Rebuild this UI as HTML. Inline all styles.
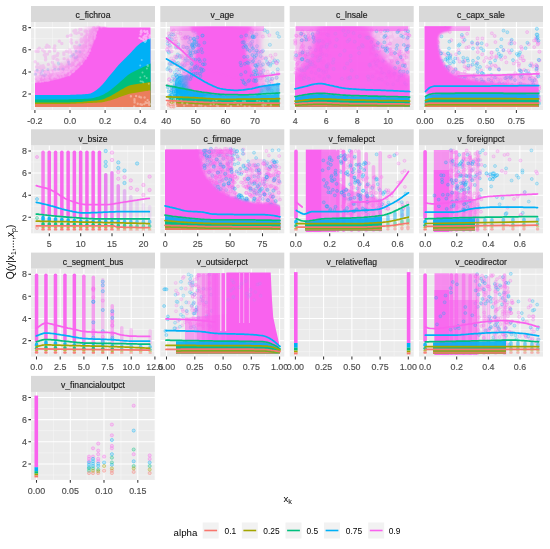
<!DOCTYPE html><html><head><meta charset="utf-8"><style>html,body{margin:0;padding:0;background:#fff;overflow:hidden}svg{display:block}</style></head><body><svg width="550" height="549" viewBox="0 0 550 549">
<style>text{font-family:"Liberation Sans",Arial,sans-serif}.st{font-size:8.6px;fill:#1A1A1A;stroke:#1A1A1A;stroke-width:0.15px;text-anchor:middle}.tx{font-size:8.9px;fill:#4D4D4D;stroke:#4D4D4D;stroke-width:0.15px;text-anchor:middle}.ty{font-size:8.9px;fill:#4D4D4D;stroke:#4D4D4D;stroke-width:0.15px;text-anchor:end}.tt{font-size:9.7px;fill:#000}.lg{font-size:8.4px;fill:#000}</style>
<defs><filter id="f0" x="-5%" y="-5%" width="110%" height="110%"><feGaussianBlur stdDeviation="0.6"/></filter><filter id="f1" x="-20%" y="-20%" width="140%" height="140%"><feGaussianBlur stdDeviation="1"/></filter><filter id="f2" x="-30%" y="-30%" width="160%" height="160%"><feGaussianBlur stdDeviation="2.5"/></filter><filter id="f3" x="-40%" y="-40%" width="180%" height="180%"><feGaussianBlur stdDeviation="4"/></filter></defs>
<rect width="550" height="549" fill="#fff"/>
<clipPath id="c0"><rect x="31" y="22" width="124" height="88"/></clipPath>
<clipPath id="c1"><rect x="160.3" y="22" width="124" height="88"/></clipPath>
<clipPath id="c2"><rect x="289.7" y="22" width="124" height="88"/></clipPath>
<clipPath id="c3"><rect x="419" y="22" width="124" height="88"/></clipPath>
<clipPath id="c4"><rect x="31" y="145.3" width="124" height="88"/></clipPath>
<clipPath id="c5"><rect x="160.3" y="145.3" width="124" height="88"/></clipPath>
<clipPath id="c6"><rect x="289.7" y="145.3" width="124" height="88"/></clipPath>
<clipPath id="c7"><rect x="419" y="145.3" width="124" height="88"/></clipPath>
<clipPath id="c8"><rect x="31" y="268.6" width="124" height="88"/></clipPath>
<clipPath id="c9"><rect x="160.3" y="268.6" width="124" height="88"/></clipPath>
<clipPath id="c10"><rect x="289.7" y="268.6" width="124" height="88"/></clipPath>
<clipPath id="c11"><rect x="419" y="268.6" width="124" height="88"/></clipPath>
<clipPath id="c12"><rect x="31" y="391.9" width="124" height="88"/></clipPath>
<rect x="31" y="22" width="124" height="88" fill="#EBEBEB"/>
<path d="M52.4 22V110M87.5 22V110M122.6 22V110M31 105.1H155M31 82.9H155M31 60.8H155M31 38.7H155" stroke="#F7F7F7" stroke-width="0.55" fill="none"/>
<path d="M34.9 22V110M70 22V110M105.1 22V110M140.2 22V110M31 94H155M31 71.9H155M31 49.7H155M31 27.6H155" stroke="#FFFFFF" stroke-width="1.05" fill="none"/>
<g clip-path="url(#c0)">
<path d="M44.5 71.7h0M85.1 31h0M82.6 46.2h0M87 34.5h0M40.2 72.3h0M38.1 49.4h0M55.1 56.2h0M48.3 76.5h0M47.3 74.1h0M75.7 30.2h0M48.7 46.4h0M71.1 39.7h0M88.2 40h0M77.2 59.4h0M35.4 74.5h0M85.3 36.7h0M47.5 54.1h0M64.1 58.6h0M93.7 27.7h0M71 35.2h0M74.6 46.4h0M85.4 38.6h0M53.8 65h0M69.3 65.1h0M90.5 31h0M66.4 51.3h0M77.3 57.8h0M81.5 34.3h0M68.4 61.7h0M72.9 64.2h0M78.9 32.6h0M45.7 59.3h0M80.9 53.8h0M38.3 67.7h0M49.2 74.5h0M75.4 48.6h0M83.7 39.9h0M56.7 74.7h0M42.4 77.1h0M69.1 52h0M48.6 72.9h0M81.4 41.6h0M77.9 52h0M70.4 52h0M45.5 56.9h0M91.7 31.6h0M47.9 75.7h0M41.1 77.7h0M76.7 60h0M39.3 48.3h0M61.1 64.1h0M65.8 67.1h0M64.5 70.1h0M72.7 63.3h0M44.4 76.7h0M61.8 43.5h0M73.9 31h0M61.1 71.2h0M81.2 52.8h0M52.6 74.1h0M54.8 45.9h0M50.1 77h0M40.2 75.9h0M76.8 48.1h0M57.9 60h0M63.9 54.4h0M47 45.1h0M36.5 67h0M57.9 53.4h0M44.3 51.4h0M35.2 61.7h0M80.7 46.8h0M46.3 73.4h0M64 70.2h0M45.5 54.3h0M70.7 65.3h0M75.7 49.1h0M43.8 67.4h0M73 64.3h0M54.6 50.8h0M72.6 63.7h0M60.6 67.1h0M81 29.5h0M40.7 78.2h0M63.7 71.5h0M45 77.4h0M40.8 66.1h0M41.2 68.4h0M97.8 27h0M84.3 37.9h0M46.1 47.2h0M82.9 47.1h0M92.7 29.5h0M42.5 50h0M53.3 58.4h0M85.7 42.3h0M37.3 78.7h0M67.9 60.1h0M43.1 65.6h0M38.4 71.8h0M68.2 68h0M38.1 51.4h0M36.9 70.5h0M79.8 55.8h0M72.6 63.7h0M99.1 27.5h0M49.5 51.4h0M42.8 75.6h0M54.9 49.5h0M47.5 77.2h0M57.3 55.5h0M75.2 32.7h0M81.3 53.4h0M55.5 74.1h0M52.4 62.2h0M63.8 53h0M36 51.3h0M45.5 59.9h0M89.9 36.3h0M70.3 35.5h0M35.5 71.6h0M62.6 68h0M47.6 76.5h0M52.3 75h0M54.1 48.5h0M36.8 76.9h0M90.7 33.6h0M78 58.3h0M57.9 73.5h0M75.1 58.4h0M85.3 38.4h0M61.2 72.8h0M89.5 37.2h0M67.4 36.3h0M86.4 40.7h0M72.8 54.7h0M81.9 50.5h0M60.8 70.2h0M57.1 55.2h0M75.2 60.5h0M67.4 69.2h0M48.7 77h0M40.2 66.6h0M49.2 46.9h0M56.8 59.5h0M73.7 57.1h0M79.8 29.4h0M80.2 47.4h0M59.3 41.3h0M61.2 72.8h0M69.8 50h0M80.2 54.9h0M86.7 31.3h0M53.1 56.8h0M70.9 41.7h0M37.8 63.9h0M40.9 71.1h0M77.5 46.9h0M69.4 65.2h0M67.9 64.7h0M71.6 43.1h0M79.3 50.7h0M97.8 27.5h0M62.5 66.2h0M81.7 50.8h0M47.9 71.5h0M76.3 52.4h0M48.3 64.4h0M60.3 73.3h0M61.1 72.6h0M76.6 33.3h0M44.3 54.9h0M84.6 46.3h0M65.8 69.6h0M55.1 67h0M60.3 69.1h0M81.2 39.2h0M42.5 68.1h0M85.5 45.9h0M83.6 49.9h0M62.8 67.8h0M36.3 78.7h0M78.6 55.8h0M68.7 68.1h0M75 32.9h0M83.9 45.4h0M53.1 70.8h0M53.9 66.8h0M76.4 42.2h0M81.1 39.6h0M61.8 67h0" stroke="#F962EE" stroke-opacity="0.25" stroke-width="3.4" stroke-linecap="round" fill="none"/><path d="M69.2 64.1h0M35.5 74.2h0M58.5 69.2h0M44.4 75.8h0M37.2 70.2h0M58.7 64.1h0M73.9 54.6h0M70.7 56.3h0M76.1 51.2h0M75.3 57.7h0M79.8 45h0M71.6 56h0M68.6 61.9h0M58.3 62.9h0M47.9 69.5h0M77 56.8h0M42.1 74.3h0M54.9 69.2h0M45.5 74.7h0M41.6 72.5h0M41.4 73.9h0M42.8 70.4h0M62.9 69.1h0M80 52.1h0M75.8 57.8h0" stroke="#00B0F6" stroke-opacity="0.18" stroke-width="3" stroke-linecap="round" fill="none"/><clipPath id="k1"><rect x="35" y="26.5" width="115.5" height="80.5"/></clipPath><g clip-path="url(#k1)"><path d="M38.2 73.1L39.8 72.9L41.2 72.6L42.7 72.3L44.1 72L45.4 71.7L46.8 71.4L48.1 71L49.4 70.7L50.6 70.3L51.9 69.9L53.1 69.5L54.4 69L55.6 68.5L56.9 68L58.1 67.4L59.4 66.8L60.6 66.2L61.8 65.5L63 64.8L64.1 64.1L65.2 63.4L66.2 62.6L67.1 61.8L68.1 60.9L68.9 60.1L69.8 59.2L70.6 58.3L71.5 57.3L72.3 56.4L73.1 55.5L73.9 54.5L74.6 53.5L75.4 52.5L76.1 51.5L76.8 50.5L77.5 49.4L78.2 48.3L78.9 47.3L79.5 46.2L80.2 45.1L80.8 43.9L81.4 42.8L82 41.7L82.6 40.6L83.2 39.4L83.7 38.3L84.2 37.2L84.8 36.1L85.2 34.9L85.7 33.8L86.2 32.8L86.6 31.8L86.9 30.8L87.3 29.8L87.6 28.8L87.9 27.9L88.1 27.1L88.6 26.3L89.2 25.6L90.1 25.1L91.2 24.7L92.4 24.3L93.9 24.1L95.6 24L97.4 24L99.1 25.2L100.5 27.6L101.7 31.1L102.6 35.9L103.3 41.8L103.8 48.9L104 57.2L104 66.8L102.9 75.1L100.7 82.2L97.3 88.1L92.9 92.9L87.4 96.4L80.7 98.8L72.9 100L64.1 100L56.3 99.6L49.6 98.8L44.1 97.6L39.7 95.9L36.3 93.9L34.1 91.5L33 88.6L33 85.4L33.2 82.5L33.6 80L34.1 77.9L34.9 76.1L35.8 74.8L36.9 73.8Z" fill="#F962EE" fill-opacity="0.5" filter="url(#f3)"/></g><clipPath id="k2"><rect x="35" y="26.5" width="115.5" height="80.5"/></clipPath><g clip-path="url(#k2)"><path d="M41 79.1L43 78.9L44.9 78.6L46.8 78.3L48.6 78L50.4 77.7L52.1 77.4L53.7 77L55.2 76.7L56.8 76.3L58.2 75.9L59.6 75.5L61 75L62.3 74.5L63.5 74L64.8 73.4L65.9 72.8L67.1 72.2L68.2 71.5L69.2 70.8L70.2 70.1L71.2 69.4L72.2 68.6L73.2 67.8L74.1 66.9L74.9 66.1L75.8 65.2L76.6 64.3L77.5 63.3L78.3 62.4L79.1 61.5L79.9 60.5L80.6 59.5L81.4 58.5L82.1 57.5L82.8 56.5L83.5 55.4L84.2 54.3L84.9 53.3L85.5 52.2L86.2 51.1L86.8 49.9L87.4 48.8L88 47.6L88.6 46.5L89.2 45.3L89.7 44.1L90.2 42.9L90.8 41.6L91.2 40.4L91.7 39.1L92.2 37.8L92.6 36.4L92.9 35.1L93.3 33.7L93.6 32.2L93.9 30.8L94.1 29.2L94.6 27.9L95.2 26.8L96.1 25.9L97.2 25.1L98.4 24.6L99.9 24.2L101.6 24L103.4 24L105.1 25.2L106.5 27.6L107.7 31.1L108.6 35.9L109.3 41.8L109.8 48.9L110 57.2L110 66.8L108.8 75.1L106.4 82.2L102.9 88.1L98.1 92.9L92.2 96.4L85.1 98.8L76.8 100L67.2 100L58.9 99.7L51.8 99.1L45.9 98.1L41.1 96.9L37.6 95.3L35.2 93.4L34 91.2L34 88.8L34.2 86.5L34.8 84.6L35.5 82.9L36.5 81.6L37.8 80.5L39.2 79.7Z" fill="#F962EE" fill-opacity="0.5" filter="url(#f1)"/></g><path d="M35 83L36.5 82.8L38 82.6L39.5 82.4L41 82.2L42.5 82L44 81.8L45.5 81.6L47 81.4L48.5 81.2L50 81L51.5 80.7L53 80.4L54.5 80.1L56 79.8L57.5 79.5L59 79.2L60.5 78.8L62 78.3L63.5 77.8L65 77.2L66.5 76.7L68 76.2L69.5 75.7L71 74.7L72.5 73.5L74 72.2L75.5 71L77 69.8L78.5 68.4L80 66.7L81.5 64.9L83 63.2L84.5 61.2L86 58.8L87.5 56.4L89 54L90.5 50.6L92 47.2L93.5 43.5L95 39L96.5 34.3L98 29.2L99.5 27.5L101 27.5L102.5 27.5L104 27.5L105.5 27.5L107 27.5L108.5 27.5L110 27.5L111.5 27.5L113 27.5L114.5 27.5L116 27.5L117.5 27.5L119 27.5L120.5 27.5L122 27.5L123.5 27.5L125 27.5L126.5 27.5L128 27.5L129.5 27.5L131 27.5L132.5 27.5L134 27.5L135.5 27.5L137 27.5L138.5 27.5L140 27.5L141.5 27.5L143 27.5L144.5 27.5L146 27.5L147.5 27.5L149 27.5L150.5 27.5L150.5 107L149 107L147.5 107L146 107L144.5 107L143 107L141.5 107L140 107L138.5 107L137 107L135.5 107L134 107L132.5 107L131 107L129.5 107L128 107L126.5 107L125 107L123.5 107L122 107L120.5 107L119 107L117.5 107L116 107L114.5 107L113 107L111.5 107L110 107L108.5 107L107 107L105.5 107L104 107L102.5 107L101 107L99.5 107L98 107L96.5 107L95 107L93.5 107L92 107L90.5 107L89 107L87.5 107L86 107L84.5 107L83 107L81.5 107L80 107L78.5 107L77 107L75.5 107L74 107L72.5 107L71 107L69.5 107L68 107L66.5 107L65 107L63.5 107L62 107L60.5 107L59 107L57.5 107L56 107L54.5 107L53 107L51.5 107L50 107L48.5 107L47 107L45.5 107L44 107L42.5 107L41 107L39.5 107L38 107L36.5 107L35 107Z" fill="#F962EE"/><path d="M73.7 67.2h0M74.9 68.5h0M89.6 47.1h0M73.7 68.2h0M54.5 76.4h0M85.7 52.9h0M103.7 20.9h0M103.4 24.5h0M54.1 71.2h0M64.4 72.2h0M94.9 38h0M43.2 77.7h0M48.8 80.6h0M84.1 56.8h0M66.4 71h0M56.1 76.2h0M58.1 73.6h0M66.6 71.5h0M72.9 68h0M38.1 75.6h0M97.7 29.6h0M86.2 53.3h0M86.1 58.5h0M37.4 77.8h0M73.2 71.9h0M88.6 53.8h0M96.6 26.9h0M84.9 52.8h0M55.1 74.5h0M36.5 76h0M47.5 80.9h0M87.5 55.9h0M79.4 58.7h0M72.3 68.7h0M87.5 49.8h0M69.5 75.2h0M102.9 20.9h0M68 70.2h0M52.3 78.4h0M37.7 79.1h0M74 71.3h0M47.8 77.8h0M35 75.7h0M46.1 73.4h0M74.3 69.2h0M39.9 76.7h0M39.1 79.5h0M103.9 20h0M84 56.8h0M77.7 62.5h0M95.5 36.7h0M96.8 24.5h0M75.2 68.3h0M38.6 79.4h0M37.5 76.6h0M76 64h0M95 36.2h0M86.7 51h0M73.5 72.1h0M94.7 35h0M67.1 68.8h0M43 81.6h0M80.9 59.2h0M71.5 69.2h0M88.3 47.8h0M79.7 60.4h0M70.1 73.9h0M90.2 50.9h0M46.6 76.3h0M60.4 70.9h0M55.7 75.4h0M48 73.7h0M59.9 72.6h0M85.8 55.1h0M42.9 73.3h0M37.5 75.2h0M45.9 77.7h0M65.6 73.2h0M75.6 64.8h0M81.8 64h0M60.6 77.1h0M101.8 22.6h0M103.3 25.6h0M82.3 59.3h0M57.8 77.7h0M76.7 62h0M69.1 71.2h0M100.2 25.2h0M59.3 71.2h0M40.5 81.9h0M80.8 61.4h0M97.6 25.6h0M54.2 74.2h0M65.7 71.4h0M48.6 80.6h0M97.8 22.4h0M45.4 80.7h0M92.1 40.6h0M66 69.3h0M91.4 41.2h0M98.1 21.7h0M35.1 77.2h0M41.5 74.1h0M91.8 42.2h0M65.2 71h0M55.5 73.7h0M101.4 27.2h0M61.9 71.1h0M47.4 78.2h0M91.4 43.5h0M53.1 76.8h0M60.2 74.4h0M103.5 25.3h0M57.3 71.5h0M68.6 70.2h0M94.9 38.5h0M47.2 80.1h0M47.2 80.8h0M51.3 72.5h0M97.1 26.2h0M70.6 68.3h0M101 25h0M85.4 58.6h0M61.3 73.8h0M78.3 66.8h0M63.4 76.3h0M60 71.8h0M51.6 77.7h0M76.5 68.5h0M95.8 33.5h0M55.8 77h0M66.3 72.7h0M62.9 74.2h0M48.4 80.6h0M94.7 32.4h0M86.3 53.9h0M101.5 26.3h0M38.5 74.2h0M72.5 68.6h0M70.6 68.5h0" stroke="#ffffff" stroke-opacity="0.18" stroke-width="2.4" stroke-linecap="round" fill="none"/><path d="M35 95L36.5 95L38 95L39.5 95L41 95L42.5 95L44 95L45.5 95L47 95L48.5 95L50 95L51.5 95L53 95L54.5 95L56 95L57.5 95L59 95L60.5 95L62 95L63.5 95L65 95L66.5 94.9L68 94.9L69.5 94.9L71 94.8L72.5 94.8L74 94.7L75.5 94.7L77 94.6L78.5 94.6L80 94.5L81.5 94.4L83 94.3L84.5 94.2L86 94.1L87.5 93.9L89 93.7L90.5 93.4L92 92.8L93.5 92.1L95 91.1L96.5 89.9L98 88.7L99.5 87.4L101 86.1L102.5 84.5L104 82.8L105.5 80.9L107 79L108.5 77.1L110 75.3L111.5 73.5L113 71.7L114.5 69.9L116 68.1L117.5 66.3L119 64.6L120.5 63L122 61.4L123.5 59.9L125 58.4L126.5 56.9L128 55.5L129.5 54L131 52.5L132.5 50.8L134 49.2L135.5 47.6L137 46.1L138.5 44.7L140 43.5L141.5 42.5L143 41.7L144.5 40.9L146 40.2L147.5 39.5L149 38.8L150.5 38L150.5 107L149 107L147.5 107L146 107L144.5 107L143 107L141.5 107L140 107L138.5 107L137 107L135.5 107L134 107L132.5 107L131 107L129.5 107L128 107L126.5 107L125 107L123.5 107L122 107L120.5 107L119 107L117.5 107L116 107L114.5 107L113 107L111.5 107L110 107L108.5 107L107 107L105.5 107L104 107L102.5 107L101 107L99.5 107L98 107L96.5 107L95 107L93.5 107L92 107L90.5 107L89 107L87.5 107L86 107L84.5 107L83 107L81.5 107L80 107L78.5 107L77 107L75.5 107L74 107L72.5 107L71 107L69.5 107L68 107L66.5 107L65 107L63.5 107L62 107L60.5 107L59 107L57.5 107L56 107L54.5 107L53 107L51.5 107L50 107L48.5 107L47 107L45.5 107L44 107L42.5 107L41 107L39.5 107L38 107L36.5 107L35 107Z" fill="#00B0F6"/><path d="M35 99.6L36.5 99.6L38 99.6L39.5 99.6L41 99.6L42.5 99.6L44 99.6L45.5 99.6L47 99.6L48.5 99.6L50 99.6L51.5 99.5L53 99.5L54.5 99.5L56 99.5L57.5 99.5L59 99.5L60.5 99.5L62 99.5L63.5 99.5L65 99.4L66.5 99.4L68 99.4L69.5 99.3L71 99.3L72.5 99.2L74 99.2L75.5 99.2L77 99.1L78.5 99.1L80 99L81.5 98.9L83 98.9L84.5 98.8L86 98.8L87.5 98.7L89 98.6L90.5 98.4L92 98.2L93.5 97.9L95 97.6L96.5 97.1L98 96.7L99.5 96.2L101 95.6L102.5 94.9L104 94.2L105.5 93.3L107 92.4L108.5 91.4L110 90.4L111.5 89.3L113 88.1L114.5 86.8L116 85.5L117.5 84.2L119 82.9L120.5 81.6L122 80.2L123.5 78.9L125 77.5L126.5 76.2L128 75L129.5 73.9L131 73L132.5 72.2L134 71.4L135.5 70.7L137 70L138.5 69.3L140 68.6L141.5 67.9L143 67.1L144.5 66.4L146 65.7L147.5 65L149 64.2L150.5 63.5L150.5 107L149 107L147.5 107L146 107L144.5 107L143 107L141.5 107L140 107L138.5 107L137 107L135.5 107L134 107L132.5 107L131 107L129.5 107L128 107L126.5 107L125 107L123.5 107L122 107L120.5 107L119 107L117.5 107L116 107L114.5 107L113 107L111.5 107L110 107L108.5 107L107 107L105.5 107L104 107L102.5 107L101 107L99.5 107L98 107L96.5 107L95 107L93.5 107L92 107L90.5 107L89 107L87.5 107L86 107L84.5 107L83 107L81.5 107L80 107L78.5 107L77 107L75.5 107L74 107L72.5 107L71 107L69.5 107L68 107L66.5 107L65 107L63.5 107L62 107L60.5 107L59 107L57.5 107L56 107L54.5 107L53 107L51.5 107L50 107L48.5 107L47 107L45.5 107L44 107L42.5 107L41 107L39.5 107L38 107L36.5 107L35 107Z" fill="#00BF7D"/><path d="M35 102.5L36.5 102.5L38 102.5L39.5 102.5L41 102.5L42.5 102.5L44 102.5L45.5 102.5L47 102.5L48.5 102.5L50 102.5L51.5 102.5L53 102.5L54.5 102.5L56 102.5L57.5 102.5L59 102.5L60.5 102.5L62 102.5L63.5 102.5L65 102.5L66.5 102.4L68 102.4L69.5 102.4L71 102.3L72.5 102.3L74 102.2L75.5 102.2L77 102.1L78.5 102.1L80 102L81.5 101.9L83 101.8L84.5 101.6L86 101.5L87.5 101.3L89 101.1L90.5 101L92 100.8L93.5 100.7L95 100.6L96.5 100.4L98 100.3L99.5 100.1L101 99.8L102.5 99.4L104 98.9L105.5 98.3L107 97.6L108.5 96.9L110 96.2L111.5 95.4L113 94.6L114.5 93.7L116 92.8L117.5 91.9L119 91L120.5 90.1L122 89.3L123.5 88.4L125 87.5L126.5 86.7L128 86L129.5 85.5L131 85.1L132.5 84.8L134 84.5L135.5 84.3L137 84L138.5 83.8L140 83.6L141.5 83.4L143 83.1L144.5 82.9L146 82.7L147.5 82.5L149 82.2L150.5 82L150.5 107L149 107L147.5 107L146 107L144.5 107L143 107L141.5 107L140 107L138.5 107L137 107L135.5 107L134 107L132.5 107L131 107L129.5 107L128 107L126.5 107L125 107L123.5 107L122 107L120.5 107L119 107L117.5 107L116 107L114.5 107L113 107L111.5 107L110 107L108.5 107L107 107L105.5 107L104 107L102.5 107L101 107L99.5 107L98 107L96.5 107L95 107L93.5 107L92 107L90.5 107L89 107L87.5 107L86 107L84.5 107L83 107L81.5 107L80 107L78.5 107L77 107L75.5 107L74 107L72.5 107L71 107L69.5 107L68 107L66.5 107L65 107L63.5 107L62 107L60.5 107L59 107L57.5 107L56 107L54.5 107L53 107L51.5 107L50 107L48.5 107L47 107L45.5 107L44 107L42.5 107L41 107L39.5 107L38 107L36.5 107L35 107Z" fill="#A3A500"/><path d="M35 104L36.5 104L38 104L39.5 104L41 104L42.5 104L44 104L45.5 104L47 104L48.5 104L50 104L51.5 104L53 104L54.5 104L56 104L57.5 104L59 104L60.5 104L62 104L63.5 104L65 104L66.5 103.9L68 103.9L69.5 103.9L71 103.8L72.5 103.8L74 103.7L75.5 103.7L77 103.6L78.5 103.6L80 103.5L81.5 103.4L83 103.4L84.5 103.3L86 103.2L87.5 103.1L89 103.1L90.5 103L92 102.9L93.5 102.8L95 102.8L96.5 102.7L98 102.6L99.5 102.5L101 102.4L102.5 102.2L104 101.9L105.5 101.6L107 101.2L108.5 100.8L110 100.4L111.5 100L113 99.5L114.5 99L116 98.4L117.5 97.9L119 97.3L120.5 96.8L122 96.3L123.5 95.8L125 95.2L126.5 94.7L128 94.2L129.5 93.8L131 93.5L132.5 93.2L134 92.9L135.5 92.7L137 92.5L138.5 92.2L140 92L141.5 91.8L143 91.5L144.5 91.3L146 91.1L147.5 90.9L149 90.6L150.5 90.4L150.5 107L149 107L147.5 107L146 107L144.5 107L143 107L141.5 107L140 107L138.5 107L137 107L135.5 107L134 107L132.5 107L131 107L129.5 107L128 107L126.5 107L125 107L123.5 107L122 107L120.5 107L119 107L117.5 107L116 107L114.5 107L113 107L111.5 107L110 107L108.5 107L107 107L105.5 107L104 107L102.5 107L101 107L99.5 107L98 107L96.5 107L95 107L93.5 107L92 107L90.5 107L89 107L87.5 107L86 107L84.5 107L83 107L81.5 107L80 107L78.5 107L77 107L75.5 107L74 107L72.5 107L71 107L69.5 107L68 107L66.5 107L65 107L63.5 107L62 107L60.5 107L59 107L57.5 107L56 107L54.5 107L53 107L51.5 107L50 107L48.5 107L47 107L45.5 107L44 107L42.5 107L41 107L39.5 107L38 107L36.5 107L35 107Z" fill="#F8766D" fill-opacity="0.85"/><path d="M146 39.4h0M144.2 40.9h0M146 40.6h0M147.3 31.5h0M143.3 39.7h0M146.6 35.5h0M145.1 41.7h0M140.6 34.4h0M141.6 32.3h0M145.2 37.7h0M149.8 35.4h0M140.8 31.7h0M145.2 31.9h0M139.6 37.9h0M147.7 33.4h0M141.3 30.8h0M149.6 38.2h0M144.3 31h0M149.4 36.3h0M146.5 38.2h0M144.7 35.6h0M147.2 31.1h0M141.3 38.9h0M143.5 37.2h0M144.8 31.5h0" stroke="#ffffff" stroke-opacity="0.45" stroke-width="2.4" stroke-linecap="round" fill="none"/><path d="M141.7 60.1h0M146.7 78h0M140.2 65.4h0M143.3 82.2h0M147.4 65.2h0M144.6 76.3h0M147.9 65.2h0M142.1 81.5h0M146.9 68.5h0M142.5 72.5h0M140.3 77.5h0M147.9 66h0M148.8 83.7h0M140.5 81.2h0" stroke="#ffffff" stroke-opacity="0.35" stroke-width="2" stroke-linecap="round" fill="none"/><path d="M145.6 102.1h0M134.5 100.8h0M149 102.3h0M149.2 104.8h0M142 104.8h0M139.4 96.7h0M141 97.4h0M136.1 96h0M140.5 104.3h0M150 104.1h0M144.3 104.1h0M134.6 102.4h0M148.2 102.9h0M137.7 103.8h0M147.6 100.1h0M134.5 99.2h0M144.6 97.5h0M134.2 106.5h0M130.9 96.2h0M146.1 102.9h0" stroke="#ffffff" stroke-opacity="0.35" stroke-width="2.4" stroke-linecap="round" fill="none"/>
</g>
<rect x="31" y="6" width="124" height="16" fill="#D9D9D9"/>
<text x="93" y="18.3" class="st">c_fichroa</text>
<text x="34.9" y="123.6" class="tx">-0.2</text>
<text x="70" y="123.6" class="tx">0.0</text>
<text x="105.1" y="123.6" class="tx">0.2</text>
<text x="140.2" y="123.6" class="tx">0.4</text>
<text x="27" y="97.2" class="ty">2</text>
<text x="27" y="75.1" class="ty">4</text>
<text x="27" y="52.9" class="ty">6</text>
<text x="27" y="30.8" class="ty">8</text>
<path d="M34.9 110v2.9M70 110v2.9M105.1 110v2.9M140.2 110v2.9M28.4 94h2.6M28.4 71.9h2.6M28.4 49.7h2.6M28.4 27.6h2.6" stroke="#333333" stroke-width="1.05" fill="none"/>
<rect x="160.3" y="22" width="124" height="88" fill="#EBEBEB"/>
<path d="M181 22V110M210.6 22V110M240.2 22V110M269.8 22V110M160.3 105.1H284.3M160.3 82.9H284.3M160.3 60.8H284.3M160.3 38.7H284.3" stroke="#F7F7F7" stroke-width="0.55" fill="none"/>
<path d="M166.2 22V110M195.8 22V110M225.4 22V110M255 22V110M160.3 94H284.3M160.3 71.9H284.3M160.3 49.7H284.3M160.3 27.6H284.3" stroke="#FFFFFF" stroke-width="1.05" fill="none"/>
<g clip-path="url(#c1)">
<path d="M187.5 42.1a1.6 1.6 0 1 0 3.2 0a1.6 1.6 0 1 0 -3.2 0M200.5 59a1.6 1.6 0 1 0 3.2 0a1.6 1.6 0 1 0 -3.2 0M191.7 43.2a1.6 1.6 0 1 0 3.2 0a1.6 1.6 0 1 0 -3.2 0M169.6 81.1a1.6 1.6 0 1 0 3.2 0a1.6 1.6 0 1 0 -3.2 0M192.2 30.6a1.6 1.6 0 1 0 3.2 0a1.6 1.6 0 1 0 -3.2 0M167.9 39.3a1.6 1.6 0 1 0 3.2 0a1.6 1.6 0 1 0 -3.2 0M193.1 52.5a1.6 1.6 0 1 0 3.2 0a1.6 1.6 0 1 0 -3.2 0M183.5 60.9a1.6 1.6 0 1 0 3.2 0a1.6 1.6 0 1 0 -3.2 0M177.2 83.9a1.6 1.6 0 1 0 3.2 0a1.6 1.6 0 1 0 -3.2 0M166.6 51.4a1.6 1.6 0 1 0 3.2 0a1.6 1.6 0 1 0 -3.2 0M192.2 78a1.6 1.6 0 1 0 3.2 0a1.6 1.6 0 1 0 -3.2 0M195.5 75.8a1.6 1.6 0 1 0 3.2 0a1.6 1.6 0 1 0 -3.2 0M168 64a1.6 1.6 0 1 0 3.2 0a1.6 1.6 0 1 0 -3.2 0M196.7 35.6a1.6 1.6 0 1 0 3.2 0a1.6 1.6 0 1 0 -3.2 0M169 70.5a1.6 1.6 0 1 0 3.2 0a1.6 1.6 0 1 0 -3.2 0M165.9 69.2a1.6 1.6 0 1 0 3.2 0a1.6 1.6 0 1 0 -3.2 0M182.8 65.3a1.6 1.6 0 1 0 3.2 0a1.6 1.6 0 1 0 -3.2 0M174.5 46.9a1.6 1.6 0 1 0 3.2 0a1.6 1.6 0 1 0 -3.2 0M201 47.9a1.6 1.6 0 1 0 3.2 0a1.6 1.6 0 1 0 -3.2 0M182.4 71.2a1.6 1.6 0 1 0 3.2 0a1.6 1.6 0 1 0 -3.2 0M191.5 52.6a1.6 1.6 0 1 0 3.2 0a1.6 1.6 0 1 0 -3.2 0M177.5 71.9a1.6 1.6 0 1 0 3.2 0a1.6 1.6 0 1 0 -3.2 0M190.7 46.7a1.6 1.6 0 1 0 3.2 0a1.6 1.6 0 1 0 -3.2 0M188.8 38.9a1.6 1.6 0 1 0 3.2 0a1.6 1.6 0 1 0 -3.2 0M198 33.8a1.6 1.6 0 1 0 3.2 0a1.6 1.6 0 1 0 -3.2 0M175.5 69.6a1.6 1.6 0 1 0 3.2 0a1.6 1.6 0 1 0 -3.2 0M193.1 39.1a1.6 1.6 0 1 0 3.2 0a1.6 1.6 0 1 0 -3.2 0M193.1 66.4a1.6 1.6 0 1 0 3.2 0a1.6 1.6 0 1 0 -3.2 0M172.6 62a1.6 1.6 0 1 0 3.2 0a1.6 1.6 0 1 0 -3.2 0M200.8 86a1.6 1.6 0 1 0 3.2 0a1.6 1.6 0 1 0 -3.2 0M167 67.9a1.6 1.6 0 1 0 3.2 0a1.6 1.6 0 1 0 -3.2 0M203.1 67.4a1.6 1.6 0 1 0 3.2 0a1.6 1.6 0 1 0 -3.2 0M176.4 62.9a1.6 1.6 0 1 0 3.2 0a1.6 1.6 0 1 0 -3.2 0M176.7 44.6a1.6 1.6 0 1 0 3.2 0a1.6 1.6 0 1 0 -3.2 0M197.8 87a1.6 1.6 0 1 0 3.2 0a1.6 1.6 0 1 0 -3.2 0M182.1 87.4a1.6 1.6 0 1 0 3.2 0a1.6 1.6 0 1 0 -3.2 0M187.9 71.1a1.6 1.6 0 1 0 3.2 0a1.6 1.6 0 1 0 -3.2 0M191.3 52.9a1.6 1.6 0 1 0 3.2 0a1.6 1.6 0 1 0 -3.2 0M201.1 68.3a1.6 1.6 0 1 0 3.2 0a1.6 1.6 0 1 0 -3.2 0M197.7 33.4a1.6 1.6 0 1 0 3.2 0a1.6 1.6 0 1 0 -3.2 0M197.9 32.8a1.6 1.6 0 1 0 3.2 0a1.6 1.6 0 1 0 -3.2 0M170.2 91.1a1.6 1.6 0 1 0 3.2 0a1.6 1.6 0 1 0 -3.2 0M200.2 41.6a1.6 1.6 0 1 0 3.2 0a1.6 1.6 0 1 0 -3.2 0M202.3 75.2a1.6 1.6 0 1 0 3.2 0a1.6 1.6 0 1 0 -3.2 0M176.2 54.6a1.6 1.6 0 1 0 3.2 0a1.6 1.6 0 1 0 -3.2 0M185 60.3a1.6 1.6 0 1 0 3.2 0a1.6 1.6 0 1 0 -3.2 0M191.9 47.7a1.6 1.6 0 1 0 3.2 0a1.6 1.6 0 1 0 -3.2 0M189.1 38.5a1.6 1.6 0 1 0 3.2 0a1.6 1.6 0 1 0 -3.2 0M167.8 36.3a1.6 1.6 0 1 0 3.2 0a1.6 1.6 0 1 0 -3.2 0M169.1 63.6a1.6 1.6 0 1 0 3.2 0a1.6 1.6 0 1 0 -3.2 0M182.6 80.5a1.6 1.6 0 1 0 3.2 0a1.6 1.6 0 1 0 -3.2 0M171.7 34.7a1.6 1.6 0 1 0 3.2 0a1.6 1.6 0 1 0 -3.2 0M198.3 82.9a1.6 1.6 0 1 0 3.2 0a1.6 1.6 0 1 0 -3.2 0M184.8 89.4a1.6 1.6 0 1 0 3.2 0a1.6 1.6 0 1 0 -3.2 0M186.8 47.8a1.6 1.6 0 1 0 3.2 0a1.6 1.6 0 1 0 -3.2 0M198.8 90.8a1.6 1.6 0 1 0 3.2 0a1.6 1.6 0 1 0 -3.2 0M195.5 40.6a1.6 1.6 0 1 0 3.2 0a1.6 1.6 0 1 0 -3.2 0M168.2 45.6a1.6 1.6 0 1 0 3.2 0a1.6 1.6 0 1 0 -3.2 0M198.2 49.9a1.6 1.6 0 1 0 3.2 0a1.6 1.6 0 1 0 -3.2 0M187.5 51.7a1.6 1.6 0 1 0 3.2 0a1.6 1.6 0 1 0 -3.2 0M191.8 49.8a1.6 1.6 0 1 0 3.2 0a1.6 1.6 0 1 0 -3.2 0M176.6 47.7a1.6 1.6 0 1 0 3.2 0a1.6 1.6 0 1 0 -3.2 0M202.5 39.8a1.6 1.6 0 1 0 3.2 0a1.6 1.6 0 1 0 -3.2 0M182 85a1.6 1.6 0 1 0 3.2 0a1.6 1.6 0 1 0 -3.2 0M174.9 57.6a1.6 1.6 0 1 0 3.2 0a1.6 1.6 0 1 0 -3.2 0M191.3 84.1a1.6 1.6 0 1 0 3.2 0a1.6 1.6 0 1 0 -3.2 0M188 55.2a1.6 1.6 0 1 0 3.2 0a1.6 1.6 0 1 0 -3.2 0M188.8 68.1a1.6 1.6 0 1 0 3.2 0a1.6 1.6 0 1 0 -3.2 0M173.2 85.5a1.6 1.6 0 1 0 3.2 0a1.6 1.6 0 1 0 -3.2 0M167.4 52.6a1.6 1.6 0 1 0 3.2 0a1.6 1.6 0 1 0 -3.2 0M173 83.9a1.6 1.6 0 1 0 3.2 0a1.6 1.6 0 1 0 -3.2 0M189.7 60.2a1.6 1.6 0 1 0 3.2 0a1.6 1.6 0 1 0 -3.2 0M179.3 65.4a1.6 1.6 0 1 0 3.2 0a1.6 1.6 0 1 0 -3.2 0M197.4 42.6a1.6 1.6 0 1 0 3.2 0a1.6 1.6 0 1 0 -3.2 0M185 47.7a1.6 1.6 0 1 0 3.2 0a1.6 1.6 0 1 0 -3.2 0M171.9 90.4a1.6 1.6 0 1 0 3.2 0a1.6 1.6 0 1 0 -3.2 0M166.1 43.7a1.6 1.6 0 1 0 3.2 0a1.6 1.6 0 1 0 -3.2 0M185.5 47.8a1.6 1.6 0 1 0 3.2 0a1.6 1.6 0 1 0 -3.2 0M196.7 53.7a1.6 1.6 0 1 0 3.2 0a1.6 1.6 0 1 0 -3.2 0M178.2 55.8a1.6 1.6 0 1 0 3.2 0a1.6 1.6 0 1 0 -3.2 0M175.2 63.9a1.6 1.6 0 1 0 3.2 0a1.6 1.6 0 1 0 -3.2 0M193.9 80.6a1.6 1.6 0 1 0 3.2 0a1.6 1.6 0 1 0 -3.2 0M183 85.1a1.6 1.6 0 1 0 3.2 0a1.6 1.6 0 1 0 -3.2 0M178.2 90.8a1.6 1.6 0 1 0 3.2 0a1.6 1.6 0 1 0 -3.2 0M171.4 76.6a1.6 1.6 0 1 0 3.2 0a1.6 1.6 0 1 0 -3.2 0M166.6 40.5a1.6 1.6 0 1 0 3.2 0a1.6 1.6 0 1 0 -3.2 0M192.9 87.7a1.6 1.6 0 1 0 3.2 0a1.6 1.6 0 1 0 -3.2 0M196.6 68a1.6 1.6 0 1 0 3.2 0a1.6 1.6 0 1 0 -3.2 0M190.8 82.8a1.6 1.6 0 1 0 3.2 0a1.6 1.6 0 1 0 -3.2 0M200.2 74.9a1.6 1.6 0 1 0 3.2 0a1.6 1.6 0 1 0 -3.2 0M183.7 37.6a1.6 1.6 0 1 0 3.2 0a1.6 1.6 0 1 0 -3.2 0M186.6 37a1.6 1.6 0 1 0 3.2 0a1.6 1.6 0 1 0 -3.2 0M198.4 82.8a1.6 1.6 0 1 0 3.2 0a1.6 1.6 0 1 0 -3.2 0M195.2 83.3a1.6 1.6 0 1 0 3.2 0a1.6 1.6 0 1 0 -3.2 0M188.2 79.5a1.6 1.6 0 1 0 3.2 0a1.6 1.6 0 1 0 -3.2 0M170 34.2a1.6 1.6 0 1 0 3.2 0a1.6 1.6 0 1 0 -3.2 0M202.3 74.4a1.6 1.6 0 1 0 3.2 0a1.6 1.6 0 1 0 -3.2 0M182 46.9a1.6 1.6 0 1 0 3.2 0a1.6 1.6 0 1 0 -3.2 0M178.4 57.3a1.6 1.6 0 1 0 3.2 0a1.6 1.6 0 1 0 -3.2 0M189.2 56.4a1.6 1.6 0 1 0 3.2 0a1.6 1.6 0 1 0 -3.2 0M190.6 63.9a1.6 1.6 0 1 0 3.2 0a1.6 1.6 0 1 0 -3.2 0M173.2 72.5a1.6 1.6 0 1 0 3.2 0a1.6 1.6 0 1 0 -3.2 0M180.9 66.9a1.6 1.6 0 1 0 3.2 0a1.6 1.6 0 1 0 -3.2 0M187.8 60.6a1.6 1.6 0 1 0 3.2 0a1.6 1.6 0 1 0 -3.2 0M194.6 32.2a1.6 1.6 0 1 0 3.2 0a1.6 1.6 0 1 0 -3.2 0M192.4 45.5a1.6 1.6 0 1 0 3.2 0a1.6 1.6 0 1 0 -3.2 0M190.7 63.3a1.6 1.6 0 1 0 3.2 0a1.6 1.6 0 1 0 -3.2 0M191.4 78.4a1.6 1.6 0 1 0 3.2 0a1.6 1.6 0 1 0 -3.2 0M170.5 64.2a1.6 1.6 0 1 0 3.2 0a1.6 1.6 0 1 0 -3.2 0M184 58.8a1.6 1.6 0 1 0 3.2 0a1.6 1.6 0 1 0 -3.2 0M187.4 55.3a1.6 1.6 0 1 0 3.2 0a1.6 1.6 0 1 0 -3.2 0M201.6 40.9a1.6 1.6 0 1 0 3.2 0a1.6 1.6 0 1 0 -3.2 0M191 45.2a1.6 1.6 0 1 0 3.2 0a1.6 1.6 0 1 0 -3.2 0M198.3 61.5a1.6 1.6 0 1 0 3.2 0a1.6 1.6 0 1 0 -3.2 0M201.3 52.9a1.6 1.6 0 1 0 3.2 0a1.6 1.6 0 1 0 -3.2 0M187.4 74.5a1.6 1.6 0 1 0 3.2 0a1.6 1.6 0 1 0 -3.2 0M170.4 87a1.6 1.6 0 1 0 3.2 0a1.6 1.6 0 1 0 -3.2 0M170 39.4a1.6 1.6 0 1 0 3.2 0a1.6 1.6 0 1 0 -3.2 0M186.7 87.5a1.6 1.6 0 1 0 3.2 0a1.6 1.6 0 1 0 -3.2 0M186.3 56a1.6 1.6 0 1 0 3.2 0a1.6 1.6 0 1 0 -3.2 0M179.6 68.3a1.6 1.6 0 1 0 3.2 0a1.6 1.6 0 1 0 -3.2 0M236.9 52.7a1.6 1.6 0 1 0 3.2 0a1.6 1.6 0 1 0 -3.2 0M248.1 61.5a1.6 1.6 0 1 0 3.2 0a1.6 1.6 0 1 0 -3.2 0M242.9 30.5a1.6 1.6 0 1 0 3.2 0a1.6 1.6 0 1 0 -3.2 0M236.9 69.1a1.6 1.6 0 1 0 3.2 0a1.6 1.6 0 1 0 -3.2 0M245.2 66.5a1.6 1.6 0 1 0 3.2 0a1.6 1.6 0 1 0 -3.2 0M270.1 90.8a1.6 1.6 0 1 0 3.2 0a1.6 1.6 0 1 0 -3.2 0M255 72.9a1.6 1.6 0 1 0 3.2 0a1.6 1.6 0 1 0 -3.2 0M276.2 61.1a1.6 1.6 0 1 0 3.2 0a1.6 1.6 0 1 0 -3.2 0M254 52.8a1.6 1.6 0 1 0 3.2 0a1.6 1.6 0 1 0 -3.2 0M247.2 81.9a1.6 1.6 0 1 0 3.2 0a1.6 1.6 0 1 0 -3.2 0M255.3 46.2a1.6 1.6 0 1 0 3.2 0a1.6 1.6 0 1 0 -3.2 0M234.8 52.8a1.6 1.6 0 1 0 3.2 0a1.6 1.6 0 1 0 -3.2 0M261.3 50.8a1.6 1.6 0 1 0 3.2 0a1.6 1.6 0 1 0 -3.2 0M235.6 44.1a1.6 1.6 0 1 0 3.2 0a1.6 1.6 0 1 0 -3.2 0M249 43.2a1.6 1.6 0 1 0 3.2 0a1.6 1.6 0 1 0 -3.2 0M273.2 60.5a1.6 1.6 0 1 0 3.2 0a1.6 1.6 0 1 0 -3.2 0M254.9 79.2a1.6 1.6 0 1 0 3.2 0a1.6 1.6 0 1 0 -3.2 0M250.7 62.3a1.6 1.6 0 1 0 3.2 0a1.6 1.6 0 1 0 -3.2 0M241.8 73.3a1.6 1.6 0 1 0 3.2 0a1.6 1.6 0 1 0 -3.2 0M249.9 32.6a1.6 1.6 0 1 0 3.2 0a1.6 1.6 0 1 0 -3.2 0M238.9 54a1.6 1.6 0 1 0 3.2 0a1.6 1.6 0 1 0 -3.2 0M265.9 31.9a1.6 1.6 0 1 0 3.2 0a1.6 1.6 0 1 0 -3.2 0M267.6 83.2a1.6 1.6 0 1 0 3.2 0a1.6 1.6 0 1 0 -3.2 0M258.1 74.5a1.6 1.6 0 1 0 3.2 0a1.6 1.6 0 1 0 -3.2 0M242.2 44.9a1.6 1.6 0 1 0 3.2 0a1.6 1.6 0 1 0 -3.2 0M265.3 76.8a1.6 1.6 0 1 0 3.2 0a1.6 1.6 0 1 0 -3.2 0M276.2 69.3a1.6 1.6 0 1 0 3.2 0a1.6 1.6 0 1 0 -3.2 0M245 47.9a1.6 1.6 0 1 0 3.2 0a1.6 1.6 0 1 0 -3.2 0M277.4 36.7a1.6 1.6 0 1 0 3.2 0a1.6 1.6 0 1 0 -3.2 0M261.8 70.7a1.6 1.6 0 1 0 3.2 0a1.6 1.6 0 1 0 -3.2 0M259.7 51.8a1.6 1.6 0 1 0 3.2 0a1.6 1.6 0 1 0 -3.2 0M261.3 64.4a1.6 1.6 0 1 0 3.2 0a1.6 1.6 0 1 0 -3.2 0M244.2 49.9a1.6 1.6 0 1 0 3.2 0a1.6 1.6 0 1 0 -3.2 0M264.2 58.8a1.6 1.6 0 1 0 3.2 0a1.6 1.6 0 1 0 -3.2 0M250 45.4a1.6 1.6 0 1 0 3.2 0a1.6 1.6 0 1 0 -3.2 0M242.3 62.5a1.6 1.6 0 1 0 3.2 0a1.6 1.6 0 1 0 -3.2 0M275.1 77.6a1.6 1.6 0 1 0 3.2 0a1.6 1.6 0 1 0 -3.2 0M245.4 44.9a1.6 1.6 0 1 0 3.2 0a1.6 1.6 0 1 0 -3.2 0M265.2 80.5a1.6 1.6 0 1 0 3.2 0a1.6 1.6 0 1 0 -3.2 0M257.7 61.8a1.6 1.6 0 1 0 3.2 0a1.6 1.6 0 1 0 -3.2 0M238.4 57.3a1.6 1.6 0 1 0 3.2 0a1.6 1.6 0 1 0 -3.2 0M265.5 62.2a1.6 1.6 0 1 0 3.2 0a1.6 1.6 0 1 0 -3.2 0M249.7 46.7a1.6 1.6 0 1 0 3.2 0a1.6 1.6 0 1 0 -3.2 0M268.2 79.1a1.6 1.6 0 1 0 3.2 0a1.6 1.6 0 1 0 -3.2 0M268.5 65.6a1.6 1.6 0 1 0 3.2 0a1.6 1.6 0 1 0 -3.2 0M253 36.9a1.6 1.6 0 1 0 3.2 0a1.6 1.6 0 1 0 -3.2 0M271.4 73.2a1.6 1.6 0 1 0 3.2 0a1.6 1.6 0 1 0 -3.2 0M259.2 72.6a1.6 1.6 0 1 0 3.2 0a1.6 1.6 0 1 0 -3.2 0M254.7 34.5a1.6 1.6 0 1 0 3.2 0a1.6 1.6 0 1 0 -3.2 0M260.5 74.6a1.6 1.6 0 1 0 3.2 0a1.6 1.6 0 1 0 -3.2 0M263.5 86.5a1.6 1.6 0 1 0 3.2 0a1.6 1.6 0 1 0 -3.2 0M235.4 67.2a1.6 1.6 0 1 0 3.2 0a1.6 1.6 0 1 0 -3.2 0M259.8 90.8a1.6 1.6 0 1 0 3.2 0a1.6 1.6 0 1 0 -3.2 0M251.9 49.9a1.6 1.6 0 1 0 3.2 0a1.6 1.6 0 1 0 -3.2 0M268.8 64a1.6 1.6 0 1 0 3.2 0a1.6 1.6 0 1 0 -3.2 0M234.5 74.9a1.6 1.6 0 1 0 3.2 0a1.6 1.6 0 1 0 -3.2 0M275.8 33.2a1.6 1.6 0 1 0 3.2 0a1.6 1.6 0 1 0 -3.2 0M236 90a1.6 1.6 0 1 0 3.2 0a1.6 1.6 0 1 0 -3.2 0M267 63.9a1.6 1.6 0 1 0 3.2 0a1.6 1.6 0 1 0 -3.2 0M259 56a1.6 1.6 0 1 0 3.2 0a1.6 1.6 0 1 0 -3.2 0M246.9 61.1a1.6 1.6 0 1 0 3.2 0a1.6 1.6 0 1 0 -3.2 0M250.6 41.7a1.6 1.6 0 1 0 3.2 0a1.6 1.6 0 1 0 -3.2 0M268.3 44.8a1.6 1.6 0 1 0 3.2 0a1.6 1.6 0 1 0 -3.2 0M242.2 84.6a1.6 1.6 0 1 0 3.2 0a1.6 1.6 0 1 0 -3.2 0M251.8 84.7a1.6 1.6 0 1 0 3.2 0a1.6 1.6 0 1 0 -3.2 0M248 37.2a1.6 1.6 0 1 0 3.2 0a1.6 1.6 0 1 0 -3.2 0M251.9 91a1.6 1.6 0 1 0 3.2 0a1.6 1.6 0 1 0 -3.2 0M244.9 72.7a1.6 1.6 0 1 0 3.2 0a1.6 1.6 0 1 0 -3.2 0M256.7 52.5a1.6 1.6 0 1 0 3.2 0a1.6 1.6 0 1 0 -3.2 0M259.4 65.5a1.6 1.6 0 1 0 3.2 0a1.6 1.6 0 1 0 -3.2 0M262.9 30.3a1.6 1.6 0 1 0 3.2 0a1.6 1.6 0 1 0 -3.2 0M242.3 68.7a1.6 1.6 0 1 0 3.2 0a1.6 1.6 0 1 0 -3.2 0M271.6 62.4a1.6 1.6 0 1 0 3.2 0a1.6 1.6 0 1 0 -3.2 0M266.2 88.5a1.6 1.6 0 1 0 3.2 0a1.6 1.6 0 1 0 -3.2 0M236.4 77a1.6 1.6 0 1 0 3.2 0a1.6 1.6 0 1 0 -3.2 0M270.7 78.9a1.6 1.6 0 1 0 3.2 0a1.6 1.6 0 1 0 -3.2 0M251.8 78.6a1.6 1.6 0 1 0 3.2 0a1.6 1.6 0 1 0 -3.2 0M253.3 58.3a1.6 1.6 0 1 0 3.2 0a1.6 1.6 0 1 0 -3.2 0M276.1 84.3a1.6 1.6 0 1 0 3.2 0a1.6 1.6 0 1 0 -3.2 0M240.1 53.1a1.6 1.6 0 1 0 3.2 0a1.6 1.6 0 1 0 -3.2 0" fill="#00B0F6" fill-opacity="0.15" stroke="#00B0F6" stroke-opacity="0.29" stroke-width="0.8" filter="url(#f0)"/><path d="M173.6 43.7a1.6 1.6 0 1 0 3.2 0a1.6 1.6 0 1 0 -3.2 0M168.1 42a1.6 1.6 0 1 0 3.2 0a1.6 1.6 0 1 0 -3.2 0M194.7 52.7a1.6 1.6 0 1 0 3.2 0a1.6 1.6 0 1 0 -3.2 0M177.8 69.5a1.6 1.6 0 1 0 3.2 0a1.6 1.6 0 1 0 -3.2 0M173.3 56.7a1.6 1.6 0 1 0 3.2 0a1.6 1.6 0 1 0 -3.2 0M190.7 84.7a1.6 1.6 0 1 0 3.2 0a1.6 1.6 0 1 0 -3.2 0M179.8 56.2a1.6 1.6 0 1 0 3.2 0a1.6 1.6 0 1 0 -3.2 0M190.8 30.4a1.6 1.6 0 1 0 3.2 0a1.6 1.6 0 1 0 -3.2 0M185.7 51.4a1.6 1.6 0 1 0 3.2 0a1.6 1.6 0 1 0 -3.2 0M171.2 32.1a1.6 1.6 0 1 0 3.2 0a1.6 1.6 0 1 0 -3.2 0M191.4 30.4a1.6 1.6 0 1 0 3.2 0a1.6 1.6 0 1 0 -3.2 0M198.7 82a1.6 1.6 0 1 0 3.2 0a1.6 1.6 0 1 0 -3.2 0M195.5 38.7a1.6 1.6 0 1 0 3.2 0a1.6 1.6 0 1 0 -3.2 0M182.4 85.2a1.6 1.6 0 1 0 3.2 0a1.6 1.6 0 1 0 -3.2 0M201.8 84.8a1.6 1.6 0 1 0 3.2 0a1.6 1.6 0 1 0 -3.2 0M178.7 33.6a1.6 1.6 0 1 0 3.2 0a1.6 1.6 0 1 0 -3.2 0M174.9 42.7a1.6 1.6 0 1 0 3.2 0a1.6 1.6 0 1 0 -3.2 0M202.7 85.9a1.6 1.6 0 1 0 3.2 0a1.6 1.6 0 1 0 -3.2 0M186.4 63.2a1.6 1.6 0 1 0 3.2 0a1.6 1.6 0 1 0 -3.2 0M199.4 54.8a1.6 1.6 0 1 0 3.2 0a1.6 1.6 0 1 0 -3.2 0M173.8 34.1a1.6 1.6 0 1 0 3.2 0a1.6 1.6 0 1 0 -3.2 0M170 51.2a1.6 1.6 0 1 0 3.2 0a1.6 1.6 0 1 0 -3.2 0M186.3 37.9a1.6 1.6 0 1 0 3.2 0a1.6 1.6 0 1 0 -3.2 0M174.5 57a1.6 1.6 0 1 0 3.2 0a1.6 1.6 0 1 0 -3.2 0M176.7 32.5a1.6 1.6 0 1 0 3.2 0a1.6 1.6 0 1 0 -3.2 0M203.1 75.9a1.6 1.6 0 1 0 3.2 0a1.6 1.6 0 1 0 -3.2 0M201.5 77.9a1.6 1.6 0 1 0 3.2 0a1.6 1.6 0 1 0 -3.2 0M202.8 87.2a1.6 1.6 0 1 0 3.2 0a1.6 1.6 0 1 0 -3.2 0M181 58a1.6 1.6 0 1 0 3.2 0a1.6 1.6 0 1 0 -3.2 0M202.5 79.5a1.6 1.6 0 1 0 3.2 0a1.6 1.6 0 1 0 -3.2 0M181.3 46.4a1.6 1.6 0 1 0 3.2 0a1.6 1.6 0 1 0 -3.2 0M173.6 79.4a1.6 1.6 0 1 0 3.2 0a1.6 1.6 0 1 0 -3.2 0M174.2 41.9a1.6 1.6 0 1 0 3.2 0a1.6 1.6 0 1 0 -3.2 0M199.6 57.8a1.6 1.6 0 1 0 3.2 0a1.6 1.6 0 1 0 -3.2 0M200.3 61.7a1.6 1.6 0 1 0 3.2 0a1.6 1.6 0 1 0 -3.2 0M187.9 88a1.6 1.6 0 1 0 3.2 0a1.6 1.6 0 1 0 -3.2 0M183.7 38a1.6 1.6 0 1 0 3.2 0a1.6 1.6 0 1 0 -3.2 0M180.7 38.3a1.6 1.6 0 1 0 3.2 0a1.6 1.6 0 1 0 -3.2 0M180.2 64.6a1.6 1.6 0 1 0 3.2 0a1.6 1.6 0 1 0 -3.2 0M201 50.6a1.6 1.6 0 1 0 3.2 0a1.6 1.6 0 1 0 -3.2 0M177 85.7a1.6 1.6 0 1 0 3.2 0a1.6 1.6 0 1 0 -3.2 0M173 39.4a1.6 1.6 0 1 0 3.2 0a1.6 1.6 0 1 0 -3.2 0M194.2 76.9a1.6 1.6 0 1 0 3.2 0a1.6 1.6 0 1 0 -3.2 0M194.9 43.9a1.6 1.6 0 1 0 3.2 0a1.6 1.6 0 1 0 -3.2 0M166.7 85.3a1.6 1.6 0 1 0 3.2 0a1.6 1.6 0 1 0 -3.2 0M168.9 71a1.6 1.6 0 1 0 3.2 0a1.6 1.6 0 1 0 -3.2 0M167.1 33.5a1.6 1.6 0 1 0 3.2 0a1.6 1.6 0 1 0 -3.2 0M195.6 75.1a1.6 1.6 0 1 0 3.2 0a1.6 1.6 0 1 0 -3.2 0M181.4 83.3a1.6 1.6 0 1 0 3.2 0a1.6 1.6 0 1 0 -3.2 0M185.6 74.2a1.6 1.6 0 1 0 3.2 0a1.6 1.6 0 1 0 -3.2 0M174.6 38.5a1.6 1.6 0 1 0 3.2 0a1.6 1.6 0 1 0 -3.2 0M194.4 86.5a1.6 1.6 0 1 0 3.2 0a1.6 1.6 0 1 0 -3.2 0M193.6 66.2a1.6 1.6 0 1 0 3.2 0a1.6 1.6 0 1 0 -3.2 0M175.1 74.4a1.6 1.6 0 1 0 3.2 0a1.6 1.6 0 1 0 -3.2 0M193.2 35.4a1.6 1.6 0 1 0 3.2 0a1.6 1.6 0 1 0 -3.2 0M186.7 81.2a1.6 1.6 0 1 0 3.2 0a1.6 1.6 0 1 0 -3.2 0M171 61a1.6 1.6 0 1 0 3.2 0a1.6 1.6 0 1 0 -3.2 0M170.7 39.8a1.6 1.6 0 1 0 3.2 0a1.6 1.6 0 1 0 -3.2 0M165.7 50a1.6 1.6 0 1 0 3.2 0a1.6 1.6 0 1 0 -3.2 0M174.2 85a1.6 1.6 0 1 0 3.2 0a1.6 1.6 0 1 0 -3.2 0M192.8 86.4a1.6 1.6 0 1 0 3.2 0a1.6 1.6 0 1 0 -3.2 0M192.5 30.7a1.6 1.6 0 1 0 3.2 0a1.6 1.6 0 1 0 -3.2 0M173.4 36.5a1.6 1.6 0 1 0 3.2 0a1.6 1.6 0 1 0 -3.2 0M165.8 40.9a1.6 1.6 0 1 0 3.2 0a1.6 1.6 0 1 0 -3.2 0M196.7 78.5a1.6 1.6 0 1 0 3.2 0a1.6 1.6 0 1 0 -3.2 0M191.9 60a1.6 1.6 0 1 0 3.2 0a1.6 1.6 0 1 0 -3.2 0M196.2 40.7a1.6 1.6 0 1 0 3.2 0a1.6 1.6 0 1 0 -3.2 0M194.2 69.4a1.6 1.6 0 1 0 3.2 0a1.6 1.6 0 1 0 -3.2 0M198.8 49.9a1.6 1.6 0 1 0 3.2 0a1.6 1.6 0 1 0 -3.2 0M182.1 73.5a1.6 1.6 0 1 0 3.2 0a1.6 1.6 0 1 0 -3.2 0M167.6 79.1a1.6 1.6 0 1 0 3.2 0a1.6 1.6 0 1 0 -3.2 0M176.8 47a1.6 1.6 0 1 0 3.2 0a1.6 1.6 0 1 0 -3.2 0M187.5 84.8a1.6 1.6 0 1 0 3.2 0a1.6 1.6 0 1 0 -3.2 0M191.7 31.7a1.6 1.6 0 1 0 3.2 0a1.6 1.6 0 1 0 -3.2 0M181.2 49.4a1.6 1.6 0 1 0 3.2 0a1.6 1.6 0 1 0 -3.2 0M187 76.3a1.6 1.6 0 1 0 3.2 0a1.6 1.6 0 1 0 -3.2 0M184.7 78.5a1.6 1.6 0 1 0 3.2 0a1.6 1.6 0 1 0 -3.2 0M203.3 31.5a1.6 1.6 0 1 0 3.2 0a1.6 1.6 0 1 0 -3.2 0M196.8 44.6a1.6 1.6 0 1 0 3.2 0a1.6 1.6 0 1 0 -3.2 0M168.5 63.4a1.6 1.6 0 1 0 3.2 0a1.6 1.6 0 1 0 -3.2 0M168.5 51.2a1.6 1.6 0 1 0 3.2 0a1.6 1.6 0 1 0 -3.2 0M168.2 42.3a1.6 1.6 0 1 0 3.2 0a1.6 1.6 0 1 0 -3.2 0M184 36.8a1.6 1.6 0 1 0 3.2 0a1.6 1.6 0 1 0 -3.2 0M171.5 62.6a1.6 1.6 0 1 0 3.2 0a1.6 1.6 0 1 0 -3.2 0M188.8 74.1a1.6 1.6 0 1 0 3.2 0a1.6 1.6 0 1 0 -3.2 0M197.1 74.8a1.6 1.6 0 1 0 3.2 0a1.6 1.6 0 1 0 -3.2 0M202.1 75.5a1.6 1.6 0 1 0 3.2 0a1.6 1.6 0 1 0 -3.2 0M173.2 42a1.6 1.6 0 1 0 3.2 0a1.6 1.6 0 1 0 -3.2 0M180.2 56.3a1.6 1.6 0 1 0 3.2 0a1.6 1.6 0 1 0 -3.2 0M198.2 77.4a1.6 1.6 0 1 0 3.2 0a1.6 1.6 0 1 0 -3.2 0M180.9 63.2a1.6 1.6 0 1 0 3.2 0a1.6 1.6 0 1 0 -3.2 0M175.1 65a1.6 1.6 0 1 0 3.2 0a1.6 1.6 0 1 0 -3.2 0M170.1 36.5a1.6 1.6 0 1 0 3.2 0a1.6 1.6 0 1 0 -3.2 0M201.2 73.6a1.6 1.6 0 1 0 3.2 0a1.6 1.6 0 1 0 -3.2 0M165.6 49.2a1.6 1.6 0 1 0 3.2 0a1.6 1.6 0 1 0 -3.2 0M188.6 69.7a1.6 1.6 0 1 0 3.2 0a1.6 1.6 0 1 0 -3.2 0M174.6 48.2a1.6 1.6 0 1 0 3.2 0a1.6 1.6 0 1 0 -3.2 0M180.4 83.2a1.6 1.6 0 1 0 3.2 0a1.6 1.6 0 1 0 -3.2 0M167.5 79.8a1.6 1.6 0 1 0 3.2 0a1.6 1.6 0 1 0 -3.2 0M192.6 70.3a1.6 1.6 0 1 0 3.2 0a1.6 1.6 0 1 0 -3.2 0M194.9 50.4a1.6 1.6 0 1 0 3.2 0a1.6 1.6 0 1 0 -3.2 0M201.4 49.9a1.6 1.6 0 1 0 3.2 0a1.6 1.6 0 1 0 -3.2 0M172.8 78.5a1.6 1.6 0 1 0 3.2 0a1.6 1.6 0 1 0 -3.2 0M183.6 64.5a1.6 1.6 0 1 0 3.2 0a1.6 1.6 0 1 0 -3.2 0M169.7 58.5a1.6 1.6 0 1 0 3.2 0a1.6 1.6 0 1 0 -3.2 0M175.9 56.1a1.6 1.6 0 1 0 3.2 0a1.6 1.6 0 1 0 -3.2 0M201.4 41.2a1.6 1.6 0 1 0 3.2 0a1.6 1.6 0 1 0 -3.2 0M201.9 79.8a1.6 1.6 0 1 0 3.2 0a1.6 1.6 0 1 0 -3.2 0M192 87.4a1.6 1.6 0 1 0 3.2 0a1.6 1.6 0 1 0 -3.2 0M172.2 30.6a1.6 1.6 0 1 0 3.2 0a1.6 1.6 0 1 0 -3.2 0M167.9 36.6a1.6 1.6 0 1 0 3.2 0a1.6 1.6 0 1 0 -3.2 0M172.3 60.8a1.6 1.6 0 1 0 3.2 0a1.6 1.6 0 1 0 -3.2 0M166 46.4a1.6 1.6 0 1 0 3.2 0a1.6 1.6 0 1 0 -3.2 0M191.5 90.1a1.6 1.6 0 1 0 3.2 0a1.6 1.6 0 1 0 -3.2 0M171 89.3a1.6 1.6 0 1 0 3.2 0a1.6 1.6 0 1 0 -3.2 0M198.9 68.3a1.6 1.6 0 1 0 3.2 0a1.6 1.6 0 1 0 -3.2 0M169 47.1a1.6 1.6 0 1 0 3.2 0a1.6 1.6 0 1 0 -3.2 0M202.6 49a1.6 1.6 0 1 0 3.2 0a1.6 1.6 0 1 0 -3.2 0M169.9 32.7a1.6 1.6 0 1 0 3.2 0a1.6 1.6 0 1 0 -3.2 0M266.7 89.8a1.6 1.6 0 1 0 3.2 0a1.6 1.6 0 1 0 -3.2 0M257.8 91.8a1.6 1.6 0 1 0 3.2 0a1.6 1.6 0 1 0 -3.2 0M241.6 61.8a1.6 1.6 0 1 0 3.2 0a1.6 1.6 0 1 0 -3.2 0M260.9 75.5a1.6 1.6 0 1 0 3.2 0a1.6 1.6 0 1 0 -3.2 0M238.6 59.8a1.6 1.6 0 1 0 3.2 0a1.6 1.6 0 1 0 -3.2 0M253.2 87a1.6 1.6 0 1 0 3.2 0a1.6 1.6 0 1 0 -3.2 0M259 78.2a1.6 1.6 0 1 0 3.2 0a1.6 1.6 0 1 0 -3.2 0M270.4 78.5a1.6 1.6 0 1 0 3.2 0a1.6 1.6 0 1 0 -3.2 0M244.5 34.1a1.6 1.6 0 1 0 3.2 0a1.6 1.6 0 1 0 -3.2 0M255.8 67.7a1.6 1.6 0 1 0 3.2 0a1.6 1.6 0 1 0 -3.2 0M275.4 63a1.6 1.6 0 1 0 3.2 0a1.6 1.6 0 1 0 -3.2 0M236.7 69a1.6 1.6 0 1 0 3.2 0a1.6 1.6 0 1 0 -3.2 0M259.2 69a1.6 1.6 0 1 0 3.2 0a1.6 1.6 0 1 0 -3.2 0M268.6 85.9a1.6 1.6 0 1 0 3.2 0a1.6 1.6 0 1 0 -3.2 0M250.1 32.8a1.6 1.6 0 1 0 3.2 0a1.6 1.6 0 1 0 -3.2 0M250 37.7a1.6 1.6 0 1 0 3.2 0a1.6 1.6 0 1 0 -3.2 0M261.8 85.2a1.6 1.6 0 1 0 3.2 0a1.6 1.6 0 1 0 -3.2 0M235.1 47.6a1.6 1.6 0 1 0 3.2 0a1.6 1.6 0 1 0 -3.2 0M260.8 57.9a1.6 1.6 0 1 0 3.2 0a1.6 1.6 0 1 0 -3.2 0M264.5 57.7a1.6 1.6 0 1 0 3.2 0a1.6 1.6 0 1 0 -3.2 0M268.8 81a1.6 1.6 0 1 0 3.2 0a1.6 1.6 0 1 0 -3.2 0M267.1 87.7a1.6 1.6 0 1 0 3.2 0a1.6 1.6 0 1 0 -3.2 0M237.8 73.7a1.6 1.6 0 1 0 3.2 0a1.6 1.6 0 1 0 -3.2 0M268.9 55.7a1.6 1.6 0 1 0 3.2 0a1.6 1.6 0 1 0 -3.2 0M268.3 61.6a1.6 1.6 0 1 0 3.2 0a1.6 1.6 0 1 0 -3.2 0M258.5 72.1a1.6 1.6 0 1 0 3.2 0a1.6 1.6 0 1 0 -3.2 0M254.7 87.8a1.6 1.6 0 1 0 3.2 0a1.6 1.6 0 1 0 -3.2 0M273.8 54.6a1.6 1.6 0 1 0 3.2 0a1.6 1.6 0 1 0 -3.2 0M261.4 76.5a1.6 1.6 0 1 0 3.2 0a1.6 1.6 0 1 0 -3.2 0M267.7 35.2a1.6 1.6 0 1 0 3.2 0a1.6 1.6 0 1 0 -3.2 0M244.7 49.5a1.6 1.6 0 1 0 3.2 0a1.6 1.6 0 1 0 -3.2 0M260.5 51.6a1.6 1.6 0 1 0 3.2 0a1.6 1.6 0 1 0 -3.2 0M251.3 64.7a1.6 1.6 0 1 0 3.2 0a1.6 1.6 0 1 0 -3.2 0M254.4 84.9a1.6 1.6 0 1 0 3.2 0a1.6 1.6 0 1 0 -3.2 0M238.2 62.9a1.6 1.6 0 1 0 3.2 0a1.6 1.6 0 1 0 -3.2 0M270.1 81.6a1.6 1.6 0 1 0 3.2 0a1.6 1.6 0 1 0 -3.2 0M246.5 79.5a1.6 1.6 0 1 0 3.2 0a1.6 1.6 0 1 0 -3.2 0M236.5 59a1.6 1.6 0 1 0 3.2 0a1.6 1.6 0 1 0 -3.2 0M252.2 73.8a1.6 1.6 0 1 0 3.2 0a1.6 1.6 0 1 0 -3.2 0M274.3 61.7a1.6 1.6 0 1 0 3.2 0a1.6 1.6 0 1 0 -3.2 0M255.8 78.4a1.6 1.6 0 1 0 3.2 0a1.6 1.6 0 1 0 -3.2 0M271.7 84.8a1.6 1.6 0 1 0 3.2 0a1.6 1.6 0 1 0 -3.2 0M237.7 56.8a1.6 1.6 0 1 0 3.2 0a1.6 1.6 0 1 0 -3.2 0M238.2 46.7a1.6 1.6 0 1 0 3.2 0a1.6 1.6 0 1 0 -3.2 0M237.2 32.4a1.6 1.6 0 1 0 3.2 0a1.6 1.6 0 1 0 -3.2 0M256.8 74.1a1.6 1.6 0 1 0 3.2 0a1.6 1.6 0 1 0 -3.2 0M274.7 63.1a1.6 1.6 0 1 0 3.2 0a1.6 1.6 0 1 0 -3.2 0M242.8 67.4a1.6 1.6 0 1 0 3.2 0a1.6 1.6 0 1 0 -3.2 0M246.3 33.8a1.6 1.6 0 1 0 3.2 0a1.6 1.6 0 1 0 -3.2 0M257.4 51.1a1.6 1.6 0 1 0 3.2 0a1.6 1.6 0 1 0 -3.2 0M256.6 86.5a1.6 1.6 0 1 0 3.2 0a1.6 1.6 0 1 0 -3.2 0M241.2 62a1.6 1.6 0 1 0 3.2 0a1.6 1.6 0 1 0 -3.2 0M248.9 59.5a1.6 1.6 0 1 0 3.2 0a1.6 1.6 0 1 0 -3.2 0M266 71.9a1.6 1.6 0 1 0 3.2 0a1.6 1.6 0 1 0 -3.2 0M250.6 59.1a1.6 1.6 0 1 0 3.2 0a1.6 1.6 0 1 0 -3.2 0M246.8 89.6a1.6 1.6 0 1 0 3.2 0a1.6 1.6 0 1 0 -3.2 0M274.7 78.1a1.6 1.6 0 1 0 3.2 0a1.6 1.6 0 1 0 -3.2 0M246.4 38.1a1.6 1.6 0 1 0 3.2 0a1.6 1.6 0 1 0 -3.2 0M236 90.8a1.6 1.6 0 1 0 3.2 0a1.6 1.6 0 1 0 -3.2 0M242.5 74.2a1.6 1.6 0 1 0 3.2 0a1.6 1.6 0 1 0 -3.2 0M269 74.6a1.6 1.6 0 1 0 3.2 0a1.6 1.6 0 1 0 -3.2 0M266.7 87.7a1.6 1.6 0 1 0 3.2 0a1.6 1.6 0 1 0 -3.2 0M276.2 72.1a1.6 1.6 0 1 0 3.2 0a1.6 1.6 0 1 0 -3.2 0M254.5 83.8a1.6 1.6 0 1 0 3.2 0a1.6 1.6 0 1 0 -3.2 0M247.5 50.5a1.6 1.6 0 1 0 3.2 0a1.6 1.6 0 1 0 -3.2 0M271 58a1.6 1.6 0 1 0 3.2 0a1.6 1.6 0 1 0 -3.2 0M266.6 89.2a1.6 1.6 0 1 0 3.2 0a1.6 1.6 0 1 0 -3.2 0M276 85.2a1.6 1.6 0 1 0 3.2 0a1.6 1.6 0 1 0 -3.2 0M248.4 44.5a1.6 1.6 0 1 0 3.2 0a1.6 1.6 0 1 0 -3.2 0M246.2 40a1.6 1.6 0 1 0 3.2 0a1.6 1.6 0 1 0 -3.2 0M276.2 74.1a1.6 1.6 0 1 0 3.2 0a1.6 1.6 0 1 0 -3.2 0M242 56.1a1.6 1.6 0 1 0 3.2 0a1.6 1.6 0 1 0 -3.2 0M244.2 79.2a1.6 1.6 0 1 0 3.2 0a1.6 1.6 0 1 0 -3.2 0M242 52.4a1.6 1.6 0 1 0 3.2 0a1.6 1.6 0 1 0 -3.2 0M247.1 35.9a1.6 1.6 0 1 0 3.2 0a1.6 1.6 0 1 0 -3.2 0M242.2 72.5a1.6 1.6 0 1 0 3.2 0a1.6 1.6 0 1 0 -3.2 0M250.8 30.8a1.6 1.6 0 1 0 3.2 0a1.6 1.6 0 1 0 -3.2 0M243.7 59.1a1.6 1.6 0 1 0 3.2 0a1.6 1.6 0 1 0 -3.2 0M242 60.2a1.6 1.6 0 1 0 3.2 0a1.6 1.6 0 1 0 -3.2 0M245.7 66.6a1.6 1.6 0 1 0 3.2 0a1.6 1.6 0 1 0 -3.2 0M276.4 90a1.6 1.6 0 1 0 3.2 0a1.6 1.6 0 1 0 -3.2 0M268 87.9a1.6 1.6 0 1 0 3.2 0a1.6 1.6 0 1 0 -3.2 0M247.5 68.9a1.6 1.6 0 1 0 3.2 0a1.6 1.6 0 1 0 -3.2 0M243.3 60.5a1.6 1.6 0 1 0 3.2 0a1.6 1.6 0 1 0 -3.2 0M246.1 60.5a1.6 1.6 0 1 0 3.2 0a1.6 1.6 0 1 0 -3.2 0M252.9 62.2a1.6 1.6 0 1 0 3.2 0a1.6 1.6 0 1 0 -3.2 0M261.3 36.6a1.6 1.6 0 1 0 3.2 0a1.6 1.6 0 1 0 -3.2 0M266.2 64a1.6 1.6 0 1 0 3.2 0a1.6 1.6 0 1 0 -3.2 0M256.6 71.3a1.6 1.6 0 1 0 3.2 0a1.6 1.6 0 1 0 -3.2 0" fill="#F962EE" fill-opacity="0.15" stroke="#F962EE" stroke-opacity="0.29" stroke-width="0.8" filter="url(#f0)"/><path d="M183.8 83.9a1.6 1.6 0 1 0 3.2 0a1.6 1.6 0 1 0 -3.2 0M192.4 80.3a1.6 1.6 0 1 0 3.2 0a1.6 1.6 0 1 0 -3.2 0M180.2 85.3a1.6 1.6 0 1 0 3.2 0a1.6 1.6 0 1 0 -3.2 0M201.2 83.9a1.6 1.6 0 1 0 3.2 0a1.6 1.6 0 1 0 -3.2 0M172.8 80.1a1.6 1.6 0 1 0 3.2 0a1.6 1.6 0 1 0 -3.2 0M187.6 96.5a1.6 1.6 0 1 0 3.2 0a1.6 1.6 0 1 0 -3.2 0M191.7 86.7a1.6 1.6 0 1 0 3.2 0a1.6 1.6 0 1 0 -3.2 0M178.2 82.4a1.6 1.6 0 1 0 3.2 0a1.6 1.6 0 1 0 -3.2 0M199.3 96.6a1.6 1.6 0 1 0 3.2 0a1.6 1.6 0 1 0 -3.2 0M182.6 89.2a1.6 1.6 0 1 0 3.2 0a1.6 1.6 0 1 0 -3.2 0M193.4 91a1.6 1.6 0 1 0 3.2 0a1.6 1.6 0 1 0 -3.2 0M179.8 80.2a1.6 1.6 0 1 0 3.2 0a1.6 1.6 0 1 0 -3.2 0M182.6 85.6a1.6 1.6 0 1 0 3.2 0a1.6 1.6 0 1 0 -3.2 0M177.8 75.8a1.6 1.6 0 1 0 3.2 0a1.6 1.6 0 1 0 -3.2 0M200.7 82.8a1.6 1.6 0 1 0 3.2 0a1.6 1.6 0 1 0 -3.2 0M186.6 81.4a1.6 1.6 0 1 0 3.2 0a1.6 1.6 0 1 0 -3.2 0M201.6 89.4a1.6 1.6 0 1 0 3.2 0a1.6 1.6 0 1 0 -3.2 0M198.8 80.1a1.6 1.6 0 1 0 3.2 0a1.6 1.6 0 1 0 -3.2 0M195.6 84.6a1.6 1.6 0 1 0 3.2 0a1.6 1.6 0 1 0 -3.2 0M178.6 89.2a1.6 1.6 0 1 0 3.2 0a1.6 1.6 0 1 0 -3.2 0M173.8 96a1.6 1.6 0 1 0 3.2 0a1.6 1.6 0 1 0 -3.2 0M175.1 92.7a1.6 1.6 0 1 0 3.2 0a1.6 1.6 0 1 0 -3.2 0M184.9 78.1a1.6 1.6 0 1 0 3.2 0a1.6 1.6 0 1 0 -3.2 0M195.9 76.8a1.6 1.6 0 1 0 3.2 0a1.6 1.6 0 1 0 -3.2 0M197.5 79.9a1.6 1.6 0 1 0 3.2 0a1.6 1.6 0 1 0 -3.2 0M179.4 75.7a1.6 1.6 0 1 0 3.2 0a1.6 1.6 0 1 0 -3.2 0M173 94a1.6 1.6 0 1 0 3.2 0a1.6 1.6 0 1 0 -3.2 0M196.6 84.8a1.6 1.6 0 1 0 3.2 0a1.6 1.6 0 1 0 -3.2 0M197.7 81.2a1.6 1.6 0 1 0 3.2 0a1.6 1.6 0 1 0 -3.2 0M184.5 83.8a1.6 1.6 0 1 0 3.2 0a1.6 1.6 0 1 0 -3.2 0M182.2 86.4a1.6 1.6 0 1 0 3.2 0a1.6 1.6 0 1 0 -3.2 0M186.3 90.8a1.6 1.6 0 1 0 3.2 0a1.6 1.6 0 1 0 -3.2 0M195.6 83.3a1.6 1.6 0 1 0 3.2 0a1.6 1.6 0 1 0 -3.2 0M184.6 87.3a1.6 1.6 0 1 0 3.2 0a1.6 1.6 0 1 0 -3.2 0M175.5 76.5a1.6 1.6 0 1 0 3.2 0a1.6 1.6 0 1 0 -3.2 0M171.8 91.8a1.6 1.6 0 1 0 3.2 0a1.6 1.6 0 1 0 -3.2 0M175.6 77.4a1.6 1.6 0 1 0 3.2 0a1.6 1.6 0 1 0 -3.2 0M195.2 89.8a1.6 1.6 0 1 0 3.2 0a1.6 1.6 0 1 0 -3.2 0M185 78a1.6 1.6 0 1 0 3.2 0a1.6 1.6 0 1 0 -3.2 0M200.2 80.2a1.6 1.6 0 1 0 3.2 0a1.6 1.6 0 1 0 -3.2 0M174.5 91.2a1.6 1.6 0 1 0 3.2 0a1.6 1.6 0 1 0 -3.2 0M178 96.4a1.6 1.6 0 1 0 3.2 0a1.6 1.6 0 1 0 -3.2 0M199.9 84.7a1.6 1.6 0 1 0 3.2 0a1.6 1.6 0 1 0 -3.2 0M195.7 78.4a1.6 1.6 0 1 0 3.2 0a1.6 1.6 0 1 0 -3.2 0M192.7 82.1a1.6 1.6 0 1 0 3.2 0a1.6 1.6 0 1 0 -3.2 0M176.6 90.8a1.6 1.6 0 1 0 3.2 0a1.6 1.6 0 1 0 -3.2 0M201.3 87a1.6 1.6 0 1 0 3.2 0a1.6 1.6 0 1 0 -3.2 0M196.3 83.4a1.6 1.6 0 1 0 3.2 0a1.6 1.6 0 1 0 -3.2 0M182.2 90.6a1.6 1.6 0 1 0 3.2 0a1.6 1.6 0 1 0 -3.2 0M192.5 75.2a1.6 1.6 0 1 0 3.2 0a1.6 1.6 0 1 0 -3.2 0M177.4 89.9a1.6 1.6 0 1 0 3.2 0a1.6 1.6 0 1 0 -3.2 0M187 78.2a1.6 1.6 0 1 0 3.2 0a1.6 1.6 0 1 0 -3.2 0M182.2 95.4a1.6 1.6 0 1 0 3.2 0a1.6 1.6 0 1 0 -3.2 0M174.5 75.1a1.6 1.6 0 1 0 3.2 0a1.6 1.6 0 1 0 -3.2 0M172.4 87.2a1.6 1.6 0 1 0 3.2 0a1.6 1.6 0 1 0 -3.2 0M202 96.2a1.6 1.6 0 1 0 3.2 0a1.6 1.6 0 1 0 -3.2 0M189 78.3a1.6 1.6 0 1 0 3.2 0a1.6 1.6 0 1 0 -3.2 0M174.2 94.3a1.6 1.6 0 1 0 3.2 0a1.6 1.6 0 1 0 -3.2 0M196 88.8a1.6 1.6 0 1 0 3.2 0a1.6 1.6 0 1 0 -3.2 0M201.8 87a1.6 1.6 0 1 0 3.2 0a1.6 1.6 0 1 0 -3.2 0M194.6 83.8a1.6 1.6 0 1 0 3.2 0a1.6 1.6 0 1 0 -3.2 0M170.4 94.9a1.6 1.6 0 1 0 3.2 0a1.6 1.6 0 1 0 -3.2 0M185.6 76.2a1.6 1.6 0 1 0 3.2 0a1.6 1.6 0 1 0 -3.2 0M197 77.8a1.6 1.6 0 1 0 3.2 0a1.6 1.6 0 1 0 -3.2 0M179.2 93.1a1.6 1.6 0 1 0 3.2 0a1.6 1.6 0 1 0 -3.2 0M193 95.6a1.6 1.6 0 1 0 3.2 0a1.6 1.6 0 1 0 -3.2 0M199 82.6a1.6 1.6 0 1 0 3.2 0a1.6 1.6 0 1 0 -3.2 0M182.8 78.5a1.6 1.6 0 1 0 3.2 0a1.6 1.6 0 1 0 -3.2 0M196.8 93.8a1.6 1.6 0 1 0 3.2 0a1.6 1.6 0 1 0 -3.2 0M184.6 92.7a1.6 1.6 0 1 0 3.2 0a1.6 1.6 0 1 0 -3.2 0" fill="#00B0F6" fill-opacity="0.24" stroke="#00B0F6" stroke-opacity="0.45" stroke-width="0.8" filter="url(#f0)"/><path d="M170 26.3L264 26.3L264 31L170 31Z" fill="#F962EE" fill-opacity="0.45"/><path d="M196 76.6L197.5 77.5L199 78.4L200.5 79.3L202 80.2L203.5 81L205 81.9L206.5 82.7L208 83.5L209.5 84.3L211 85L212.5 85.7L214 86.4L215.5 87.1L217 87.6L218.5 88.1L220 88.5L221.5 88.8L223 89L224.5 89.3L226 89.5L227.5 89.7L229 89.9L230.5 90L232 90.2L233.5 90.2L235 90.3L236.5 90.3L238 90.3L239.5 90.2L241 90.1L242.5 89.9L244 89.8L245.5 89.6L247 89.4L248.5 89.2L250 89L251.5 88.8L253 88.4L254.5 88.1L256 87.7L257.5 87.3L259 86.9L260.5 86.6L262 86.3L263.5 86.1L265 85.8L266.5 85.6L268 85.4L269.5 85.2L271 85L272.5 84.9L274 84.7L275.5 84.5L277 84.3L278.5 84.1L279.5 84L279.5 93L278.5 93.1L277 93.1L275.5 93.2L274 93.3L272.5 93.4L271 93.5L269.5 93.6L268 93.7L266.5 93.8L265 93.8L263.5 93.9L262 94L260.5 94.1L259 94.2L257.5 94.3L256 94.4L254.5 94.5L253 94.5L251.5 94.6L250 94.7L248.5 94.7L247 94.8L245.5 94.8L244 94.8L242.5 94.8L241 94.8L239.5 94.8L238 94.8L236.5 94.7L235 94.7L233.5 94.7L232 94.7L230.5 94.6L229 94.6L227.5 94.6L226 94.5L224.5 94.5L223 94.4L221.5 94.3L220 94.2L218.5 94.1L217 94L215.5 93.8L214 93.6L212.5 93.5L211 93.3L209.5 93.1L208 92.9L206.5 92.7L205 92.5L203.5 92.3L202 92.1L200.5 91.8L199 91.6L197.5 91.3L196 91.1Z" fill="#00B0F6" fill-opacity="0.6"/><path d="M179.2 76.2L180.8 75.8L182.2 75.4L183.8 75.2L185.2 75.2L186.8 75.3L188.2 75.6L189.8 76L191.2 76.6L192.8 77.4L194.2 78.2L195.6 79L196.9 79.8L198.1 80.7L199.3 81.6L200.4 82.5L201.5 83.5L202.5 84.5L203.4 85.5L204.3 86.5L205.1 87.6L205.9 88.7L206.6 89.7L207.2 90.8L207.8 91.9L208.2 93.1L208.2 94.1L207.5 94.9L206.2 95.7L204.3 96.3L201.8 96.8L198.8 97.2L195.1 97.4L190.9 97.6L187.1 97.4L183.9 96.8L181.1 96L178.9 94.8L177.1 93.3L175.9 91.4L175.1 89.2L174.9 86.8L174.8 84.5L175 82.5L175.4 80.8L176.1 79.2L176.9 78L178 77Z" fill="#00B0F6" fill-opacity="0.75"/><clipPath id="k3"><rect x="166.5" y="26.3" width="113" height="80.7"/></clipPath><g clip-path="url(#k3)"><path d="M215.6 26L226.4 26L235.7 26.2L243.7 26.7L250.2 27.3L255.3 28.2L259 29.3L261.3 30.6L262.2 32.1L261.8 33.9L261.3 35.7L261 37.7L260.8 39.7L260.7 41.8L260.7 44L260.7 46.3L260.9 48.8L261.1 51.2L261.4 53.8L261.7 56.2L262.1 58.8L262.4 61.2L262.8 63.8L263.3 66.2L263.8 68.8L264.2 71.2L264.7 73.6L265.2 75.9L265.6 78L265.9 80L266.3 81.9L266.6 83.6L266.9 85.2L267.1 86.8L266.1 88.1L263.8 89.4L260.2 90.5L255.3 91.5L249.2 92.4L241.7 93.1L233 93.8L223 94.2L214.1 94.4L206.4 94.3L199.8 93.9L194.4 93.1L190.1 92.1L187 90.7L184.9 89L184.1 87L183.3 84.9L182.7 82.6L182.3 80.2L182 77.6L181.8 74.9L181.8 72L181.9 69.1L182.1 65.9L182.3 62.9L182.3 59.9L182.3 57L182.2 54.2L182 51.5L181.7 48.8L181.2 46.2L180.8 43.8L180.3 41.4L179.9 39.3L179.5 37.3L179.2 35.5L179 33.8L178.7 32.4L178.6 31.1L178.4 29.9L179.7 29L182.3 28.1L186.2 27.4L191.5 26.8L198.2 26.4L206.2 26.1Z" fill="#F962EE" fill-opacity="0.5" filter="url(#f2)"/></g><clipPath id="k4"><rect x="166.5" y="26.3" width="113" height="80.7"/></clipPath><g clip-path="url(#k4)"><path d="M215.8 26L224.2 26L231.6 26.1L237.9 26.2L243 26.4L247 26.6L249.9 26.9L251.6 27.3L252.2 27.8L251.8 28.2L251.2 28.8L250.8 29.4L250.2 30.1L249.8 30.9L249.2 31.7L248.8 32.6L248.2 33.5L247.8 34.5L247.3 35.6L246.9 36.7L246.5 37.9L246.2 39.1L246 40.4L245.7 41.8L245.6 43.2L245.4 44.8L245.4 46.3L245.4 47.8L245.5 49.3L245.7 50.9L246 52.5L246.3 54.1L246.8 55.7L247.2 57.3L247.8 58.9L248.3 60.5L248.8 62.1L249.4 63.7L250 65.2L250.6 66.7L251.2 68.2L251.8 69.8L252.4 71.2L253.1 72.7L253.7 74.1L254.3 75.4L254.9 76.8L255.6 78.1L256.2 79.4L256.8 80.6L257.4 81.9L257.9 83.2L258.4 84.5L258.8 85.8L259.2 87.1L259.6 88.5L259.9 89.8L260.1 91.2L259.4 92.4L257.7 93.4L255 94.3L251.3 95L246.6 95.5L241 95.8L234.3 96L226.7 96L219.8 95.9L213.7 95.6L208.4 95.2L203.8 94.8L200 94.1L197 93.4L194.8 92.5L193.2 91.5L192 90.4L190.9 89.3L190 88.1L189.3 86.9L188.8 85.6L188.5 84.2L188.4 82.8L188.6 81.2L188.8 79.7L189 78.2L189.3 76.6L189.7 74.9L190.1 73.3L190.6 71.6L191.2 69.9L191.8 68.1L192.4 66.4L193 64.6L193.5 62.9L194 61.1L194.5 59.4L194.9 57.6L195.3 55.9L195.7 54.1L196 52.4L196.3 50.7L196.6 49.1L196.9 47.4L197.1 45.8L197.3 44.3L197.4 42.8L197.6 41.2L197.6 39.8L197.6 38.5L197.5 37.3L197.3 36.2L197 35.2L196.7 34.2L196.2 33.4L195.8 32.6L195.2 31.9L194.6 31.2L193.9 30.6L193.1 29.9L192.3 29.3L191.4 28.8L190.5 28.2L189.5 27.8L189.7 27.3L191.1 26.9L193.6 26.6L197.4 26.4L202.3 26.2L208.4 26.1Z" fill="#F962EE" filter="url(#f1)"/></g><path d="M203.4 64.1a1.5 1.5 0 1 0 3 0a1.5 1.5 0 1 0 -3 0M195.9 65.4a1.5 1.5 0 1 0 3 0a1.5 1.5 0 1 0 -3 0M196.7 51.3a1.5 1.5 0 1 0 3 0a1.5 1.5 0 1 0 -3 0M196 73.3a1.5 1.5 0 1 0 3 0a1.5 1.5 0 1 0 -3 0M192.6 39a1.5 1.5 0 1 0 3 0a1.5 1.5 0 1 0 -3 0M202.9 42.7a1.5 1.5 0 1 0 3 0a1.5 1.5 0 1 0 -3 0M191.4 48.1a1.5 1.5 0 1 0 3 0a1.5 1.5 0 1 0 -3 0M203 59.9a1.5 1.5 0 1 0 3 0a1.5 1.5 0 1 0 -3 0M200.9 67.3a1.5 1.5 0 1 0 3 0a1.5 1.5 0 1 0 -3 0M200.7 35.7a1.5 1.5 0 1 0 3 0a1.5 1.5 0 1 0 -3 0M190 64a1.5 1.5 0 1 0 3 0a1.5 1.5 0 1 0 -3 0M200 70.1a1.5 1.5 0 1 0 3 0a1.5 1.5 0 1 0 -3 0M194.2 51.9a1.5 1.5 0 1 0 3 0a1.5 1.5 0 1 0 -3 0M202.1 70.2a1.5 1.5 0 1 0 3 0a1.5 1.5 0 1 0 -3 0M193.6 67.1a1.5 1.5 0 1 0 3 0a1.5 1.5 0 1 0 -3 0M189.7 69.8a1.5 1.5 0 1 0 3 0a1.5 1.5 0 1 0 -3 0M192.8 41.4a1.5 1.5 0 1 0 3 0a1.5 1.5 0 1 0 -3 0M197.5 59.3a1.5 1.5 0 1 0 3 0a1.5 1.5 0 1 0 -3 0M197.3 45.2a1.5 1.5 0 1 0 3 0a1.5 1.5 0 1 0 -3 0M201.2 64.4a1.5 1.5 0 1 0 3 0a1.5 1.5 0 1 0 -3 0M188.9 79a1.5 1.5 0 1 0 3 0a1.5 1.5 0 1 0 -3 0M192.2 38.8a1.5 1.5 0 1 0 3 0a1.5 1.5 0 1 0 -3 0M198.5 61.2a1.5 1.5 0 1 0 3 0a1.5 1.5 0 1 0 -3 0M190.3 44.6a1.5 1.5 0 1 0 3 0a1.5 1.5 0 1 0 -3 0M194.2 73.6a1.5 1.5 0 1 0 3 0a1.5 1.5 0 1 0 -3 0M191.1 44.4a1.5 1.5 0 1 0 3 0a1.5 1.5 0 1 0 -3 0M188.8 50.8a1.5 1.5 0 1 0 3 0a1.5 1.5 0 1 0 -3 0M189.7 55.6a1.5 1.5 0 1 0 3 0a1.5 1.5 0 1 0 -3 0M195.3 44.8a1.5 1.5 0 1 0 3 0a1.5 1.5 0 1 0 -3 0M194 59.8a1.5 1.5 0 1 0 3 0a1.5 1.5 0 1 0 -3 0M199 76.1a1.5 1.5 0 1 0 3 0a1.5 1.5 0 1 0 -3 0M190.4 75.2a1.5 1.5 0 1 0 3 0a1.5 1.5 0 1 0 -3 0M194.9 41.9a1.5 1.5 0 1 0 3 0a1.5 1.5 0 1 0 -3 0M193.4 46.1a1.5 1.5 0 1 0 3 0a1.5 1.5 0 1 0 -3 0M201.3 35.5a1.5 1.5 0 1 0 3 0a1.5 1.5 0 1 0 -3 0M191.7 59.3a1.5 1.5 0 1 0 3 0a1.5 1.5 0 1 0 -3 0M191.8 73.8a1.5 1.5 0 1 0 3 0a1.5 1.5 0 1 0 -3 0M189.9 76.5a1.5 1.5 0 1 0 3 0a1.5 1.5 0 1 0 -3 0M198.5 73.7a1.5 1.5 0 1 0 3 0a1.5 1.5 0 1 0 -3 0M195.9 37.4a1.5 1.5 0 1 0 3 0a1.5 1.5 0 1 0 -3 0M200.7 52.3a1.5 1.5 0 1 0 3 0a1.5 1.5 0 1 0 -3 0M197 68.7a1.5 1.5 0 1 0 3 0a1.5 1.5 0 1 0 -3 0M190.5 45.7a1.5 1.5 0 1 0 3 0a1.5 1.5 0 1 0 -3 0M193.3 42.4a1.5 1.5 0 1 0 3 0a1.5 1.5 0 1 0 -3 0M201.5 64.3a1.5 1.5 0 1 0 3 0a1.5 1.5 0 1 0 -3 0M193.4 68.5a1.5 1.5 0 1 0 3 0a1.5 1.5 0 1 0 -3 0M199.9 49.1a1.5 1.5 0 1 0 3 0a1.5 1.5 0 1 0 -3 0M199.9 68.5a1.5 1.5 0 1 0 3 0a1.5 1.5 0 1 0 -3 0M200.3 71.6a1.5 1.5 0 1 0 3 0a1.5 1.5 0 1 0 -3 0M188.9 53.2a1.5 1.5 0 1 0 3 0a1.5 1.5 0 1 0 -3 0M246.1 56.8a1.5 1.5 0 1 0 3 0a1.5 1.5 0 1 0 -3 0M256.1 64.7a1.5 1.5 0 1 0 3 0a1.5 1.5 0 1 0 -3 0M254.7 55.2a1.5 1.5 0 1 0 3 0a1.5 1.5 0 1 0 -3 0M246 49.2a1.5 1.5 0 1 0 3 0a1.5 1.5 0 1 0 -3 0M250.1 75.9a1.5 1.5 0 1 0 3 0a1.5 1.5 0 1 0 -3 0M251.4 36a1.5 1.5 0 1 0 3 0a1.5 1.5 0 1 0 -3 0M244.6 35.3a1.5 1.5 0 1 0 3 0a1.5 1.5 0 1 0 -3 0M243.6 45.4a1.5 1.5 0 1 0 3 0a1.5 1.5 0 1 0 -3 0M242.4 42.1a1.5 1.5 0 1 0 3 0a1.5 1.5 0 1 0 -3 0M242 82.1a1.5 1.5 0 1 0 3 0a1.5 1.5 0 1 0 -3 0M239.5 74.6a1.5 1.5 0 1 0 3 0a1.5 1.5 0 1 0 -3 0M253.6 74.8a1.5 1.5 0 1 0 3 0a1.5 1.5 0 1 0 -3 0M241 79.3a1.5 1.5 0 1 0 3 0a1.5 1.5 0 1 0 -3 0M256.1 75.2a1.5 1.5 0 1 0 3 0a1.5 1.5 0 1 0 -3 0M255.2 50.6a1.5 1.5 0 1 0 3 0a1.5 1.5 0 1 0 -3 0M252.8 57a1.5 1.5 0 1 0 3 0a1.5 1.5 0 1 0 -3 0M238.9 62.8a1.5 1.5 0 1 0 3 0a1.5 1.5 0 1 0 -3 0M240.6 79a1.5 1.5 0 1 0 3 0a1.5 1.5 0 1 0 -3 0M251.6 61.1a1.5 1.5 0 1 0 3 0a1.5 1.5 0 1 0 -3 0M254 81.2a1.5 1.5 0 1 0 3 0a1.5 1.5 0 1 0 -3 0M243.4 63.8a1.5 1.5 0 1 0 3 0a1.5 1.5 0 1 0 -3 0M252.4 37.3a1.5 1.5 0 1 0 3 0a1.5 1.5 0 1 0 -3 0M242.5 83a1.5 1.5 0 1 0 3 0a1.5 1.5 0 1 0 -3 0M246.7 81.3a1.5 1.5 0 1 0 3 0a1.5 1.5 0 1 0 -3 0M247.8 80.2a1.5 1.5 0 1 0 3 0a1.5 1.5 0 1 0 -3 0M254.9 71a1.5 1.5 0 1 0 3 0a1.5 1.5 0 1 0 -3 0M253.6 78.3a1.5 1.5 0 1 0 3 0a1.5 1.5 0 1 0 -3 0M248.4 50.9a1.5 1.5 0 1 0 3 0a1.5 1.5 0 1 0 -3 0M252.3 80.7a1.5 1.5 0 1 0 3 0a1.5 1.5 0 1 0 -3 0M253.6 65.2a1.5 1.5 0 1 0 3 0a1.5 1.5 0 1 0 -3 0M244 72a1.5 1.5 0 1 0 3 0a1.5 1.5 0 1 0 -3 0M240.9 42.3a1.5 1.5 0 1 0 3 0a1.5 1.5 0 1 0 -3 0M251.4 48.3a1.5 1.5 0 1 0 3 0a1.5 1.5 0 1 0 -3 0M252.4 71.7a1.5 1.5 0 1 0 3 0a1.5 1.5 0 1 0 -3 0M244 84.2a1.5 1.5 0 1 0 3 0a1.5 1.5 0 1 0 -3 0M242.6 56.9a1.5 1.5 0 1 0 3 0a1.5 1.5 0 1 0 -3 0M251.1 37.1a1.5 1.5 0 1 0 3 0a1.5 1.5 0 1 0 -3 0M246.9 63.1a1.5 1.5 0 1 0 3 0a1.5 1.5 0 1 0 -3 0M254.9 80.7a1.5 1.5 0 1 0 3 0a1.5 1.5 0 1 0 -3 0M241.9 47.2a1.5 1.5 0 1 0 3 0a1.5 1.5 0 1 0 -3 0M244.5 46.7a1.5 1.5 0 1 0 3 0a1.5 1.5 0 1 0 -3 0M239.6 65.4a1.5 1.5 0 1 0 3 0a1.5 1.5 0 1 0 -3 0M251.2 37a1.5 1.5 0 1 0 3 0a1.5 1.5 0 1 0 -3 0M255 66.8a1.5 1.5 0 1 0 3 0a1.5 1.5 0 1 0 -3 0M250.9 55a1.5 1.5 0 1 0 3 0a1.5 1.5 0 1 0 -3 0M254 74.8a1.5 1.5 0 1 0 3 0a1.5 1.5 0 1 0 -3 0M245.7 62.5a1.5 1.5 0 1 0 3 0a1.5 1.5 0 1 0 -3 0M254.5 65.5a1.5 1.5 0 1 0 3 0a1.5 1.5 0 1 0 -3 0M239.7 36.5a1.5 1.5 0 1 0 3 0a1.5 1.5 0 1 0 -3 0M253.8 70.3a1.5 1.5 0 1 0 3 0a1.5 1.5 0 1 0 -3 0" fill="#00B0F6" fill-opacity="0.17" stroke="#00B0F6" stroke-opacity="0.33" stroke-width="0.8" filter="url(#f0)"/><path d="M176 88.1L177.5 88.4L179 88.7L180.5 89L182 89.2L183.5 89.5L185 89.8L186.5 90.1L188 90.4L189.5 90.7L191 90.9L192.5 91.2L194 91.5L195.5 91.8L197 92.1L198.5 92.3L200 92.6L201.5 92.8L203 93L204.5 93.2L206 93.4L207.5 93.6L209 93.8L210.5 94L212 94.2L213.5 94.4L215 94.6L216.5 94.7L218 94.9L219.5 95L221 95.1L222.5 95.2L224 95.3L225.5 95.3L227 95.4L228.5 95.4L230 95.4L231.5 95.5L233 95.5L234.5 95.5L236 95.5L237.5 95.6L239 95.6L240.5 95.6L242 95.6L243.5 95.6L245 95.6L246.5 95.6L248 95.6L249.5 95.5L251 95.4L252.5 95.4L254 95.3L255.5 95.2L257 95.1L258.5 95L260 94.9L261.5 94.8L263 94.7L264.5 94.7L266 94.6L267.5 94.5L269 94.4L270.5 94.3L272 94.2L273.5 94.2L275 94.1L276.5 94L278 93.9L279.5 93.8L279.5 107L278 107L276.5 107L275 107L273.5 107L272 107L270.5 107L269 107L267.5 107L266 107L264.5 107L263 107L261.5 107L260 107L258.5 107L257 107L255.5 107L254 107L252.5 107L251 107L249.5 107L248 107L246.5 107L245 107L243.5 107L242 107L240.5 107L239 107L237.5 107L236 107L234.5 107L233 107L231.5 107L230 107L228.5 107L227 107L225.5 107L224 107L222.5 107L221 107L219.5 107L218 107L216.5 107L215 107L213.5 107L212 107L210.5 107L209 107L207.5 107L206 107L204.5 107L203 107L201.5 107L200 107L198.5 107L197 107L195.5 107L194 107L192.5 107L191 107L189.5 107L188 107L186.5 107L185 107L183.5 107L182 107L180.5 107L179 107L177.5 107L176 107Z" fill="#00B0F6" fill-opacity="0.85"/><path d="M176 97.7L177.5 97.7L179 97.7L180.5 97.8L182 97.8L183.5 97.9L185 97.9L186.5 98L188 98L189.5 98.1L191 98.1L192.5 98.2L194 98.3L195.5 98.4L197 98.5L198.5 98.5L200 98.6L201.5 98.7L203 98.9L204.5 99L206 99.1L207.5 99.2L209 99.3L210.5 99.4L212 99.5L213.5 99.5L215 99.6L216.5 99.7L218 99.8L219.5 99.8L221 99.8L222.5 99.9L224 99.9L225.5 99.9L227 99.9L228.5 99.9L230 99.9L231.5 99.9L233 99.9L234.5 99.9L236 99.9L237.5 99.8L239 99.8L240.5 99.8L242 99.8L243.5 99.8L245 99.8L246.5 99.8L248 99.7L249.5 99.7L251 99.7L252.5 99.7L254 99.7L255.5 99.6L257 99.6L258.5 99.6L260 99.6L261.5 99.5L263 99.5L264.5 99.5L266 99.5L267.5 99.5L269 99.4L270.5 99.4L272 99.4L273.5 99.4L275 99.4L276.5 99.3L278 99.3L279.5 99.3L279.5 107L278 107L276.5 107L275 107L273.5 107L272 107L270.5 107L269 107L267.5 107L266 107L264.5 107L263 107L261.5 107L260 107L258.5 107L257 107L255.5 107L254 107L252.5 107L251 107L249.5 107L248 107L246.5 107L245 107L243.5 107L242 107L240.5 107L239 107L237.5 107L236 107L234.5 107L233 107L231.5 107L230 107L228.5 107L227 107L225.5 107L224 107L222.5 107L221 107L219.5 107L218 107L216.5 107L215 107L213.5 107L212 107L210.5 107L209 107L207.5 107L206 107L204.5 107L203 107L201.5 107L200 107L198.5 107L197 107L195.5 107L194 107L192.5 107L191 107L189.5 107L188 107L186.5 107L185 107L183.5 107L182 107L180.5 107L179 107L177.5 107L176 107Z" fill="#00BF7D" fill-opacity="0.85"/><path d="M176 101.5L177.5 101.6L179 101.7L180.5 101.7L182 101.8L183.5 101.9L185 102L186.5 102L188 102.1L189.5 102.2L191 102.3L192.5 102.3L194 102.4L195.5 102.5L197 102.5L198.5 102.6L200 102.7L201.5 102.8L203 102.8L204.5 102.9L206 102.9L207.5 103L209 103L210.5 103.1L212 103.1L213.5 103.2L215 103.2L216.5 103.3L218 103.3L219.5 103.3L221 103.4L222.5 103.4L224 103.4L225.5 103.4L227 103.4L228.5 103.4L230 103.4L231.5 103.4L233 103.4L234.5 103.5L236 103.5L237.5 103.5L239 103.5L240.5 103.5L242 103.5L243.5 103.5L245 103.5L246.5 103.5L248 103.5L249.5 103.5L251 103.5L252.5 103.5L254 103.5L255.5 103.5L257 103.5L258.5 103.5L260 103.5L261.5 103.5L263 103.5L264.5 103.6L266 103.6L267.5 103.6L269 103.6L270.5 103.6L272 103.6L273.5 103.6L275 103.6L276.5 103.6L278 103.6L279.5 103.6L279.5 107L278 107L276.5 107L275 107L273.5 107L272 107L270.5 107L269 107L267.5 107L266 107L264.5 107L263 107L261.5 107L260 107L258.5 107L257 107L255.5 107L254 107L252.5 107L251 107L249.5 107L248 107L246.5 107L245 107L243.5 107L242 107L240.5 107L239 107L237.5 107L236 107L234.5 107L233 107L231.5 107L230 107L228.5 107L227 107L225.5 107L224 107L222.5 107L221 107L219.5 107L218 107L216.5 107L215 107L213.5 107L212 107L210.5 107L209 107L207.5 107L206 107L204.5 107L203 107L201.5 107L200 107L198.5 107L197 107L195.5 107L194 107L192.5 107L191 107L189.5 107L188 107L186.5 107L185 107L183.5 107L182 107L180.5 107L179 107L177.5 107L176 107Z" fill="#A3A500" fill-opacity="0.85"/><path d="M176 103.3L177.5 103.4L179 103.5L180.5 103.5L182 103.6L183.5 103.7L185 103.8L186.5 103.8L188 103.9L189.5 104L191 104.1L192.5 104.1L194 104.2L195.5 104.3L197 104.3L198.5 104.4L200 104.5L201.5 104.6L203 104.6L204.5 104.7L206 104.7L207.5 104.8L209 104.8L210.5 104.9L212 104.9L213.5 105L215 105L216.5 105.1L218 105.1L219.5 105.1L221 105.2L222.5 105.2L224 105.2L225.5 105.2L227 105.2L228.5 105.2L230 105.2L231.5 105.2L233 105.2L234.5 105.3L236 105.3L237.5 105.3L239 105.3L240.5 105.3L242 105.3L243.5 105.3L245 105.3L246.5 105.3L248 105.3L249.5 105.3L251 105.3L252.5 105.3L254 105.3L255.5 105.3L257 105.3L258.5 105.3L260 105.3L261.5 105.3L263 105.3L264.5 105.4L266 105.4L267.5 105.4L269 105.4L270.5 105.4L272 105.4L273.5 105.4L275 105.4L276.5 105.4L278 105.4L279.5 105.4L279.5 107L278 107L276.5 107L275 107L273.5 107L272 107L270.5 107L269 107L267.5 107L266 107L264.5 107L263 107L261.5 107L260 107L258.5 107L257 107L255.5 107L254 107L252.5 107L251 107L249.5 107L248 107L246.5 107L245 107L243.5 107L242 107L240.5 107L239 107L237.5 107L236 107L234.5 107L233 107L231.5 107L230 107L228.5 107L227 107L225.5 107L224 107L222.5 107L221 107L219.5 107L218 107L216.5 107L215 107L213.5 107L212 107L210.5 107L209 107L207.5 107L206 107L204.5 107L203 107L201.5 107L200 107L198.5 107L197 107L195.5 107L194 107L192.5 107L191 107L189.5 107L188 107L186.5 107L185 107L183.5 107L182 107L180.5 107L179 107L177.5 107L176 107Z" fill="#F8766D" fill-opacity="0.8"/><path d="M170.2 98.2a1.5 1.5 0 1 0 3 0a1.5 1.5 0 1 0 -3 0M169.6 99.4a1.5 1.5 0 1 0 3 0a1.5 1.5 0 1 0 -3 0M170.7 98.3a1.5 1.5 0 1 0 3 0a1.5 1.5 0 1 0 -3 0M169.1 97.3a1.5 1.5 0 1 0 3 0a1.5 1.5 0 1 0 -3 0M174.1 98.6a1.5 1.5 0 1 0 3 0a1.5 1.5 0 1 0 -3 0M169.9 98.6a1.5 1.5 0 1 0 3 0a1.5 1.5 0 1 0 -3 0M168.2 97.2a1.5 1.5 0 1 0 3 0a1.5 1.5 0 1 0 -3 0M171.9 99.6a1.5 1.5 0 1 0 3 0a1.5 1.5 0 1 0 -3 0M169.9 99.5a1.5 1.5 0 1 0 3 0a1.5 1.5 0 1 0 -3 0" fill="#00BF7D" fill-opacity="0.21" stroke="#00BF7D" stroke-opacity="0.39" stroke-width="0.8" filter="url(#f0)"/><path d="M170.1 87.7a1.5 1.5 0 1 0 3 0a1.5 1.5 0 1 0 -3 0M172.3 88a1.5 1.5 0 1 0 3 0a1.5 1.5 0 1 0 -3 0M167.8 95.9a1.5 1.5 0 1 0 3 0a1.5 1.5 0 1 0 -3 0M173.6 96a1.5 1.5 0 1 0 3 0a1.5 1.5 0 1 0 -3 0M172.4 91.4a1.5 1.5 0 1 0 3 0a1.5 1.5 0 1 0 -3 0M174.6 96.7a1.5 1.5 0 1 0 3 0a1.5 1.5 0 1 0 -3 0M168.6 96.3a1.5 1.5 0 1 0 3 0a1.5 1.5 0 1 0 -3 0M169.8 92.9a1.5 1.5 0 1 0 3 0a1.5 1.5 0 1 0 -3 0M166.3 87.3a1.5 1.5 0 1 0 3 0a1.5 1.5 0 1 0 -3 0M173.7 96.6a1.5 1.5 0 1 0 3 0a1.5 1.5 0 1 0 -3 0M170 90.6a1.5 1.5 0 1 0 3 0a1.5 1.5 0 1 0 -3 0M173 95.3a1.5 1.5 0 1 0 3 0a1.5 1.5 0 1 0 -3 0M174.6 91.8a1.5 1.5 0 1 0 3 0a1.5 1.5 0 1 0 -3 0M169.4 94.9a1.5 1.5 0 1 0 3 0a1.5 1.5 0 1 0 -3 0M174.5 88.3a1.5 1.5 0 1 0 3 0a1.5 1.5 0 1 0 -3 0M175.1 95.4a1.5 1.5 0 1 0 3 0a1.5 1.5 0 1 0 -3 0M167.1 91.3a1.5 1.5 0 1 0 3 0a1.5 1.5 0 1 0 -3 0M174.9 90.3a1.5 1.5 0 1 0 3 0a1.5 1.5 0 1 0 -3 0" fill="#00B0F6" fill-opacity="0.21" stroke="#00B0F6" stroke-opacity="0.39" stroke-width="0.8" filter="url(#f0)"/><path d="M168.9 103.9a1.5 1.5 0 1 0 3 0a1.5 1.5 0 1 0 -3 0M174.7 104a1.5 1.5 0 1 0 3 0a1.5 1.5 0 1 0 -3 0M172.3 106.7a1.5 1.5 0 1 0 3 0a1.5 1.5 0 1 0 -3 0M171.2 104.1a1.5 1.5 0 1 0 3 0a1.5 1.5 0 1 0 -3 0M167.1 103.5a1.5 1.5 0 1 0 3 0a1.5 1.5 0 1 0 -3 0M167.7 103.1a1.5 1.5 0 1 0 3 0a1.5 1.5 0 1 0 -3 0M170.2 106.4a1.5 1.5 0 1 0 3 0a1.5 1.5 0 1 0 -3 0M166.6 104.9a1.5 1.5 0 1 0 3 0a1.5 1.5 0 1 0 -3 0M171.5 105.9a1.5 1.5 0 1 0 3 0a1.5 1.5 0 1 0 -3 0M169.4 106.4a1.5 1.5 0 1 0 3 0a1.5 1.5 0 1 0 -3 0" fill="#F8766D" fill-opacity="0.21" stroke="#F8766D" stroke-opacity="0.39" stroke-width="0.8" filter="url(#f0)"/><path d="M172.5 101.4a1.5 1.5 0 1 0 3 0a1.5 1.5 0 1 0 -3 0M169.7 102.1a1.5 1.5 0 1 0 3 0a1.5 1.5 0 1 0 -3 0M170.5 102.2a1.5 1.5 0 1 0 3 0a1.5 1.5 0 1 0 -3 0" fill="#A3A500" fill-opacity="0.21" stroke="#A3A500" stroke-opacity="0.39" stroke-width="0.8" filter="url(#f0)"/><path d="M184.1 105.6h0M262.5 104.9h0M195.4 101.7h0M244.7 106.4h0M182.3 103h0M171.8 106.8h0M176.2 105.9h0M243 101.4h0M216.8 105.5h0M216.4 100.2h0M256.4 102.6h0M177.5 100.1h0M227.8 104.3h0M201.4 105.6h0M241.1 104.3h0M205.4 106.6h0M264.2 103.5h0M199.3 105.4h0M244.9 101.2h0M257.3 100.6h0M234 102.8h0M265.6 104.8h0M263.2 105.6h0M213.7 104.1h0M187.2 103.7h0M193.5 105.1h0M181.2 100.6h0M262.9 102h0M177.5 100.5h0M249.5 106.6h0M210.7 104.8h0M268.4 100.8h0M231 106.2h0M259.7 101.7h0M213.3 101.8h0M235.3 102.1h0M270.9 105.2h0M170.9 104.1h0M237.8 104.9h0M217.9 106.1h0" stroke="#ffffff" stroke-opacity="0.3" stroke-width="2.4" stroke-linecap="round" fill="none"/><path d="M166.5 38L168 39.2L169.5 40.4L171 41.6L172.5 42.9L174 44.1L175.5 45.3L177 46.5L178.5 47.8L180 49L181.6 50.4L183.2 51.8L184.8 53.3L186.4 54.8L188 56.3L189.6 57.7L191.2 59.1L192.8 60.4L194.4 61.6L196 62.7L197.6 63.7L199.2 64.6L200.8 65.5L202.3 66.4L203.9 67.3L205.5 68.1L207.1 68.8L208.7 69.6L210.2 70.2L211.8 70.9L213.4 71.5L215 72L216.6 72.5L218.1 73L219.7 73.6L221.2 74.1L222.8 74.6L224.4 75.1L225.9 75.6L227.5 76L229.1 76.4L230.6 76.8L232.2 77.2L233.8 77.4L235.3 77.7L236.9 77.9L238.4 78L240 78L241.6 78L243.2 77.9L244.8 77.9L246.3 77.8L247.9 77.7L249.5 77.5L251.1 77.4L252.7 77.2L254.2 77.1L255.8 76.9L257.4 76.8L259 76.6L260.6 76.4L262.2 76.3L263.7 76.1L265.3 75.9L266.9 75.7L268.5 75.5L270 75.3L271.6 75.1L273.2 74.8L274.8 74.6L276.3 74.4L277.9 74.2L279.5 74" stroke="#F962EE" stroke-width="1.75" fill="none" stroke-linejoin="round" stroke-linecap="round"/><path d="M166.5 58.9L168 59.8L169.5 60.7L171 61.6L172.5 62.5L174 63.4L175.5 64.3L177 65.2L178.5 66.1L180 67L181.7 68L183.3 69L185 70L186.7 71L188.3 72L190 73L191.7 74L193.3 75L195 76L196.7 77L198.3 78L200 79L201.7 80L203.3 80.9L205 81.9L206.7 82.8L208.3 83.7L210 84.5L211.7 85.3L213.3 86.1L215 86.8L216.7 87.5L218.3 88.1L220 88.5L221.6 88.8L223.2 89.1L224.8 89.3L226.4 89.6L228 89.8L229.6 89.9L231.2 90.1L232.8 90.2L234.4 90.3L236 90.3L237.6 90.3L239.1 90.2L240.7 90.1L242.2 90L243.8 89.8L245.3 89.6L246.9 89.4L248.4 89.2L250 89L251.5 88.8L253 88.4L254.5 88.1L256 87.7L257.5 87.3L259 86.9L260.5 86.6L262 86.3L263.6 86L265.2 85.8L266.8 85.6L268.4 85.4L270 85.2L271.5 85L273.1 84.8L274.7 84.6L276.3 84.4L277.9 84.2L279.5 84" stroke="#00B0F6" stroke-width="1.75" fill="none" stroke-linejoin="round" stroke-linecap="round"/><path d="M166.5 85.4L168 85.7L169.6 86L171.1 86.3L172.7 86.6L174.2 86.9L175.8 87.2L177.3 87.5L178.8 87.8L180.4 88.1L181.9 88.4L183.5 88.7L185 89L186.5 89.3L188.1 89.6L189.6 89.9L191.2 90.2L192.7 90.5L194.2 90.8L195.8 91L197.3 91.3L198.8 91.6L200.4 91.8L201.9 92.1L203.5 92.3L205 92.5L206.5 92.7L208.1 92.9L209.6 93.1L211.2 93.3L212.7 93.5L214.2 93.7L215.8 93.8L217.3 94L218.8 94.1L220.4 94.3L221.9 94.4L223.5 94.4L225 94.5L226.5 94.5L228.1 94.6L229.6 94.6L231.2 94.6L232.7 94.7L234.2 94.7L235.8 94.7L237.3 94.7L238.8 94.8L240.4 94.8L241.9 94.8L243.5 94.8L245 94.8L246.5 94.8L248.1 94.8L249.6 94.7L251.2 94.6L252.7 94.6L254.3 94.5L255.8 94.4L257.4 94.3L258.9 94.2L260.5 94.1L262 94L263.6 93.9L265.2 93.8L266.8 93.7L268.4 93.7L270 93.6L271.5 93.5L273.1 93.4L274.7 93.3L276.3 93.2L277.9 93.1L279.5 93" stroke="#00BF7D" stroke-width="1.75" fill="none" stroke-linejoin="round" stroke-linecap="round"/><path d="M166.5 96.8L168.1 96.8L169.6 96.9L171.2 96.9L172.8 97L174.3 97L175.9 97.1L177.5 97.1L179 97.2L180.6 97.2L182.2 97.2L183.7 97.3L185.3 97.3L186.9 97.4L188.4 97.4L190 97.5L191.5 97.6L193 97.6L194.6 97.7L196.1 97.8L197.6 97.9L199.1 98L200.7 98.1L202.2 98.2L203.7 98.3L205.2 98.4L206.7 98.5L208.3 98.6L209.8 98.7L211.3 98.8L212.8 98.9L214.3 99L215.9 99.1L217.4 99.1L218.9 99.2L220.4 99.2L222 99.3L223.5 99.3L225 99.3L226.5 99.3L228 99.3L229.5 99.3L231.1 99.3L232.6 99.3L234.1 99.3L235.6 99.3L237.1 99.2L238.6 99.2L240.1 99.2L241.7 99.2L243.2 99.2L244.7 99.2L246.2 99.2L247.7 99.1L249.2 99.1L250.7 99.1L252.2 99.1L253.8 99.1L255.3 99L256.8 99L258.3 99L259.8 99L261.3 98.9L262.8 98.9L264.4 98.9L265.9 98.9L267.4 98.9L268.9 98.8L270.4 98.8L271.9 98.8L273.4 98.8L275 98.8L276.5 98.7L278 98.7L279.5 98.7" stroke="#A3A500" stroke-width="1.75" fill="none" stroke-linejoin="round" stroke-linecap="round"/><path d="M166.5 100.5L168 100.6L169.5 100.6L171 100.7L172.5 100.8L174 100.8L175.5 100.9L177 101L178.5 101L180 101.1L181.5 101.2L183 101.3L184.5 101.3L186 101.4L187.5 101.5L189 101.6L190.5 101.6L192 101.7L193.5 101.8L195 101.9L196.5 101.9L198 102L199.5 102.1L201 102.1L202.5 102.2L204 102.3L205.5 102.3L207 102.4L208.5 102.4L210 102.5L211.5 102.5L213 102.6L214.5 102.6L216 102.7L217.5 102.7L219 102.7L220.5 102.7L222 102.8L223.5 102.8L225 102.8L226.5 102.8L228 102.8L229.5 102.8L231.1 102.8L232.6 102.8L234.1 102.9L235.6 102.9L237.1 102.9L238.6 102.9L240.1 102.9L241.7 102.9L243.2 102.9L244.7 102.9L246.2 102.9L247.7 102.9L249.2 102.9L250.7 102.9L252.2 102.9L253.8 102.9L255.3 102.9L256.8 102.9L258.3 102.9L259.8 102.9L261.3 102.9L262.8 102.9L264.4 103L265.9 103L267.4 103L268.9 103L270.4 103L271.9 103L273.4 103L275 103L276.5 103L278 103L279.5 103" stroke="#F8766D" stroke-width="1.75" fill="none" stroke-linejoin="round" stroke-linecap="round"/>
</g>
<rect x="160.3" y="6" width="124" height="16" fill="#D9D9D9"/>
<text x="222.3" y="18.3" class="st">v_age</text>
<text x="166.2" y="123.6" class="tx">40</text>
<text x="195.8" y="123.6" class="tx">50</text>
<text x="225.4" y="123.6" class="tx">60</text>
<text x="255" y="123.6" class="tx">70</text>
<path d="M166.2 110v2.9M195.8 110v2.9M225.4 110v2.9M255 110v2.9" stroke="#333333" stroke-width="1.05" fill="none"/>
<rect x="289.7" y="22" width="124" height="88" fill="#EBEBEB"/>
<path d="M310.8 22V110M341.7 22V110M372.6 22V110M403.6 22V110M289.7 105.1H413.7M289.7 82.9H413.7M289.7 60.8H413.7M289.7 38.7H413.7" stroke="#F7F7F7" stroke-width="0.55" fill="none"/>
<path d="M295.3 22V110M326.2 22V110M357.2 22V110M388.1 22V110M289.7 94H413.7M289.7 71.9H413.7M289.7 49.7H413.7M289.7 27.6H413.7" stroke="#FFFFFF" stroke-width="1.05" fill="none"/>
<g clip-path="url(#c2)">
<path d="M295 26.3L409.7 26.3L409.7 100L295 100Z" fill="#F962EE" fill-opacity="0.3"/><clipPath id="k5"><rect x="295" y="26.3" width="114.7" height="80.5"/></clipPath><g clip-path="url(#k5)"><path d="M310.9 35.6L315.1 34.4L319.3 33.3L323.4 32.3L327.5 31.6L331.5 30.9L335.4 30.5L339.3 30.2L343.1 30L346.9 30L350.5 30.2L354.1 30.7L357.7 31.4L361.1 32.3L364.5 33.5L367.7 34.9L370.9 36.6L374.1 38.4L377.2 40.3L380.3 42.2L383.3 44.1L386.4 45.9L389.5 47.8L392.5 49.7L395.5 51.6L398.5 53.4L401.1 55.7L403.4 58.4L405.2 61.4L406.8 64.8L407.9 68.7L408.6 72.9L409 77.5L409 82.5L407.2 86.9L403.7 90.6L398.4 93.8L391.3 96.2L382.5 98.1L371.9 99.4L359.6 100L345.4 100L333.1 99.1L322.5 97.2L313.7 94.4L306.6 90.6L301.3 85.9L297.8 80.3L296 73.8L296 66.2L296.5 59.5L297.6 53.6L299.2 48.4L301.3 44.1L304 40.5L307.2 37.7Z" fill="#F962EE" fill-opacity="0.3"/></g><path d="M298.7 60.8a1.5 1.5 0 1 0 3 0a1.5 1.5 0 1 0 -3 0M312.9 63a1.5 1.5 0 1 0 3 0a1.5 1.5 0 1 0 -3 0M315.2 56a1.5 1.5 0 1 0 3 0a1.5 1.5 0 1 0 -3 0M319.2 48.9a1.5 1.5 0 1 0 3 0a1.5 1.5 0 1 0 -3 0M311.4 34.2a1.5 1.5 0 1 0 3 0a1.5 1.5 0 1 0 -3 0M317.6 60.5a1.5 1.5 0 1 0 3 0a1.5 1.5 0 1 0 -3 0M307.9 53.9a1.5 1.5 0 1 0 3 0a1.5 1.5 0 1 0 -3 0M302.1 34.6a1.5 1.5 0 1 0 3 0a1.5 1.5 0 1 0 -3 0M306.7 39.7a1.5 1.5 0 1 0 3 0a1.5 1.5 0 1 0 -3 0M319.7 51.6a1.5 1.5 0 1 0 3 0a1.5 1.5 0 1 0 -3 0M298.2 70.2a1.5 1.5 0 1 0 3 0a1.5 1.5 0 1 0 -3 0M308.9 63.4a1.5 1.5 0 1 0 3 0a1.5 1.5 0 1 0 -3 0M322.4 62a1.5 1.5 0 1 0 3 0a1.5 1.5 0 1 0 -3 0M328.2 55.6a1.5 1.5 0 1 0 3 0a1.5 1.5 0 1 0 -3 0M314 57.1a1.5 1.5 0 1 0 3 0a1.5 1.5 0 1 0 -3 0M295.2 36a1.5 1.5 0 1 0 3 0a1.5 1.5 0 1 0 -3 0M326.5 38.6a1.5 1.5 0 1 0 3 0a1.5 1.5 0 1 0 -3 0M320.8 56.2a1.5 1.5 0 1 0 3 0a1.5 1.5 0 1 0 -3 0M318.9 50.8a1.5 1.5 0 1 0 3 0a1.5 1.5 0 1 0 -3 0M299 55.8a1.5 1.5 0 1 0 3 0a1.5 1.5 0 1 0 -3 0M298.5 54a1.5 1.5 0 1 0 3 0a1.5 1.5 0 1 0 -3 0M293.9 42.1a1.5 1.5 0 1 0 3 0a1.5 1.5 0 1 0 -3 0M298.8 35.9a1.5 1.5 0 1 0 3 0a1.5 1.5 0 1 0 -3 0M293.7 43.7a1.5 1.5 0 1 0 3 0a1.5 1.5 0 1 0 -3 0M319 50.7a1.5 1.5 0 1 0 3 0a1.5 1.5 0 1 0 -3 0M317.3 31.1a1.5 1.5 0 1 0 3 0a1.5 1.5 0 1 0 -3 0M321.7 71.5a1.5 1.5 0 1 0 3 0a1.5 1.5 0 1 0 -3 0M301.4 34.6a1.5 1.5 0 1 0 3 0a1.5 1.5 0 1 0 -3 0M309.9 30.4a1.5 1.5 0 1 0 3 0a1.5 1.5 0 1 0 -3 0M307.7 39.2a1.5 1.5 0 1 0 3 0a1.5 1.5 0 1 0 -3 0M299.1 33.7a1.5 1.5 0 1 0 3 0a1.5 1.5 0 1 0 -3 0M310.1 71.8a1.5 1.5 0 1 0 3 0a1.5 1.5 0 1 0 -3 0M317.6 38.2a1.5 1.5 0 1 0 3 0a1.5 1.5 0 1 0 -3 0M323.8 33a1.5 1.5 0 1 0 3 0a1.5 1.5 0 1 0 -3 0M316.9 76a1.5 1.5 0 1 0 3 0a1.5 1.5 0 1 0 -3 0M309.3 60.1a1.5 1.5 0 1 0 3 0a1.5 1.5 0 1 0 -3 0M319.4 33.7a1.5 1.5 0 1 0 3 0a1.5 1.5 0 1 0 -3 0M312.5 53.4a1.5 1.5 0 1 0 3 0a1.5 1.5 0 1 0 -3 0M293.8 59.1a1.5 1.5 0 1 0 3 0a1.5 1.5 0 1 0 -3 0M325 37.5a1.5 1.5 0 1 0 3 0a1.5 1.5 0 1 0 -3 0M328 39.8a1.5 1.5 0 1 0 3 0a1.5 1.5 0 1 0 -3 0M320 67.7a1.5 1.5 0 1 0 3 0a1.5 1.5 0 1 0 -3 0M313.8 38.1a1.5 1.5 0 1 0 3 0a1.5 1.5 0 1 0 -3 0M299.9 43a1.5 1.5 0 1 0 3 0a1.5 1.5 0 1 0 -3 0M321.2 64.8a1.5 1.5 0 1 0 3 0a1.5 1.5 0 1 0 -3 0M319.8 62.4a1.5 1.5 0 1 0 3 0a1.5 1.5 0 1 0 -3 0M299.7 78.9a1.5 1.5 0 1 0 3 0a1.5 1.5 0 1 0 -3 0M315.8 51.1a1.5 1.5 0 1 0 3 0a1.5 1.5 0 1 0 -3 0M319.8 43.7a1.5 1.5 0 1 0 3 0a1.5 1.5 0 1 0 -3 0M327.3 42a1.5 1.5 0 1 0 3 0a1.5 1.5 0 1 0 -3 0M317 49.7a1.5 1.5 0 1 0 3 0a1.5 1.5 0 1 0 -3 0M317.7 47a1.5 1.5 0 1 0 3 0a1.5 1.5 0 1 0 -3 0M295.4 64.4a1.5 1.5 0 1 0 3 0a1.5 1.5 0 1 0 -3 0M294.1 52.6a1.5 1.5 0 1 0 3 0a1.5 1.5 0 1 0 -3 0M318.9 31.1a1.5 1.5 0 1 0 3 0a1.5 1.5 0 1 0 -3 0M327.3 65.4a1.5 1.5 0 1 0 3 0a1.5 1.5 0 1 0 -3 0M308.9 52.5a1.5 1.5 0 1 0 3 0a1.5 1.5 0 1 0 -3 0M301.6 46.1a1.5 1.5 0 1 0 3 0a1.5 1.5 0 1 0 -3 0M325.6 39.9a1.5 1.5 0 1 0 3 0a1.5 1.5 0 1 0 -3 0M315.7 44.2a1.5 1.5 0 1 0 3 0a1.5 1.5 0 1 0 -3 0M297.5 57.6a1.5 1.5 0 1 0 3 0a1.5 1.5 0 1 0 -3 0M303.6 55.7a1.5 1.5 0 1 0 3 0a1.5 1.5 0 1 0 -3 0M300.7 31.2a1.5 1.5 0 1 0 3 0a1.5 1.5 0 1 0 -3 0M293.6 40.3a1.5 1.5 0 1 0 3 0a1.5 1.5 0 1 0 -3 0M302.1 59.3a1.5 1.5 0 1 0 3 0a1.5 1.5 0 1 0 -3 0M293.8 56.8a1.5 1.5 0 1 0 3 0a1.5 1.5 0 1 0 -3 0M301.8 51a1.5 1.5 0 1 0 3 0a1.5 1.5 0 1 0 -3 0M325.7 78a1.5 1.5 0 1 0 3 0a1.5 1.5 0 1 0 -3 0M321 34.2a1.5 1.5 0 1 0 3 0a1.5 1.5 0 1 0 -3 0M301.7 77.8a1.5 1.5 0 1 0 3 0a1.5 1.5 0 1 0 -3 0M324.8 66.9a1.5 1.5 0 1 0 3 0a1.5 1.5 0 1 0 -3 0M293.9 72.8a1.5 1.5 0 1 0 3 0a1.5 1.5 0 1 0 -3 0M299.9 40.3a1.5 1.5 0 1 0 3 0a1.5 1.5 0 1 0 -3 0M326.9 46.6a1.5 1.5 0 1 0 3 0a1.5 1.5 0 1 0 -3 0M303.4 59.8a1.5 1.5 0 1 0 3 0a1.5 1.5 0 1 0 -3 0M326.1 49.1a1.5 1.5 0 1 0 3 0a1.5 1.5 0 1 0 -3 0M325.2 72.2a1.5 1.5 0 1 0 3 0a1.5 1.5 0 1 0 -3 0M328 76.3a1.5 1.5 0 1 0 3 0a1.5 1.5 0 1 0 -3 0M303.6 62.4a1.5 1.5 0 1 0 3 0a1.5 1.5 0 1 0 -3 0M302.9 39.4a1.5 1.5 0 1 0 3 0a1.5 1.5 0 1 0 -3 0M298.4 76.9a1.5 1.5 0 1 0 3 0a1.5 1.5 0 1 0 -3 0M316.1 47.2a1.5 1.5 0 1 0 3 0a1.5 1.5 0 1 0 -3 0M308.2 48.1a1.5 1.5 0 1 0 3 0a1.5 1.5 0 1 0 -3 0M303.6 56.7a1.5 1.5 0 1 0 3 0a1.5 1.5 0 1 0 -3 0M306.6 31.8a1.5 1.5 0 1 0 3 0a1.5 1.5 0 1 0 -3 0M323.8 69.2a1.5 1.5 0 1 0 3 0a1.5 1.5 0 1 0 -3 0M321.7 76.1a1.5 1.5 0 1 0 3 0a1.5 1.5 0 1 0 -3 0M308.1 79.3a1.5 1.5 0 1 0 3 0a1.5 1.5 0 1 0 -3 0M312.6 37.3a1.5 1.5 0 1 0 3 0a1.5 1.5 0 1 0 -3 0M299.9 46.9a1.5 1.5 0 1 0 3 0a1.5 1.5 0 1 0 -3 0M319.8 46.8a1.5 1.5 0 1 0 3 0a1.5 1.5 0 1 0 -3 0M307.2 35.1a1.5 1.5 0 1 0 3 0a1.5 1.5 0 1 0 -3 0M322.4 60.7a1.5 1.5 0 1 0 3 0a1.5 1.5 0 1 0 -3 0M304 53.4a1.5 1.5 0 1 0 3 0a1.5 1.5 0 1 0 -3 0M316.6 40.3a1.5 1.5 0 1 0 3 0a1.5 1.5 0 1 0 -3 0M315.1 34.6a1.5 1.5 0 1 0 3 0a1.5 1.5 0 1 0 -3 0M303.6 72.8a1.5 1.5 0 1 0 3 0a1.5 1.5 0 1 0 -3 0M323.4 74.6a1.5 1.5 0 1 0 3 0a1.5 1.5 0 1 0 -3 0M294.6 68.4a1.5 1.5 0 1 0 3 0a1.5 1.5 0 1 0 -3 0M325.8 50.7a1.5 1.5 0 1 0 3 0a1.5 1.5 0 1 0 -3 0M310.6 71.6a1.5 1.5 0 1 0 3 0a1.5 1.5 0 1 0 -3 0M297.5 69.2a1.5 1.5 0 1 0 3 0a1.5 1.5 0 1 0 -3 0M326.5 58.6a1.5 1.5 0 1 0 3 0a1.5 1.5 0 1 0 -3 0M314.2 72.4a1.5 1.5 0 1 0 3 0a1.5 1.5 0 1 0 -3 0M306.6 36.2a1.5 1.5 0 1 0 3 0a1.5 1.5 0 1 0 -3 0M326.3 75.2a1.5 1.5 0 1 0 3 0a1.5 1.5 0 1 0 -3 0M321.3 69a1.5 1.5 0 1 0 3 0a1.5 1.5 0 1 0 -3 0M323.3 43.6a1.5 1.5 0 1 0 3 0a1.5 1.5 0 1 0 -3 0M300.8 52.7a1.5 1.5 0 1 0 3 0a1.5 1.5 0 1 0 -3 0M309.3 49.2a1.5 1.5 0 1 0 3 0a1.5 1.5 0 1 0 -3 0M310.3 67.3a1.5 1.5 0 1 0 3 0a1.5 1.5 0 1 0 -3 0M300.2 54a1.5 1.5 0 1 0 3 0a1.5 1.5 0 1 0 -3 0M323.1 54.1a1.5 1.5 0 1 0 3 0a1.5 1.5 0 1 0 -3 0M303.9 54.6a1.5 1.5 0 1 0 3 0a1.5 1.5 0 1 0 -3 0M318.2 55.1a1.5 1.5 0 1 0 3 0a1.5 1.5 0 1 0 -3 0M299.8 77.1a1.5 1.5 0 1 0 3 0a1.5 1.5 0 1 0 -3 0M303.2 67.9a1.5 1.5 0 1 0 3 0a1.5 1.5 0 1 0 -3 0M296.3 62.9a1.5 1.5 0 1 0 3 0a1.5 1.5 0 1 0 -3 0M305 56.3a1.5 1.5 0 1 0 3 0a1.5 1.5 0 1 0 -3 0M328 66.2a1.5 1.5 0 1 0 3 0a1.5 1.5 0 1 0 -3 0M323.1 42.5a1.5 1.5 0 1 0 3 0a1.5 1.5 0 1 0 -3 0M301.6 55.2a1.5 1.5 0 1 0 3 0a1.5 1.5 0 1 0 -3 0M294.5 35.5a1.5 1.5 0 1 0 3 0a1.5 1.5 0 1 0 -3 0M316.5 38.6a1.5 1.5 0 1 0 3 0a1.5 1.5 0 1 0 -3 0M327.9 41.6a1.5 1.5 0 1 0 3 0a1.5 1.5 0 1 0 -3 0M304.5 37.6a1.5 1.5 0 1 0 3 0a1.5 1.5 0 1 0 -3 0M307.5 63.7a1.5 1.5 0 1 0 3 0a1.5 1.5 0 1 0 -3 0M327.4 32.1a1.5 1.5 0 1 0 3 0a1.5 1.5 0 1 0 -3 0M315.7 66.7a1.5 1.5 0 1 0 3 0a1.5 1.5 0 1 0 -3 0M327 69.1a1.5 1.5 0 1 0 3 0a1.5 1.5 0 1 0 -3 0M306.2 68.7a1.5 1.5 0 1 0 3 0a1.5 1.5 0 1 0 -3 0M318 69a1.5 1.5 0 1 0 3 0a1.5 1.5 0 1 0 -3 0M311.8 52.6a1.5 1.5 0 1 0 3 0a1.5 1.5 0 1 0 -3 0M323.3 40.1a1.5 1.5 0 1 0 3 0a1.5 1.5 0 1 0 -3 0M302 49.9a1.5 1.5 0 1 0 3 0a1.5 1.5 0 1 0 -3 0M301.3 65.1a1.5 1.5 0 1 0 3 0a1.5 1.5 0 1 0 -3 0M319.6 52.1a1.5 1.5 0 1 0 3 0a1.5 1.5 0 1 0 -3 0M301 40.7a1.5 1.5 0 1 0 3 0a1.5 1.5 0 1 0 -3 0M301.2 71.1a1.5 1.5 0 1 0 3 0a1.5 1.5 0 1 0 -3 0M305.4 57.1a1.5 1.5 0 1 0 3 0a1.5 1.5 0 1 0 -3 0M317.1 30.8a1.5 1.5 0 1 0 3 0a1.5 1.5 0 1 0 -3 0M299.2 79.6a1.5 1.5 0 1 0 3 0a1.5 1.5 0 1 0 -3 0M319.9 78.7a1.5 1.5 0 1 0 3 0a1.5 1.5 0 1 0 -3 0M407.2 45.8a1.5 1.5 0 1 0 3 0a1.5 1.5 0 1 0 -3 0M370.1 30.4a1.5 1.5 0 1 0 3 0a1.5 1.5 0 1 0 -3 0M404.7 46.3a1.5 1.5 0 1 0 3 0a1.5 1.5 0 1 0 -3 0M405.2 51a1.5 1.5 0 1 0 3 0a1.5 1.5 0 1 0 -3 0M376.1 57a1.5 1.5 0 1 0 3 0a1.5 1.5 0 1 0 -3 0M402 74.7a1.5 1.5 0 1 0 3 0a1.5 1.5 0 1 0 -3 0M392.9 74.2a1.5 1.5 0 1 0 3 0a1.5 1.5 0 1 0 -3 0M370.4 49a1.5 1.5 0 1 0 3 0a1.5 1.5 0 1 0 -3 0M368.9 50.6a1.5 1.5 0 1 0 3 0a1.5 1.5 0 1 0 -3 0M377.5 60.4a1.5 1.5 0 1 0 3 0a1.5 1.5 0 1 0 -3 0M386.2 45.4a1.5 1.5 0 1 0 3 0a1.5 1.5 0 1 0 -3 0M391.6 76.9a1.5 1.5 0 1 0 3 0a1.5 1.5 0 1 0 -3 0M369.1 63.2a1.5 1.5 0 1 0 3 0a1.5 1.5 0 1 0 -3 0M400.9 57.5a1.5 1.5 0 1 0 3 0a1.5 1.5 0 1 0 -3 0M395.4 61.1a1.5 1.5 0 1 0 3 0a1.5 1.5 0 1 0 -3 0M382.7 61.9a1.5 1.5 0 1 0 3 0a1.5 1.5 0 1 0 -3 0M375.6 70.9a1.5 1.5 0 1 0 3 0a1.5 1.5 0 1 0 -3 0M405.4 38.6a1.5 1.5 0 1 0 3 0a1.5 1.5 0 1 0 -3 0M374.1 45a1.5 1.5 0 1 0 3 0a1.5 1.5 0 1 0 -3 0M377.4 50.8a1.5 1.5 0 1 0 3 0a1.5 1.5 0 1 0 -3 0M370.1 54.5a1.5 1.5 0 1 0 3 0a1.5 1.5 0 1 0 -3 0M397.9 66.9a1.5 1.5 0 1 0 3 0a1.5 1.5 0 1 0 -3 0M397.7 54.3a1.5 1.5 0 1 0 3 0a1.5 1.5 0 1 0 -3 0M385.7 37.6a1.5 1.5 0 1 0 3 0a1.5 1.5 0 1 0 -3 0M403.8 33.5a1.5 1.5 0 1 0 3 0a1.5 1.5 0 1 0 -3 0M373.8 59.7a1.5 1.5 0 1 0 3 0a1.5 1.5 0 1 0 -3 0M370.9 39.5a1.5 1.5 0 1 0 3 0a1.5 1.5 0 1 0 -3 0M379.3 72.6a1.5 1.5 0 1 0 3 0a1.5 1.5 0 1 0 -3 0M405.7 34.2a1.5 1.5 0 1 0 3 0a1.5 1.5 0 1 0 -3 0M378.3 67.2a1.5 1.5 0 1 0 3 0a1.5 1.5 0 1 0 -3 0M390.4 61a1.5 1.5 0 1 0 3 0a1.5 1.5 0 1 0 -3 0M387.7 75.5a1.5 1.5 0 1 0 3 0a1.5 1.5 0 1 0 -3 0M369.3 47.1a1.5 1.5 0 1 0 3 0a1.5 1.5 0 1 0 -3 0M398 30.3a1.5 1.5 0 1 0 3 0a1.5 1.5 0 1 0 -3 0M397.9 68.9a1.5 1.5 0 1 0 3 0a1.5 1.5 0 1 0 -3 0M388 74.8a1.5 1.5 0 1 0 3 0a1.5 1.5 0 1 0 -3 0M368.9 54a1.5 1.5 0 1 0 3 0a1.5 1.5 0 1 0 -3 0M369.7 41.9a1.5 1.5 0 1 0 3 0a1.5 1.5 0 1 0 -3 0M375.8 62.2a1.5 1.5 0 1 0 3 0a1.5 1.5 0 1 0 -3 0M399.5 51.4a1.5 1.5 0 1 0 3 0a1.5 1.5 0 1 0 -3 0M383.5 82.3a1.5 1.5 0 1 0 3 0a1.5 1.5 0 1 0 -3 0M388.5 77a1.5 1.5 0 1 0 3 0a1.5 1.5 0 1 0 -3 0M403.7 65.2a1.5 1.5 0 1 0 3 0a1.5 1.5 0 1 0 -3 0M397.2 78.6a1.5 1.5 0 1 0 3 0a1.5 1.5 0 1 0 -3 0M397 77a1.5 1.5 0 1 0 3 0a1.5 1.5 0 1 0 -3 0M401.9 84.3a1.5 1.5 0 1 0 3 0a1.5 1.5 0 1 0 -3 0M379.3 31.1a1.5 1.5 0 1 0 3 0a1.5 1.5 0 1 0 -3 0M398.9 83.6a1.5 1.5 0 1 0 3 0a1.5 1.5 0 1 0 -3 0M375.2 45a1.5 1.5 0 1 0 3 0a1.5 1.5 0 1 0 -3 0M386.1 75a1.5 1.5 0 1 0 3 0a1.5 1.5 0 1 0 -3 0M400.7 59.3a1.5 1.5 0 1 0 3 0a1.5 1.5 0 1 0 -3 0M392.6 74.2a1.5 1.5 0 1 0 3 0a1.5 1.5 0 1 0 -3 0M391.5 77.9a1.5 1.5 0 1 0 3 0a1.5 1.5 0 1 0 -3 0M368.8 68.9a1.5 1.5 0 1 0 3 0a1.5 1.5 0 1 0 -3 0M388.5 43.7a1.5 1.5 0 1 0 3 0a1.5 1.5 0 1 0 -3 0M402.8 55.2a1.5 1.5 0 1 0 3 0a1.5 1.5 0 1 0 -3 0M408 35.5a1.5 1.5 0 1 0 3 0a1.5 1.5 0 1 0 -3 0M371.8 68a1.5 1.5 0 1 0 3 0a1.5 1.5 0 1 0 -3 0M376.3 44.6a1.5 1.5 0 1 0 3 0a1.5 1.5 0 1 0 -3 0M379.6 59a1.5 1.5 0 1 0 3 0a1.5 1.5 0 1 0 -3 0M394.4 71.2a1.5 1.5 0 1 0 3 0a1.5 1.5 0 1 0 -3 0M407.4 35.1a1.5 1.5 0 1 0 3 0a1.5 1.5 0 1 0 -3 0M378.7 73.6a1.5 1.5 0 1 0 3 0a1.5 1.5 0 1 0 -3 0M375.1 72.5a1.5 1.5 0 1 0 3 0a1.5 1.5 0 1 0 -3 0M389.1 73.1a1.5 1.5 0 1 0 3 0a1.5 1.5 0 1 0 -3 0M404.8 57.5a1.5 1.5 0 1 0 3 0a1.5 1.5 0 1 0 -3 0M398.8 55.1a1.5 1.5 0 1 0 3 0a1.5 1.5 0 1 0 -3 0M401.4 76.5a1.5 1.5 0 1 0 3 0a1.5 1.5 0 1 0 -3 0M395.1 54.9a1.5 1.5 0 1 0 3 0a1.5 1.5 0 1 0 -3 0M388.5 48.8a1.5 1.5 0 1 0 3 0a1.5 1.5 0 1 0 -3 0M397.7 51a1.5 1.5 0 1 0 3 0a1.5 1.5 0 1 0 -3 0M371.6 60.9a1.5 1.5 0 1 0 3 0a1.5 1.5 0 1 0 -3 0M371 83.5a1.5 1.5 0 1 0 3 0a1.5 1.5 0 1 0 -3 0M387 73.2a1.5 1.5 0 1 0 3 0a1.5 1.5 0 1 0 -3 0M389.8 53.6a1.5 1.5 0 1 0 3 0a1.5 1.5 0 1 0 -3 0M406.3 52.1a1.5 1.5 0 1 0 3 0a1.5 1.5 0 1 0 -3 0M402.9 62.4a1.5 1.5 0 1 0 3 0a1.5 1.5 0 1 0 -3 0" fill="#F962EE" fill-opacity="0.17" stroke="#F962EE" stroke-opacity="0.33" stroke-width="0.8" filter="url(#f0)"/><path d="M307 60.9a1.5 1.5 0 1 0 3 0a1.5 1.5 0 1 0 -3 0M313.8 66.2a1.5 1.5 0 1 0 3 0a1.5 1.5 0 1 0 -3 0M324.9 71.9a1.5 1.5 0 1 0 3 0a1.5 1.5 0 1 0 -3 0M312.1 37.3a1.5 1.5 0 1 0 3 0a1.5 1.5 0 1 0 -3 0M300.8 59.4a1.5 1.5 0 1 0 3 0a1.5 1.5 0 1 0 -3 0M303.8 36.4a1.5 1.5 0 1 0 3 0a1.5 1.5 0 1 0 -3 0M315.9 56.8a1.5 1.5 0 1 0 3 0a1.5 1.5 0 1 0 -3 0M307.2 67.2a1.5 1.5 0 1 0 3 0a1.5 1.5 0 1 0 -3 0M312.2 78.7a1.5 1.5 0 1 0 3 0a1.5 1.5 0 1 0 -3 0M301 52.4a1.5 1.5 0 1 0 3 0a1.5 1.5 0 1 0 -3 0M308.6 64.3a1.5 1.5 0 1 0 3 0a1.5 1.5 0 1 0 -3 0M313.5 40.4a1.5 1.5 0 1 0 3 0a1.5 1.5 0 1 0 -3 0M324.8 65.7a1.5 1.5 0 1 0 3 0a1.5 1.5 0 1 0 -3 0M322.8 78.4a1.5 1.5 0 1 0 3 0a1.5 1.5 0 1 0 -3 0M318.1 76.1a1.5 1.5 0 1 0 3 0a1.5 1.5 0 1 0 -3 0M317.4 69.7a1.5 1.5 0 1 0 3 0a1.5 1.5 0 1 0 -3 0M294.6 55.3a1.5 1.5 0 1 0 3 0a1.5 1.5 0 1 0 -3 0M303.1 75.1a1.5 1.5 0 1 0 3 0a1.5 1.5 0 1 0 -3 0M325.7 68.8a1.5 1.5 0 1 0 3 0a1.5 1.5 0 1 0 -3 0M312.3 66.1a1.5 1.5 0 1 0 3 0a1.5 1.5 0 1 0 -3 0M322.7 79.5a1.5 1.5 0 1 0 3 0a1.5 1.5 0 1 0 -3 0M327.9 77.5a1.5 1.5 0 1 0 3 0a1.5 1.5 0 1 0 -3 0M319.5 70.7a1.5 1.5 0 1 0 3 0a1.5 1.5 0 1 0 -3 0M312.5 41.9a1.5 1.5 0 1 0 3 0a1.5 1.5 0 1 0 -3 0M322.2 70.9a1.5 1.5 0 1 0 3 0a1.5 1.5 0 1 0 -3 0M314.4 50.1a1.5 1.5 0 1 0 3 0a1.5 1.5 0 1 0 -3 0M318.9 54.5a1.5 1.5 0 1 0 3 0a1.5 1.5 0 1 0 -3 0M324.9 55.2a1.5 1.5 0 1 0 3 0a1.5 1.5 0 1 0 -3 0M311.3 61.8a1.5 1.5 0 1 0 3 0a1.5 1.5 0 1 0 -3 0M311.1 34.1a1.5 1.5 0 1 0 3 0a1.5 1.5 0 1 0 -3 0M319.5 47.3a1.5 1.5 0 1 0 3 0a1.5 1.5 0 1 0 -3 0M309.7 72.3a1.5 1.5 0 1 0 3 0a1.5 1.5 0 1 0 -3 0M322.5 46.3a1.5 1.5 0 1 0 3 0a1.5 1.5 0 1 0 -3 0M325 67.4a1.5 1.5 0 1 0 3 0a1.5 1.5 0 1 0 -3 0M311.8 38a1.5 1.5 0 1 0 3 0a1.5 1.5 0 1 0 -3 0M320.8 53.9a1.5 1.5 0 1 0 3 0a1.5 1.5 0 1 0 -3 0M319.9 40.4a1.5 1.5 0 1 0 3 0a1.5 1.5 0 1 0 -3 0M299.4 75.3a1.5 1.5 0 1 0 3 0a1.5 1.5 0 1 0 -3 0M300.3 40.1a1.5 1.5 0 1 0 3 0a1.5 1.5 0 1 0 -3 0M299.7 33.7a1.5 1.5 0 1 0 3 0a1.5 1.5 0 1 0 -3 0M327.1 35.3a1.5 1.5 0 1 0 3 0a1.5 1.5 0 1 0 -3 0M326.9 64a1.5 1.5 0 1 0 3 0a1.5 1.5 0 1 0 -3 0M320.4 46.5a1.5 1.5 0 1 0 3 0a1.5 1.5 0 1 0 -3 0M305.7 60.9a1.5 1.5 0 1 0 3 0a1.5 1.5 0 1 0 -3 0M325.7 64.7a1.5 1.5 0 1 0 3 0a1.5 1.5 0 1 0 -3 0M325.5 34.7a1.5 1.5 0 1 0 3 0a1.5 1.5 0 1 0 -3 0M321.6 41.6a1.5 1.5 0 1 0 3 0a1.5 1.5 0 1 0 -3 0M300.2 59.2a1.5 1.5 0 1 0 3 0a1.5 1.5 0 1 0 -3 0M314.2 73.3a1.5 1.5 0 1 0 3 0a1.5 1.5 0 1 0 -3 0M300.9 58.9a1.5 1.5 0 1 0 3 0a1.5 1.5 0 1 0 -3 0M317 42.1a1.5 1.5 0 1 0 3 0a1.5 1.5 0 1 0 -3 0M328.4 42.6a1.5 1.5 0 1 0 3 0a1.5 1.5 0 1 0 -3 0M322 72.8a1.5 1.5 0 1 0 3 0a1.5 1.5 0 1 0 -3 0M304.8 77a1.5 1.5 0 1 0 3 0a1.5 1.5 0 1 0 -3 0M304.7 39.7a1.5 1.5 0 1 0 3 0a1.5 1.5 0 1 0 -3 0M319.2 50a1.5 1.5 0 1 0 3 0a1.5 1.5 0 1 0 -3 0M319 60.1a1.5 1.5 0 1 0 3 0a1.5 1.5 0 1 0 -3 0M404.7 49.7a1.5 1.5 0 1 0 3 0a1.5 1.5 0 1 0 -3 0M377.4 78.9a1.5 1.5 0 1 0 3 0a1.5 1.5 0 1 0 -3 0M384 48.5a1.5 1.5 0 1 0 3 0a1.5 1.5 0 1 0 -3 0M405.7 48.8a1.5 1.5 0 1 0 3 0a1.5 1.5 0 1 0 -3 0M382.6 37a1.5 1.5 0 1 0 3 0a1.5 1.5 0 1 0 -3 0M406.2 37.7a1.5 1.5 0 1 0 3 0a1.5 1.5 0 1 0 -3 0M369 64.1a1.5 1.5 0 1 0 3 0a1.5 1.5 0 1 0 -3 0M371.9 49.1a1.5 1.5 0 1 0 3 0a1.5 1.5 0 1 0 -3 0M397.8 76.8a1.5 1.5 0 1 0 3 0a1.5 1.5 0 1 0 -3 0M386.2 30.5a1.5 1.5 0 1 0 3 0a1.5 1.5 0 1 0 -3 0M374.8 55.2a1.5 1.5 0 1 0 3 0a1.5 1.5 0 1 0 -3 0M404.6 84.4a1.5 1.5 0 1 0 3 0a1.5 1.5 0 1 0 -3 0M402 71.7a1.5 1.5 0 1 0 3 0a1.5 1.5 0 1 0 -3 0M406.3 46.3a1.5 1.5 0 1 0 3 0a1.5 1.5 0 1 0 -3 0M398.1 72a1.5 1.5 0 1 0 3 0a1.5 1.5 0 1 0 -3 0M384.1 50.3a1.5 1.5 0 1 0 3 0a1.5 1.5 0 1 0 -3 0M385.8 48.3a1.5 1.5 0 1 0 3 0a1.5 1.5 0 1 0 -3 0M403.5 66.1a1.5 1.5 0 1 0 3 0a1.5 1.5 0 1 0 -3 0M392.7 73.5a1.5 1.5 0 1 0 3 0a1.5 1.5 0 1 0 -3 0M381.2 46.8a1.5 1.5 0 1 0 3 0a1.5 1.5 0 1 0 -3 0M396.2 80.3a1.5 1.5 0 1 0 3 0a1.5 1.5 0 1 0 -3 0M393.5 53.1a1.5 1.5 0 1 0 3 0a1.5 1.5 0 1 0 -3 0M372.6 61.9a1.5 1.5 0 1 0 3 0a1.5 1.5 0 1 0 -3 0M406 72.1a1.5 1.5 0 1 0 3 0a1.5 1.5 0 1 0 -3 0M399.5 35.7a1.5 1.5 0 1 0 3 0a1.5 1.5 0 1 0 -3 0M374.6 63.6a1.5 1.5 0 1 0 3 0a1.5 1.5 0 1 0 -3 0M401.8 36.9a1.5 1.5 0 1 0 3 0a1.5 1.5 0 1 0 -3 0M380.4 72.2a1.5 1.5 0 1 0 3 0a1.5 1.5 0 1 0 -3 0M369.9 42.1a1.5 1.5 0 1 0 3 0a1.5 1.5 0 1 0 -3 0M396.2 62.7a1.5 1.5 0 1 0 3 0a1.5 1.5 0 1 0 -3 0M383.3 30.9a1.5 1.5 0 1 0 3 0a1.5 1.5 0 1 0 -3 0M399.4 57.1a1.5 1.5 0 1 0 3 0a1.5 1.5 0 1 0 -3 0M379.4 68.8a1.5 1.5 0 1 0 3 0a1.5 1.5 0 1 0 -3 0M402.4 45a1.5 1.5 0 1 0 3 0a1.5 1.5 0 1 0 -3 0M372 46.3a1.5 1.5 0 1 0 3 0a1.5 1.5 0 1 0 -3 0M406.5 31.2a1.5 1.5 0 1 0 3 0a1.5 1.5 0 1 0 -3 0M395.9 32.1a1.5 1.5 0 1 0 3 0a1.5 1.5 0 1 0 -3 0M375 31.1a1.5 1.5 0 1 0 3 0a1.5 1.5 0 1 0 -3 0M369.1 66.9a1.5 1.5 0 1 0 3 0a1.5 1.5 0 1 0 -3 0M375.7 48.4a1.5 1.5 0 1 0 3 0a1.5 1.5 0 1 0 -3 0M376.4 43a1.5 1.5 0 1 0 3 0a1.5 1.5 0 1 0 -3 0M393.5 68a1.5 1.5 0 1 0 3 0a1.5 1.5 0 1 0 -3 0M391.7 84.2a1.5 1.5 0 1 0 3 0a1.5 1.5 0 1 0 -3 0M394.9 48.8a1.5 1.5 0 1 0 3 0a1.5 1.5 0 1 0 -3 0M385.7 51.8a1.5 1.5 0 1 0 3 0a1.5 1.5 0 1 0 -3 0M395.6 45.3a1.5 1.5 0 1 0 3 0a1.5 1.5 0 1 0 -3 0M382.8 73.8a1.5 1.5 0 1 0 3 0a1.5 1.5 0 1 0 -3 0M381.2 61a1.5 1.5 0 1 0 3 0a1.5 1.5 0 1 0 -3 0M386.2 84a1.5 1.5 0 1 0 3 0a1.5 1.5 0 1 0 -3 0M401.3 65.5a1.5 1.5 0 1 0 3 0a1.5 1.5 0 1 0 -3 0M400 75.2a1.5 1.5 0 1 0 3 0a1.5 1.5 0 1 0 -3 0M398.8 71.2a1.5 1.5 0 1 0 3 0a1.5 1.5 0 1 0 -3 0M396.8 30.8a1.5 1.5 0 1 0 3 0a1.5 1.5 0 1 0 -3 0M374.7 65.9a1.5 1.5 0 1 0 3 0a1.5 1.5 0 1 0 -3 0M382.8 42.3a1.5 1.5 0 1 0 3 0a1.5 1.5 0 1 0 -3 0M387.4 71.9a1.5 1.5 0 1 0 3 0a1.5 1.5 0 1 0 -3 0M380.5 79.7a1.5 1.5 0 1 0 3 0a1.5 1.5 0 1 0 -3 0M403.3 82.9a1.5 1.5 0 1 0 3 0a1.5 1.5 0 1 0 -3 0M376.4 60.9a1.5 1.5 0 1 0 3 0a1.5 1.5 0 1 0 -3 0M403.8 30.6a1.5 1.5 0 1 0 3 0a1.5 1.5 0 1 0 -3 0M371.1 76.4a1.5 1.5 0 1 0 3 0a1.5 1.5 0 1 0 -3 0M384.6 77.8a1.5 1.5 0 1 0 3 0a1.5 1.5 0 1 0 -3 0M383.9 35.8a1.5 1.5 0 1 0 3 0a1.5 1.5 0 1 0 -3 0" fill="#00B0F6" fill-opacity="0.17" stroke="#00B0F6" stroke-opacity="0.33" stroke-width="0.8" filter="url(#f0)"/><path d="M388.2 61.5h0M392.7 78.2h0M390.2 57.5h0M399.1 35.3h0M385 78.9h0M384.4 75.1h0M406.6 77.4h0M381.5 36.3h0M377.4 75.6h0M383.7 32.6h0M371.1 57.1h0M392.2 79.3h0M371.5 55.8h0M372.4 50.8h0M404.2 32.2h0M371.1 34.6h0M406.9 82h0M401.4 83.2h0M381.3 60.1h0M371.6 84.2h0M370.9 57.6h0M402.7 50.7h0M405.1 61.6h0M402.9 47.3h0M383.5 45.4h0M407.2 59.9h0M391.8 58h0M389.3 46.5h0M377 68.9h0M380.4 58.4h0M401.1 71.8h0M395.4 36.4h0M377.3 56.8h0M405.3 36.3h0M376.6 48.7h0M394.4 34.1h0M403.3 57.4h0M396.6 77.9h0M370.9 71.1h0M372.8 63.4h0M406.9 66.1h0M391.3 40.1h0M396.7 35.2h0M390.4 33.7h0M380.8 65.8h0M385.3 63.4h0M396.6 55.4h0M370.4 68.5h0M373.3 35.7h0M374.7 67.3h0M374.1 71.5h0M377.2 62.7h0M374.3 34.1h0M379.3 70h0M378.6 49.3h0M375.1 48.3h0M387.2 53h0M386.7 59.2h0M394 32.5h0M409.4 74.4h0" stroke="#ffffff" stroke-opacity="0.25" stroke-width="3.2" stroke-linecap="round" fill="none"/><path d="M296 26.3L408 26.3L408 31L296 31Z" fill="#F962EE" fill-opacity="0.6"/><clipPath id="k6"><rect x="295" y="26.3" width="114.7" height="80.5"/></clipPath><g clip-path="url(#k6)"><path d="M339.6 24L346.4 24L352.3 24.2L357.5 24.8L361.9 25.5L365.6 26.5L368.4 27.8L370.5 29.2L371.8 31L372.2 33L372.8 35L373.3 37L373.9 38.9L374.6 40.8L375.2 42.8L375.9 44.7L376.6 46.6L377.4 48.4L378.2 50.2L379.2 52L380.2 53.6L381.3 55.2L382.5 56.6L383.8 58L385.2 59.4L386.8 60.6L388.2 61.8L389.6 63L390.9 64.1L392.1 65.2L393.3 66.2L394.4 67.1L395.5 68.1L396.5 68.9L397.6 69.8L398.8 70.5L400.1 71.3L401.4 72L402.9 72.6L404.5 73.2L406.1 73.8L407.9 74.2L409.4 75.3L410.7 76.9L411.8 79L412.7 81.7L413.3 85L413.8 88.7L414 93.1L414 97.9L412.1 102.2L408.2 105.9L402.4 108.9L394.6 111.3L384.9 113.2L373.3 114.4L359.8 115L344.2 115L330.7 114.4L319.1 113.2L309.4 111.3L301.6 108.9L295.8 105.9L291.9 102.2L290 97.9L290 93.1L290.1 88.7L290.3 85L290.7 81.7L291.1 79L291.6 76.9L292.3 75.3L293.1 74.2L293.9 73.8L294.8 73.2L295.7 72.5L296.6 71.8L297.4 71L298.3 70.1L299.2 69.1L300.1 68.1L300.9 66.9L301.8 65.8L302.7 64.7L303.6 63.7L304.4 62.6L305.3 61.5L306.2 60.5L307.1 59.5L307.9 58.5L308.8 57.4L309.5 56.2L310.2 54.8L310.8 53.4L311.4 51.9L311.9 50.2L312.3 48.4L312.7 46.6L313 44.7L313.4 42.8L313.7 40.8L314 38.9L314.3 37L314.6 35L314.9 33L315.1 31L316.2 29.2L318.1 27.8L320.8 26.5L324.2 25.5L328.6 24.8L333.7 24.2Z" fill="#F962EE" fill-opacity="0.9" filter="url(#f2)"/></g><path d="M343 68.1a1.6 1.6 0 1 0 3.2 0a1.6 1.6 0 1 0 -3.2 0M338.5 55a1.6 1.6 0 1 0 3.2 0a1.6 1.6 0 1 0 -3.2 0M358.2 36.2a1.6 1.6 0 1 0 3.2 0a1.6 1.6 0 1 0 -3.2 0M341.8 30.5a1.6 1.6 0 1 0 3.2 0a1.6 1.6 0 1 0 -3.2 0M307.3 78.9a1.6 1.6 0 1 0 3.2 0a1.6 1.6 0 1 0 -3.2 0M300 70.4a1.6 1.6 0 1 0 3.2 0a1.6 1.6 0 1 0 -3.2 0M368 64.9a1.6 1.6 0 1 0 3.2 0a1.6 1.6 0 1 0 -3.2 0M366.8 37.6a1.6 1.6 0 1 0 3.2 0a1.6 1.6 0 1 0 -3.2 0M348.8 60.7a1.6 1.6 0 1 0 3.2 0a1.6 1.6 0 1 0 -3.2 0M333.8 33.8a1.6 1.6 0 1 0 3.2 0a1.6 1.6 0 1 0 -3.2 0M302.9 70.2a1.6 1.6 0 1 0 3.2 0a1.6 1.6 0 1 0 -3.2 0M310.4 64.3a1.6 1.6 0 1 0 3.2 0a1.6 1.6 0 1 0 -3.2 0M308.5 62.2a1.6 1.6 0 1 0 3.2 0a1.6 1.6 0 1 0 -3.2 0M302.3 78.5a1.6 1.6 0 1 0 3.2 0a1.6 1.6 0 1 0 -3.2 0M346.2 41.3a1.6 1.6 0 1 0 3.2 0a1.6 1.6 0 1 0 -3.2 0M366.3 38a1.6 1.6 0 1 0 3.2 0a1.6 1.6 0 1 0 -3.2 0M331.9 59.4a1.6 1.6 0 1 0 3.2 0a1.6 1.6 0 1 0 -3.2 0M308.6 64.5a1.6 1.6 0 1 0 3.2 0a1.6 1.6 0 1 0 -3.2 0M317 70.1a1.6 1.6 0 1 0 3.2 0a1.6 1.6 0 1 0 -3.2 0M366.4 76.5a1.6 1.6 0 1 0 3.2 0a1.6 1.6 0 1 0 -3.2 0M306.2 54.3a1.6 1.6 0 1 0 3.2 0a1.6 1.6 0 1 0 -3.2 0M346.7 31.8a1.6 1.6 0 1 0 3.2 0a1.6 1.6 0 1 0 -3.2 0M299.7 68.8a1.6 1.6 0 1 0 3.2 0a1.6 1.6 0 1 0 -3.2 0M347.6 39.7a1.6 1.6 0 1 0 3.2 0a1.6 1.6 0 1 0 -3.2 0M350.1 70.4a1.6 1.6 0 1 0 3.2 0a1.6 1.6 0 1 0 -3.2 0M318.5 57.7a1.6 1.6 0 1 0 3.2 0a1.6 1.6 0 1 0 -3.2 0M352 33a1.6 1.6 0 1 0 3.2 0a1.6 1.6 0 1 0 -3.2 0M348.5 78.2a1.6 1.6 0 1 0 3.2 0a1.6 1.6 0 1 0 -3.2 0M367.2 79.6a1.6 1.6 0 1 0 3.2 0a1.6 1.6 0 1 0 -3.2 0M355.2 76.9a1.6 1.6 0 1 0 3.2 0a1.6 1.6 0 1 0 -3.2 0M325.4 44.7a1.6 1.6 0 1 0 3.2 0a1.6 1.6 0 1 0 -3.2 0M353.1 41.7a1.6 1.6 0 1 0 3.2 0a1.6 1.6 0 1 0 -3.2 0M316.5 60.6a1.6 1.6 0 1 0 3.2 0a1.6 1.6 0 1 0 -3.2 0M326.5 76.4a1.6 1.6 0 1 0 3.2 0a1.6 1.6 0 1 0 -3.2 0M308.2 47.5a1.6 1.6 0 1 0 3.2 0a1.6 1.6 0 1 0 -3.2 0M360.4 45.1a1.6 1.6 0 1 0 3.2 0a1.6 1.6 0 1 0 -3.2 0M349 55.9a1.6 1.6 0 1 0 3.2 0a1.6 1.6 0 1 0 -3.2 0M364.7 37.4a1.6 1.6 0 1 0 3.2 0a1.6 1.6 0 1 0 -3.2 0M334 46.1a1.6 1.6 0 1 0 3.2 0a1.6 1.6 0 1 0 -3.2 0M348.3 77.2a1.6 1.6 0 1 0 3.2 0a1.6 1.6 0 1 0 -3.2 0M346.5 78.3a1.6 1.6 0 1 0 3.2 0a1.6 1.6 0 1 0 -3.2 0M357.5 53.1a1.6 1.6 0 1 0 3.2 0a1.6 1.6 0 1 0 -3.2 0M316.2 32.6a1.6 1.6 0 1 0 3.2 0a1.6 1.6 0 1 0 -3.2 0M324.8 46.9a1.6 1.6 0 1 0 3.2 0a1.6 1.6 0 1 0 -3.2 0M340.4 78.7a1.6 1.6 0 1 0 3.2 0a1.6 1.6 0 1 0 -3.2 0M335.1 39.8a1.6 1.6 0 1 0 3.2 0a1.6 1.6 0 1 0 -3.2 0M357.1 48.1a1.6 1.6 0 1 0 3.2 0a1.6 1.6 0 1 0 -3.2 0M345.5 63.5a1.6 1.6 0 1 0 3.2 0a1.6 1.6 0 1 0 -3.2 0M343.6 34.9a1.6 1.6 0 1 0 3.2 0a1.6 1.6 0 1 0 -3.2 0M305.4 66.8a1.6 1.6 0 1 0 3.2 0a1.6 1.6 0 1 0 -3.2 0M331.3 62.6a1.6 1.6 0 1 0 3.2 0a1.6 1.6 0 1 0 -3.2 0M361.3 46.4a1.6 1.6 0 1 0 3.2 0a1.6 1.6 0 1 0 -3.2 0M325.2 66.4a1.6 1.6 0 1 0 3.2 0a1.6 1.6 0 1 0 -3.2 0M311 55.7a1.6 1.6 0 1 0 3.2 0a1.6 1.6 0 1 0 -3.2 0M304.6 67.9a1.6 1.6 0 1 0 3.2 0a1.6 1.6 0 1 0 -3.2 0M317.5 40.8a1.6 1.6 0 1 0 3.2 0a1.6 1.6 0 1 0 -3.2 0M332 68.9a1.6 1.6 0 1 0 3.2 0a1.6 1.6 0 1 0 -3.2 0M342.9 50.6a1.6 1.6 0 1 0 3.2 0a1.6 1.6 0 1 0 -3.2 0M305.8 51.7a1.6 1.6 0 1 0 3.2 0a1.6 1.6 0 1 0 -3.2 0M299 53.7a1.6 1.6 0 1 0 3.2 0a1.6 1.6 0 1 0 -3.2 0" fill="#C080F0" fill-opacity="0.17" stroke="#C080F0" stroke-opacity="0.33" stroke-width="0.8" filter="url(#f0)"/><path d="M295 97.3L296.5 97.1L298 96.8L299.5 96.6L301 96.3L302.5 96L304 95.7L305.5 95.5L307 95.2L308.5 95L310 94.8L311.5 94.6L313 94.5L314.5 94.3L316 94.2L317.5 94.2L319 94.1L320.5 94.1L322 94.1L323.5 94.2L325 94.3L326.5 94.4L328 94.5L329.5 94.6L331 94.8L332.5 94.9L334 95.1L335.5 95.2L337 95.4L338.5 95.5L340 95.7L341.5 95.8L343 95.9L344.5 96L346 96L347.5 96.1L349 96.2L350.5 96.2L352 96.3L353.5 96.3L355 96.4L356.5 96.4L358 96.5L359.5 96.5L361 96.6L362.5 96.6L364 96.7L365.5 96.7L367 96.8L368.5 96.8L370 96.8L371.5 96.9L373 96.9L374.5 97L376 97L377.5 97L379 97.1L380.5 97.1L382 97.2L383.5 97.2L385 97.2L386.5 97.3L388 97.3L389.5 97.3L391 97.4L392.5 97.4L394 97.4L395.5 97.5L397 97.5L398.5 97.5L400 97.6L401.5 97.6L403 97.6L404.5 97.7L406 97.7L407.5 97.7L409 97.8L409.7 97.8L409.7 106.8L409 106.8L407.5 106.8L406 106.8L404.5 106.8L403 106.8L401.5 106.8L400 106.8L398.5 106.8L397 106.8L395.5 106.8L394 106.8L392.5 106.8L391 106.8L389.5 106.8L388 106.8L386.5 106.8L385 106.8L383.5 106.8L382 106.8L380.5 106.8L379 106.8L377.5 106.8L376 106.8L374.5 106.8L373 106.8L371.5 106.8L370 106.8L368.5 106.8L367 106.8L365.5 106.8L364 106.8L362.5 106.8L361 106.8L359.5 106.8L358 106.8L356.5 106.8L355 106.8L353.5 106.8L352 106.8L350.5 106.8L349 106.8L347.5 106.8L346 106.8L344.5 106.8L343 106.8L341.5 106.8L340 106.8L338.5 106.8L337 106.8L335.5 106.8L334 106.8L332.5 106.8L331 106.8L329.5 106.8L328 106.8L326.5 106.8L325 106.8L323.5 106.8L322 106.8L320.5 106.8L319 106.8L317.5 106.8L316 106.8L314.5 106.8L313 106.8L311.5 106.8L310 106.8L308.5 106.8L307 106.8L305.5 106.8L304 106.8L302.5 106.8L301 106.8L299.5 106.8L298 106.8L296.5 106.8L295 106.8Z" fill="#00B0F6" fill-opacity="0.9"/><path d="M295 101.8L296.5 101.7L298 101.5L299.5 101.3L301 101.1L302.5 101L304 100.8L305.5 100.6L307 100.4L308.5 100.3L310 100.1L311.5 99.9L313 99.8L314.5 99.7L316 99.6L317.5 99.5L319 99.5L320.5 99.5L322 99.5L323.5 99.5L325 99.6L326.5 99.6L328 99.7L329.5 99.7L331 99.8L332.5 99.9L334 99.9L335.5 100L337 100.1L338.5 100.2L340 100.2L341.5 100.3L343 100.3L344.5 100.4L346 100.4L347.5 100.5L349 100.5L350.5 100.5L352 100.6L353.5 100.6L355 100.6L356.5 100.7L358 100.7L359.5 100.7L361 100.8L362.5 100.8L364 100.8L365.5 100.8L367 100.9L368.5 100.9L370 100.9L371.5 101L373 101L374.5 101L376 101L377.5 101.1L379 101.1L380.5 101.1L382 101.1L383.5 101.2L385 101.2L386.5 101.2L388 101.2L389.5 101.3L391 101.3L392.5 101.3L394 101.3L395.5 101.4L397 101.4L398.5 101.4L400 101.4L401.5 101.5L403 101.5L404.5 101.5L406 101.5L407.5 101.6L409 101.6L409.7 101.6L409.7 106.8L409 106.8L407.5 106.8L406 106.8L404.5 106.8L403 106.8L401.5 106.8L400 106.8L398.5 106.8L397 106.8L395.5 106.8L394 106.8L392.5 106.8L391 106.8L389.5 106.8L388 106.8L386.5 106.8L385 106.8L383.5 106.8L382 106.8L380.5 106.8L379 106.8L377.5 106.8L376 106.8L374.5 106.8L373 106.8L371.5 106.8L370 106.8L368.5 106.8L367 106.8L365.5 106.8L364 106.8L362.5 106.8L361 106.8L359.5 106.8L358 106.8L356.5 106.8L355 106.8L353.5 106.8L352 106.8L350.5 106.8L349 106.8L347.5 106.8L346 106.8L344.5 106.8L343 106.8L341.5 106.8L340 106.8L338.5 106.8L337 106.8L335.5 106.8L334 106.8L332.5 106.8L331 106.8L329.5 106.8L328 106.8L326.5 106.8L325 106.8L323.5 106.8L322 106.8L320.5 106.8L319 106.8L317.5 106.8L316 106.8L314.5 106.8L313 106.8L311.5 106.8L310 106.8L308.5 106.8L307 106.8L305.5 106.8L304 106.8L302.5 106.8L301 106.8L299.5 106.8L298 106.8L296.5 106.8L295 106.8Z" fill="#00BF7D" fill-opacity="0.9"/><path d="M295 104.2L296.5 104.1L298 104.1L299.5 104L301 103.9L302.5 103.8L304 103.8L305.5 103.7L307 103.6L308.5 103.5L310 103.5L311.5 103.4L313 103.3L314.5 103.3L316 103.2L317.5 103.2L319 103.2L320.5 103.2L322 103.2L323.5 103.2L325 103.3L326.5 103.3L328 103.4L329.5 103.4L331 103.5L332.5 103.6L334 103.6L335.5 103.7L337 103.7L338.5 103.8L340 103.9L341.5 103.9L343 104L344.5 104L346 104L347.5 104L349 104.1L350.5 104.1L352 104.1L353.5 104.1L355 104.1L356.5 104.2L358 104.2L359.5 104.2L361 104.2L362.5 104.2L364 104.2L365.5 104.3L367 104.3L368.5 104.3L370 104.3L371.5 104.3L373 104.3L374.5 104.3L376 104.3L377.5 104.4L379 104.4L380.5 104.4L382 104.4L383.5 104.4L385 104.4L386.5 104.4L388 104.4L389.5 104.4L391 104.5L392.5 104.5L394 104.5L395.5 104.5L397 104.5L398.5 104.5L400 104.5L401.5 104.5L403 104.5L404.5 104.6L406 104.6L407.5 104.6L409 104.6L409.7 104.6L409.7 106.8L409 106.8L407.5 106.8L406 106.8L404.5 106.8L403 106.8L401.5 106.8L400 106.8L398.5 106.8L397 106.8L395.5 106.8L394 106.8L392.5 106.8L391 106.8L389.5 106.8L388 106.8L386.5 106.8L385 106.8L383.5 106.8L382 106.8L380.5 106.8L379 106.8L377.5 106.8L376 106.8L374.5 106.8L373 106.8L371.5 106.8L370 106.8L368.5 106.8L367 106.8L365.5 106.8L364 106.8L362.5 106.8L361 106.8L359.5 106.8L358 106.8L356.5 106.8L355 106.8L353.5 106.8L352 106.8L350.5 106.8L349 106.8L347.5 106.8L346 106.8L344.5 106.8L343 106.8L341.5 106.8L340 106.8L338.5 106.8L337 106.8L335.5 106.8L334 106.8L332.5 106.8L331 106.8L329.5 106.8L328 106.8L326.5 106.8L325 106.8L323.5 106.8L322 106.8L320.5 106.8L319 106.8L317.5 106.8L316 106.8L314.5 106.8L313 106.8L311.5 106.8L310 106.8L308.5 106.8L307 106.8L305.5 106.8L304 106.8L302.5 106.8L301 106.8L299.5 106.8L298 106.8L296.5 106.8L295 106.8Z" fill="#A3A500" fill-opacity="0.75"/><path d="M295 106L296.5 105.9L298 105.9L299.5 105.8L301 105.7L302.5 105.6L304 105.6L305.5 105.5L307 105.4L308.5 105.3L310 105.3L311.5 105.2L313 105.1L314.5 105.1L316 105L317.5 105L319 105L320.5 105L322 105L323.5 105L325 105.1L326.5 105.1L328 105.2L329.5 105.2L331 105.3L332.5 105.4L334 105.4L335.5 105.5L337 105.5L338.5 105.6L340 105.7L341.5 105.7L343 105.8L344.5 105.8L346 105.8L347.5 105.8L349 105.9L350.5 105.9L352 105.9L353.5 105.9L355 105.9L356.5 106L358 106L359.5 106L361 106L362.5 106L364 106L365.5 106.1L367 106.1L368.5 106.1L370 106.1L371.5 106.1L373 106.1L374.5 106.1L376 106.1L377.5 106.2L379 106.2L380.5 106.2L382 106.2L383.5 106.2L385 106.2L386.5 106.2L388 106.2L389.5 106.2L391 106.3L392.5 106.3L394 106.3L395.5 106.3L397 106.3L398.5 106.3L400 106.3L401.5 106.3L403 106.3L404.5 106.4L406 106.4L407.5 106.4L409 106.4L409.7 106.4L409.7 106.8L409 106.8L407.5 106.8L406 106.8L404.5 106.8L403 106.8L401.5 106.8L400 106.8L398.5 106.8L397 106.8L395.5 106.8L394 106.8L392.5 106.8L391 106.8L389.5 106.8L388 106.8L386.5 106.8L385 106.8L383.5 106.8L382 106.8L380.5 106.8L379 106.8L377.5 106.8L376 106.8L374.5 106.8L373 106.8L371.5 106.8L370 106.8L368.5 106.8L367 106.8L365.5 106.8L364 106.8L362.5 106.8L361 106.8L359.5 106.8L358 106.8L356.5 106.8L355 106.8L353.5 106.8L352 106.8L350.5 106.8L349 106.8L347.5 106.8L346 106.8L344.5 106.8L343 106.8L341.5 106.8L340 106.8L338.5 106.8L337 106.8L335.5 106.8L334 106.8L332.5 106.8L331 106.8L329.5 106.8L328 106.8L326.5 106.8L325 106.8L323.5 106.8L322 106.8L320.5 106.8L319 106.8L317.5 106.8L316 106.8L314.5 106.8L313 106.8L311.5 106.8L310 106.8L308.5 106.8L307 106.8L305.5 106.8L304 106.8L302.5 106.8L301 106.8L299.5 106.8L298 106.8L296.5 106.8L295 106.8Z" fill="#F8766D" fill-opacity="0.85"/><path d="M295 88.9L296.7 88.5L298.3 88.1L300 87.7L301.7 87.3L303.3 86.9L305 86.5L306.7 86.1L308.3 85.6L310 85.1L311.7 84.7L313.3 84.3L315 84L316.7 83.8L318.3 83.6L320 83.5L321.7 83.6L323.3 83.8L325 84.2L326.7 84.6L328.3 84.9L330 85.3L331.5 85.6L333 85.9L334.5 86.3L336 86.6L337.5 86.9L339 87.3L340.5 87.6L342 87.9L343.5 88.1L345 88.3L346.5 88.5L348 88.6L349.5 88.8L351 88.9L352.5 89L354 89.1L355.5 89.2L357 89.3L358.5 89.4L360 89.5L361.5 89.6L363.1 89.6L364.6 89.7L366.2 89.8L367.7 89.8L369.2 89.9L370.8 89.9L372.3 89.9L373.8 90L375.4 90L376.9 90.1L378.5 90.1L380 90.2L381.6 90.3L383.1 90.3L384.7 90.4L386.3 90.5L387.8 90.5L389.4 90.6L390.9 90.7L392.5 90.7L394.1 90.8L395.6 90.9L397.2 90.9L398.8 91L400.3 91.1L401.9 91.2L403.4 91.2L405 91.3L406.6 91.4L408.1 91.4L409.7 91.5" stroke="#00B0F6" stroke-width="1.75" fill="none" stroke-linejoin="round" stroke-linecap="round"/><path d="M295 96.5L296.5 96.3L298.1 96L299.6 95.7L301.2 95.5L302.7 95.2L304.2 94.9L305.8 94.6L307.3 94.4L308.8 94.1L310.4 93.9L311.9 93.8L313.5 93.6L315 93.5L316.7 93.4L318.3 93.3L320 93.3L321.6 93.3L323.1 93.4L324.7 93.4L326.2 93.5L327.8 93.7L329.4 93.8L330.9 94L332.5 94.1L334.1 94.3L335.6 94.4L337.2 94.6L338.8 94.7L340.3 94.9L341.9 95L343.4 95.1L345 95.2L346.5 95.3L348 95.3L349.6 95.4L351.1 95.5L352.6 95.5L354.1 95.6L355.7 95.6L357.2 95.7L358.7 95.7L360.2 95.8L361.7 95.8L363.3 95.9L364.8 95.9L366.3 95.9L367.8 96L369.3 96L370.9 96.1L372.4 96.1L373.9 96.1L375.4 96.2L377 96.2L378.5 96.3L380 96.3L381.6 96.3L383.1 96.4L384.7 96.4L386.3 96.5L387.8 96.5L389.4 96.5L390.9 96.6L392.5 96.6L394.1 96.6L395.6 96.7L397.2 96.7L398.8 96.8L400.3 96.8L401.9 96.8L403.4 96.9L405 96.9L406.6 96.9L408.1 97L409.7 97" stroke="#00BF7D" stroke-width="1.75" fill="none" stroke-linejoin="round" stroke-linecap="round"/><path d="M295 101.2L296.6 101L298.1 100.9L299.7 100.7L301.2 100.5L302.8 100.3L304.4 100.1L305.9 99.9L307.5 99.8L309.1 99.6L310.6 99.4L312.2 99.3L313.8 99.2L315.3 99L316.9 99L318.4 98.9L320 98.9L321.6 98.9L323.1 98.9L324.7 99L326.2 99L327.8 99.1L329.4 99.1L330.9 99.2L332.5 99.3L334.1 99.3L335.6 99.4L337.2 99.5L338.8 99.6L340.3 99.6L341.9 99.7L343.4 99.8L345 99.8L346.5 99.8L348 99.9L349.5 99.9L351 99.9L352.5 100L354 100L355.5 100L357 100.1L358.5 100.1L360 100.1L361.6 100.2L363.1 100.2L364.6 100.2L366.1 100.3L367.6 100.3L369.1 100.3L370.6 100.3L372.1 100.4L373.6 100.4L375.1 100.4L376.6 100.4L378.1 100.5L379.6 100.5L381.1 100.5L382.6 100.5L384.1 100.6L385.6 100.6L387.1 100.6L388.6 100.6L390.1 100.7L391.6 100.7L393.1 100.7L394.7 100.7L396.2 100.8L397.7 100.8L399.2 100.8L400.7 100.8L402.2 100.9L403.7 100.9L405.2 100.9L406.7 100.9L408.2 101L409.7 101" stroke="#A3A500" stroke-width="1.75" fill="none" stroke-linejoin="round" stroke-linecap="round"/><path d="M295 103.6L296.6 103.5L298.1 103.5L299.7 103.4L301.2 103.3L302.8 103.2L304.4 103.1L305.9 103.1L307.5 103L309.1 102.9L310.6 102.8L312.2 102.8L313.8 102.7L315.3 102.7L316.9 102.6L318.4 102.6L320 102.6L321.6 102.6L323.1 102.6L324.7 102.7L326.2 102.7L327.8 102.8L329.4 102.8L330.9 102.9L332.5 103L334.1 103L335.6 103.1L337.2 103.2L338.8 103.2L340.3 103.3L341.9 103.3L343.4 103.4L345 103.4L346.5 103.4L348 103.4L349.5 103.5L351 103.5L352.5 103.5L354 103.5L355.5 103.5L357 103.6L358.5 103.6L360 103.6L361.6 103.6L363.1 103.6L364.6 103.6L366.1 103.7L367.6 103.7L369.1 103.7L370.6 103.7L372.1 103.7L373.6 103.7L375.1 103.7L376.6 103.7L378.1 103.8L379.6 103.8L381.1 103.8L382.6 103.8L384.1 103.8L385.6 103.8L387.1 103.8L388.6 103.8L390.1 103.8L391.6 103.9L393.1 103.9L394.7 103.9L396.2 103.9L397.7 103.9L399.2 103.9L400.7 103.9L402.2 103.9L403.7 103.9L405.2 104L406.7 104L408.2 104L409.7 104" stroke="#F8766D" stroke-width="1.75" fill="none" stroke-linejoin="round" stroke-linecap="round"/>
</g>
<rect x="289.7" y="6" width="124" height="16" fill="#D9D9D9"/>
<text x="351.7" y="18.3" class="st">c_lnsale</text>
<text x="295.3" y="123.6" class="tx">4</text>
<text x="326.2" y="123.6" class="tx">6</text>
<text x="357.2" y="123.6" class="tx">8</text>
<text x="388.1" y="123.6" class="tx">10</text>
<path d="M295.3 110v2.9M326.2 110v2.9M357.2 110v2.9M388.1 110v2.9" stroke="#333333" stroke-width="1.05" fill="none"/>
<rect x="419" y="22" width="124" height="88" fill="#EBEBEB"/>
<path d="M440.1 22V110M470.6 22V110M501.1 22V110M531.7 22V110M419 105.1H543M419 82.9H543M419 60.8H543M419 38.7H543" stroke="#F7F7F7" stroke-width="0.55" fill="none"/>
<path d="M424.8 22V110M455.3 22V110M485.9 22V110M516.4 22V110M419 94H543M419 71.9H543M419 49.7H543M419 27.6H543" stroke="#FFFFFF" stroke-width="1.05" fill="none"/>
<g clip-path="url(#c3)">
<path d="M509.7 40.9a1.5 1.5 0 1 0 3 0a1.5 1.5 0 1 0 -3 0M503.7 57.3a1.5 1.5 0 1 0 3 0a1.5 1.5 0 1 0 -3 0M466.4 68.1a1.5 1.5 0 1 0 3 0a1.5 1.5 0 1 0 -3 0M436.5 42.4a1.5 1.5 0 1 0 3 0a1.5 1.5 0 1 0 -3 0M489.7 86.8a1.5 1.5 0 1 0 3 0a1.5 1.5 0 1 0 -3 0M469.1 65.9a1.5 1.5 0 1 0 3 0a1.5 1.5 0 1 0 -3 0M490.1 52.9a1.5 1.5 0 1 0 3 0a1.5 1.5 0 1 0 -3 0M512.2 63.5a1.5 1.5 0 1 0 3 0a1.5 1.5 0 1 0 -3 0M507 50.6a1.5 1.5 0 1 0 3 0a1.5 1.5 0 1 0 -3 0M490.3 64.9a1.5 1.5 0 1 0 3 0a1.5 1.5 0 1 0 -3 0M511.4 76.3a1.5 1.5 0 1 0 3 0a1.5 1.5 0 1 0 -3 0M464.9 67.8a1.5 1.5 0 1 0 3 0a1.5 1.5 0 1 0 -3 0M436.2 65a1.5 1.5 0 1 0 3 0a1.5 1.5 0 1 0 -3 0M490.4 33.3a1.5 1.5 0 1 0 3 0a1.5 1.5 0 1 0 -3 0M505.8 79.5a1.5 1.5 0 1 0 3 0a1.5 1.5 0 1 0 -3 0M463.3 71.7a1.5 1.5 0 1 0 3 0a1.5 1.5 0 1 0 -3 0M453.9 82.7a1.5 1.5 0 1 0 3 0a1.5 1.5 0 1 0 -3 0M444.8 73a1.5 1.5 0 1 0 3 0a1.5 1.5 0 1 0 -3 0M459.1 81.5a1.5 1.5 0 1 0 3 0a1.5 1.5 0 1 0 -3 0M504.3 85.5a1.5 1.5 0 1 0 3 0a1.5 1.5 0 1 0 -3 0M438.4 70.1a1.5 1.5 0 1 0 3 0a1.5 1.5 0 1 0 -3 0M442.1 63.9a1.5 1.5 0 1 0 3 0a1.5 1.5 0 1 0 -3 0M521.1 84.4a1.5 1.5 0 1 0 3 0a1.5 1.5 0 1 0 -3 0M504.6 77.9a1.5 1.5 0 1 0 3 0a1.5 1.5 0 1 0 -3 0M441.3 53.4a1.5 1.5 0 1 0 3 0a1.5 1.5 0 1 0 -3 0M467.4 46.9a1.5 1.5 0 1 0 3 0a1.5 1.5 0 1 0 -3 0M489.5 80.9a1.5 1.5 0 1 0 3 0a1.5 1.5 0 1 0 -3 0M445.3 78.4a1.5 1.5 0 1 0 3 0a1.5 1.5 0 1 0 -3 0M462 37.6a1.5 1.5 0 1 0 3 0a1.5 1.5 0 1 0 -3 0M502.1 50a1.5 1.5 0 1 0 3 0a1.5 1.5 0 1 0 -3 0M469.9 86.5a1.5 1.5 0 1 0 3 0a1.5 1.5 0 1 0 -3 0M480.9 38.4a1.5 1.5 0 1 0 3 0a1.5 1.5 0 1 0 -3 0M467.2 68.9a1.5 1.5 0 1 0 3 0a1.5 1.5 0 1 0 -3 0M506.1 83a1.5 1.5 0 1 0 3 0a1.5 1.5 0 1 0 -3 0M522.9 87a1.5 1.5 0 1 0 3 0a1.5 1.5 0 1 0 -3 0M435.7 41.2a1.5 1.5 0 1 0 3 0a1.5 1.5 0 1 0 -3 0M490.4 57a1.5 1.5 0 1 0 3 0a1.5 1.5 0 1 0 -3 0M448.8 82.5a1.5 1.5 0 1 0 3 0a1.5 1.5 0 1 0 -3 0M504.9 62.3a1.5 1.5 0 1 0 3 0a1.5 1.5 0 1 0 -3 0M439.2 86.1a1.5 1.5 0 1 0 3 0a1.5 1.5 0 1 0 -3 0M472 78.6a1.5 1.5 0 1 0 3 0a1.5 1.5 0 1 0 -3 0M461.7 41.7a1.5 1.5 0 1 0 3 0a1.5 1.5 0 1 0 -3 0M517.2 65.7a1.5 1.5 0 1 0 3 0a1.5 1.5 0 1 0 -3 0M437.3 87.7a1.5 1.5 0 1 0 3 0a1.5 1.5 0 1 0 -3 0M535.9 68.1a1.5 1.5 0 1 0 3 0a1.5 1.5 0 1 0 -3 0M522.9 69.9a1.5 1.5 0 1 0 3 0a1.5 1.5 0 1 0 -3 0M485.2 44.9a1.5 1.5 0 1 0 3 0a1.5 1.5 0 1 0 -3 0M494.3 77.2a1.5 1.5 0 1 0 3 0a1.5 1.5 0 1 0 -3 0M463 66.4a1.5 1.5 0 1 0 3 0a1.5 1.5 0 1 0 -3 0M473.8 79.4a1.5 1.5 0 1 0 3 0a1.5 1.5 0 1 0 -3 0M486.6 84.1a1.5 1.5 0 1 0 3 0a1.5 1.5 0 1 0 -3 0M446.7 75.1a1.5 1.5 0 1 0 3 0a1.5 1.5 0 1 0 -3 0M499.2 79.9a1.5 1.5 0 1 0 3 0a1.5 1.5 0 1 0 -3 0M476.2 48a1.5 1.5 0 1 0 3 0a1.5 1.5 0 1 0 -3 0M440.3 72.1a1.5 1.5 0 1 0 3 0a1.5 1.5 0 1 0 -3 0M437.8 83.4a1.5 1.5 0 1 0 3 0a1.5 1.5 0 1 0 -3 0M496.3 79.6a1.5 1.5 0 1 0 3 0a1.5 1.5 0 1 0 -3 0M470.6 43.6a1.5 1.5 0 1 0 3 0a1.5 1.5 0 1 0 -3 0M457.1 50.2a1.5 1.5 0 1 0 3 0a1.5 1.5 0 1 0 -3 0M475.1 62.5a1.5 1.5 0 1 0 3 0a1.5 1.5 0 1 0 -3 0M449.2 75.9a1.5 1.5 0 1 0 3 0a1.5 1.5 0 1 0 -3 0M443.4 67.2a1.5 1.5 0 1 0 3 0a1.5 1.5 0 1 0 -3 0M436.8 83.4a1.5 1.5 0 1 0 3 0a1.5 1.5 0 1 0 -3 0M518.8 58.3a1.5 1.5 0 1 0 3 0a1.5 1.5 0 1 0 -3 0M498.2 84a1.5 1.5 0 1 0 3 0a1.5 1.5 0 1 0 -3 0M444.7 54.9a1.5 1.5 0 1 0 3 0a1.5 1.5 0 1 0 -3 0M493.9 42.1a1.5 1.5 0 1 0 3 0a1.5 1.5 0 1 0 -3 0M534.5 77.5a1.5 1.5 0 1 0 3 0a1.5 1.5 0 1 0 -3 0M448.4 31.9a1.5 1.5 0 1 0 3 0a1.5 1.5 0 1 0 -3 0M440.9 30a1.5 1.5 0 1 0 3 0a1.5 1.5 0 1 0 -3 0M493.5 65.5a1.5 1.5 0 1 0 3 0a1.5 1.5 0 1 0 -3 0M490.1 52.4a1.5 1.5 0 1 0 3 0a1.5 1.5 0 1 0 -3 0M520.8 56.5a1.5 1.5 0 1 0 3 0a1.5 1.5 0 1 0 -3 0M455.9 58.7a1.5 1.5 0 1 0 3 0a1.5 1.5 0 1 0 -3 0M529.9 63.5a1.5 1.5 0 1 0 3 0a1.5 1.5 0 1 0 -3 0M531.1 84.9a1.5 1.5 0 1 0 3 0a1.5 1.5 0 1 0 -3 0M500.1 84.7a1.5 1.5 0 1 0 3 0a1.5 1.5 0 1 0 -3 0M461.7 83.2a1.5 1.5 0 1 0 3 0a1.5 1.5 0 1 0 -3 0M460.3 83.1a1.5 1.5 0 1 0 3 0a1.5 1.5 0 1 0 -3 0M459.9 82a1.5 1.5 0 1 0 3 0a1.5 1.5 0 1 0 -3 0M485.5 66.7a1.5 1.5 0 1 0 3 0a1.5 1.5 0 1 0 -3 0M513.1 43.1a1.5 1.5 0 1 0 3 0a1.5 1.5 0 1 0 -3 0M438.3 50.9a1.5 1.5 0 1 0 3 0a1.5 1.5 0 1 0 -3 0M445.5 74.1a1.5 1.5 0 1 0 3 0a1.5 1.5 0 1 0 -3 0M462.3 62.2a1.5 1.5 0 1 0 3 0a1.5 1.5 0 1 0 -3 0M488.4 58.5a1.5 1.5 0 1 0 3 0a1.5 1.5 0 1 0 -3 0M460.3 36.9a1.5 1.5 0 1 0 3 0a1.5 1.5 0 1 0 -3 0M449.8 40.1a1.5 1.5 0 1 0 3 0a1.5 1.5 0 1 0 -3 0M482.7 61.1a1.5 1.5 0 1 0 3 0a1.5 1.5 0 1 0 -3 0M467.3 78a1.5 1.5 0 1 0 3 0a1.5 1.5 0 1 0 -3 0M476.2 43a1.5 1.5 0 1 0 3 0a1.5 1.5 0 1 0 -3 0M497.1 68.5a1.5 1.5 0 1 0 3 0a1.5 1.5 0 1 0 -3 0M456.5 72.9a1.5 1.5 0 1 0 3 0a1.5 1.5 0 1 0 -3 0M521.5 60.4a1.5 1.5 0 1 0 3 0a1.5 1.5 0 1 0 -3 0M515.3 61.3a1.5 1.5 0 1 0 3 0a1.5 1.5 0 1 0 -3 0M509.3 76.9a1.5 1.5 0 1 0 3 0a1.5 1.5 0 1 0 -3 0M530.8 82a1.5 1.5 0 1 0 3 0a1.5 1.5 0 1 0 -3 0M522.5 60.3a1.5 1.5 0 1 0 3 0a1.5 1.5 0 1 0 -3 0M528.8 76.2a1.5 1.5 0 1 0 3 0a1.5 1.5 0 1 0 -3 0M494.4 66.3a1.5 1.5 0 1 0 3 0a1.5 1.5 0 1 0 -3 0M494.7 57.6a1.5 1.5 0 1 0 3 0a1.5 1.5 0 1 0 -3 0M532.5 40.5a1.5 1.5 0 1 0 3 0a1.5 1.5 0 1 0 -3 0M479.8 70.4a1.5 1.5 0 1 0 3 0a1.5 1.5 0 1 0 -3 0M532.7 47.1a1.5 1.5 0 1 0 3 0a1.5 1.5 0 1 0 -3 0M513.7 73a1.5 1.5 0 1 0 3 0a1.5 1.5 0 1 0 -3 0M531.3 66.5a1.5 1.5 0 1 0 3 0a1.5 1.5 0 1 0 -3 0M522.1 78.6a1.5 1.5 0 1 0 3 0a1.5 1.5 0 1 0 -3 0M474.8 82.5a1.5 1.5 0 1 0 3 0a1.5 1.5 0 1 0 -3 0M519.6 46.9a1.5 1.5 0 1 0 3 0a1.5 1.5 0 1 0 -3 0M533.5 87.4a1.5 1.5 0 1 0 3 0a1.5 1.5 0 1 0 -3 0M508 43.6a1.5 1.5 0 1 0 3 0a1.5 1.5 0 1 0 -3 0M441.2 74.8a1.5 1.5 0 1 0 3 0a1.5 1.5 0 1 0 -3 0M483.5 81.8a1.5 1.5 0 1 0 3 0a1.5 1.5 0 1 0 -3 0M466.9 86.8a1.5 1.5 0 1 0 3 0a1.5 1.5 0 1 0 -3 0M453.9 68.8a1.5 1.5 0 1 0 3 0a1.5 1.5 0 1 0 -3 0M493.1 86.4a1.5 1.5 0 1 0 3 0a1.5 1.5 0 1 0 -3 0M517.3 83.7a1.5 1.5 0 1 0 3 0a1.5 1.5 0 1 0 -3 0M476.2 72.7a1.5 1.5 0 1 0 3 0a1.5 1.5 0 1 0 -3 0M435.6 59.2a1.5 1.5 0 1 0 3 0a1.5 1.5 0 1 0 -3 0M476.3 52a1.5 1.5 0 1 0 3 0a1.5 1.5 0 1 0 -3 0M454.4 72.9a1.5 1.5 0 1 0 3 0a1.5 1.5 0 1 0 -3 0M489.8 86.6a1.5 1.5 0 1 0 3 0a1.5 1.5 0 1 0 -3 0M460.8 87.4a1.5 1.5 0 1 0 3 0a1.5 1.5 0 1 0 -3 0M525.8 73.8a1.5 1.5 0 1 0 3 0a1.5 1.5 0 1 0 -3 0M484.6 57.7a1.5 1.5 0 1 0 3 0a1.5 1.5 0 1 0 -3 0M458.2 61.6a1.5 1.5 0 1 0 3 0a1.5 1.5 0 1 0 -3 0M449.1 54.9a1.5 1.5 0 1 0 3 0a1.5 1.5 0 1 0 -3 0M503.9 84.8a1.5 1.5 0 1 0 3 0a1.5 1.5 0 1 0 -3 0M534.5 37.9a1.5 1.5 0 1 0 3 0a1.5 1.5 0 1 0 -3 0M454.9 76.2a1.5 1.5 0 1 0 3 0a1.5 1.5 0 1 0 -3 0M520 70.9a1.5 1.5 0 1 0 3 0a1.5 1.5 0 1 0 -3 0M469.7 76.3a1.5 1.5 0 1 0 3 0a1.5 1.5 0 1 0 -3 0M436.1 77.8a1.5 1.5 0 1 0 3 0a1.5 1.5 0 1 0 -3 0M517.6 63.8a1.5 1.5 0 1 0 3 0a1.5 1.5 0 1 0 -3 0M454.6 54.2a1.5 1.5 0 1 0 3 0a1.5 1.5 0 1 0 -3 0M533.9 85.5a1.5 1.5 0 1 0 3 0a1.5 1.5 0 1 0 -3 0M447.5 68.5a1.5 1.5 0 1 0 3 0a1.5 1.5 0 1 0 -3 0M503.1 83.3a1.5 1.5 0 1 0 3 0a1.5 1.5 0 1 0 -3 0M454 82.7a1.5 1.5 0 1 0 3 0a1.5 1.5 0 1 0 -3 0M473 86.5a1.5 1.5 0 1 0 3 0a1.5 1.5 0 1 0 -3 0M439.7 61.6a1.5 1.5 0 1 0 3 0a1.5 1.5 0 1 0 -3 0M508.5 87.9a1.5 1.5 0 1 0 3 0a1.5 1.5 0 1 0 -3 0M527.3 44.1a1.5 1.5 0 1 0 3 0a1.5 1.5 0 1 0 -3 0M526.7 70.9a1.5 1.5 0 1 0 3 0a1.5 1.5 0 1 0 -3 0M472.9 74.7a1.5 1.5 0 1 0 3 0a1.5 1.5 0 1 0 -3 0M480.7 54.3a1.5 1.5 0 1 0 3 0a1.5 1.5 0 1 0 -3 0M441 71.5a1.5 1.5 0 1 0 3 0a1.5 1.5 0 1 0 -3 0M436.4 55a1.5 1.5 0 1 0 3 0a1.5 1.5 0 1 0 -3 0M490.1 78.6a1.5 1.5 0 1 0 3 0a1.5 1.5 0 1 0 -3 0M465.4 77.2a1.5 1.5 0 1 0 3 0a1.5 1.5 0 1 0 -3 0M520.4 48.9a1.5 1.5 0 1 0 3 0a1.5 1.5 0 1 0 -3 0M523.1 84.7a1.5 1.5 0 1 0 3 0a1.5 1.5 0 1 0 -3 0M463.2 60.9a1.5 1.5 0 1 0 3 0a1.5 1.5 0 1 0 -3 0M476 43.4a1.5 1.5 0 1 0 3 0a1.5 1.5 0 1 0 -3 0M508.4 52.8a1.5 1.5 0 1 0 3 0a1.5 1.5 0 1 0 -3 0M476 38.4a1.5 1.5 0 1 0 3 0a1.5 1.5 0 1 0 -3 0M436.4 61a1.5 1.5 0 1 0 3 0a1.5 1.5 0 1 0 -3 0M466.7 86.1a1.5 1.5 0 1 0 3 0a1.5 1.5 0 1 0 -3 0M465.6 33.8a1.5 1.5 0 1 0 3 0a1.5 1.5 0 1 0 -3 0M525.6 32.1a1.5 1.5 0 1 0 3 0a1.5 1.5 0 1 0 -3 0M448.7 80.6a1.5 1.5 0 1 0 3 0a1.5 1.5 0 1 0 -3 0M514.6 87.1a1.5 1.5 0 1 0 3 0a1.5 1.5 0 1 0 -3 0M530.4 65.1a1.5 1.5 0 1 0 3 0a1.5 1.5 0 1 0 -3 0M464.6 76.4a1.5 1.5 0 1 0 3 0a1.5 1.5 0 1 0 -3 0M493.2 36a1.5 1.5 0 1 0 3 0a1.5 1.5 0 1 0 -3 0M499.9 59.3a1.5 1.5 0 1 0 3 0a1.5 1.5 0 1 0 -3 0M518.3 69.7a1.5 1.5 0 1 0 3 0a1.5 1.5 0 1 0 -3 0M435.7 53.8a1.5 1.5 0 1 0 3 0a1.5 1.5 0 1 0 -3 0M494.7 56.2a1.5 1.5 0 1 0 3 0a1.5 1.5 0 1 0 -3 0M497.6 69.7a1.5 1.5 0 1 0 3 0a1.5 1.5 0 1 0 -3 0M491.7 81.1a1.5 1.5 0 1 0 3 0a1.5 1.5 0 1 0 -3 0M488.6 67.7a1.5 1.5 0 1 0 3 0a1.5 1.5 0 1 0 -3 0M450.6 82.9a1.5 1.5 0 1 0 3 0a1.5 1.5 0 1 0 -3 0M464.9 47.6a1.5 1.5 0 1 0 3 0a1.5 1.5 0 1 0 -3 0" fill="#F962EE" fill-opacity="0.18" stroke="#F962EE" stroke-opacity="0.34" stroke-width="0.8" filter="url(#f0)"/><path d="M439.9 85.7a1.5 1.5 0 1 0 3 0a1.5 1.5 0 1 0 -3 0M493.3 77.6a1.5 1.5 0 1 0 3 0a1.5 1.5 0 1 0 -3 0M516.6 55.6a1.5 1.5 0 1 0 3 0a1.5 1.5 0 1 0 -3 0M439.7 78a1.5 1.5 0 1 0 3 0a1.5 1.5 0 1 0 -3 0M480.4 73a1.5 1.5 0 1 0 3 0a1.5 1.5 0 1 0 -3 0M475.9 63.6a1.5 1.5 0 1 0 3 0a1.5 1.5 0 1 0 -3 0M461.1 87.2a1.5 1.5 0 1 0 3 0a1.5 1.5 0 1 0 -3 0M497.4 69.4a1.5 1.5 0 1 0 3 0a1.5 1.5 0 1 0 -3 0M482 73.9a1.5 1.5 0 1 0 3 0a1.5 1.5 0 1 0 -3 0M446.4 67a1.5 1.5 0 1 0 3 0a1.5 1.5 0 1 0 -3 0M519 83.5a1.5 1.5 0 1 0 3 0a1.5 1.5 0 1 0 -3 0M524.4 70.9a1.5 1.5 0 1 0 3 0a1.5 1.5 0 1 0 -3 0M451.4 72a1.5 1.5 0 1 0 3 0a1.5 1.5 0 1 0 -3 0M477.1 86.5a1.5 1.5 0 1 0 3 0a1.5 1.5 0 1 0 -3 0M502 30.6a1.5 1.5 0 1 0 3 0a1.5 1.5 0 1 0 -3 0M457.1 45.6a1.5 1.5 0 1 0 3 0a1.5 1.5 0 1 0 -3 0M479.5 48.3a1.5 1.5 0 1 0 3 0a1.5 1.5 0 1 0 -3 0M437.7 60.1a1.5 1.5 0 1 0 3 0a1.5 1.5 0 1 0 -3 0M453.5 87.3a1.5 1.5 0 1 0 3 0a1.5 1.5 0 1 0 -3 0M446 70.4a1.5 1.5 0 1 0 3 0a1.5 1.5 0 1 0 -3 0M448.2 57.3a1.5 1.5 0 1 0 3 0a1.5 1.5 0 1 0 -3 0M437.3 75.6a1.5 1.5 0 1 0 3 0a1.5 1.5 0 1 0 -3 0M465.7 58.4a1.5 1.5 0 1 0 3 0a1.5 1.5 0 1 0 -3 0M462.5 78.9a1.5 1.5 0 1 0 3 0a1.5 1.5 0 1 0 -3 0M509.4 78.6a1.5 1.5 0 1 0 3 0a1.5 1.5 0 1 0 -3 0M519.4 71.2a1.5 1.5 0 1 0 3 0a1.5 1.5 0 1 0 -3 0M461.4 86.2a1.5 1.5 0 1 0 3 0a1.5 1.5 0 1 0 -3 0M479.7 79.3a1.5 1.5 0 1 0 3 0a1.5 1.5 0 1 0 -3 0M446.2 60.9a1.5 1.5 0 1 0 3 0a1.5 1.5 0 1 0 -3 0M527 85.7a1.5 1.5 0 1 0 3 0a1.5 1.5 0 1 0 -3 0M488.7 62.6a1.5 1.5 0 1 0 3 0a1.5 1.5 0 1 0 -3 0M525.9 42.8a1.5 1.5 0 1 0 3 0a1.5 1.5 0 1 0 -3 0M439.9 36.4a1.5 1.5 0 1 0 3 0a1.5 1.5 0 1 0 -3 0M475.9 43.9a1.5 1.5 0 1 0 3 0a1.5 1.5 0 1 0 -3 0M524.4 87.4a1.5 1.5 0 1 0 3 0a1.5 1.5 0 1 0 -3 0M443.8 28.1a1.5 1.5 0 1 0 3 0a1.5 1.5 0 1 0 -3 0M476.6 58a1.5 1.5 0 1 0 3 0a1.5 1.5 0 1 0 -3 0M528.3 78.8a1.5 1.5 0 1 0 3 0a1.5 1.5 0 1 0 -3 0M490 82.6a1.5 1.5 0 1 0 3 0a1.5 1.5 0 1 0 -3 0M518.6 74.9a1.5 1.5 0 1 0 3 0a1.5 1.5 0 1 0 -3 0M444.1 66.6a1.5 1.5 0 1 0 3 0a1.5 1.5 0 1 0 -3 0M446 59.2a1.5 1.5 0 1 0 3 0a1.5 1.5 0 1 0 -3 0M440.6 61a1.5 1.5 0 1 0 3 0a1.5 1.5 0 1 0 -3 0M449.1 86.1a1.5 1.5 0 1 0 3 0a1.5 1.5 0 1 0 -3 0M446.4 53.2a1.5 1.5 0 1 0 3 0a1.5 1.5 0 1 0 -3 0M480.5 82.1a1.5 1.5 0 1 0 3 0a1.5 1.5 0 1 0 -3 0M466.5 60.6a1.5 1.5 0 1 0 3 0a1.5 1.5 0 1 0 -3 0M470.5 42.3a1.5 1.5 0 1 0 3 0a1.5 1.5 0 1 0 -3 0M481.9 50.3a1.5 1.5 0 1 0 3 0a1.5 1.5 0 1 0 -3 0M453.7 58.4a1.5 1.5 0 1 0 3 0a1.5 1.5 0 1 0 -3 0M501.4 84.1a1.5 1.5 0 1 0 3 0a1.5 1.5 0 1 0 -3 0M439.4 53.4a1.5 1.5 0 1 0 3 0a1.5 1.5 0 1 0 -3 0M461.5 61.5a1.5 1.5 0 1 0 3 0a1.5 1.5 0 1 0 -3 0M445.9 57.8a1.5 1.5 0 1 0 3 0a1.5 1.5 0 1 0 -3 0M451.6 61.4a1.5 1.5 0 1 0 3 0a1.5 1.5 0 1 0 -3 0M474.7 65.1a1.5 1.5 0 1 0 3 0a1.5 1.5 0 1 0 -3 0M511.5 60.1a1.5 1.5 0 1 0 3 0a1.5 1.5 0 1 0 -3 0M447.9 41.6a1.5 1.5 0 1 0 3 0a1.5 1.5 0 1 0 -3 0M469.3 84.6a1.5 1.5 0 1 0 3 0a1.5 1.5 0 1 0 -3 0M497.7 83.2a1.5 1.5 0 1 0 3 0a1.5 1.5 0 1 0 -3 0M518.2 70.4a1.5 1.5 0 1 0 3 0a1.5 1.5 0 1 0 -3 0M446.4 77.6a1.5 1.5 0 1 0 3 0a1.5 1.5 0 1 0 -3 0M493.6 60.4a1.5 1.5 0 1 0 3 0a1.5 1.5 0 1 0 -3 0M449.8 85a1.5 1.5 0 1 0 3 0a1.5 1.5 0 1 0 -3 0M499.7 55.6a1.5 1.5 0 1 0 3 0a1.5 1.5 0 1 0 -3 0M472.3 76.3a1.5 1.5 0 1 0 3 0a1.5 1.5 0 1 0 -3 0M515.3 53.9a1.5 1.5 0 1 0 3 0a1.5 1.5 0 1 0 -3 0M436.8 50.4a1.5 1.5 0 1 0 3 0a1.5 1.5 0 1 0 -3 0M463.6 76.7a1.5 1.5 0 1 0 3 0a1.5 1.5 0 1 0 -3 0M475.7 68.6a1.5 1.5 0 1 0 3 0a1.5 1.5 0 1 0 -3 0M501.8 50.2a1.5 1.5 0 1 0 3 0a1.5 1.5 0 1 0 -3 0M482.9 83a1.5 1.5 0 1 0 3 0a1.5 1.5 0 1 0 -3 0M449 76.6a1.5 1.5 0 1 0 3 0a1.5 1.5 0 1 0 -3 0M500.1 87a1.5 1.5 0 1 0 3 0a1.5 1.5 0 1 0 -3 0M460.3 83.6a1.5 1.5 0 1 0 3 0a1.5 1.5 0 1 0 -3 0M463.1 39.9a1.5 1.5 0 1 0 3 0a1.5 1.5 0 1 0 -3 0M457.1 87.7a1.5 1.5 0 1 0 3 0a1.5 1.5 0 1 0 -3 0M480.2 43.2a1.5 1.5 0 1 0 3 0a1.5 1.5 0 1 0 -3 0M442.6 86.1a1.5 1.5 0 1 0 3 0a1.5 1.5 0 1 0 -3 0M439.4 53.3a1.5 1.5 0 1 0 3 0a1.5 1.5 0 1 0 -3 0M448.7 55.8a1.5 1.5 0 1 0 3 0a1.5 1.5 0 1 0 -3 0M530.9 80.5a1.5 1.5 0 1 0 3 0a1.5 1.5 0 1 0 -3 0M476.4 71.9a1.5 1.5 0 1 0 3 0a1.5 1.5 0 1 0 -3 0M524.1 48.2a1.5 1.5 0 1 0 3 0a1.5 1.5 0 1 0 -3 0M439.9 86.3a1.5 1.5 0 1 0 3 0a1.5 1.5 0 1 0 -3 0M439.7 76.1a1.5 1.5 0 1 0 3 0a1.5 1.5 0 1 0 -3 0M444 59.3a1.5 1.5 0 1 0 3 0a1.5 1.5 0 1 0 -3 0M457.4 83.7a1.5 1.5 0 1 0 3 0a1.5 1.5 0 1 0 -3 0M444.1 67.5a1.5 1.5 0 1 0 3 0a1.5 1.5 0 1 0 -3 0M458.3 79.8a1.5 1.5 0 1 0 3 0a1.5 1.5 0 1 0 -3 0M478.5 66.9a1.5 1.5 0 1 0 3 0a1.5 1.5 0 1 0 -3 0M489.9 74.9a1.5 1.5 0 1 0 3 0a1.5 1.5 0 1 0 -3 0M497.3 53.8a1.5 1.5 0 1 0 3 0a1.5 1.5 0 1 0 -3 0M527.4 73.3a1.5 1.5 0 1 0 3 0a1.5 1.5 0 1 0 -3 0M458.2 44.4a1.5 1.5 0 1 0 3 0a1.5 1.5 0 1 0 -3 0M448.5 63.5a1.5 1.5 0 1 0 3 0a1.5 1.5 0 1 0 -3 0M471 64.6a1.5 1.5 0 1 0 3 0a1.5 1.5 0 1 0 -3 0M461.2 76.9a1.5 1.5 0 1 0 3 0a1.5 1.5 0 1 0 -3 0M466.9 65.6a1.5 1.5 0 1 0 3 0a1.5 1.5 0 1 0 -3 0M454.3 77.7a1.5 1.5 0 1 0 3 0a1.5 1.5 0 1 0 -3 0M505.4 77.3a1.5 1.5 0 1 0 3 0a1.5 1.5 0 1 0 -3 0M503.7 78.2a1.5 1.5 0 1 0 3 0a1.5 1.5 0 1 0 -3 0M457.6 52.9a1.5 1.5 0 1 0 3 0a1.5 1.5 0 1 0 -3 0M446.2 70.8a1.5 1.5 0 1 0 3 0a1.5 1.5 0 1 0 -3 0M513.5 80.1a1.5 1.5 0 1 0 3 0a1.5 1.5 0 1 0 -3 0M531.8 84.1a1.5 1.5 0 1 0 3 0a1.5 1.5 0 1 0 -3 0M460.4 34.9a1.5 1.5 0 1 0 3 0a1.5 1.5 0 1 0 -3 0M447.4 79.7a1.5 1.5 0 1 0 3 0a1.5 1.5 0 1 0 -3 0M535.3 66.3a1.5 1.5 0 1 0 3 0a1.5 1.5 0 1 0 -3 0M444.3 82.1a1.5 1.5 0 1 0 3 0a1.5 1.5 0 1 0 -3 0M488.4 69a1.5 1.5 0 1 0 3 0a1.5 1.5 0 1 0 -3 0M452.4 62.3a1.5 1.5 0 1 0 3 0a1.5 1.5 0 1 0 -3 0M445.8 80.2a1.5 1.5 0 1 0 3 0a1.5 1.5 0 1 0 -3 0M461.1 81.6a1.5 1.5 0 1 0 3 0a1.5 1.5 0 1 0 -3 0M439 30.4a1.5 1.5 0 1 0 3 0a1.5 1.5 0 1 0 -3 0M533.1 80.2a1.5 1.5 0 1 0 3 0a1.5 1.5 0 1 0 -3 0M448.8 58.6a1.5 1.5 0 1 0 3 0a1.5 1.5 0 1 0 -3 0M495.7 49.8a1.5 1.5 0 1 0 3 0a1.5 1.5 0 1 0 -3 0M435.7 46.4a1.5 1.5 0 1 0 3 0a1.5 1.5 0 1 0 -3 0M457.9 84.4a1.5 1.5 0 1 0 3 0a1.5 1.5 0 1 0 -3 0M481.9 81.8a1.5 1.5 0 1 0 3 0a1.5 1.5 0 1 0 -3 0M508.5 77.1a1.5 1.5 0 1 0 3 0a1.5 1.5 0 1 0 -3 0M498.6 56.8a1.5 1.5 0 1 0 3 0a1.5 1.5 0 1 0 -3 0M499.6 46.6a1.5 1.5 0 1 0 3 0a1.5 1.5 0 1 0 -3 0M465.4 83.9a1.5 1.5 0 1 0 3 0a1.5 1.5 0 1 0 -3 0M457 80.7a1.5 1.5 0 1 0 3 0a1.5 1.5 0 1 0 -3 0M487.1 79.6a1.5 1.5 0 1 0 3 0a1.5 1.5 0 1 0 -3 0M518.5 52.5a1.5 1.5 0 1 0 3 0a1.5 1.5 0 1 0 -3 0M535.5 38.5a1.5 1.5 0 1 0 3 0a1.5 1.5 0 1 0 -3 0M521 74.3a1.5 1.5 0 1 0 3 0a1.5 1.5 0 1 0 -3 0M446.3 81.1a1.5 1.5 0 1 0 3 0a1.5 1.5 0 1 0 -3 0M459.3 84a1.5 1.5 0 1 0 3 0a1.5 1.5 0 1 0 -3 0M480.7 73.4a1.5 1.5 0 1 0 3 0a1.5 1.5 0 1 0 -3 0M519.6 76.9a1.5 1.5 0 1 0 3 0a1.5 1.5 0 1 0 -3 0M446.7 83.6a1.5 1.5 0 1 0 3 0a1.5 1.5 0 1 0 -3 0M509.5 76.6a1.5 1.5 0 1 0 3 0a1.5 1.5 0 1 0 -3 0M455 86.8a1.5 1.5 0 1 0 3 0a1.5 1.5 0 1 0 -3 0M454.1 69.5a1.5 1.5 0 1 0 3 0a1.5 1.5 0 1 0 -3 0M454.4 81.6a1.5 1.5 0 1 0 3 0a1.5 1.5 0 1 0 -3 0M513.7 87.2a1.5 1.5 0 1 0 3 0a1.5 1.5 0 1 0 -3 0M510.5 85.1a1.5 1.5 0 1 0 3 0a1.5 1.5 0 1 0 -3 0M486.7 85.8a1.5 1.5 0 1 0 3 0a1.5 1.5 0 1 0 -3 0M461.8 57.7a1.5 1.5 0 1 0 3 0a1.5 1.5 0 1 0 -3 0M446.8 53.8a1.5 1.5 0 1 0 3 0a1.5 1.5 0 1 0 -3 0M441.4 84.1a1.5 1.5 0 1 0 3 0a1.5 1.5 0 1 0 -3 0M447.5 48.5a1.5 1.5 0 1 0 3 0a1.5 1.5 0 1 0 -3 0M480.8 81.5a1.5 1.5 0 1 0 3 0a1.5 1.5 0 1 0 -3 0M471.5 60.8a1.5 1.5 0 1 0 3 0a1.5 1.5 0 1 0 -3 0M464.2 82.1a1.5 1.5 0 1 0 3 0a1.5 1.5 0 1 0 -3 0M505.8 32.2a1.5 1.5 0 1 0 3 0a1.5 1.5 0 1 0 -3 0M509.7 43.6a1.5 1.5 0 1 0 3 0a1.5 1.5 0 1 0 -3 0M528.7 65.4a1.5 1.5 0 1 0 3 0a1.5 1.5 0 1 0 -3 0M510.3 50.2a1.5 1.5 0 1 0 3 0a1.5 1.5 0 1 0 -3 0M517.7 54.5a1.5 1.5 0 1 0 3 0a1.5 1.5 0 1 0 -3 0M475.3 79.8a1.5 1.5 0 1 0 3 0a1.5 1.5 0 1 0 -3 0M471.5 48.5a1.5 1.5 0 1 0 3 0a1.5 1.5 0 1 0 -3 0M499.9 39.2a1.5 1.5 0 1 0 3 0a1.5 1.5 0 1 0 -3 0M478.7 83.8a1.5 1.5 0 1 0 3 0a1.5 1.5 0 1 0 -3 0M458.2 76.5a1.5 1.5 0 1 0 3 0a1.5 1.5 0 1 0 -3 0M510.2 39.8a1.5 1.5 0 1 0 3 0a1.5 1.5 0 1 0 -3 0" fill="#00B0F6" fill-opacity="0.18" stroke="#00B0F6" stroke-opacity="0.34" stroke-width="0.8" filter="url(#f0)"/><path d="M535.4 66.1a1.6 1.6 0 1 0 3.2 0a1.6 1.6 0 1 0 -3.2 0M536.8 43a1.6 1.6 0 1 0 3.2 0a1.6 1.6 0 1 0 -3.2 0M534.5 65a1.6 1.6 0 1 0 3.2 0a1.6 1.6 0 1 0 -3.2 0M536.2 75.1a1.6 1.6 0 1 0 3.2 0a1.6 1.6 0 1 0 -3.2 0M534.9 70.7a1.6 1.6 0 1 0 3.2 0a1.6 1.6 0 1 0 -3.2 0M534.6 40a1.6 1.6 0 1 0 3.2 0a1.6 1.6 0 1 0 -3.2 0M536.1 99.1a1.6 1.6 0 1 0 3.2 0a1.6 1.6 0 1 0 -3.2 0M536.2 44.4a1.6 1.6 0 1 0 3.2 0a1.6 1.6 0 1 0 -3.2 0M535.9 41.6a1.6 1.6 0 1 0 3.2 0a1.6 1.6 0 1 0 -3.2 0M537.7 100.4a1.6 1.6 0 1 0 3.2 0a1.6 1.6 0 1 0 -3.2 0M537.3 97.6a1.6 1.6 0 1 0 3.2 0a1.6 1.6 0 1 0 -3.2 0M537.8 51.7a1.6 1.6 0 1 0 3.2 0a1.6 1.6 0 1 0 -3.2 0M536.4 73.2a1.6 1.6 0 1 0 3.2 0a1.6 1.6 0 1 0 -3.2 0M537.8 60.3a1.6 1.6 0 1 0 3.2 0a1.6 1.6 0 1 0 -3.2 0M536.5 96a1.6 1.6 0 1 0 3.2 0a1.6 1.6 0 1 0 -3.2 0M537.5 86.6a1.6 1.6 0 1 0 3.2 0a1.6 1.6 0 1 0 -3.2 0M537.5 88.6a1.6 1.6 0 1 0 3.2 0a1.6 1.6 0 1 0 -3.2 0" fill="#F962EE" fill-opacity="0.21" stroke="#F962EE" stroke-opacity="0.39" stroke-width="0.8" filter="url(#f0)"/><path d="M535.1 34.5a1.6 1.6 0 1 0 3.2 0a1.6 1.6 0 1 0 -3.2 0M536 37.4a1.6 1.6 0 1 0 3.2 0a1.6 1.6 0 1 0 -3.2 0M535.8 34.9a1.6 1.6 0 1 0 3.2 0a1.6 1.6 0 1 0 -3.2 0M537.4 103.4a1.6 1.6 0 1 0 3.2 0a1.6 1.6 0 1 0 -3.2 0M535.3 28.8a1.6 1.6 0 1 0 3.2 0a1.6 1.6 0 1 0 -3.2 0M536.8 40.5a1.6 1.6 0 1 0 3.2 0a1.6 1.6 0 1 0 -3.2 0M536.6 76.3a1.6 1.6 0 1 0 3.2 0a1.6 1.6 0 1 0 -3.2 0M536.9 96.1a1.6 1.6 0 1 0 3.2 0a1.6 1.6 0 1 0 -3.2 0M534.9 69a1.6 1.6 0 1 0 3.2 0a1.6 1.6 0 1 0 -3.2 0M536.7 91.7a1.6 1.6 0 1 0 3.2 0a1.6 1.6 0 1 0 -3.2 0M537.2 59.9a1.6 1.6 0 1 0 3.2 0a1.6 1.6 0 1 0 -3.2 0M535.9 101.6a1.6 1.6 0 1 0 3.2 0a1.6 1.6 0 1 0 -3.2 0M535.2 93.4a1.6 1.6 0 1 0 3.2 0a1.6 1.6 0 1 0 -3.2 0" fill="#00B0F6" fill-opacity="0.21" stroke="#00B0F6" stroke-opacity="0.39" stroke-width="0.8" filter="url(#f0)"/><path d="M425 26.3L470 26.3L470 31L425 31Z" fill="#F962EE" fill-opacity="0.55"/><clipPath id="k7"><rect x="424.5" y="26.3" width="114.2" height="80.7"/></clipPath><g clip-path="url(#k7)"><path d="M451.6 66.1L453.4 67.9L455.7 69.4L458.4 70.8L461.4 71.9L464.8 72.8L468.7 73.6L472.9 74.1L477.5 74.4L482.5 74.6L487.5 74.7L492.4 74.7L497.4 74.8L502.3 74.8L507.2 74.7L512.1 74.7L516.9 74.6L521.8 74.4L526 74.7L529.6 75.2L532.7 76.1L535.1 77.4L536.9 79L538.1 80.9L538.7 83.2L538.7 85.8L537.2 88.1L534.3 90.1L529.9 91.7L524.1 93L516.7 94L508 94.7L497.7 95L486 95L475.7 94.5L467 93.4L459.6 91.7L453.8 89.5L449.4 86.8L446.5 83.5L445 79.7L445 75.3L445.2 71.7L445.7 68.9L446.4 66.8L447.3 65.5L448.5 64.9L449.9 65.1Z" fill="#F962EE" fill-opacity="0.45"/></g><clipPath id="k8"><rect x="424.5" y="26.3" width="114.2" height="80.7"/></clipPath><g clip-path="url(#k8)"><path d="M431.2 15L435.8 15L439.9 15.2L443.3 15.8L446.2 16.5L448.5 17.5L450.3 18.8L451.4 20.2L452 22L452 24L451.8 25.8L451.4 27.3L450.9 28.7L450.1 29.8L449.2 30.7L448.1 31.4L446.8 31.9L445.2 32.1L443.9 32.5L442.7 32.9L441.7 33.3L440.8 33.9L440.1 34.5L439.5 35.3L439.1 36.1L438.9 36.9L438.7 37.9L438.6 39.1L438.5 40.3L438.5 41.7L438.6 43.2L438.7 44.8L438.9 46.6L439.1 48.4L439.4 50.2L439.7 52L440.1 53.6L440.4 55.2L440.8 56.6L441.3 58L441.8 59.4L442.2 60.6L442.8 61.9L443.4 63.1L444.1 64.4L444.9 65.6L445.7 66.9L446.6 68.1L447.5 69.4L448.5 70.6L449.7 71.8L451 72.9L452.4 73.9L454.1 74.8L455.8 75.7L457.8 76.5L459.9 77.2L462.1 77.8L464.6 78.4L467.2 79L470 79.6L473 80.2L476.2 80.7L479.6 81.2L483.1 81.8L486.9 82.2L490.9 82.7L495.2 83.1L499.8 83.5L504.7 83.8L509.8 84L515.3 84.3L521 84.4L527 84.6L532.2 85.1L536.8 85.9L540.5 87.2L543.5 88.8L545.8 90.8L547.2 93.2L548 95.9L548 99.1L545.9 101.8L541.8 104.1L535.5 106.1L527.2 107.7L516.8 108.8L504.4 109.6L489.8 110L473.2 110L458.6 108.5L446.2 105.5L435.8 101.1L427.5 95.2L421.2 87.7L417.1 78.8L415 68.4L415 56.6L415.6 46.2L416.7 37.3L418.5 29.8L420.8 23.9L423.7 19.5L427.1 16.5Z" fill="#F962EE" filter="url(#f1)"/></g><path d="M424.8 97.3L426.3 96.8L427.8 95.9L429.3 95.2L430.8 94.8L432.3 94.6L433.8 94.4L435.3 94.2L436.8 94.2L438.3 94.2L439.8 94.2L441.3 94.1L442.8 94.1L444.3 94.1L445.8 94.1L447.3 94.1L448.8 94.1L450.3 94.1L451.8 94.1L453.3 94.1L454.8 94.1L456.3 94L457.8 94L459.3 94L460.8 94L462.3 94L463.8 94L465.3 94L466.8 94L468.3 94L469.8 94L471.3 94L472.8 94L474.3 94L475.8 94L477.3 94L478.8 94L480.3 94L481.8 94L483.3 94L484.8 94L486.3 94L487.8 94L489.3 94L490.8 94L492.3 94L493.8 94L495.3 94L496.8 94L498.3 94L499.8 94L501.3 94L502.8 94L504.3 94.1L505.8 94.1L507.3 94.1L508.8 94.1L510.3 94.1L511.8 94.1L513.3 94.1L514.8 94.1L516.3 94.1L517.8 94.1L519.3 94.1L520.8 94.1L522.3 94.1L523.8 94.1L525.3 94.1L526.8 94.2L528.3 94.2L529.8 94.2L531.3 94.2L532.8 94.2L534.3 94.2L535.8 94.2L537.3 94.2L538.7 94.2L538.7 107L537.3 107L535.8 107L534.3 107L532.8 107L531.3 107L529.8 107L528.3 107L526.8 107L525.3 107L523.8 107L522.3 107L520.8 107L519.3 107L517.8 107L516.3 107L514.8 107L513.3 107L511.8 107L510.3 107L508.8 107L507.3 107L505.8 107L504.3 107L502.8 107L501.3 107L499.8 107L498.3 107L496.8 107L495.3 107L493.8 107L492.3 107L490.8 107L489.3 107L487.8 107L486.3 107L484.8 107L483.3 107L481.8 107L480.3 107L478.8 107L477.3 107L475.8 107L474.3 107L472.8 107L471.3 107L469.8 107L468.3 107L466.8 107L465.3 107L463.8 107L462.3 107L460.8 107L459.3 107L457.8 107L456.3 107L454.8 107L453.3 107L451.8 107L450.3 107L448.8 107L447.3 107L445.8 107L444.3 107L442.8 107L441.3 107L439.8 107L438.3 107L436.8 107L435.3 107L433.8 107L432.3 107L430.8 107L429.3 107L427.8 107L426.3 107L424.8 107Z" fill="#00B0F6" fill-opacity="0.85"/><path d="M424.8 101.1L426.3 100.8L427.8 100.1L429.3 99.7L430.8 99.5L432.3 99.3L433.8 99.3L435.3 99.2L436.8 99.2L438.3 99.2L439.8 99.2L441.3 99.2L442.8 99.2L444.3 99.2L445.8 99.2L447.3 99.2L448.8 99.2L450.3 99.2L451.8 99.2L453.3 99.2L454.8 99.2L456.3 99.2L457.8 99.2L459.3 99.2L460.8 99.2L462.3 99.2L463.8 99.2L465.3 99.2L466.8 99.2L468.3 99.2L469.8 99.2L471.3 99.2L472.8 99.2L474.3 99.2L475.8 99.2L477.3 99.3L478.8 99.3L480.3 99.3L481.8 99.3L483.3 99.3L484.8 99.3L486.3 99.3L487.8 99.3L489.3 99.3L490.8 99.3L492.3 99.3L493.8 99.3L495.3 99.3L496.8 99.3L498.3 99.3L499.8 99.3L501.3 99.3L502.8 99.3L504.3 99.3L505.8 99.3L507.3 99.3L508.8 99.3L510.3 99.3L511.8 99.3L513.3 99.3L514.8 99.3L516.3 99.3L517.8 99.4L519.3 99.4L520.8 99.4L522.3 99.4L523.8 99.4L525.3 99.4L526.8 99.4L528.3 99.4L529.8 99.4L531.3 99.4L532.8 99.4L534.3 99.4L535.8 99.4L537.3 99.4L538.7 99.4L538.7 107L537.3 107L535.8 107L534.3 107L532.8 107L531.3 107L529.8 107L528.3 107L526.8 107L525.3 107L523.8 107L522.3 107L520.8 107L519.3 107L517.8 107L516.3 107L514.8 107L513.3 107L511.8 107L510.3 107L508.8 107L507.3 107L505.8 107L504.3 107L502.8 107L501.3 107L499.8 107L498.3 107L496.8 107L495.3 107L493.8 107L492.3 107L490.8 107L489.3 107L487.8 107L486.3 107L484.8 107L483.3 107L481.8 107L480.3 107L478.8 107L477.3 107L475.8 107L474.3 107L472.8 107L471.3 107L469.8 107L468.3 107L466.8 107L465.3 107L463.8 107L462.3 107L460.8 107L459.3 107L457.8 107L456.3 107L454.8 107L453.3 107L451.8 107L450.3 107L448.8 107L447.3 107L445.8 107L444.3 107L442.8 107L441.3 107L439.8 107L438.3 107L436.8 107L435.3 107L433.8 107L432.3 107L430.8 107L429.3 107L427.8 107L426.3 107L424.8 107Z" fill="#00BF7D" fill-opacity="0.85"/><path d="M424.8 104.3L426.3 104.1L427.8 103.8L429.3 103.6L430.8 103.6L432.3 103.6L433.8 103.6L435.3 103.6L436.8 103.6L438.3 103.6L439.8 103.6L441.3 103.6L442.8 103.6L444.3 103.6L445.8 103.6L447.3 103.6L448.8 103.6L450.3 103.6L451.8 103.6L453.3 103.6L454.8 103.6L456.3 103.6L457.8 103.6L459.3 103.6L460.8 103.6L462.3 103.6L463.8 103.6L465.3 103.6L466.8 103.6L468.3 103.6L469.8 103.6L471.3 103.6L472.8 103.6L474.3 103.6L475.8 103.6L477.3 103.6L478.8 103.6L480.3 103.6L481.8 103.6L483.3 103.6L484.8 103.6L486.3 103.6L487.8 103.6L489.3 103.6L490.8 103.6L492.3 103.6L493.8 103.6L495.3 103.6L496.8 103.6L498.3 103.6L499.8 103.6L501.3 103.6L502.8 103.6L504.3 103.6L505.8 103.6L507.3 103.6L508.8 103.6L510.3 103.6L511.8 103.6L513.3 103.6L514.8 103.6L516.3 103.6L517.8 103.6L519.3 103.6L520.8 103.6L522.3 103.6L523.8 103.6L525.3 103.6L526.8 103.6L528.3 103.6L529.8 103.6L531.3 103.6L532.8 103.6L534.3 103.6L535.8 103.6L537.3 103.6L538.7 103.6L538.7 107L537.3 107L535.8 107L534.3 107L532.8 107L531.3 107L529.8 107L528.3 107L526.8 107L525.3 107L523.8 107L522.3 107L520.8 107L519.3 107L517.8 107L516.3 107L514.8 107L513.3 107L511.8 107L510.3 107L508.8 107L507.3 107L505.8 107L504.3 107L502.8 107L501.3 107L499.8 107L498.3 107L496.8 107L495.3 107L493.8 107L492.3 107L490.8 107L489.3 107L487.8 107L486.3 107L484.8 107L483.3 107L481.8 107L480.3 107L478.8 107L477.3 107L475.8 107L474.3 107L472.8 107L471.3 107L469.8 107L468.3 107L466.8 107L465.3 107L463.8 107L462.3 107L460.8 107L459.3 107L457.8 107L456.3 107L454.8 107L453.3 107L451.8 107L450.3 107L448.8 107L447.3 107L445.8 107L444.3 107L442.8 107L441.3 107L439.8 107L438.3 107L436.8 107L435.3 107L433.8 107L432.3 107L430.8 107L429.3 107L427.8 107L426.3 107L424.8 107Z" fill="#A3A500" fill-opacity="0.85"/><path d="M424.8 106.1L426.3 105.9L427.8 105.6L429.3 105.4L430.8 105.4L432.3 105.4L433.8 105.4L435.3 105.4L436.8 105.4L438.3 105.4L439.8 105.4L441.3 105.4L442.8 105.4L444.3 105.4L445.8 105.4L447.3 105.4L448.8 105.4L450.3 105.4L451.8 105.4L453.3 105.4L454.8 105.4L456.3 105.4L457.8 105.4L459.3 105.4L460.8 105.4L462.3 105.4L463.8 105.4L465.3 105.4L466.8 105.4L468.3 105.4L469.8 105.4L471.3 105.4L472.8 105.4L474.3 105.4L475.8 105.4L477.3 105.4L478.8 105.4L480.3 105.4L481.8 105.4L483.3 105.4L484.8 105.4L486.3 105.4L487.8 105.4L489.3 105.4L490.8 105.4L492.3 105.4L493.8 105.4L495.3 105.4L496.8 105.4L498.3 105.4L499.8 105.4L501.3 105.4L502.8 105.4L504.3 105.4L505.8 105.4L507.3 105.4L508.8 105.4L510.3 105.4L511.8 105.4L513.3 105.4L514.8 105.4L516.3 105.4L517.8 105.4L519.3 105.4L520.8 105.4L522.3 105.4L523.8 105.4L525.3 105.4L526.8 105.4L528.3 105.4L529.8 105.4L531.3 105.4L532.8 105.4L534.3 105.4L535.8 105.4L537.3 105.4L538.7 105.4L538.7 107L537.3 107L535.8 107L534.3 107L532.8 107L531.3 107L529.8 107L528.3 107L526.8 107L525.3 107L523.8 107L522.3 107L520.8 107L519.3 107L517.8 107L516.3 107L514.8 107L513.3 107L511.8 107L510.3 107L508.8 107L507.3 107L505.8 107L504.3 107L502.8 107L501.3 107L499.8 107L498.3 107L496.8 107L495.3 107L493.8 107L492.3 107L490.8 107L489.3 107L487.8 107L486.3 107L484.8 107L483.3 107L481.8 107L480.3 107L478.8 107L477.3 107L475.8 107L474.3 107L472.8 107L471.3 107L469.8 107L468.3 107L466.8 107L465.3 107L463.8 107L462.3 107L460.8 107L459.3 107L457.8 107L456.3 107L454.8 107L453.3 107L451.8 107L450.3 107L448.8 107L447.3 107L445.8 107L444.3 107L442.8 107L441.3 107L439.8 107L438.3 107L436.8 107L435.3 107L433.8 107L432.3 107L430.8 107L429.3 107L427.8 107L426.3 107L424.8 107Z" fill="#F8766D" fill-opacity="0.8"/><path d="M458 76L459.6 76L461.1 75.9L462.7 75.9L464.3 75.8L465.9 75.8L467.4 75.7L469 75.7L470.6 75.6L472.1 75.6L473.7 75.6L475.3 75.5L476.9 75.5L478.4 75.4L480 75.4L481.5 75.4L483.1 75.3L484.6 75.3L486.2 75.3L487.7 75.2L489.2 75.2L490.8 75.2L492.3 75.2L493.8 75.1L495.4 75.1L496.9 75.1L498.5 75L500 75L501.5 75L503.1 74.9L504.6 74.9L506.2 74.8L507.7 74.7L509.2 74.7L510.8 74.6L512.3 74.6L513.8 74.5L515.4 74.5L516.9 74.4L518.5 74.3L520 74.3L521.6 74.3L523.1 74.2L524.7 74.2L526.2 74.1L527.8 74.1L529.4 74L530.9 74L532.5 74L534 73.9L535.6 73.9L537.1 73.8L538.7 73.8" stroke="#F962EE" stroke-width="1.75" fill="none" stroke-linejoin="round" stroke-linecap="round"/><path d="M425.5 91.5L426.8 90.2L428 89L429.5 87.8L431 87L432.7 86.5L434.3 86.2L436 86.1L437.5 86.1L439 86.1L440.6 86.1L442.1 86.1L443.6 86.1L445.1 86.1L446.6 86.1L448.1 86.1L449.7 86L451.2 86L452.7 86L454.2 86L455.7 86L457.2 86L458.8 86L460.3 86L461.8 86L463.3 86L464.8 86L466.3 86L467.9 86L469.4 86L470.9 86L472.4 86L473.9 86L475.4 86L477 86L478.5 86L480 86L481.5 86L483 86L484.5 86L486 86L487.5 86L489 86L490.5 86L492 85.9L493.5 85.9L495.1 85.9L496.6 85.9L498.1 85.9L499.6 85.9L501.1 85.9L502.6 85.9L504.1 85.9L505.6 85.9L507.1 85.8L508.6 85.8L510.1 85.8L511.6 85.8L513.1 85.8L514.6 85.8L516.1 85.8L517.6 85.8L519.1 85.7L520.6 85.7L522.1 85.7L523.6 85.7L525.2 85.7L526.7 85.7L528.2 85.7L529.7 85.7L531.2 85.7L532.7 85.6L534.2 85.6L535.7 85.6L537.2 85.6L538.7 85.6" stroke="#00B0F6" stroke-width="1.75" fill="none" stroke-linejoin="round" stroke-linecap="round"/><path d="M425.5 96.5L427.6 95.2L429.6 94.3L431.2 94L432.8 93.7L434.4 93.5L436 93.4L437.5 93.4L439 93.4L440.6 93.4L442.1 93.3L443.6 93.3L445.1 93.3L446.6 93.3L448.1 93.3L449.7 93.3L451.2 93.3L452.7 93.3L454.2 93.3L455.7 93.2L457.2 93.2L458.8 93.2L460.3 93.2L461.8 93.2L463.3 93.2L464.8 93.2L466.3 93.2L467.9 93.2L469.4 93.2L470.9 93.2L472.4 93.2L473.9 93.2L475.4 93.2L477 93.2L478.5 93.2L480 93.2L481.5 93.2L483 93.2L484.5 93.2L486 93.2L487.5 93.2L489 93.2L490.5 93.2L492 93.2L493.5 93.2L495.1 93.2L496.6 93.2L498.1 93.2L499.6 93.2L501.1 93.2L502.6 93.2L504.1 93.3L505.6 93.3L507.1 93.3L508.6 93.3L510.1 93.3L511.6 93.3L513.1 93.3L514.6 93.3L516.1 93.3L517.6 93.3L519.1 93.3L520.6 93.3L522.1 93.3L523.6 93.3L525.2 93.3L526.7 93.4L528.2 93.4L529.7 93.4L531.2 93.4L532.7 93.4L534.2 93.4L535.7 93.4L537.2 93.4L538.7 93.4" stroke="#00BF7D" stroke-width="1.75" fill="none" stroke-linejoin="round" stroke-linecap="round"/><path d="M425.5 100.5L427.6 99.6L429.6 99L431.2 98.8L432.8 98.7L434.4 98.6L436 98.6L437.5 98.6L439 98.6L440.5 98.6L442 98.6L443.6 98.6L445.1 98.6L446.6 98.6L448.1 98.6L449.6 98.6L451.1 98.6L452.6 98.6L454.1 98.6L455.6 98.6L457.1 98.6L458.7 98.6L460.2 98.6L461.7 98.6L463.2 98.6L464.7 98.6L466.2 98.6L467.7 98.6L469.2 98.6L470.7 98.6L472.2 98.6L473.8 98.6L475.3 98.6L476.8 98.7L478.3 98.7L479.8 98.7L481.3 98.7L482.8 98.7L484.3 98.7L485.8 98.7L487.4 98.7L488.9 98.7L490.4 98.7L491.9 98.7L493.4 98.7L494.9 98.7L496.4 98.7L497.9 98.7L499.4 98.7L500.9 98.7L502.5 98.7L504 98.7L505.5 98.7L507 98.7L508.5 98.7L510 98.7L511.5 98.7L513 98.7L514.5 98.7L516 98.7L517.6 98.8L519.1 98.8L520.6 98.8L522.1 98.8L523.6 98.8L525.1 98.8L526.6 98.8L528.1 98.8L529.6 98.8L531.1 98.8L532.7 98.8L534.2 98.8L535.7 98.8L537.2 98.8L538.7 98.8" stroke="#A3A500" stroke-width="1.75" fill="none" stroke-linejoin="round" stroke-linecap="round"/><path d="M425.5 103.7L427.6 103.3L429.6 103L431.1 103L432.6 103L434.1 103L435.7 103L437.2 103L438.7 103L440.2 103L441.7 103L443.2 103L444.8 103L446.3 103L447.8 103L449.3 103L450.8 103L452.3 103L453.8 103L455.4 103L456.9 103L458.4 103L459.9 103L461.4 103L462.9 103L464.5 103L466 103L467.5 103L469 103L470.5 103L472 103L473.5 103L475.1 103L476.6 103L478.1 103L479.6 103L481.1 103L482.6 103L484.2 103L485.7 103L487.2 103L488.7 103L490.2 103L491.7 103L493.2 103L494.8 103L496.3 103L497.8 103L499.3 103L500.8 103L502.3 103L503.8 103L505.4 103L506.9 103L508.4 103L509.9 103L511.4 103L512.9 103L514.5 103L516 103L517.5 103L519 103L520.5 103L522 103L523.5 103L525.1 103L526.6 103L528.1 103L529.6 103L531.1 103L532.6 103L534.2 103L535.7 103L537.2 103L538.7 103" stroke="#F8766D" stroke-width="1.75" fill="none" stroke-linejoin="round" stroke-linecap="round"/>
</g>
<rect x="419" y="6" width="124" height="16" fill="#D9D9D9"/>
<text x="481" y="18.3" class="st">c_capx_sale</text>
<text x="424.8" y="123.6" class="tx">0.00</text>
<text x="455.3" y="123.6" class="tx">0.25</text>
<text x="485.9" y="123.6" class="tx">0.50</text>
<text x="516.4" y="123.6" class="tx">0.75</text>
<path d="M424.8 110v2.9M455.3 110v2.9M485.9 110v2.9M516.4 110v2.9" stroke="#333333" stroke-width="1.05" fill="none"/>
<rect x="31" y="145.3" width="124" height="88" fill="#EBEBEB"/>
<path d="M33.6 145.3V233.3M65 145.3V233.3M96.3 145.3V233.3M127.7 145.3V233.3M31 228.4H155M31 206.2H155M31 184.1H155M31 162H155" stroke="#F7F7F7" stroke-width="0.55" fill="none"/>
<path d="M49.3 145.3V233.3M80.7 145.3V233.3M112 145.3V233.3M143.4 145.3V233.3M31 217.3H155M31 195.2H155M31 173H155M31 150.9H155" stroke="#FFFFFF" stroke-width="1.05" fill="none"/>
<g clip-path="url(#c4)">
<rect x="41.3" y="150.5" width="3.5" height="65.1" rx="1.8" fill="#F962EE" fill-opacity="0.8"/><rect x="41.3" y="215.6" width="3.5" height="6.3" rx="1.8" fill="#00B0F6" fill-opacity="0.9"/><rect x="41.3" y="221.9" width="3.5" height="4.6" rx="1.8" fill="#00BF7D" fill-opacity="0.9"/><rect x="41.3" y="226.5" width="3.5" height="1.6" rx="0.8" fill="#A3A500" fill-opacity="0.7200000000000001"/><rect x="41.3" y="228.1" width="3.5" height="2.5" rx="1.2" fill="#F8766D" fill-opacity="0.9"/><rect x="47.5" y="150.5" width="3.5" height="65.7" rx="1.8" fill="#F962EE" fill-opacity="0.95"/><rect x="47.5" y="216.2" width="3.5" height="5.8" rx="1.8" fill="#00B0F6" fill-opacity="0.9"/><rect x="47.5" y="222" width="3.5" height="4.5" rx="1.8" fill="#00BF7D" fill-opacity="0.9"/><rect x="47.5" y="226.5" width="3.5" height="1.6" rx="0.8" fill="#A3A500" fill-opacity="0.7200000000000001"/><rect x="47.5" y="228.1" width="3.5" height="2.5" rx="1.2" fill="#F8766D" fill-opacity="0.9"/><rect x="53.8" y="150.5" width="3.5" height="66.4" rx="1.8" fill="#F962EE" fill-opacity="0.95"/><rect x="53.8" y="216.9" width="3.5" height="5.3" rx="1.8" fill="#00B0F6" fill-opacity="0.9"/><rect x="53.8" y="222.1" width="3.5" height="4.4" rx="1.8" fill="#00BF7D" fill-opacity="0.9"/><rect x="53.8" y="226.5" width="3.5" height="1.6" rx="0.8" fill="#A3A500" fill-opacity="0.7200000000000001"/><rect x="53.8" y="228.1" width="3.5" height="2.5" rx="1.2" fill="#F8766D" fill-opacity="0.9"/><rect x="60.1" y="150.5" width="3.5" height="67" rx="1.8" fill="#F962EE" fill-opacity="0.95"/><rect x="60.1" y="217.5" width="3.5" height="4.8" rx="1.8" fill="#00B0F6" fill-opacity="0.9"/><rect x="60.1" y="222.3" width="3.5" height="4.3" rx="1.8" fill="#00BF7D" fill-opacity="0.9"/><rect x="60.1" y="226.5" width="3.5" height="1.6" rx="0.8" fill="#A3A500" fill-opacity="0.7200000000000001"/><rect x="60.1" y="228.1" width="3.5" height="2.5" rx="1.2" fill="#F8766D" fill-opacity="0.9"/><rect x="66.4" y="150.5" width="3.5" height="67.5" rx="1.8" fill="#F962EE" fill-opacity="0.95"/><rect x="66.4" y="218" width="3.5" height="4.4" rx="1.8" fill="#00B0F6" fill-opacity="0.9"/><rect x="66.4" y="222.4" width="3.5" height="4.1" rx="1.8" fill="#00BF7D" fill-opacity="0.9"/><rect x="66.4" y="226.5" width="3.5" height="1.6" rx="0.8" fill="#A3A500" fill-opacity="0.7200000000000001"/><rect x="66.4" y="228.1" width="3.5" height="2.5" rx="1.2" fill="#F8766D" fill-opacity="0.9"/><rect x="72.6" y="150.5" width="3.5" height="67.9" rx="1.8" fill="#F962EE" fill-opacity="0.95"/><rect x="72.6" y="218.4" width="3.5" height="4.1" rx="1.8" fill="#00B0F6" fill-opacity="0.9"/><rect x="72.6" y="222.5" width="3.5" height="4" rx="1.8" fill="#00BF7D" fill-opacity="0.9"/><rect x="72.6" y="226.5" width="3.5" height="1.6" rx="0.8" fill="#A3A500" fill-opacity="0.7200000000000001"/><rect x="72.6" y="228.1" width="3.5" height="2.5" rx="1.2" fill="#F8766D" fill-opacity="0.9"/><rect x="78.9" y="150.5" width="3.5" height="68.4" rx="1.8" fill="#F962EE" fill-opacity="0.95"/><rect x="78.9" y="218.9" width="3.5" height="3.7" rx="1.8" fill="#00B0F6" fill-opacity="0.9"/><rect x="78.9" y="222.6" width="3.5" height="3.9" rx="1.8" fill="#00BF7D" fill-opacity="0.9"/><rect x="78.9" y="226.5" width="3.5" height="1.6" rx="0.8" fill="#A3A500" fill-opacity="0.7200000000000001"/><rect x="78.9" y="228.1" width="3.5" height="2.5" rx="1.2" fill="#F8766D" fill-opacity="0.9"/><rect x="85.2" y="150.5" width="3.5" height="68.8" rx="1.8" fill="#F962EE" fill-opacity="0.95"/><rect x="85.2" y="219.3" width="3.5" height="3.5" rx="1.7" fill="#00B0F6" fill-opacity="0.9"/><rect x="85.2" y="222.7" width="3.5" height="3.8" rx="1.8" fill="#00BF7D" fill-opacity="0.9"/><rect x="85.2" y="226.5" width="3.5" height="1.6" rx="0.8" fill="#A3A500" fill-opacity="0.7200000000000001"/><rect x="85.2" y="228.1" width="3.5" height="2.5" rx="1.2" fill="#F8766D" fill-opacity="0.9"/><rect x="91.4" y="150.5" width="3.5" height="69" rx="1.8" fill="#F962EE" fill-opacity="0.95"/><rect x="91.4" y="219.5" width="3.5" height="3.3" rx="1.7" fill="#00B0F6" fill-opacity="0.9"/><rect x="91.4" y="222.8" width="3.5" height="3.7" rx="1.8" fill="#00BF7D" fill-opacity="0.9"/><rect x="91.4" y="226.5" width="3.5" height="1.6" rx="0.8" fill="#A3A500" fill-opacity="0.7200000000000001"/><rect x="91.4" y="228.1" width="3.5" height="2.5" rx="1.2" fill="#F8766D" fill-opacity="0.9"/><rect x="97.7" y="150.5" width="3.5" height="69.1" rx="1.8" fill="#F962EE" fill-opacity="0.95"/><rect x="97.7" y="219.6" width="3.5" height="3.4" rx="1.7" fill="#00B0F6" fill-opacity="0.9"/><rect x="97.7" y="223" width="3.5" height="3.5" rx="1.8" fill="#00BF7D" fill-opacity="0.9"/><rect x="97.7" y="226.5" width="3.5" height="1.6" rx="0.8" fill="#A3A500" fill-opacity="0.7200000000000001"/><rect x="97.7" y="228.1" width="3.5" height="2.5" rx="1.2" fill="#F8766D" fill-opacity="0.9"/><rect x="104" y="173" width="3.5" height="46.8" rx="1.75" fill="#E878F0" fill-opacity="0.90"/><rect x="104" y="219.6" width="3.5" height="3.5" rx="1.7" fill="#00B0F6" fill-opacity="0.9"/><rect x="104" y="223.1" width="3.5" height="3.4" rx="1.7" fill="#00BF7D" fill-opacity="0.9"/><rect x="104" y="226.5" width="3.5" height="1.6" rx="0.8" fill="#A3A500" fill-opacity="0.7200000000000001"/><rect x="104" y="228.1" width="3.5" height="2.5" rx="1.2" fill="#F8766D" fill-opacity="0.9"/><rect x="110.2" y="171" width="3.5" height="48.8" rx="1.75" fill="#E878F0" fill-opacity="0.85"/><rect x="110.2" y="219.6" width="3.5" height="3.6" rx="1.8" fill="#00B0F6" fill-opacity="0.875"/><rect x="110.2" y="223.3" width="3.5" height="3.3" rx="1.6" fill="#00BF7D" fill-opacity="0.875"/><rect x="110.2" y="226.5" width="3.5" height="1.6" rx="0.8" fill="#A3A500" fill-opacity="0.7000000000000001"/><rect x="110.2" y="228.1" width="3.5" height="2.5" rx="1.2" fill="#F8766D" fill-opacity="0.875"/><rect x="116.5" y="184" width="3.5" height="35.8" rx="1.75" fill="#E878F0" fill-opacity="0.70"/><rect x="116.5" y="219.6" width="3.5" height="3.8" rx="1.8" fill="#00B0F6" fill-opacity="0.8"/><rect x="116.5" y="223.4" width="3.5" height="4.3" rx="1.8" fill="#00BF7D" fill-opacity="0.8"/><rect x="116.5" y="227.7" width="3.5" height="1.6" rx="0.8" fill="#A3A500" fill-opacity="0.6400000000000001"/><rect x="116.5" y="229.3" width="3.5" height="1.3" rx="0.6" fill="#F8766D" fill-opacity="0.8"/><rect x="122.8" y="189" width="3.5" height="30.8" rx="1.75" fill="#D88AF0" fill-opacity="0.55"/><rect x="122.8" y="219.6" width="3.5" height="3.9" rx="1.8" fill="#00B0F6" fill-opacity="0.7250000000000001"/><rect x="122.8" y="223.6" width="3.5" height="4.3" rx="1.8" fill="#00BF7D" fill-opacity="0.7250000000000001"/><rect x="122.8" y="227.9" width="3.5" height="1.6" rx="0.8" fill="#A3A500" fill-opacity="0.5800000000000001"/><rect x="122.8" y="229.5" width="3.5" height="1.1" rx="0.6" fill="#F8766D" fill-opacity="0.7250000000000001"/><rect x="129.1" y="195" width="3.5" height="24.8" rx="1.75" fill="#D88AF0" fill-opacity="0.40"/><rect x="129.1" y="219.6" width="3.5" height="4.1" rx="1.8" fill="#00B0F6" fill-opacity="0.65"/><rect x="129.1" y="223.7" width="3.5" height="4.3" rx="1.8" fill="#00BF7D" fill-opacity="0.65"/><rect x="129.1" y="228" width="3.5" height="1.6" rx="0.8" fill="#A3A500" fill-opacity="0.52"/><rect x="129.1" y="229.6" width="3.5" height="1" rx="0.5" fill="#F8766D" fill-opacity="0.65"/><rect x="135.3" y="200" width="3.5" height="19.8" rx="1.75" fill="#D88AF0" fill-opacity="0.25"/><rect x="135.3" y="219.6" width="3.5" height="4.2" rx="1.8" fill="#00B0F6" fill-opacity="0.575"/><rect x="135.3" y="223.9" width="3.5" height="4.2" rx="1.8" fill="#00BF7D" fill-opacity="0.575"/><rect x="135.3" y="228" width="3.5" height="1.6" rx="0.8" fill="#A3A500" fill-opacity="0.45999999999999996"/><rect x="135.3" y="229.6" width="3.5" height="1" rx="0.5" fill="#F8766D" fill-opacity="0.575"/><rect x="141.6" y="203" width="3.5" height="16.8" rx="1.75" fill="#D88AF0" fill-opacity="0.20"/><rect x="141.6" y="219.6" width="3.5" height="4.4" rx="1.8" fill="#00B0F6" fill-opacity="0.55"/><rect x="141.6" y="224" width="3.5" height="4.1" rx="1.8" fill="#00BF7D" fill-opacity="0.55"/><rect x="141.6" y="228.1" width="3.5" height="1.6" rx="0.8" fill="#A3A500" fill-opacity="0.44000000000000006"/><rect x="141.6" y="229.7" width="3.5" height="0.9" rx="0.5" fill="#F8766D" fill-opacity="0.55"/><rect x="147.9" y="205" width="3.5" height="14.8" rx="1.75" fill="#D88AF0" fill-opacity="0.20"/><rect x="147.9" y="219.6" width="3.5" height="4.5" rx="1.8" fill="#00B0F6" fill-opacity="0.55"/><rect x="147.9" y="224.1" width="3.5" height="4" rx="1.8" fill="#00BF7D" fill-opacity="0.55"/><rect x="147.9" y="228.2" width="3.5" height="1.6" rx="0.8" fill="#A3A500" fill-opacity="0.44000000000000006"/><rect x="147.9" y="229.8" width="3.5" height="0.8" rx="0.4" fill="#F8766D" fill-opacity="0.55"/><path d="M104 151a1.7 1.7 0 1 0 3.4 0a1.7 1.7 0 1 0 -3.4 0M104 162a1.7 1.7 0 1 0 3.4 0a1.7 1.7 0 1 0 -3.4 0M104 166a1.7 1.7 0 1 0 3.4 0a1.7 1.7 0 1 0 -3.4 0M116.6 162.4a1.7 1.7 0 1 0 3.4 0a1.7 1.7 0 1 0 -3.4 0M116.6 168a1.7 1.7 0 1 0 3.4 0a1.7 1.7 0 1 0 -3.4 0M122.8 170.6a1.7 1.7 0 1 0 3.4 0a1.7 1.7 0 1 0 -3.4 0M122.8 183a1.7 1.7 0 1 0 3.4 0a1.7 1.7 0 1 0 -3.4 0M135.4 163.5a1.7 1.7 0 1 0 3.4 0a1.7 1.7 0 1 0 -3.4 0" fill="#00B0F6" fill-opacity="0.22" stroke="#00B0F6" stroke-opacity="0.42" stroke-width="0.8" filter="url(#f0)"/><path d="M110.3 152.6a1.7 1.7 0 1 0 3.4 0a1.7 1.7 0 1 0 -3.4 0M110.3 160a1.7 1.7 0 1 0 3.4 0a1.7 1.7 0 1 0 -3.4 0M116.6 172a1.7 1.7 0 1 0 3.4 0a1.7 1.7 0 1 0 -3.4 0M116.6 178.8a1.7 1.7 0 1 0 3.4 0a1.7 1.7 0 1 0 -3.4 0M122.8 177.2a1.7 1.7 0 1 0 3.4 0a1.7 1.7 0 1 0 -3.4 0M129.1 180.4a1.7 1.7 0 1 0 3.4 0a1.7 1.7 0 1 0 -3.4 0M129.1 188a1.7 1.7 0 1 0 3.4 0a1.7 1.7 0 1 0 -3.4 0M135.4 189.7a1.7 1.7 0 1 0 3.4 0a1.7 1.7 0 1 0 -3.4 0M141.7 185a1.7 1.7 0 1 0 3.4 0a1.7 1.7 0 1 0 -3.4 0M141.7 195a1.7 1.7 0 1 0 3.4 0a1.7 1.7 0 1 0 -3.4 0M147.9 176.6a1.7 1.7 0 1 0 3.4 0a1.7 1.7 0 1 0 -3.4 0M147.9 190a1.7 1.7 0 1 0 3.4 0a1.7 1.7 0 1 0 -3.4 0" fill="#F962EE" fill-opacity="0.22" stroke="#F962EE" stroke-opacity="0.42" stroke-width="0.8" filter="url(#f0)"/><path d="M35.5 157a1.5 1.5 0 1 0 3 0a1.5 1.5 0 1 0 -3 0" fill="#F962EE" fill-opacity="0.24" stroke="#F962EE" stroke-opacity="0.45" stroke-width="0.8" filter="url(#f0)"/><path d="M35.5 199a1.5 1.5 0 1 0 3 0a1.5 1.5 0 1 0 -3 0" fill="#00B0F6" fill-opacity="0.24" stroke="#00B0F6" stroke-opacity="0.45" stroke-width="0.8" filter="url(#f0)"/><path d="M35.5 218a1.5 1.5 0 1 0 3 0a1.5 1.5 0 1 0 -3 0" fill="#00BF7D" fill-opacity="0.24" stroke="#00BF7D" stroke-opacity="0.45" stroke-width="0.8" filter="url(#f0)"/><path d="M35.5 228a1.5 1.5 0 1 0 3 0a1.5 1.5 0 1 0 -3 0" fill="#F8766D" fill-opacity="0.24" stroke="#F8766D" stroke-opacity="0.45" stroke-width="0.8" filter="url(#f0)"/><path d="M36.3 185.7L37.9 186.2L39.5 186.6L41.1 187L42.8 187.4L44.4 187.8L46 188.2L47.6 188.7L49.3 189.3L50.8 189.9L52.4 190.7L54 191.6L55.6 192.6L57.2 193.6L58.7 194.6L60.3 195.7L61.9 196.7L63.5 197.6L65 198.5L66.6 199.3L68.2 199.9L69.8 200.5L71.3 201L72.9 201.6L74.5 202.1L76.1 202.6L77.6 203.1L79.2 203.5L80.8 203.9L82.4 204.2L83.9 204.4L85.5 204.6L87.1 204.6L88.7 204.6L90.2 204.6L91.8 204.6L93.4 204.6L95 204.6L96.5 204.6L98.1 204.6L99.7 204.6L101.3 204.6L102.8 204.6L104.4 204.6L106 204.6L107.5 204.6L109 204.5L110.5 204.3L112 204.1L113.5 203.9L115 203.6L116.5 203.3L118 203.1L119.5 202.8L121 202.5L122.5 202.3L124.1 202L125.7 201.8L127.3 201.6L128.8 201.3L130.4 201.1L132 200.9L133.5 200.6L135.1 200.4L136.7 200.2L138.3 199.9L139.8 199.7L141.4 199.4L143 199.2L144.5 199L146.1 198.7L147.7 198.5L149.3 198.3" stroke="#F962EE" stroke-width="1.75" fill="none" stroke-linejoin="round" stroke-linecap="round"/><path d="M36.3 202.3L37.9 202.7L39.5 203L41.1 203.4L42.8 203.8L44.4 204.2L46 204.5L47.6 204.9L49.3 205.3L50.8 205.8L52.4 206.2L54 206.6L55.6 207.1L57.2 207.6L58.7 208.1L60.3 208.5L61.9 209L63.5 209.4L65 209.8L66.6 210.2L68.2 210.5L69.8 210.9L71.3 211.2L72.9 211.6L74.5 211.9L76.1 212.2L77.6 212.5L79.2 212.7L80.8 212.9L82.4 212.9L83.9 212.9L85.4 212.9L86.9 212.9L88.4 212.8L89.9 212.8L91.4 212.7L92.9 212.7L94.4 212.6L95.9 212.5L97.4 212.5L98.9 212.4L100.5 212.4L102.1 212.3L103.6 212.2L105.2 212.2L106.8 212.1L108.4 212L109.9 211.9L111.5 211.9L113.1 211.8L114.7 211.8L116.2 211.7L117.8 211.7L119.4 211.7L121 211.7L122.5 211.7L124.1 211.7L125.7 211.7L127.2 211.7L128.8 211.7L130.4 211.7L132 211.7L133.5 211.7L135.1 211.7L136.7 211.7L138.3 211.7L139.8 211.7L141.4 211.7L143 211.7L144.5 211.7L146.1 211.7L147.7 211.7L149.3 211.7" stroke="#00B0F6" stroke-width="1.75" fill="none" stroke-linejoin="round" stroke-linecap="round"/><path d="M36.3 214.1L37.8 214.2L39.3 214.4L40.8 214.5L42.4 214.7L43.9 214.9L45.4 215L46.9 215.2L48.4 215.3L49.9 215.5L51.5 215.7L53 215.8L54.5 216L56 216.1L57.5 216.3L59.1 216.4L60.6 216.6L62.1 216.7L63.6 216.8L65.1 216.9L66.7 217.1L68.2 217.2L69.7 217.3L71.3 217.4L72.8 217.5L74.3 217.6L75.9 217.7L77.4 217.8L78.9 217.9L80.5 218.1L82 218.2L83.5 218.3L85.1 218.4L86.6 218.4L88.2 218.5L89.7 218.6L91.2 218.7L92.8 218.7L94.3 218.8L95.8 218.8L97.4 218.8L98.9 218.8L100.4 218.8L102 218.8L103.5 218.8L105 218.8L106.5 218.8L108.1 218.8L109.6 218.8L111.1 218.8L112.6 218.8L114.2 218.8L115.7 218.8L117.2 218.8L118.7 218.8L120.3 218.8L121.8 218.8L123.3 218.8L124.8 218.8L126.4 218.8L127.9 218.8L129.4 218.8L130.9 218.8L132.5 218.8L134 218.8L135.5 218.8L137 218.8L138.6 218.8L140.1 218.8L141.6 218.8L143.2 218.8L144.7 218.8L146.2 218.8L147.7 218.8L149.3 218.8" stroke="#00BF7D" stroke-width="1.75" fill="none" stroke-linejoin="round" stroke-linecap="round"/><path d="M36.3 221.2L37.8 221.2L39.3 221.2L40.9 221.3L42.4 221.3L43.9 221.3L45.4 221.4L47 221.4L48.5 221.4L50 221.4L51.5 221.5L53.1 221.5L54.6 221.5L56.1 221.5L57.7 221.6L59.2 221.6L60.7 221.6L62.2 221.7L63.8 221.7L65.3 221.7L66.8 221.7L68.4 221.8L69.9 221.8L71.4 221.8L72.9 221.9L74.5 221.9L76 221.9L77.5 221.9L79 222L80.6 222L82.1 222L83.6 222.1L85.2 222.1L86.7 222.1L88.2 222.1L89.7 222.2L91.3 222.2L92.8 222.2L94.3 222.3L95.9 222.3L97.4 222.3L98.9 222.4L100.4 222.4L102 222.4L103.5 222.5L105 222.5L106.5 222.5L108.1 222.6L109.6 222.6L111.1 222.6L112.6 222.7L114.2 222.7L115.7 222.7L117.2 222.8L118.7 222.8L120.3 222.8L121.8 222.9L123.3 222.9L124.8 223L126.4 223L127.9 223L129.4 223.1L130.9 223.1L132.5 223.1L134 223.2L135.5 223.2L137 223.3L138.6 223.3L140.1 223.3L141.6 223.4L143.2 223.4L144.7 223.4L146.2 223.5L147.7 223.5L149.3 223.5" stroke="#A3A500" stroke-width="1.75" fill="none" stroke-linejoin="round" stroke-linecap="round"/><path d="M36.3 225.9L37.8 225.9L39.3 225.9L40.8 225.9L42.3 225.9L43.8 225.9L45.3 225.9L46.8 225.9L48.3 225.9L49.8 225.9L51.3 225.9L52.8 225.9L54.3 225.9L55.9 225.9L57.4 225.9L58.9 225.9L60.4 225.9L61.9 225.9L63.4 225.9L64.9 225.9L66.4 225.9L67.9 225.9L69.4 225.9L70.9 225.9L72.4 225.9L73.9 225.9L75.4 225.9L76.9 225.9L78.4 225.9L80 225.9L81.5 225.9L83 225.9L84.5 225.9L86 225.9L87.5 225.9L89 225.9L90.5 225.9L92 225.9L93.5 225.9L95 225.9L96.5 225.9L98 225.9L99.5 225.9L101 225.9L102.5 225.9L104.1 225.9L105.6 225.9L107.1 225.9L108.6 225.9L110.1 225.9L111.6 225.9L113.1 225.9L114.7 226.2L116.2 226.8L117.8 227.1L119.4 227.1L121 227.2L122.5 227.2L124.1 227.3L125.7 227.3L127.2 227.3L128.8 227.4L130.4 227.4L132 227.4L133.5 227.4L135.1 227.4L136.7 227.4L138.3 227.5L139.8 227.5L141.4 227.5L143 227.5L144.5 227.5L146.1 227.5L147.7 227.5L149.3 227.6" stroke="#F8766D" stroke-width="1.75" fill="none" stroke-linejoin="round" stroke-linecap="round"/>
</g>
<rect x="31" y="129.3" width="124" height="16" fill="#D9D9D9"/>
<text x="93" y="141.6" class="st">v_bsize</text>
<text x="49.3" y="246.9" class="tx">5</text>
<text x="80.7" y="246.9" class="tx">10</text>
<text x="112" y="246.9" class="tx">15</text>
<text x="143.4" y="246.9" class="tx">20</text>
<text x="27" y="220.5" class="ty">2</text>
<text x="27" y="198.4" class="ty">4</text>
<text x="27" y="176.2" class="ty">6</text>
<text x="27" y="154.1" class="ty">8</text>
<path d="M49.3 233.3v2.9M80.7 233.3v2.9M112 233.3v2.9M143.4 233.3v2.9M28.4 217.3h2.6M28.4 195.2h2.6M28.4 173h2.6M28.4 150.9h2.6" stroke="#333333" stroke-width="1.05" fill="none"/>
<rect x="160.3" y="145.3" width="124" height="88" fill="#EBEBEB"/>
<path d="M181.5 145.3V233.3M213.9 145.3V233.3M246.3 145.3V233.3M278.7 145.3V233.3M160.3 228.4H284.3M160.3 206.2H284.3M160.3 184.1H284.3M160.3 162H284.3" stroke="#F7F7F7" stroke-width="0.55" fill="none"/>
<path d="M165.3 145.3V233.3M197.7 145.3V233.3M230.1 145.3V233.3M262.5 145.3V233.3M160.3 217.3H284.3M160.3 195.2H284.3M160.3 173H284.3M160.3 150.9H284.3" stroke="#FFFFFF" stroke-width="1.05" fill="none"/>
<g clip-path="url(#c5)">
<path d="M268.1 168.9a1.5 1.5 0 1 0 3 0a1.5 1.5 0 1 0 -3 0M221.9 157.8a1.5 1.5 0 1 0 3 0a1.5 1.5 0 1 0 -3 0M207.6 201.4a1.5 1.5 0 1 0 3 0a1.5 1.5 0 1 0 -3 0M249.5 169.1a1.5 1.5 0 1 0 3 0a1.5 1.5 0 1 0 -3 0M265.5 184.9a1.5 1.5 0 1 0 3 0a1.5 1.5 0 1 0 -3 0M263.6 204.5a1.5 1.5 0 1 0 3 0a1.5 1.5 0 1 0 -3 0M263.5 193.9a1.5 1.5 0 1 0 3 0a1.5 1.5 0 1 0 -3 0M241.8 185.8a1.5 1.5 0 1 0 3 0a1.5 1.5 0 1 0 -3 0M218.2 163.8a1.5 1.5 0 1 0 3 0a1.5 1.5 0 1 0 -3 0M271.8 181.1a1.5 1.5 0 1 0 3 0a1.5 1.5 0 1 0 -3 0M258.7 180.9a1.5 1.5 0 1 0 3 0a1.5 1.5 0 1 0 -3 0M198.4 200.1a1.5 1.5 0 1 0 3 0a1.5 1.5 0 1 0 -3 0M236.4 158a1.5 1.5 0 1 0 3 0a1.5 1.5 0 1 0 -3 0M199.9 186.1a1.5 1.5 0 1 0 3 0a1.5 1.5 0 1 0 -3 0M214.1 203.3a1.5 1.5 0 1 0 3 0a1.5 1.5 0 1 0 -3 0M219.2 199.8a1.5 1.5 0 1 0 3 0a1.5 1.5 0 1 0 -3 0M271.6 177.5a1.5 1.5 0 1 0 3 0a1.5 1.5 0 1 0 -3 0M230.6 185.4a1.5 1.5 0 1 0 3 0a1.5 1.5 0 1 0 -3 0M214.4 150.6a1.5 1.5 0 1 0 3 0a1.5 1.5 0 1 0 -3 0M213.5 155.2a1.5 1.5 0 1 0 3 0a1.5 1.5 0 1 0 -3 0M211.4 185.1a1.5 1.5 0 1 0 3 0a1.5 1.5 0 1 0 -3 0M273.5 179.7a1.5 1.5 0 1 0 3 0a1.5 1.5 0 1 0 -3 0M197.7 192.8a1.5 1.5 0 1 0 3 0a1.5 1.5 0 1 0 -3 0M257.3 187.8a1.5 1.5 0 1 0 3 0a1.5 1.5 0 1 0 -3 0M223.1 148.9a1.5 1.5 0 1 0 3 0a1.5 1.5 0 1 0 -3 0M248.2 168.3a1.5 1.5 0 1 0 3 0a1.5 1.5 0 1 0 -3 0M213.2 163.8a1.5 1.5 0 1 0 3 0a1.5 1.5 0 1 0 -3 0M273.4 188.9a1.5 1.5 0 1 0 3 0a1.5 1.5 0 1 0 -3 0M258.2 188.6a1.5 1.5 0 1 0 3 0a1.5 1.5 0 1 0 -3 0M233.5 176.6a1.5 1.5 0 1 0 3 0a1.5 1.5 0 1 0 -3 0M193.7 185.8a1.5 1.5 0 1 0 3 0a1.5 1.5 0 1 0 -3 0M219.2 175a1.5 1.5 0 1 0 3 0a1.5 1.5 0 1 0 -3 0M251.5 191.3a1.5 1.5 0 1 0 3 0a1.5 1.5 0 1 0 -3 0M264.7 178.5a1.5 1.5 0 1 0 3 0a1.5 1.5 0 1 0 -3 0M239.6 182.3a1.5 1.5 0 1 0 3 0a1.5 1.5 0 1 0 -3 0M250.8 176.7a1.5 1.5 0 1 0 3 0a1.5 1.5 0 1 0 -3 0M215.8 160.5a1.5 1.5 0 1 0 3 0a1.5 1.5 0 1 0 -3 0M218.5 149.5a1.5 1.5 0 1 0 3 0a1.5 1.5 0 1 0 -3 0M228.2 175.5a1.5 1.5 0 1 0 3 0a1.5 1.5 0 1 0 -3 0M238.1 200.3a1.5 1.5 0 1 0 3 0a1.5 1.5 0 1 0 -3 0M262.1 191.4a1.5 1.5 0 1 0 3 0a1.5 1.5 0 1 0 -3 0M225.8 200.4a1.5 1.5 0 1 0 3 0a1.5 1.5 0 1 0 -3 0M258.7 203.8a1.5 1.5 0 1 0 3 0a1.5 1.5 0 1 0 -3 0M204.5 206.4a1.5 1.5 0 1 0 3 0a1.5 1.5 0 1 0 -3 0M272.2 164.5a1.5 1.5 0 1 0 3 0a1.5 1.5 0 1 0 -3 0M209.6 180.7a1.5 1.5 0 1 0 3 0a1.5 1.5 0 1 0 -3 0M237.8 172.2a1.5 1.5 0 1 0 3 0a1.5 1.5 0 1 0 -3 0M232.8 151.6a1.5 1.5 0 1 0 3 0a1.5 1.5 0 1 0 -3 0M258.3 198.6a1.5 1.5 0 1 0 3 0a1.5 1.5 0 1 0 -3 0M268.8 175.5a1.5 1.5 0 1 0 3 0a1.5 1.5 0 1 0 -3 0M230.5 168.8a1.5 1.5 0 1 0 3 0a1.5 1.5 0 1 0 -3 0M244.9 192.6a1.5 1.5 0 1 0 3 0a1.5 1.5 0 1 0 -3 0M218.4 189.1a1.5 1.5 0 1 0 3 0a1.5 1.5 0 1 0 -3 0M207.6 196.1a1.5 1.5 0 1 0 3 0a1.5 1.5 0 1 0 -3 0M204.5 166.8a1.5 1.5 0 1 0 3 0a1.5 1.5 0 1 0 -3 0M267.1 200a1.5 1.5 0 1 0 3 0a1.5 1.5 0 1 0 -3 0M240.3 172.3a1.5 1.5 0 1 0 3 0a1.5 1.5 0 1 0 -3 0M198.4 187a1.5 1.5 0 1 0 3 0a1.5 1.5 0 1 0 -3 0M221.8 194.9a1.5 1.5 0 1 0 3 0a1.5 1.5 0 1 0 -3 0M257.5 190.5a1.5 1.5 0 1 0 3 0a1.5 1.5 0 1 0 -3 0M251.1 170.3a1.5 1.5 0 1 0 3 0a1.5 1.5 0 1 0 -3 0M276.4 183.2a1.5 1.5 0 1 0 3 0a1.5 1.5 0 1 0 -3 0M234.8 154.2a1.5 1.5 0 1 0 3 0a1.5 1.5 0 1 0 -3 0M236.5 186.3a1.5 1.5 0 1 0 3 0a1.5 1.5 0 1 0 -3 0M226.4 205.4a1.5 1.5 0 1 0 3 0a1.5 1.5 0 1 0 -3 0M207.5 180.4a1.5 1.5 0 1 0 3 0a1.5 1.5 0 1 0 -3 0M209.8 159.9a1.5 1.5 0 1 0 3 0a1.5 1.5 0 1 0 -3 0M273.9 174.5a1.5 1.5 0 1 0 3 0a1.5 1.5 0 1 0 -3 0M272 174a1.5 1.5 0 1 0 3 0a1.5 1.5 0 1 0 -3 0M227.2 185.7a1.5 1.5 0 1 0 3 0a1.5 1.5 0 1 0 -3 0M253.3 194.6a1.5 1.5 0 1 0 3 0a1.5 1.5 0 1 0 -3 0M265.5 179.8a1.5 1.5 0 1 0 3 0a1.5 1.5 0 1 0 -3 0M203.4 188.5a1.5 1.5 0 1 0 3 0a1.5 1.5 0 1 0 -3 0M235.4 194.1a1.5 1.5 0 1 0 3 0a1.5 1.5 0 1 0 -3 0M219.5 192.4a1.5 1.5 0 1 0 3 0a1.5 1.5 0 1 0 -3 0M256.8 206.7a1.5 1.5 0 1 0 3 0a1.5 1.5 0 1 0 -3 0M249.3 178.2a1.5 1.5 0 1 0 3 0a1.5 1.5 0 1 0 -3 0M211 171.6a1.5 1.5 0 1 0 3 0a1.5 1.5 0 1 0 -3 0M265.5 172.9a1.5 1.5 0 1 0 3 0a1.5 1.5 0 1 0 -3 0M213.7 182.2a1.5 1.5 0 1 0 3 0a1.5 1.5 0 1 0 -3 0M224.8 148.8a1.5 1.5 0 1 0 3 0a1.5 1.5 0 1 0 -3 0M258.9 185a1.5 1.5 0 1 0 3 0a1.5 1.5 0 1 0 -3 0M195.5 197.8a1.5 1.5 0 1 0 3 0a1.5 1.5 0 1 0 -3 0M201.3 180.3a1.5 1.5 0 1 0 3 0a1.5 1.5 0 1 0 -3 0M253.5 182a1.5 1.5 0 1 0 3 0a1.5 1.5 0 1 0 -3 0M231.2 180.1a1.5 1.5 0 1 0 3 0a1.5 1.5 0 1 0 -3 0M227.4 183.9a1.5 1.5 0 1 0 3 0a1.5 1.5 0 1 0 -3 0M230.4 187a1.5 1.5 0 1 0 3 0a1.5 1.5 0 1 0 -3 0M251.1 165.4a1.5 1.5 0 1 0 3 0a1.5 1.5 0 1 0 -3 0M239.4 168.6a1.5 1.5 0 1 0 3 0a1.5 1.5 0 1 0 -3 0M221.3 159.3a1.5 1.5 0 1 0 3 0a1.5 1.5 0 1 0 -3 0M240.5 207.5a1.5 1.5 0 1 0 3 0a1.5 1.5 0 1 0 -3 0M233.4 182.7a1.5 1.5 0 1 0 3 0a1.5 1.5 0 1 0 -3 0M201.2 163.9a1.5 1.5 0 1 0 3 0a1.5 1.5 0 1 0 -3 0M217.4 171.2a1.5 1.5 0 1 0 3 0a1.5 1.5 0 1 0 -3 0M207.3 178.8a1.5 1.5 0 1 0 3 0a1.5 1.5 0 1 0 -3 0M218.6 151.4a1.5 1.5 0 1 0 3 0a1.5 1.5 0 1 0 -3 0M278.5 199.6a1.5 1.5 0 1 0 3 0a1.5 1.5 0 1 0 -3 0M245.7 183.5a1.5 1.5 0 1 0 3 0a1.5 1.5 0 1 0 -3 0M206.1 189.7a1.5 1.5 0 1 0 3 0a1.5 1.5 0 1 0 -3 0M213.1 197a1.5 1.5 0 1 0 3 0a1.5 1.5 0 1 0 -3 0M221.1 166.5a1.5 1.5 0 1 0 3 0a1.5 1.5 0 1 0 -3 0M218.4 199.7a1.5 1.5 0 1 0 3 0a1.5 1.5 0 1 0 -3 0M220.8 169.6a1.5 1.5 0 1 0 3 0a1.5 1.5 0 1 0 -3 0M206.2 158.6a1.5 1.5 0 1 0 3 0a1.5 1.5 0 1 0 -3 0M220.7 165a1.5 1.5 0 1 0 3 0a1.5 1.5 0 1 0 -3 0M276.8 175.9a1.5 1.5 0 1 0 3 0a1.5 1.5 0 1 0 -3 0M273.7 207.6a1.5 1.5 0 1 0 3 0a1.5 1.5 0 1 0 -3 0M209.8 149.1a1.5 1.5 0 1 0 3 0a1.5 1.5 0 1 0 -3 0M202.7 197.6a1.5 1.5 0 1 0 3 0a1.5 1.5 0 1 0 -3 0M238.1 159.4a1.5 1.5 0 1 0 3 0a1.5 1.5 0 1 0 -3 0M258.9 206a1.5 1.5 0 1 0 3 0a1.5 1.5 0 1 0 -3 0M201.1 192.2a1.5 1.5 0 1 0 3 0a1.5 1.5 0 1 0 -3 0M277.3 180.7a1.5 1.5 0 1 0 3 0a1.5 1.5 0 1 0 -3 0M275.6 165.3a1.5 1.5 0 1 0 3 0a1.5 1.5 0 1 0 -3 0M236 177.5a1.5 1.5 0 1 0 3 0a1.5 1.5 0 1 0 -3 0M196.4 160.1a1.5 1.5 0 1 0 3 0a1.5 1.5 0 1 0 -3 0M252.9 164.6a1.5 1.5 0 1 0 3 0a1.5 1.5 0 1 0 -3 0M233.9 177.2a1.5 1.5 0 1 0 3 0a1.5 1.5 0 1 0 -3 0M225.1 159.7a1.5 1.5 0 1 0 3 0a1.5 1.5 0 1 0 -3 0M199.5 157.7a1.5 1.5 0 1 0 3 0a1.5 1.5 0 1 0 -3 0M195.6 153.5a1.5 1.5 0 1 0 3 0a1.5 1.5 0 1 0 -3 0M247 186a1.5 1.5 0 1 0 3 0a1.5 1.5 0 1 0 -3 0M245.4 207.9a1.5 1.5 0 1 0 3 0a1.5 1.5 0 1 0 -3 0M224.1 156.5a1.5 1.5 0 1 0 3 0a1.5 1.5 0 1 0 -3 0M226.4 165.6a1.5 1.5 0 1 0 3 0a1.5 1.5 0 1 0 -3 0M220.5 180.6a1.5 1.5 0 1 0 3 0a1.5 1.5 0 1 0 -3 0M247.8 168a1.5 1.5 0 1 0 3 0a1.5 1.5 0 1 0 -3 0M227.1 207.7a1.5 1.5 0 1 0 3 0a1.5 1.5 0 1 0 -3 0M218.2 194.3a1.5 1.5 0 1 0 3 0a1.5 1.5 0 1 0 -3 0M235.3 204.7a1.5 1.5 0 1 0 3 0a1.5 1.5 0 1 0 -3 0M230.2 158a1.5 1.5 0 1 0 3 0a1.5 1.5 0 1 0 -3 0M270.2 197.9a1.5 1.5 0 1 0 3 0a1.5 1.5 0 1 0 -3 0M238.3 195.8a1.5 1.5 0 1 0 3 0a1.5 1.5 0 1 0 -3 0M222 191.5a1.5 1.5 0 1 0 3 0a1.5 1.5 0 1 0 -3 0M198.8 161.2a1.5 1.5 0 1 0 3 0a1.5 1.5 0 1 0 -3 0M235.1 198.6a1.5 1.5 0 1 0 3 0a1.5 1.5 0 1 0 -3 0M228.9 176.2a1.5 1.5 0 1 0 3 0a1.5 1.5 0 1 0 -3 0M224.9 154.8a1.5 1.5 0 1 0 3 0a1.5 1.5 0 1 0 -3 0M228.8 148.2a1.5 1.5 0 1 0 3 0a1.5 1.5 0 1 0 -3 0M235 171.9a1.5 1.5 0 1 0 3 0a1.5 1.5 0 1 0 -3 0M255.1 170a1.5 1.5 0 1 0 3 0a1.5 1.5 0 1 0 -3 0M219.7 185.6a1.5 1.5 0 1 0 3 0a1.5 1.5 0 1 0 -3 0M233.8 176.2a1.5 1.5 0 1 0 3 0a1.5 1.5 0 1 0 -3 0M230.9 163.3a1.5 1.5 0 1 0 3 0a1.5 1.5 0 1 0 -3 0M270.4 199.7a1.5 1.5 0 1 0 3 0a1.5 1.5 0 1 0 -3 0M212.9 163.6a1.5 1.5 0 1 0 3 0a1.5 1.5 0 1 0 -3 0M272.3 175.8a1.5 1.5 0 1 0 3 0a1.5 1.5 0 1 0 -3 0M273 180.6a1.5 1.5 0 1 0 3 0a1.5 1.5 0 1 0 -3 0M234.4 151.4a1.5 1.5 0 1 0 3 0a1.5 1.5 0 1 0 -3 0M273.5 169a1.5 1.5 0 1 0 3 0a1.5 1.5 0 1 0 -3 0M245.1 199.1a1.5 1.5 0 1 0 3 0a1.5 1.5 0 1 0 -3 0M198.8 173.8a1.5 1.5 0 1 0 3 0a1.5 1.5 0 1 0 -3 0M228.5 160.8a1.5 1.5 0 1 0 3 0a1.5 1.5 0 1 0 -3 0M212.5 181.7a1.5 1.5 0 1 0 3 0a1.5 1.5 0 1 0 -3 0M207.5 168.9a1.5 1.5 0 1 0 3 0a1.5 1.5 0 1 0 -3 0M255.1 182.3a1.5 1.5 0 1 0 3 0a1.5 1.5 0 1 0 -3 0M267 174.4a1.5 1.5 0 1 0 3 0a1.5 1.5 0 1 0 -3 0M196.7 200a1.5 1.5 0 1 0 3 0a1.5 1.5 0 1 0 -3 0M213.8 186.1a1.5 1.5 0 1 0 3 0a1.5 1.5 0 1 0 -3 0M250.7 173.7a1.5 1.5 0 1 0 3 0a1.5 1.5 0 1 0 -3 0M194.5 192.9a1.5 1.5 0 1 0 3 0a1.5 1.5 0 1 0 -3 0M200.8 176.4a1.5 1.5 0 1 0 3 0a1.5 1.5 0 1 0 -3 0M214.6 148.6a1.5 1.5 0 1 0 3 0a1.5 1.5 0 1 0 -3 0M230 150.6a1.5 1.5 0 1 0 3 0a1.5 1.5 0 1 0 -3 0M214 165.3a1.5 1.5 0 1 0 3 0a1.5 1.5 0 1 0 -3 0M194.3 177a1.5 1.5 0 1 0 3 0a1.5 1.5 0 1 0 -3 0M242.2 153.7a1.5 1.5 0 1 0 3 0a1.5 1.5 0 1 0 -3 0M237.7 200a1.5 1.5 0 1 0 3 0a1.5 1.5 0 1 0 -3 0M247.3 164.1a1.5 1.5 0 1 0 3 0a1.5 1.5 0 1 0 -3 0M241.8 149.5a1.5 1.5 0 1 0 3 0a1.5 1.5 0 1 0 -3 0M267.7 207.5a1.5 1.5 0 1 0 3 0a1.5 1.5 0 1 0 -3 0M206.4 181.7a1.5 1.5 0 1 0 3 0a1.5 1.5 0 1 0 -3 0M231.6 204a1.5 1.5 0 1 0 3 0a1.5 1.5 0 1 0 -3 0M213 163.1a1.5 1.5 0 1 0 3 0a1.5 1.5 0 1 0 -3 0M246.4 199.6a1.5 1.5 0 1 0 3 0a1.5 1.5 0 1 0 -3 0M207.9 156.7a1.5 1.5 0 1 0 3 0a1.5 1.5 0 1 0 -3 0M220 164.3a1.5 1.5 0 1 0 3 0a1.5 1.5 0 1 0 -3 0M215.9 161.9a1.5 1.5 0 1 0 3 0a1.5 1.5 0 1 0 -3 0M213.6 175.4a1.5 1.5 0 1 0 3 0a1.5 1.5 0 1 0 -3 0M277.7 156a1.5 1.5 0 1 0 3 0a1.5 1.5 0 1 0 -3 0M270.5 161.4a1.5 1.5 0 1 0 3 0a1.5 1.5 0 1 0 -3 0M243.6 165.4a1.5 1.5 0 1 0 3 0a1.5 1.5 0 1 0 -3 0M225.4 163.9a1.5 1.5 0 1 0 3 0a1.5 1.5 0 1 0 -3 0M218.2 199.5a1.5 1.5 0 1 0 3 0a1.5 1.5 0 1 0 -3 0M265.1 199.3a1.5 1.5 0 1 0 3 0a1.5 1.5 0 1 0 -3 0M215.9 171.9a1.5 1.5 0 1 0 3 0a1.5 1.5 0 1 0 -3 0M254.7 192.5a1.5 1.5 0 1 0 3 0a1.5 1.5 0 1 0 -3 0M269.1 175.4a1.5 1.5 0 1 0 3 0a1.5 1.5 0 1 0 -3 0M270.5 204.8a1.5 1.5 0 1 0 3 0a1.5 1.5 0 1 0 -3 0M240.4 172.4a1.5 1.5 0 1 0 3 0a1.5 1.5 0 1 0 -3 0M246.8 186.9a1.5 1.5 0 1 0 3 0a1.5 1.5 0 1 0 -3 0M248.6 187.1a1.5 1.5 0 1 0 3 0a1.5 1.5 0 1 0 -3 0M243.2 171.6a1.5 1.5 0 1 0 3 0a1.5 1.5 0 1 0 -3 0M226 150.3a1.5 1.5 0 1 0 3 0a1.5 1.5 0 1 0 -3 0M212 168.6a1.5 1.5 0 1 0 3 0a1.5 1.5 0 1 0 -3 0M241.2 182.8a1.5 1.5 0 1 0 3 0a1.5 1.5 0 1 0 -3 0M267.4 155.5a1.5 1.5 0 1 0 3 0a1.5 1.5 0 1 0 -3 0M272.9 165.8a1.5 1.5 0 1 0 3 0a1.5 1.5 0 1 0 -3 0M195.2 200.9a1.5 1.5 0 1 0 3 0a1.5 1.5 0 1 0 -3 0M242.9 182.2a1.5 1.5 0 1 0 3 0a1.5 1.5 0 1 0 -3 0M252.3 165.7a1.5 1.5 0 1 0 3 0a1.5 1.5 0 1 0 -3 0M254 199.6a1.5 1.5 0 1 0 3 0a1.5 1.5 0 1 0 -3 0M278.4 182.7a1.5 1.5 0 1 0 3 0a1.5 1.5 0 1 0 -3 0M208.4 158.7a1.5 1.5 0 1 0 3 0a1.5 1.5 0 1 0 -3 0M198.3 151.2a1.5 1.5 0 1 0 3 0a1.5 1.5 0 1 0 -3 0M207.1 172.6a1.5 1.5 0 1 0 3 0a1.5 1.5 0 1 0 -3 0M228.9 167.9a1.5 1.5 0 1 0 3 0a1.5 1.5 0 1 0 -3 0M263.2 194.3a1.5 1.5 0 1 0 3 0a1.5 1.5 0 1 0 -3 0M226 157.4a1.5 1.5 0 1 0 3 0a1.5 1.5 0 1 0 -3 0M216.1 184.8a1.5 1.5 0 1 0 3 0a1.5 1.5 0 1 0 -3 0M242.9 178.6a1.5 1.5 0 1 0 3 0a1.5 1.5 0 1 0 -3 0M195.8 154.4a1.5 1.5 0 1 0 3 0a1.5 1.5 0 1 0 -3 0M245.3 175.8a1.5 1.5 0 1 0 3 0a1.5 1.5 0 1 0 -3 0M198.8 190.5a1.5 1.5 0 1 0 3 0a1.5 1.5 0 1 0 -3 0M195.7 159.5a1.5 1.5 0 1 0 3 0a1.5 1.5 0 1 0 -3 0M268.7 186.3a1.5 1.5 0 1 0 3 0a1.5 1.5 0 1 0 -3 0M196.3 151.4a1.5 1.5 0 1 0 3 0a1.5 1.5 0 1 0 -3 0M255 206.7a1.5 1.5 0 1 0 3 0a1.5 1.5 0 1 0 -3 0M210.5 198.9a1.5 1.5 0 1 0 3 0a1.5 1.5 0 1 0 -3 0M199.4 181.9a1.5 1.5 0 1 0 3 0a1.5 1.5 0 1 0 -3 0M249 204.5a1.5 1.5 0 1 0 3 0a1.5 1.5 0 1 0 -3 0M222.4 176.1a1.5 1.5 0 1 0 3 0a1.5 1.5 0 1 0 -3 0M213.5 195.7a1.5 1.5 0 1 0 3 0a1.5 1.5 0 1 0 -3 0M226.7 205.3a1.5 1.5 0 1 0 3 0a1.5 1.5 0 1 0 -3 0M209.5 160.3a1.5 1.5 0 1 0 3 0a1.5 1.5 0 1 0 -3 0M247.2 187.4a1.5 1.5 0 1 0 3 0a1.5 1.5 0 1 0 -3 0M249.1 170.3a1.5 1.5 0 1 0 3 0a1.5 1.5 0 1 0 -3 0M250.3 181.2a1.5 1.5 0 1 0 3 0a1.5 1.5 0 1 0 -3 0M226.2 198.5a1.5 1.5 0 1 0 3 0a1.5 1.5 0 1 0 -3 0M198.3 200.5a1.5 1.5 0 1 0 3 0a1.5 1.5 0 1 0 -3 0M210.9 207.5a1.5 1.5 0 1 0 3 0a1.5 1.5 0 1 0 -3 0M201.9 157.4a1.5 1.5 0 1 0 3 0a1.5 1.5 0 1 0 -3 0M264.9 151a1.5 1.5 0 1 0 3 0a1.5 1.5 0 1 0 -3 0M218.9 181.9a1.5 1.5 0 1 0 3 0a1.5 1.5 0 1 0 -3 0M207.9 165.6a1.5 1.5 0 1 0 3 0a1.5 1.5 0 1 0 -3 0M266 205.2a1.5 1.5 0 1 0 3 0a1.5 1.5 0 1 0 -3 0M257 201.5a1.5 1.5 0 1 0 3 0a1.5 1.5 0 1 0 -3 0M235.3 178.9a1.5 1.5 0 1 0 3 0a1.5 1.5 0 1 0 -3 0M253.5 179.9a1.5 1.5 0 1 0 3 0a1.5 1.5 0 1 0 -3 0M256.1 198.8a1.5 1.5 0 1 0 3 0a1.5 1.5 0 1 0 -3 0M264.7 168.6a1.5 1.5 0 1 0 3 0a1.5 1.5 0 1 0 -3 0M195.7 183.6a1.5 1.5 0 1 0 3 0a1.5 1.5 0 1 0 -3 0M214 204.5a1.5 1.5 0 1 0 3 0a1.5 1.5 0 1 0 -3 0M228.6 168.3a1.5 1.5 0 1 0 3 0a1.5 1.5 0 1 0 -3 0M209.3 170.7a1.5 1.5 0 1 0 3 0a1.5 1.5 0 1 0 -3 0M233 197.7a1.5 1.5 0 1 0 3 0a1.5 1.5 0 1 0 -3 0M255.4 184.7a1.5 1.5 0 1 0 3 0a1.5 1.5 0 1 0 -3 0M203.8 160.8a1.5 1.5 0 1 0 3 0a1.5 1.5 0 1 0 -3 0M255.8 166.9a1.5 1.5 0 1 0 3 0a1.5 1.5 0 1 0 -3 0M267.2 204.8a1.5 1.5 0 1 0 3 0a1.5 1.5 0 1 0 -3 0M257.6 199.7a1.5 1.5 0 1 0 3 0a1.5 1.5 0 1 0 -3 0M277.8 167.4a1.5 1.5 0 1 0 3 0a1.5 1.5 0 1 0 -3 0M234.3 199.6a1.5 1.5 0 1 0 3 0a1.5 1.5 0 1 0 -3 0M205 150.4a1.5 1.5 0 1 0 3 0a1.5 1.5 0 1 0 -3 0M273.7 162a1.5 1.5 0 1 0 3 0a1.5 1.5 0 1 0 -3 0M268 175.2a1.5 1.5 0 1 0 3 0a1.5 1.5 0 1 0 -3 0M199.2 186.9a1.5 1.5 0 1 0 3 0a1.5 1.5 0 1 0 -3 0M200.4 184.1a1.5 1.5 0 1 0 3 0a1.5 1.5 0 1 0 -3 0M248.5 176.8a1.5 1.5 0 1 0 3 0a1.5 1.5 0 1 0 -3 0M246.4 205.9a1.5 1.5 0 1 0 3 0a1.5 1.5 0 1 0 -3 0M198.8 193.6a1.5 1.5 0 1 0 3 0a1.5 1.5 0 1 0 -3 0M262.2 193.3a1.5 1.5 0 1 0 3 0a1.5 1.5 0 1 0 -3 0M211.5 164.3a1.5 1.5 0 1 0 3 0a1.5 1.5 0 1 0 -3 0M244.7 181.1a1.5 1.5 0 1 0 3 0a1.5 1.5 0 1 0 -3 0M257.7 169.5a1.5 1.5 0 1 0 3 0a1.5 1.5 0 1 0 -3 0M228.6 203.3a1.5 1.5 0 1 0 3 0a1.5 1.5 0 1 0 -3 0M270.8 194.1a1.5 1.5 0 1 0 3 0a1.5 1.5 0 1 0 -3 0M251.7 207.4a1.5 1.5 0 1 0 3 0a1.5 1.5 0 1 0 -3 0M272.5 187a1.5 1.5 0 1 0 3 0a1.5 1.5 0 1 0 -3 0M200 206.9a1.5 1.5 0 1 0 3 0a1.5 1.5 0 1 0 -3 0M227 201a1.5 1.5 0 1 0 3 0a1.5 1.5 0 1 0 -3 0M246 165.9a1.5 1.5 0 1 0 3 0a1.5 1.5 0 1 0 -3 0M267.7 197.7a1.5 1.5 0 1 0 3 0a1.5 1.5 0 1 0 -3 0" fill="#F962EE" fill-opacity="0.17" stroke="#F962EE" stroke-opacity="0.31" stroke-width="0.8" filter="url(#f0)"/><path d="M274.4 166.7a1.5 1.5 0 1 0 3 0a1.5 1.5 0 1 0 -3 0M235.7 200.3a1.5 1.5 0 1 0 3 0a1.5 1.5 0 1 0 -3 0M212.8 207.3a1.5 1.5 0 1 0 3 0a1.5 1.5 0 1 0 -3 0M219.9 202.9a1.5 1.5 0 1 0 3 0a1.5 1.5 0 1 0 -3 0M276.5 206.5a1.5 1.5 0 1 0 3 0a1.5 1.5 0 1 0 -3 0M272.8 205.4a1.5 1.5 0 1 0 3 0a1.5 1.5 0 1 0 -3 0M263.7 178.9a1.5 1.5 0 1 0 3 0a1.5 1.5 0 1 0 -3 0M218 201a1.5 1.5 0 1 0 3 0a1.5 1.5 0 1 0 -3 0M267.2 206.1a1.5 1.5 0 1 0 3 0a1.5 1.5 0 1 0 -3 0M258 173.5a1.5 1.5 0 1 0 3 0a1.5 1.5 0 1 0 -3 0M242.1 166.4a1.5 1.5 0 1 0 3 0a1.5 1.5 0 1 0 -3 0M209.3 207.7a1.5 1.5 0 1 0 3 0a1.5 1.5 0 1 0 -3 0M217.1 155.1a1.5 1.5 0 1 0 3 0a1.5 1.5 0 1 0 -3 0M258.2 184a1.5 1.5 0 1 0 3 0a1.5 1.5 0 1 0 -3 0M205.7 160.6a1.5 1.5 0 1 0 3 0a1.5 1.5 0 1 0 -3 0M211.7 205.7a1.5 1.5 0 1 0 3 0a1.5 1.5 0 1 0 -3 0M196.3 153.3a1.5 1.5 0 1 0 3 0a1.5 1.5 0 1 0 -3 0M209.3 162.9a1.5 1.5 0 1 0 3 0a1.5 1.5 0 1 0 -3 0M196 160.6a1.5 1.5 0 1 0 3 0a1.5 1.5 0 1 0 -3 0M239.9 206.3a1.5 1.5 0 1 0 3 0a1.5 1.5 0 1 0 -3 0M198.2 207.7a1.5 1.5 0 1 0 3 0a1.5 1.5 0 1 0 -3 0M245.7 169.2a1.5 1.5 0 1 0 3 0a1.5 1.5 0 1 0 -3 0M254.5 188.7a1.5 1.5 0 1 0 3 0a1.5 1.5 0 1 0 -3 0M241.4 153.8a1.5 1.5 0 1 0 3 0a1.5 1.5 0 1 0 -3 0M209.3 148.7a1.5 1.5 0 1 0 3 0a1.5 1.5 0 1 0 -3 0M236.7 163.2a1.5 1.5 0 1 0 3 0a1.5 1.5 0 1 0 -3 0M232.9 153.7a1.5 1.5 0 1 0 3 0a1.5 1.5 0 1 0 -3 0M208.5 187.9a1.5 1.5 0 1 0 3 0a1.5 1.5 0 1 0 -3 0M211.2 176.3a1.5 1.5 0 1 0 3 0a1.5 1.5 0 1 0 -3 0M252.8 192.5a1.5 1.5 0 1 0 3 0a1.5 1.5 0 1 0 -3 0M243.8 168.2a1.5 1.5 0 1 0 3 0a1.5 1.5 0 1 0 -3 0M275.4 161.8a1.5 1.5 0 1 0 3 0a1.5 1.5 0 1 0 -3 0M222 158.7a1.5 1.5 0 1 0 3 0a1.5 1.5 0 1 0 -3 0M254.1 165.4a1.5 1.5 0 1 0 3 0a1.5 1.5 0 1 0 -3 0M221.3 180a1.5 1.5 0 1 0 3 0a1.5 1.5 0 1 0 -3 0M265.6 163.2a1.5 1.5 0 1 0 3 0a1.5 1.5 0 1 0 -3 0M222.1 185.7a1.5 1.5 0 1 0 3 0a1.5 1.5 0 1 0 -3 0M209.6 197.8a1.5 1.5 0 1 0 3 0a1.5 1.5 0 1 0 -3 0M200.7 167.3a1.5 1.5 0 1 0 3 0a1.5 1.5 0 1 0 -3 0M262.6 206.5a1.5 1.5 0 1 0 3 0a1.5 1.5 0 1 0 -3 0M209.7 208a1.5 1.5 0 1 0 3 0a1.5 1.5 0 1 0 -3 0M199.5 173.6a1.5 1.5 0 1 0 3 0a1.5 1.5 0 1 0 -3 0M235.6 151a1.5 1.5 0 1 0 3 0a1.5 1.5 0 1 0 -3 0M268.7 203.3a1.5 1.5 0 1 0 3 0a1.5 1.5 0 1 0 -3 0M219 189.3a1.5 1.5 0 1 0 3 0a1.5 1.5 0 1 0 -3 0M224.7 190.1a1.5 1.5 0 1 0 3 0a1.5 1.5 0 1 0 -3 0M230.9 187.7a1.5 1.5 0 1 0 3 0a1.5 1.5 0 1 0 -3 0M205 157.7a1.5 1.5 0 1 0 3 0a1.5 1.5 0 1 0 -3 0M261.3 198.9a1.5 1.5 0 1 0 3 0a1.5 1.5 0 1 0 -3 0M239.3 195.3a1.5 1.5 0 1 0 3 0a1.5 1.5 0 1 0 -3 0M208.3 161.4a1.5 1.5 0 1 0 3 0a1.5 1.5 0 1 0 -3 0M212.4 151.1a1.5 1.5 0 1 0 3 0a1.5 1.5 0 1 0 -3 0M212.3 194a1.5 1.5 0 1 0 3 0a1.5 1.5 0 1 0 -3 0M229.1 149.2a1.5 1.5 0 1 0 3 0a1.5 1.5 0 1 0 -3 0M246.6 161.3a1.5 1.5 0 1 0 3 0a1.5 1.5 0 1 0 -3 0M257.4 172.5a1.5 1.5 0 1 0 3 0a1.5 1.5 0 1 0 -3 0M234.7 197.1a1.5 1.5 0 1 0 3 0a1.5 1.5 0 1 0 -3 0M268.8 204.8a1.5 1.5 0 1 0 3 0a1.5 1.5 0 1 0 -3 0M277.2 150.1a1.5 1.5 0 1 0 3 0a1.5 1.5 0 1 0 -3 0M207.6 172.6a1.5 1.5 0 1 0 3 0a1.5 1.5 0 1 0 -3 0M239.9 196a1.5 1.5 0 1 0 3 0a1.5 1.5 0 1 0 -3 0M231 155.3a1.5 1.5 0 1 0 3 0a1.5 1.5 0 1 0 -3 0M251.4 184.1a1.5 1.5 0 1 0 3 0a1.5 1.5 0 1 0 -3 0M206.1 202.1a1.5 1.5 0 1 0 3 0a1.5 1.5 0 1 0 -3 0M217.5 155.2a1.5 1.5 0 1 0 3 0a1.5 1.5 0 1 0 -3 0M270.9 150.3a1.5 1.5 0 1 0 3 0a1.5 1.5 0 1 0 -3 0M248.1 183.1a1.5 1.5 0 1 0 3 0a1.5 1.5 0 1 0 -3 0M241 150.2a1.5 1.5 0 1 0 3 0a1.5 1.5 0 1 0 -3 0M215 192.6a1.5 1.5 0 1 0 3 0a1.5 1.5 0 1 0 -3 0M214.9 204.1a1.5 1.5 0 1 0 3 0a1.5 1.5 0 1 0 -3 0M262.9 194.7a1.5 1.5 0 1 0 3 0a1.5 1.5 0 1 0 -3 0M238.5 168.9a1.5 1.5 0 1 0 3 0a1.5 1.5 0 1 0 -3 0M276.1 175.7a1.5 1.5 0 1 0 3 0a1.5 1.5 0 1 0 -3 0M270.5 166a1.5 1.5 0 1 0 3 0a1.5 1.5 0 1 0 -3 0M262.4 184.3a1.5 1.5 0 1 0 3 0a1.5 1.5 0 1 0 -3 0M218.5 162a1.5 1.5 0 1 0 3 0a1.5 1.5 0 1 0 -3 0M235.2 171.3a1.5 1.5 0 1 0 3 0a1.5 1.5 0 1 0 -3 0M210.8 205.4a1.5 1.5 0 1 0 3 0a1.5 1.5 0 1 0 -3 0M196.1 175.1a1.5 1.5 0 1 0 3 0a1.5 1.5 0 1 0 -3 0M227.1 196.8a1.5 1.5 0 1 0 3 0a1.5 1.5 0 1 0 -3 0M225.7 154.8a1.5 1.5 0 1 0 3 0a1.5 1.5 0 1 0 -3 0M252.5 152.7a1.5 1.5 0 1 0 3 0a1.5 1.5 0 1 0 -3 0M226.1 169.2a1.5 1.5 0 1 0 3 0a1.5 1.5 0 1 0 -3 0M256.6 164.8a1.5 1.5 0 1 0 3 0a1.5 1.5 0 1 0 -3 0M203.5 204a1.5 1.5 0 1 0 3 0a1.5 1.5 0 1 0 -3 0M228.4 161.8a1.5 1.5 0 1 0 3 0a1.5 1.5 0 1 0 -3 0M219 171.9a1.5 1.5 0 1 0 3 0a1.5 1.5 0 1 0 -3 0M237.5 173.6a1.5 1.5 0 1 0 3 0a1.5 1.5 0 1 0 -3 0M222.4 166.6a1.5 1.5 0 1 0 3 0a1.5 1.5 0 1 0 -3 0M255.1 193.9a1.5 1.5 0 1 0 3 0a1.5 1.5 0 1 0 -3 0M210.6 175.1a1.5 1.5 0 1 0 3 0a1.5 1.5 0 1 0 -3 0M201.1 189.8a1.5 1.5 0 1 0 3 0a1.5 1.5 0 1 0 -3 0M232.5 150.1a1.5 1.5 0 1 0 3 0a1.5 1.5 0 1 0 -3 0M208.3 192.1a1.5 1.5 0 1 0 3 0a1.5 1.5 0 1 0 -3 0M229.4 155.6a1.5 1.5 0 1 0 3 0a1.5 1.5 0 1 0 -3 0M212.9 185.8a1.5 1.5 0 1 0 3 0a1.5 1.5 0 1 0 -3 0M219.5 188.9a1.5 1.5 0 1 0 3 0a1.5 1.5 0 1 0 -3 0M277.8 181.4a1.5 1.5 0 1 0 3 0a1.5 1.5 0 1 0 -3 0M204.2 164.3a1.5 1.5 0 1 0 3 0a1.5 1.5 0 1 0 -3 0M209.1 206.1a1.5 1.5 0 1 0 3 0a1.5 1.5 0 1 0 -3 0M236.2 156.5a1.5 1.5 0 1 0 3 0a1.5 1.5 0 1 0 -3 0M208.4 184a1.5 1.5 0 1 0 3 0a1.5 1.5 0 1 0 -3 0M236.6 201.4a1.5 1.5 0 1 0 3 0a1.5 1.5 0 1 0 -3 0M256.6 176.8a1.5 1.5 0 1 0 3 0a1.5 1.5 0 1 0 -3 0M252.8 176.3a1.5 1.5 0 1 0 3 0a1.5 1.5 0 1 0 -3 0M241.8 165.5a1.5 1.5 0 1 0 3 0a1.5 1.5 0 1 0 -3 0M226.8 199.9a1.5 1.5 0 1 0 3 0a1.5 1.5 0 1 0 -3 0M252.2 190.1a1.5 1.5 0 1 0 3 0a1.5 1.5 0 1 0 -3 0M255.2 170.6a1.5 1.5 0 1 0 3 0a1.5 1.5 0 1 0 -3 0M206 164.8a1.5 1.5 0 1 0 3 0a1.5 1.5 0 1 0 -3 0M219.5 155.3a1.5 1.5 0 1 0 3 0a1.5 1.5 0 1 0 -3 0M273.9 205.2a1.5 1.5 0 1 0 3 0a1.5 1.5 0 1 0 -3 0M253.1 198.3a1.5 1.5 0 1 0 3 0a1.5 1.5 0 1 0 -3 0M209.8 191.4a1.5 1.5 0 1 0 3 0a1.5 1.5 0 1 0 -3 0M218 181.5a1.5 1.5 0 1 0 3 0a1.5 1.5 0 1 0 -3 0M268.2 193.8a1.5 1.5 0 1 0 3 0a1.5 1.5 0 1 0 -3 0M248.9 190.1a1.5 1.5 0 1 0 3 0a1.5 1.5 0 1 0 -3 0M236.3 205.3a1.5 1.5 0 1 0 3 0a1.5 1.5 0 1 0 -3 0M247.8 164.9a1.5 1.5 0 1 0 3 0a1.5 1.5 0 1 0 -3 0M271.8 160.5a1.5 1.5 0 1 0 3 0a1.5 1.5 0 1 0 -3 0M212.2 165.5a1.5 1.5 0 1 0 3 0a1.5 1.5 0 1 0 -3 0M224.5 203.9a1.5 1.5 0 1 0 3 0a1.5 1.5 0 1 0 -3 0M262.7 160.9a1.5 1.5 0 1 0 3 0a1.5 1.5 0 1 0 -3 0M205.2 157.2a1.5 1.5 0 1 0 3 0a1.5 1.5 0 1 0 -3 0M224 199.7a1.5 1.5 0 1 0 3 0a1.5 1.5 0 1 0 -3 0M239.8 174a1.5 1.5 0 1 0 3 0a1.5 1.5 0 1 0 -3 0M232.2 159.3a1.5 1.5 0 1 0 3 0a1.5 1.5 0 1 0 -3 0M235.5 151.5a1.5 1.5 0 1 0 3 0a1.5 1.5 0 1 0 -3 0M226.8 164.1a1.5 1.5 0 1 0 3 0a1.5 1.5 0 1 0 -3 0M254.6 158a1.5 1.5 0 1 0 3 0a1.5 1.5 0 1 0 -3 0M258.6 195.3a1.5 1.5 0 1 0 3 0a1.5 1.5 0 1 0 -3 0M264.7 174.9a1.5 1.5 0 1 0 3 0a1.5 1.5 0 1 0 -3 0M272.6 162.1a1.5 1.5 0 1 0 3 0a1.5 1.5 0 1 0 -3 0M202.7 198.5a1.5 1.5 0 1 0 3 0a1.5 1.5 0 1 0 -3 0M233.2 164.3a1.5 1.5 0 1 0 3 0a1.5 1.5 0 1 0 -3 0M272.2 207.6a1.5 1.5 0 1 0 3 0a1.5 1.5 0 1 0 -3 0M265 165.1a1.5 1.5 0 1 0 3 0a1.5 1.5 0 1 0 -3 0M262.9 181.4a1.5 1.5 0 1 0 3 0a1.5 1.5 0 1 0 -3 0M217.8 195.4a1.5 1.5 0 1 0 3 0a1.5 1.5 0 1 0 -3 0M209.8 152.9a1.5 1.5 0 1 0 3 0a1.5 1.5 0 1 0 -3 0" fill="#00B0F6" fill-opacity="0.17" stroke="#00B0F6" stroke-opacity="0.31" stroke-width="0.8" filter="url(#f0)"/><path d="M236.7 203.3a1.7 1.7 0 1 0 3.4 0a1.7 1.7 0 1 0 -3.4 0M238.5 205.2a1.7 1.7 0 1 0 3.4 0a1.7 1.7 0 1 0 -3.4 0M237 202.5a1.7 1.7 0 1 0 3.4 0a1.7 1.7 0 1 0 -3.4 0M233.9 199.5a1.7 1.7 0 1 0 3.4 0a1.7 1.7 0 1 0 -3.4 0M247.3 204.6a1.7 1.7 0 1 0 3.4 0a1.7 1.7 0 1 0 -3.4 0M242.4 200.7a1.7 1.7 0 1 0 3.4 0a1.7 1.7 0 1 0 -3.4 0M244.4 200.6a1.7 1.7 0 1 0 3.4 0a1.7 1.7 0 1 0 -3.4 0M244.8 198.8a1.7 1.7 0 1 0 3.4 0a1.7 1.7 0 1 0 -3.4 0M237.6 195.3a1.7 1.7 0 1 0 3.4 0a1.7 1.7 0 1 0 -3.4 0M233.1 199.8a1.7 1.7 0 1 0 3.4 0a1.7 1.7 0 1 0 -3.4 0M243 201.9a1.7 1.7 0 1 0 3.4 0a1.7 1.7 0 1 0 -3.4 0M240.5 197.6a1.7 1.7 0 1 0 3.4 0a1.7 1.7 0 1 0 -3.4 0M237 196.9a1.7 1.7 0 1 0 3.4 0a1.7 1.7 0 1 0 -3.4 0M238.2 199.8a1.7 1.7 0 1 0 3.4 0a1.7 1.7 0 1 0 -3.4 0" fill="#00B0F6" fill-opacity="0.28" stroke="#00B0F6" stroke-opacity="0.52" stroke-width="0.8" filter="url(#f0)"/><path d="M166 149.5L232 149.5L232 154L166 154Z" fill="#F962EE" fill-opacity="0.5"/><clipPath id="k9"><rect x="165" y="149.5" width="115.3" height="80.5"/></clipPath><g clip-path="url(#k9)"><path d="M208.4 140L213.6 140L218.2 140.5L222.2 141.4L225.5 142.8L228.2 144.7L230.3 147L231.7 149.8L232.4 153.1L232.6 156.9L232.7 160.6L232.9 164.4L233.1 168.1L233.4 171.9L233.7 175.6L234 179.4L234.3 183.1L234.7 186.9L235.2 190.2L236 193.2L236.8 195.8L237.9 198L239.1 199.8L240.5 201.2L242.1 202.2L243.9 202.8L244.5 203.5L243.9 204.3L242.2 205.2L239.3 206.1L235.3 207.1L230.1 208.2L223.8 209.4L216.2 210.6L209.7 210.5L204.1 209.1L199.4 206.4L195.6 202.3L192.8 197L190.9 190.2L190 182.2L190 172.8L190.7 164.6L192 157.6L193.9 151.7L196.6 147L199.8 143.5L203.8 141.2Z" fill="#F962EE" fill-opacity="0.45"/></g><clipPath id="k10"><rect x="165" y="149.5" width="115.3" height="80.5"/></clipPath><g clip-path="url(#k10)"><path d="M252.4 159.1L254.6 158.9L256.7 158.8L258.9 158.8L261 159L263.2 159.3L265.4 159.7L267.6 160.3L269.9 161.1L272.1 161.9L274.2 163.3L276 165.2L277.7 167.7L279.1 170.6L280.3 174L281.4 178L282.2 182.5L282.8 187.5L282.8 191.9L282.1 195.7L280.8 198.8L278.8 201.4L276.1 203.4L272.8 204.7L268.8 205.4L264.2 205.6L260.1 205L256.5 203.6L253.5 201.5L251 198.7L249 195.2L247.6 190.9L246.7 185.9L246.3 180.1L246.2 175.1L246.5 170.7L247.1 167L247.9 164L249.1 161.7L250.6 160.1Z" fill="#F962EE" fill-opacity="0.22"/></g><path d="M224 192a1.6 1.6 0 1 0 3.2 0a1.6 1.6 0 1 0 -3.2 0M203.7 191.3a1.6 1.6 0 1 0 3.2 0a1.6 1.6 0 1 0 -3.2 0M223.3 174.8a1.6 1.6 0 1 0 3.2 0a1.6 1.6 0 1 0 -3.2 0M201.1 153.2a1.6 1.6 0 1 0 3.2 0a1.6 1.6 0 1 0 -3.2 0M214.1 170.2a1.6 1.6 0 1 0 3.2 0a1.6 1.6 0 1 0 -3.2 0M203.1 195.6a1.6 1.6 0 1 0 3.2 0a1.6 1.6 0 1 0 -3.2 0M227.3 176.1a1.6 1.6 0 1 0 3.2 0a1.6 1.6 0 1 0 -3.2 0M200.8 183.8a1.6 1.6 0 1 0 3.2 0a1.6 1.6 0 1 0 -3.2 0M228.2 152.1a1.6 1.6 0 1 0 3.2 0a1.6 1.6 0 1 0 -3.2 0M224.3 177.8a1.6 1.6 0 1 0 3.2 0a1.6 1.6 0 1 0 -3.2 0M203.5 166.1a1.6 1.6 0 1 0 3.2 0a1.6 1.6 0 1 0 -3.2 0M226.6 202.8a1.6 1.6 0 1 0 3.2 0a1.6 1.6 0 1 0 -3.2 0M202.3 187.9a1.6 1.6 0 1 0 3.2 0a1.6 1.6 0 1 0 -3.2 0M216.4 153.5a1.6 1.6 0 1 0 3.2 0a1.6 1.6 0 1 0 -3.2 0M219.8 179a1.6 1.6 0 1 0 3.2 0a1.6 1.6 0 1 0 -3.2 0M214.6 159.3a1.6 1.6 0 1 0 3.2 0a1.6 1.6 0 1 0 -3.2 0M215.2 176.1a1.6 1.6 0 1 0 3.2 0a1.6 1.6 0 1 0 -3.2 0M202.2 196.9a1.6 1.6 0 1 0 3.2 0a1.6 1.6 0 1 0 -3.2 0M200.2 198.6a1.6 1.6 0 1 0 3.2 0a1.6 1.6 0 1 0 -3.2 0M216.9 151.3a1.6 1.6 0 1 0 3.2 0a1.6 1.6 0 1 0 -3.2 0M218.2 176.6a1.6 1.6 0 1 0 3.2 0a1.6 1.6 0 1 0 -3.2 0M218.2 176.4a1.6 1.6 0 1 0 3.2 0a1.6 1.6 0 1 0 -3.2 0M198.8 193.4a1.6 1.6 0 1 0 3.2 0a1.6 1.6 0 1 0 -3.2 0M226.3 171.8a1.6 1.6 0 1 0 3.2 0a1.6 1.6 0 1 0 -3.2 0M201.8 177a1.6 1.6 0 1 0 3.2 0a1.6 1.6 0 1 0 -3.2 0M207.2 171.9a1.6 1.6 0 1 0 3.2 0a1.6 1.6 0 1 0 -3.2 0M207.1 195.1a1.6 1.6 0 1 0 3.2 0a1.6 1.6 0 1 0 -3.2 0M229.9 152.4a1.6 1.6 0 1 0 3.2 0a1.6 1.6 0 1 0 -3.2 0M200.1 182.3a1.6 1.6 0 1 0 3.2 0a1.6 1.6 0 1 0 -3.2 0M204.9 204.6a1.6 1.6 0 1 0 3.2 0a1.6 1.6 0 1 0 -3.2 0M200.6 177.8a1.6 1.6 0 1 0 3.2 0a1.6 1.6 0 1 0 -3.2 0M210.6 180.4a1.6 1.6 0 1 0 3.2 0a1.6 1.6 0 1 0 -3.2 0M200.9 177.1a1.6 1.6 0 1 0 3.2 0a1.6 1.6 0 1 0 -3.2 0M208.9 178.4a1.6 1.6 0 1 0 3.2 0a1.6 1.6 0 1 0 -3.2 0M203.6 184a1.6 1.6 0 1 0 3.2 0a1.6 1.6 0 1 0 -3.2 0M222.7 155.4a1.6 1.6 0 1 0 3.2 0a1.6 1.6 0 1 0 -3.2 0M228.2 170.2a1.6 1.6 0 1 0 3.2 0a1.6 1.6 0 1 0 -3.2 0M202.9 154.8a1.6 1.6 0 1 0 3.2 0a1.6 1.6 0 1 0 -3.2 0M219.6 169.3a1.6 1.6 0 1 0 3.2 0a1.6 1.6 0 1 0 -3.2 0M226.3 157.9a1.6 1.6 0 1 0 3.2 0a1.6 1.6 0 1 0 -3.2 0M210.2 183.3a1.6 1.6 0 1 0 3.2 0a1.6 1.6 0 1 0 -3.2 0M207.2 182.3a1.6 1.6 0 1 0 3.2 0a1.6 1.6 0 1 0 -3.2 0M201.5 176.5a1.6 1.6 0 1 0 3.2 0a1.6 1.6 0 1 0 -3.2 0M200.3 153.5a1.6 1.6 0 1 0 3.2 0a1.6 1.6 0 1 0 -3.2 0M203.9 170.5a1.6 1.6 0 1 0 3.2 0a1.6 1.6 0 1 0 -3.2 0M219.6 151.6a1.6 1.6 0 1 0 3.2 0a1.6 1.6 0 1 0 -3.2 0M200.7 158.6a1.6 1.6 0 1 0 3.2 0a1.6 1.6 0 1 0 -3.2 0M230.5 153.1a1.6 1.6 0 1 0 3.2 0a1.6 1.6 0 1 0 -3.2 0M205 197.1a1.6 1.6 0 1 0 3.2 0a1.6 1.6 0 1 0 -3.2 0M226.7 167.5a1.6 1.6 0 1 0 3.2 0a1.6 1.6 0 1 0 -3.2 0M209.2 185.9a1.6 1.6 0 1 0 3.2 0a1.6 1.6 0 1 0 -3.2 0M229.8 150.1a1.6 1.6 0 1 0 3.2 0a1.6 1.6 0 1 0 -3.2 0M220.7 154.7a1.6 1.6 0 1 0 3.2 0a1.6 1.6 0 1 0 -3.2 0M201.9 155.5a1.6 1.6 0 1 0 3.2 0a1.6 1.6 0 1 0 -3.2 0M206.6 204.9a1.6 1.6 0 1 0 3.2 0a1.6 1.6 0 1 0 -3.2 0M214.9 182.4a1.6 1.6 0 1 0 3.2 0a1.6 1.6 0 1 0 -3.2 0M220.3 151.6a1.6 1.6 0 1 0 3.2 0a1.6 1.6 0 1 0 -3.2 0M210.2 192.8a1.6 1.6 0 1 0 3.2 0a1.6 1.6 0 1 0 -3.2 0M231.8 201.4a1.6 1.6 0 1 0 3.2 0a1.6 1.6 0 1 0 -3.2 0M202.2 171.9a1.6 1.6 0 1 0 3.2 0a1.6 1.6 0 1 0 -3.2 0M212.1 162.8a1.6 1.6 0 1 0 3.2 0a1.6 1.6 0 1 0 -3.2 0M213 156.4a1.6 1.6 0 1 0 3.2 0a1.6 1.6 0 1 0 -3.2 0M221 172.3a1.6 1.6 0 1 0 3.2 0a1.6 1.6 0 1 0 -3.2 0M222.4 194.3a1.6 1.6 0 1 0 3.2 0a1.6 1.6 0 1 0 -3.2 0M207.8 171.4a1.6 1.6 0 1 0 3.2 0a1.6 1.6 0 1 0 -3.2 0M211.9 160.9a1.6 1.6 0 1 0 3.2 0a1.6 1.6 0 1 0 -3.2 0M228 186.7a1.6 1.6 0 1 0 3.2 0a1.6 1.6 0 1 0 -3.2 0M206.4 157.2a1.6 1.6 0 1 0 3.2 0a1.6 1.6 0 1 0 -3.2 0M229.3 191.1a1.6 1.6 0 1 0 3.2 0a1.6 1.6 0 1 0 -3.2 0M198.9 160.5a1.6 1.6 0 1 0 3.2 0a1.6 1.6 0 1 0 -3.2 0M225.4 195.8a1.6 1.6 0 1 0 3.2 0a1.6 1.6 0 1 0 -3.2 0M214.5 188.4a1.6 1.6 0 1 0 3.2 0a1.6 1.6 0 1 0 -3.2 0M211.7 204.1a1.6 1.6 0 1 0 3.2 0a1.6 1.6 0 1 0 -3.2 0M230.7 203.3a1.6 1.6 0 1 0 3.2 0a1.6 1.6 0 1 0 -3.2 0M215.3 178.7a1.6 1.6 0 1 0 3.2 0a1.6 1.6 0 1 0 -3.2 0M230.9 198.6a1.6 1.6 0 1 0 3.2 0a1.6 1.6 0 1 0 -3.2 0M215.1 192.8a1.6 1.6 0 1 0 3.2 0a1.6 1.6 0 1 0 -3.2 0M227.4 183.8a1.6 1.6 0 1 0 3.2 0a1.6 1.6 0 1 0 -3.2 0M232.1 181.9a1.6 1.6 0 1 0 3.2 0a1.6 1.6 0 1 0 -3.2 0M198.9 194.5a1.6 1.6 0 1 0 3.2 0a1.6 1.6 0 1 0 -3.2 0M217 167.5a1.6 1.6 0 1 0 3.2 0a1.6 1.6 0 1 0 -3.2 0M221.1 190.4a1.6 1.6 0 1 0 3.2 0a1.6 1.6 0 1 0 -3.2 0M215.1 183.7a1.6 1.6 0 1 0 3.2 0a1.6 1.6 0 1 0 -3.2 0M230.5 158.4a1.6 1.6 0 1 0 3.2 0a1.6 1.6 0 1 0 -3.2 0M230.3 175.6a1.6 1.6 0 1 0 3.2 0a1.6 1.6 0 1 0 -3.2 0M202 198.6a1.6 1.6 0 1 0 3.2 0a1.6 1.6 0 1 0 -3.2 0M205.4 181.8a1.6 1.6 0 1 0 3.2 0a1.6 1.6 0 1 0 -3.2 0M216.5 172.7a1.6 1.6 0 1 0 3.2 0a1.6 1.6 0 1 0 -3.2 0M214.4 177.7a1.6 1.6 0 1 0 3.2 0a1.6 1.6 0 1 0 -3.2 0M225.7 170.9a1.6 1.6 0 1 0 3.2 0a1.6 1.6 0 1 0 -3.2 0M216.3 184.9a1.6 1.6 0 1 0 3.2 0a1.6 1.6 0 1 0 -3.2 0M222.2 187.9a1.6 1.6 0 1 0 3.2 0a1.6 1.6 0 1 0 -3.2 0M214.1 183a1.6 1.6 0 1 0 3.2 0a1.6 1.6 0 1 0 -3.2 0M222.2 195.8a1.6 1.6 0 1 0 3.2 0a1.6 1.6 0 1 0 -3.2 0M210.3 154.2a1.6 1.6 0 1 0 3.2 0a1.6 1.6 0 1 0 -3.2 0M210.2 156.3a1.6 1.6 0 1 0 3.2 0a1.6 1.6 0 1 0 -3.2 0M208.9 164.1a1.6 1.6 0 1 0 3.2 0a1.6 1.6 0 1 0 -3.2 0M232.4 174.4a1.6 1.6 0 1 0 3.2 0a1.6 1.6 0 1 0 -3.2 0M216.1 154.3a1.6 1.6 0 1 0 3.2 0a1.6 1.6 0 1 0 -3.2 0M199.8 202.6a1.6 1.6 0 1 0 3.2 0a1.6 1.6 0 1 0 -3.2 0M226 163.1a1.6 1.6 0 1 0 3.2 0a1.6 1.6 0 1 0 -3.2 0M214.1 177.3a1.6 1.6 0 1 0 3.2 0a1.6 1.6 0 1 0 -3.2 0M205.9 193.3a1.6 1.6 0 1 0 3.2 0a1.6 1.6 0 1 0 -3.2 0M231.3 178.7a1.6 1.6 0 1 0 3.2 0a1.6 1.6 0 1 0 -3.2 0M228.3 167.5a1.6 1.6 0 1 0 3.2 0a1.6 1.6 0 1 0 -3.2 0M211.2 189.6a1.6 1.6 0 1 0 3.2 0a1.6 1.6 0 1 0 -3.2 0M218.6 167.1a1.6 1.6 0 1 0 3.2 0a1.6 1.6 0 1 0 -3.2 0M231.5 187.4a1.6 1.6 0 1 0 3.2 0a1.6 1.6 0 1 0 -3.2 0M199.8 202.4a1.6 1.6 0 1 0 3.2 0a1.6 1.6 0 1 0 -3.2 0M198.9 177.7a1.6 1.6 0 1 0 3.2 0a1.6 1.6 0 1 0 -3.2 0M201 154.2a1.6 1.6 0 1 0 3.2 0a1.6 1.6 0 1 0 -3.2 0M204.2 172.5a1.6 1.6 0 1 0 3.2 0a1.6 1.6 0 1 0 -3.2 0M199.7 163.9a1.6 1.6 0 1 0 3.2 0a1.6 1.6 0 1 0 -3.2 0M199.5 184.5a1.6 1.6 0 1 0 3.2 0a1.6 1.6 0 1 0 -3.2 0M226.4 164.2a1.6 1.6 0 1 0 3.2 0a1.6 1.6 0 1 0 -3.2 0M213.4 194.6a1.6 1.6 0 1 0 3.2 0a1.6 1.6 0 1 0 -3.2 0M200.7 155.5a1.6 1.6 0 1 0 3.2 0a1.6 1.6 0 1 0 -3.2 0M229 177.9a1.6 1.6 0 1 0 3.2 0a1.6 1.6 0 1 0 -3.2 0M233.3 192.8a1.6 1.6 0 1 0 3.2 0a1.6 1.6 0 1 0 -3.2 0M227 193.7a1.6 1.6 0 1 0 3.2 0a1.6 1.6 0 1 0 -3.2 0M221.4 171.1a1.6 1.6 0 1 0 3.2 0a1.6 1.6 0 1 0 -3.2 0M210.1 182.2a1.6 1.6 0 1 0 3.2 0a1.6 1.6 0 1 0 -3.2 0M230.2 181.1a1.6 1.6 0 1 0 3.2 0a1.6 1.6 0 1 0 -3.2 0M202.1 165.1a1.6 1.6 0 1 0 3.2 0a1.6 1.6 0 1 0 -3.2 0M216.3 202.4a1.6 1.6 0 1 0 3.2 0a1.6 1.6 0 1 0 -3.2 0M203.6 180.4a1.6 1.6 0 1 0 3.2 0a1.6 1.6 0 1 0 -3.2 0M198.7 202a1.6 1.6 0 1 0 3.2 0a1.6 1.6 0 1 0 -3.2 0M224.7 174.8a1.6 1.6 0 1 0 3.2 0a1.6 1.6 0 1 0 -3.2 0M202.9 196.1a1.6 1.6 0 1 0 3.2 0a1.6 1.6 0 1 0 -3.2 0M209.5 152.3a1.6 1.6 0 1 0 3.2 0a1.6 1.6 0 1 0 -3.2 0M231.3 159.4a1.6 1.6 0 1 0 3.2 0a1.6 1.6 0 1 0 -3.2 0M262.2 163.1a1.6 1.6 0 1 0 3.2 0a1.6 1.6 0 1 0 -3.2 0M267.8 204.4a1.6 1.6 0 1 0 3.2 0a1.6 1.6 0 1 0 -3.2 0M263.5 185.9a1.6 1.6 0 1 0 3.2 0a1.6 1.6 0 1 0 -3.2 0M274 187.8a1.6 1.6 0 1 0 3.2 0a1.6 1.6 0 1 0 -3.2 0M254.4 175.4a1.6 1.6 0 1 0 3.2 0a1.6 1.6 0 1 0 -3.2 0M277.2 192.7a1.6 1.6 0 1 0 3.2 0a1.6 1.6 0 1 0 -3.2 0M265.5 174.7a1.6 1.6 0 1 0 3.2 0a1.6 1.6 0 1 0 -3.2 0M261.6 163.6a1.6 1.6 0 1 0 3.2 0a1.6 1.6 0 1 0 -3.2 0M244.9 202.5a1.6 1.6 0 1 0 3.2 0a1.6 1.6 0 1 0 -3.2 0M275.2 188.5a1.6 1.6 0 1 0 3.2 0a1.6 1.6 0 1 0 -3.2 0M255.7 193.6a1.6 1.6 0 1 0 3.2 0a1.6 1.6 0 1 0 -3.2 0M271.9 196.3a1.6 1.6 0 1 0 3.2 0a1.6 1.6 0 1 0 -3.2 0M261.3 178.9a1.6 1.6 0 1 0 3.2 0a1.6 1.6 0 1 0 -3.2 0M274.6 171.5a1.6 1.6 0 1 0 3.2 0a1.6 1.6 0 1 0 -3.2 0M271.9 202.2a1.6 1.6 0 1 0 3.2 0a1.6 1.6 0 1 0 -3.2 0M262.1 183.5a1.6 1.6 0 1 0 3.2 0a1.6 1.6 0 1 0 -3.2 0M258.7 195.9a1.6 1.6 0 1 0 3.2 0a1.6 1.6 0 1 0 -3.2 0M267.8 204.7a1.6 1.6 0 1 0 3.2 0a1.6 1.6 0 1 0 -3.2 0M244.8 171.2a1.6 1.6 0 1 0 3.2 0a1.6 1.6 0 1 0 -3.2 0M271 201.1a1.6 1.6 0 1 0 3.2 0a1.6 1.6 0 1 0 -3.2 0M270.8 166.6a1.6 1.6 0 1 0 3.2 0a1.6 1.6 0 1 0 -3.2 0M273.1 203.2a1.6 1.6 0 1 0 3.2 0a1.6 1.6 0 1 0 -3.2 0M247.9 194.5a1.6 1.6 0 1 0 3.2 0a1.6 1.6 0 1 0 -3.2 0M263 179.1a1.6 1.6 0 1 0 3.2 0a1.6 1.6 0 1 0 -3.2 0M257.2 177.5a1.6 1.6 0 1 0 3.2 0a1.6 1.6 0 1 0 -3.2 0M263.2 164.4a1.6 1.6 0 1 0 3.2 0a1.6 1.6 0 1 0 -3.2 0M258.1 172.8a1.6 1.6 0 1 0 3.2 0a1.6 1.6 0 1 0 -3.2 0M253.3 190.8a1.6 1.6 0 1 0 3.2 0a1.6 1.6 0 1 0 -3.2 0M251.2 195.3a1.6 1.6 0 1 0 3.2 0a1.6 1.6 0 1 0 -3.2 0M257.2 172.3a1.6 1.6 0 1 0 3.2 0a1.6 1.6 0 1 0 -3.2 0M245.2 186.9a1.6 1.6 0 1 0 3.2 0a1.6 1.6 0 1 0 -3.2 0M252.7 181.6a1.6 1.6 0 1 0 3.2 0a1.6 1.6 0 1 0 -3.2 0M261.2 181.5a1.6 1.6 0 1 0 3.2 0a1.6 1.6 0 1 0 -3.2 0M266.6 173.4a1.6 1.6 0 1 0 3.2 0a1.6 1.6 0 1 0 -3.2 0M249.6 196.2a1.6 1.6 0 1 0 3.2 0a1.6 1.6 0 1 0 -3.2 0M276.8 178.5a1.6 1.6 0 1 0 3.2 0a1.6 1.6 0 1 0 -3.2 0M255.9 179.9a1.6 1.6 0 1 0 3.2 0a1.6 1.6 0 1 0 -3.2 0M266.7 168.9a1.6 1.6 0 1 0 3.2 0a1.6 1.6 0 1 0 -3.2 0M256.8 186.9a1.6 1.6 0 1 0 3.2 0a1.6 1.6 0 1 0 -3.2 0M267.5 176.8a1.6 1.6 0 1 0 3.2 0a1.6 1.6 0 1 0 -3.2 0M243.5 179.1a1.6 1.6 0 1 0 3.2 0a1.6 1.6 0 1 0 -3.2 0M254.6 167.4a1.6 1.6 0 1 0 3.2 0a1.6 1.6 0 1 0 -3.2 0M265 188.9a1.6 1.6 0 1 0 3.2 0a1.6 1.6 0 1 0 -3.2 0M267.7 169.4a1.6 1.6 0 1 0 3.2 0a1.6 1.6 0 1 0 -3.2 0M244.6 193a1.6 1.6 0 1 0 3.2 0a1.6 1.6 0 1 0 -3.2 0M256.3 201.3a1.6 1.6 0 1 0 3.2 0a1.6 1.6 0 1 0 -3.2 0M261.7 192.6a1.6 1.6 0 1 0 3.2 0a1.6 1.6 0 1 0 -3.2 0M269.6 185.7a1.6 1.6 0 1 0 3.2 0a1.6 1.6 0 1 0 -3.2 0M255.8 204.4a1.6 1.6 0 1 0 3.2 0a1.6 1.6 0 1 0 -3.2 0M247.7 179.3a1.6 1.6 0 1 0 3.2 0a1.6 1.6 0 1 0 -3.2 0M264.1 195.3a1.6 1.6 0 1 0 3.2 0a1.6 1.6 0 1 0 -3.2 0M243.6 186.6a1.6 1.6 0 1 0 3.2 0a1.6 1.6 0 1 0 -3.2 0M268.9 196.4a1.6 1.6 0 1 0 3.2 0a1.6 1.6 0 1 0 -3.2 0M264.3 203.9a1.6 1.6 0 1 0 3.2 0a1.6 1.6 0 1 0 -3.2 0M245.3 188a1.6 1.6 0 1 0 3.2 0a1.6 1.6 0 1 0 -3.2 0M277.5 172.9a1.6 1.6 0 1 0 3.2 0a1.6 1.6 0 1 0 -3.2 0M249.6 182.5a1.6 1.6 0 1 0 3.2 0a1.6 1.6 0 1 0 -3.2 0M266.9 201.2a1.6 1.6 0 1 0 3.2 0a1.6 1.6 0 1 0 -3.2 0M269.8 196.3a1.6 1.6 0 1 0 3.2 0a1.6 1.6 0 1 0 -3.2 0M276.5 172.6a1.6 1.6 0 1 0 3.2 0a1.6 1.6 0 1 0 -3.2 0M257.7 173.4a1.6 1.6 0 1 0 3.2 0a1.6 1.6 0 1 0 -3.2 0M270 203a1.6 1.6 0 1 0 3.2 0a1.6 1.6 0 1 0 -3.2 0M266.2 203a1.6 1.6 0 1 0 3.2 0a1.6 1.6 0 1 0 -3.2 0M248.5 194.7a1.6 1.6 0 1 0 3.2 0a1.6 1.6 0 1 0 -3.2 0M249.7 188.9a1.6 1.6 0 1 0 3.2 0a1.6 1.6 0 1 0 -3.2 0" fill="#F962EE" fill-opacity="0.21" stroke="#F962EE" stroke-opacity="0.39" stroke-width="0.8" filter="url(#f0)"/><path d="M223.6 173.8a1.6 1.6 0 1 0 3.2 0a1.6 1.6 0 1 0 -3.2 0M230.1 171.9a1.6 1.6 0 1 0 3.2 0a1.6 1.6 0 1 0 -3.2 0M207.6 151.8a1.6 1.6 0 1 0 3.2 0a1.6 1.6 0 1 0 -3.2 0M216.3 172.6a1.6 1.6 0 1 0 3.2 0a1.6 1.6 0 1 0 -3.2 0M215.2 159.4a1.6 1.6 0 1 0 3.2 0a1.6 1.6 0 1 0 -3.2 0M221.9 166.8a1.6 1.6 0 1 0 3.2 0a1.6 1.6 0 1 0 -3.2 0M233.2 188.7a1.6 1.6 0 1 0 3.2 0a1.6 1.6 0 1 0 -3.2 0M202.7 165.7a1.6 1.6 0 1 0 3.2 0a1.6 1.6 0 1 0 -3.2 0M229.5 169.6a1.6 1.6 0 1 0 3.2 0a1.6 1.6 0 1 0 -3.2 0M228.6 179.8a1.6 1.6 0 1 0 3.2 0a1.6 1.6 0 1 0 -3.2 0M219.8 202.3a1.6 1.6 0 1 0 3.2 0a1.6 1.6 0 1 0 -3.2 0M202.5 150.7a1.6 1.6 0 1 0 3.2 0a1.6 1.6 0 1 0 -3.2 0M227 183.5a1.6 1.6 0 1 0 3.2 0a1.6 1.6 0 1 0 -3.2 0M203.1 168a1.6 1.6 0 1 0 3.2 0a1.6 1.6 0 1 0 -3.2 0M212.3 166.7a1.6 1.6 0 1 0 3.2 0a1.6 1.6 0 1 0 -3.2 0M206.7 186.6a1.6 1.6 0 1 0 3.2 0a1.6 1.6 0 1 0 -3.2 0M224.6 178.8a1.6 1.6 0 1 0 3.2 0a1.6 1.6 0 1 0 -3.2 0M227 183.1a1.6 1.6 0 1 0 3.2 0a1.6 1.6 0 1 0 -3.2 0M216.9 189.8a1.6 1.6 0 1 0 3.2 0a1.6 1.6 0 1 0 -3.2 0M205.1 155.8a1.6 1.6 0 1 0 3.2 0a1.6 1.6 0 1 0 -3.2 0M216.5 203.1a1.6 1.6 0 1 0 3.2 0a1.6 1.6 0 1 0 -3.2 0M207.9 156.5a1.6 1.6 0 1 0 3.2 0a1.6 1.6 0 1 0 -3.2 0M203.9 150.8a1.6 1.6 0 1 0 3.2 0a1.6 1.6 0 1 0 -3.2 0M222.4 184.4a1.6 1.6 0 1 0 3.2 0a1.6 1.6 0 1 0 -3.2 0M216.3 186.7a1.6 1.6 0 1 0 3.2 0a1.6 1.6 0 1 0 -3.2 0M213 189.3a1.6 1.6 0 1 0 3.2 0a1.6 1.6 0 1 0 -3.2 0M203.1 154.3a1.6 1.6 0 1 0 3.2 0a1.6 1.6 0 1 0 -3.2 0M218.9 164.6a1.6 1.6 0 1 0 3.2 0a1.6 1.6 0 1 0 -3.2 0M224.1 197.9a1.6 1.6 0 1 0 3.2 0a1.6 1.6 0 1 0 -3.2 0M260.2 188.7a1.6 1.6 0 1 0 3.2 0a1.6 1.6 0 1 0 -3.2 0M272.4 180.2a1.6 1.6 0 1 0 3.2 0a1.6 1.6 0 1 0 -3.2 0M271.3 196.8a1.6 1.6 0 1 0 3.2 0a1.6 1.6 0 1 0 -3.2 0M246 201a1.6 1.6 0 1 0 3.2 0a1.6 1.6 0 1 0 -3.2 0M257.7 191.5a1.6 1.6 0 1 0 3.2 0a1.6 1.6 0 1 0 -3.2 0M274 201.1a1.6 1.6 0 1 0 3.2 0a1.6 1.6 0 1 0 -3.2 0M271.8 190.6a1.6 1.6 0 1 0 3.2 0a1.6 1.6 0 1 0 -3.2 0M262.7 194.3a1.6 1.6 0 1 0 3.2 0a1.6 1.6 0 1 0 -3.2 0M269.8 204.7a1.6 1.6 0 1 0 3.2 0a1.6 1.6 0 1 0 -3.2 0M273.1 178.6a1.6 1.6 0 1 0 3.2 0a1.6 1.6 0 1 0 -3.2 0M273.1 162.3a1.6 1.6 0 1 0 3.2 0a1.6 1.6 0 1 0 -3.2 0M265.3 177.1a1.6 1.6 0 1 0 3.2 0a1.6 1.6 0 1 0 -3.2 0M256.1 186a1.6 1.6 0 1 0 3.2 0a1.6 1.6 0 1 0 -3.2 0M265.8 189.9a1.6 1.6 0 1 0 3.2 0a1.6 1.6 0 1 0 -3.2 0M248.7 188.4a1.6 1.6 0 1 0 3.2 0a1.6 1.6 0 1 0 -3.2 0M246 179.1a1.6 1.6 0 1 0 3.2 0a1.6 1.6 0 1 0 -3.2 0M264.9 177.2a1.6 1.6 0 1 0 3.2 0a1.6 1.6 0 1 0 -3.2 0M266.3 200.2a1.6 1.6 0 1 0 3.2 0a1.6 1.6 0 1 0 -3.2 0M258.8 190a1.6 1.6 0 1 0 3.2 0a1.6 1.6 0 1 0 -3.2 0M252.1 201.1a1.6 1.6 0 1 0 3.2 0a1.6 1.6 0 1 0 -3.2 0M252.6 198.9a1.6 1.6 0 1 0 3.2 0a1.6 1.6 0 1 0 -3.2 0M247 178.6a1.6 1.6 0 1 0 3.2 0a1.6 1.6 0 1 0 -3.2 0M268.4 167a1.6 1.6 0 1 0 3.2 0a1.6 1.6 0 1 0 -3.2 0M257.3 170.2a1.6 1.6 0 1 0 3.2 0a1.6 1.6 0 1 0 -3.2 0M252.9 183.3a1.6 1.6 0 1 0 3.2 0a1.6 1.6 0 1 0 -3.2 0" fill="#00B0F6" fill-opacity="0.21" stroke="#00B0F6" stroke-opacity="0.39" stroke-width="0.8" filter="url(#f0)"/><clipPath id="k11"><rect x="165" y="149.5" width="115.3" height="80.5"/></clipPath><g clip-path="url(#k11)"><path d="M171.4 140L177.6 140L182.9 140.2L187.5 140.5L191.3 140.9L194.4 141.6L196.7 142.3L198.2 143.3L199 144.4L199 145.6L199 146.9L199.1 148.1L199.2 149.4L199.3 150.6L199.5 151.9L199.7 153.1L199.9 154.4L200.1 155.6L200.4 156.9L200.6 158.2L200.9 159.5L201.1 160.8L201.4 162.1L201.6 163.5L201.9 164.8L202.1 166.2L202.5 167.6L202.9 168.9L203.3 170.3L203.9 171.7L204.5 173.1L205.3 174.4L206.1 175.8L206.9 177.2L207.8 178.5L208.6 179.7L209.5 180.8L210.3 181.9L211.1 182.9L211.9 183.8L212.6 184.6L213.4 185.4L214.2 186.1L215 186.9L215.9 187.6L216.8 188.4L217.8 189.1L218.9 189.9L219.9 190.6L221.1 191.4L222.2 192.1L223.2 192.7L224.2 193.3L225.2 193.9L226.2 194.4L227.2 194.9L228.1 195.3L228.9 195.7L229.9 196.1L231 196.5L232.1 196.9L233.4 197.3L234.7 197.8L236.2 198.3L237.7 198.8L239.3 199.2L241 199.7L242.7 200.2L244.4 200.6L246.1 200.9L247.9 201.3L249.7 201.6L251.6 201.9L253.4 202.1L255.5 202.4L257.7 202.6L260 202.8L262.5 203L265.2 203.1L268 203.3L270.9 203.4L274.1 203.6L276.9 204.2L279.4 205.5L281.6 207.2L283.4 209.5L285 212.4L286.2 215.8L287.2 219.8L287.8 224.2L286.2 228.2L282.3 231.6L276.1 234.4L267.7 236.6L257 238.3L244 239.4L228.8 240L211.2 240L195.9 238.4L182.8 235.3L171.9 230.6L163.1 224.4L156.6 216.6L152.2 207.2L150 196.2L150 183.8L150.8 172.8L152.3 163.4L154.6 155.6L157.7 149.4L161.5 144.7L166.1 141.6Z" fill="#F962EE" filter="url(#f1)"/></g><path d="M165 216L166.5 216.2L168 216.4L169.5 216.6L171 216.8L172.5 217L174 217.3L175.5 217.5L177 217.7L178.5 217.8L180 218L181.5 218.2L183 218.3L184.5 218.5L186 218.6L187.5 218.8L189 218.9L190.5 219.1L192 219.2L193.5 219.4L195 219.5L196.5 219.6L198 219.8L199.5 219.9L201 220L202.5 220.1L204 220.2L205.5 220.3L207 220.4L208.5 220.5L210 220.5L211.5 220.6L213 220.6L214.5 220.6L216 220.6L217.5 220.6L219 220.6L220.5 220.6L222 220.6L223.5 220.6L225 220.6L226.5 220.6L228 220.6L229.5 220.6L231 220.7L232.5 220.7L234 220.7L235.5 220.7L237 220.7L238.5 220.7L240 220.7L241.5 220.7L243 220.7L244.5 220.7L246 220.7L247.5 220.7L249 220.7L250.5 220.7L252 220.7L253.5 220.7L255 220.7L256.5 220.8L258 220.8L259.5 220.8L261 220.8L262.5 220.9L264 220.9L265.5 220.9L267 220.9L268.5 221L270 221L271.5 221L273 221.1L274.5 221.1L276 221.1L277.5 221.2L279 221.2L280.3 221.2L280.3 230L279 230L277.5 230L276 230L274.5 230L273 230L271.5 230L270 230L268.5 230L267 230L265.5 230L264 230L262.5 230L261 230L259.5 230L258 230L256.5 230L255 230L253.5 230L252 230L250.5 230L249 230L247.5 230L246 230L244.5 230L243 230L241.5 230L240 230L238.5 230L237 230L235.5 230L234 230L232.5 230L231 230L229.5 230L228 230L226.5 230L225 230L223.5 230L222 230L220.5 230L219 230L217.5 230L216 230L214.5 230L213 230L211.5 230L210 230L208.5 230L207 230L205.5 230L204 230L202.5 230L201 230L199.5 230L198 230L196.5 230L195 230L193.5 230L192 230L190.5 230L189 230L187.5 230L186 230L184.5 230L183 230L181.5 230L180 230L178.5 230L177 230L175.5 230L174 230L172.5 230L171 230L169.5 230L168 230L166.5 230L165 230Z" fill="#00B0F6" fill-opacity="0.9"/><path d="M165 221.2L166.5 221.3L168 221.4L169.5 221.6L171 221.7L172.5 221.8L174 222L175.5 222.1L177 222.3L178.5 222.4L180 222.5L181.5 222.6L183 222.8L184.5 222.9L186 223L187.5 223.1L189 223.2L190.5 223.3L192 223.4L193.5 223.4L195 223.5L196.5 223.6L198 223.6L199.5 223.7L201 223.8L202.5 223.8L204 223.9L205.5 223.9L207 224L208.5 224L210 224L211.5 224.1L213 224.1L214.5 224.1L216 224.1L217.5 224.1L219 224.1L220.5 224.1L222 224.1L223.5 224.1L225 224.1L226.5 224.1L228 224.1L229.5 224.1L231 224.1L232.5 224.1L234 224.1L235.5 224.2L237 224.2L238.5 224.2L240 224.2L241.5 224.2L243 224.2L244.5 224.2L246 224.2L247.5 224.2L249 224.2L250.5 224.2L252 224.2L253.5 224.2L255 224.2L256.5 224.2L258 224.2L259.5 224.2L261 224.2L262.5 224.2L264 224.2L265.5 224.2L267 224.2L268.5 224.2L270 224.2L271.5 224.2L273 224.2L274.5 224.2L276 224.2L277.5 224.2L279 224.2L280.3 224.2L280.3 230L279 230L277.5 230L276 230L274.5 230L273 230L271.5 230L270 230L268.5 230L267 230L265.5 230L264 230L262.5 230L261 230L259.5 230L258 230L256.5 230L255 230L253.5 230L252 230L250.5 230L249 230L247.5 230L246 230L244.5 230L243 230L241.5 230L240 230L238.5 230L237 230L235.5 230L234 230L232.5 230L231 230L229.5 230L228 230L226.5 230L225 230L223.5 230L222 230L220.5 230L219 230L217.5 230L216 230L214.5 230L213 230L211.5 230L210 230L208.5 230L207 230L205.5 230L204 230L202.5 230L201 230L199.5 230L198 230L196.5 230L195 230L193.5 230L192 230L190.5 230L189 230L187.5 230L186 230L184.5 230L183 230L181.5 230L180 230L178.5 230L177 230L175.5 230L174 230L172.5 230L171 230L169.5 230L168 230L166.5 230L165 230Z" fill="#00BF7D" fill-opacity="0.9"/><path d="M165 225.9L166.5 225.9L168 226L169.5 226L171 226.1L172.5 226.1L174 226.2L175.5 226.2L177 226.3L178.5 226.3L180 226.3L181.5 226.4L183 226.4L184.5 226.5L186 226.5L187.5 226.6L189 226.6L190.5 226.7L192 226.7L193.5 226.8L195 226.8L196.5 226.8L198 226.9L199.5 226.9L201 227L202.5 227L204 227L205.5 227.1L207 227.1L208.5 227.1L210 227.1L211.5 227.2L213 227.2L214.5 227.2L216 227.2L217.5 227.2L219 227.2L220.5 227.3L222 227.3L223.5 227.3L225 227.3L226.5 227.3L228 227.3L229.5 227.3L231 227.3L232.5 227.3L234 227.4L235.5 227.4L237 227.4L238.5 227.4L240 227.4L241.5 227.4L243 227.4L244.5 227.4L246 227.4L247.5 227.4L249 227.4L250.5 227.4L252 227.5L253.5 227.5L255 227.5L256.5 227.5L258 227.5L259.5 227.5L261 227.5L262.5 227.5L264 227.5L265.5 227.5L267 227.5L268.5 227.5L270 227.5L271.5 227.6L273 227.6L274.5 227.6L276 227.6L277.5 227.6L279 227.6L280.3 227.6L280.3 230L279 230L277.5 230L276 230L274.5 230L273 230L271.5 230L270 230L268.5 230L267 230L265.5 230L264 230L262.5 230L261 230L259.5 230L258 230L256.5 230L255 230L253.5 230L252 230L250.5 230L249 230L247.5 230L246 230L244.5 230L243 230L241.5 230L240 230L238.5 230L237 230L235.5 230L234 230L232.5 230L231 230L229.5 230L228 230L226.5 230L225 230L223.5 230L222 230L220.5 230L219 230L217.5 230L216 230L214.5 230L213 230L211.5 230L210 230L208.5 230L207 230L205.5 230L204 230L202.5 230L201 230L199.5 230L198 230L196.5 230L195 230L193.5 230L192 230L190.5 230L189 230L187.5 230L186 230L184.5 230L183 230L181.5 230L180 230L178.5 230L177 230L175.5 230L174 230L172.5 230L171 230L169.5 230L168 230L166.5 230L165 230Z" fill="#A3A500" fill-opacity="0.75"/><path d="M165 227.7L166.5 227.7L168 227.8L169.5 227.8L171 227.9L172.5 227.9L174 228L175.5 228L177 228.1L178.5 228.1L180 228.1L181.5 228.2L183 228.2L184.5 228.3L186 228.3L187.5 228.4L189 228.4L190.5 228.5L192 228.5L193.5 228.6L195 228.6L196.5 228.6L198 228.7L199.5 228.7L201 228.8L202.5 228.8L204 228.8L205.5 228.9L207 228.9L208.5 228.9L210 228.9L211.5 229L213 229L214.5 229L216 229L217.5 229L219 229L220.5 229.1L222 229.1L223.5 229.1L225 229.1L226.5 229.1L228 229.1L229.5 229.1L231 229.1L232.5 229.1L234 229.2L235.5 229.2L237 229.2L238.5 229.2L240 229.2L241.5 229.2L243 229.2L244.5 229.2L246 229.2L247.5 229.2L249 229.2L250.5 229.2L252 229.3L253.5 229.3L255 229.3L256.5 229.3L258 229.3L259.5 229.3L261 229.3L262.5 229.3L264 229.3L265.5 229.3L267 229.3L268.5 229.3L270 229.3L271.5 229.4L273 229.4L274.5 229.4L276 229.4L277.5 229.4L279 229.4L280.3 229.4L280.3 230L279 230L277.5 230L276 230L274.5 230L273 230L271.5 230L270 230L268.5 230L267 230L265.5 230L264 230L262.5 230L261 230L259.5 230L258 230L256.5 230L255 230L253.5 230L252 230L250.5 230L249 230L247.5 230L246 230L244.5 230L243 230L241.5 230L240 230L238.5 230L237 230L235.5 230L234 230L232.5 230L231 230L229.5 230L228 230L226.5 230L225 230L223.5 230L222 230L220.5 230L219 230L217.5 230L216 230L214.5 230L213 230L211.5 230L210 230L208.5 230L207 230L205.5 230L204 230L202.5 230L201 230L199.5 230L198 230L196.5 230L195 230L193.5 230L192 230L190.5 230L189 230L187.5 230L186 230L184.5 230L183 230L181.5 230L180 230L178.5 230L177 230L175.5 230L174 230L172.5 230L171 230L169.5 230L168 230L166.5 230L165 230Z" fill="#F8766D" fill-opacity="0.85"/><path d="M165 205.9L166.6 206.3L168.3 206.7L169.9 207.1L171.5 207.4L173.1 207.8L174.8 208.2L176.4 208.6L178 209L179.5 209.4L181.1 209.9L182.6 210.3L184.2 210.7L185.7 211L187.3 211.2L188.9 211.3L190.4 211.4L192 211.5L193.6 211.6L195.1 211.6L196.7 211.7L198.3 211.8L199.8 211.9L201.4 212L203 212.2L204.7 212.5L206.3 212.8L207.9 213.2L209.6 213.6L211.2 213.9L212.9 214.1L214.5 214.2L216 214.2L217.5 214.3L219 214.3L220.5 214.3L222 214.3L223.5 214.4L225 214.4L226.5 214.4L228 214.4L229.5 214.4L231 214.4L232.5 214.4L234 214.5L235.5 214.5L237 214.5L238.5 214.5L240 214.5L241.5 214.5L243.1 214.5L244.6 214.5L246.2 214.5L247.7 214.5L249.2 214.5L250.8 214.5L252.3 214.6L253.8 214.6L255.4 214.6L256.9 214.6L258.5 214.6L260 214.6L261.5 214.6L263 214.7L264.5 214.7L266 214.8L267.5 214.9L269 215L270.5 215.2L272 215.3L273.6 215.5L275.2 215.8L276.8 216.1L278.4 216.5L280 216.8" stroke="#00B0F6" stroke-width="1.75" fill="none" stroke-linejoin="round" stroke-linecap="round"/><path d="M165 215.2L166.5 215.4L168.1 215.6L169.6 215.8L171.1 216L172.6 216.3L174.2 216.5L175.7 216.7L177.2 216.9L178.7 217.1L180.3 217.2L181.8 217.4L183.4 217.6L184.9 217.7L186.5 217.9L188 218L189.6 218.2L191.1 218.3L192.7 218.5L194.3 218.6L195.8 218.8L197.4 218.9L198.9 219L200.5 219.2L202 219.3L203.6 219.4L205.2 219.5L206.7 219.6L208.3 219.6L209.8 219.7L211.4 219.8L212.9 219.8L214.5 219.8L216 219.8L217.6 219.8L219.1 219.8L220.7 219.8L222.2 219.8L223.8 219.8L225.3 219.8L226.8 219.8L228.4 219.8L229.9 219.8L231.5 219.9L233 219.9L234.6 219.9L236.1 219.9L237.7 219.9L239.2 219.9L240.7 219.9L242.3 219.9L243.8 219.9L245.4 219.9L246.9 219.9L248.5 219.9L250 219.9L251.5 219.9L253 219.9L254.5 219.9L256 220L257.5 220L259 220L260.5 220L262 220L263.5 220.1L265 220.1L266.5 220.1L268 220.2L269.5 220.2L271 220.2L272.5 220.3L274 220.3L275.5 220.3L277 220.3L278.5 220.4L280 220.4" stroke="#00BF7D" stroke-width="1.75" fill="none" stroke-linejoin="round" stroke-linecap="round"/><path d="M165 220.6L166.5 220.7L168.1 220.9L169.6 221L171.2 221.1L172.7 221.3L174.2 221.4L175.8 221.5L177.3 221.7L178.8 221.8L180.4 222L181.9 222.1L183.5 222.2L185 222.3L186.5 222.4L188.1 222.5L189.6 222.6L191.2 222.7L192.7 222.8L194.3 222.9L195.8 222.9L197.4 223L198.9 223.1L200.5 223.1L202 223.2L203.6 223.3L205.2 223.3L206.7 223.4L208.3 223.4L209.8 223.4L211.4 223.5L212.9 223.5L214.5 223.5L216 223.5L217.5 223.5L219.1 223.5L220.6 223.5L222.1 223.5L223.6 223.5L225.2 223.5L226.7 223.5L228.2 223.5L229.7 223.5L231.3 223.5L232.8 223.5L234.3 223.5L235.8 223.6L237.3 223.6L238.9 223.6L240.4 223.6L241.9 223.6L243.4 223.6L245 223.6L246.5 223.6L248 223.6L249.5 223.6L251.1 223.6L252.6 223.6L254.1 223.6L255.6 223.6L257.2 223.6L258.7 223.6L260.2 223.6L261.7 223.6L263.2 223.6L264.8 223.6L266.3 223.6L267.8 223.6L269.3 223.6L270.9 223.6L272.4 223.6L273.9 223.6L275.4 223.6L277 223.6L278.5 223.6L280 223.6" stroke="#A3A500" stroke-width="1.75" fill="none" stroke-linejoin="round" stroke-linecap="round"/><path d="M165 225.3L166.5 225.3L168 225.4L169.5 225.4L171 225.5L172.5 225.5L174 225.6L175.5 225.6L177 225.7L178.5 225.7L180 225.7L181.5 225.8L183 225.8L184.5 225.9L186 225.9L187.5 226L189 226L190.5 226.1L192 226.1L193.5 226.2L195 226.2L196.5 226.2L198 226.3L199.5 226.3L201 226.4L202.5 226.4L204 226.4L205.5 226.5L207 226.5L208.5 226.5L210 226.5L211.5 226.6L213 226.6L214.5 226.6L216 226.6L217.5 226.6L219.1 226.6L220.6 226.7L222.1 226.7L223.6 226.7L225.2 226.7L226.7 226.7L228.2 226.7L229.7 226.7L231.3 226.7L232.8 226.8L234.3 226.8L235.8 226.8L237.3 226.8L238.9 226.8L240.4 226.8L241.9 226.8L243.4 226.8L245 226.8L246.5 226.8L248 226.8L249.5 226.8L251.1 226.9L252.6 226.9L254.1 226.9L255.6 226.9L257.2 226.9L258.7 226.9L260.2 226.9L261.7 226.9L263.2 226.9L264.8 226.9L266.3 226.9L267.8 226.9L269.3 226.9L270.9 226.9L272.4 227L273.9 227L275.4 227L277 227L278.5 227L280 227" stroke="#F8766D" stroke-width="1.75" fill="none" stroke-linejoin="round" stroke-linecap="round"/>
</g>
<rect x="160.3" y="129.3" width="124" height="16" fill="#D9D9D9"/>
<text x="222.3" y="141.6" class="st">c_firmage</text>
<text x="165.3" y="246.9" class="tx">0</text>
<text x="197.7" y="246.9" class="tx">25</text>
<text x="230.1" y="246.9" class="tx">50</text>
<text x="262.5" y="246.9" class="tx">75</text>
<path d="M165.3 233.3v2.9M197.7 233.3v2.9M230.1 233.3v2.9M262.5 233.3v2.9" stroke="#333333" stroke-width="1.05" fill="none"/>
<rect x="289.7" y="145.3" width="124" height="88" fill="#EBEBEB"/>
<path d="M312.8 145.3V233.3M346.7 145.3V233.3M380.6 145.3V233.3M289.7 228.4H413.7M289.7 206.2H413.7M289.7 184.1H413.7M289.7 162H413.7" stroke="#F7F7F7" stroke-width="0.55" fill="none"/>
<path d="M295.8 145.3V233.3M329.7 145.3V233.3M363.7 145.3V233.3M397.6 145.3V233.3M289.7 217.3H413.7M289.7 195.2H413.7M289.7 173H413.7M289.7 150.9H413.7" stroke="#FFFFFF" stroke-width="1.05" fill="none"/>
<g clip-path="url(#c6)">
<path d="M386.8 208.6a1.5 1.5 0 1 0 3 0a1.5 1.5 0 1 0 -3 0M342.4 202.4a1.5 1.5 0 1 0 3 0a1.5 1.5 0 1 0 -3 0M351.3 213.1a1.5 1.5 0 1 0 3 0a1.5 1.5 0 1 0 -3 0M368.2 198.1a1.5 1.5 0 1 0 3 0a1.5 1.5 0 1 0 -3 0M385.4 198.5a1.5 1.5 0 1 0 3 0a1.5 1.5 0 1 0 -3 0M387 192.1a1.5 1.5 0 1 0 3 0a1.5 1.5 0 1 0 -3 0M357.2 181.9a1.5 1.5 0 1 0 3 0a1.5 1.5 0 1 0 -3 0M358.1 171.5a1.5 1.5 0 1 0 3 0a1.5 1.5 0 1 0 -3 0M348 155.5a1.5 1.5 0 1 0 3 0a1.5 1.5 0 1 0 -3 0M388.7 156.5a1.5 1.5 0 1 0 3 0a1.5 1.5 0 1 0 -3 0M368.6 186a1.5 1.5 0 1 0 3 0a1.5 1.5 0 1 0 -3 0M372.3 177.6a1.5 1.5 0 1 0 3 0a1.5 1.5 0 1 0 -3 0M399.1 181.9a1.5 1.5 0 1 0 3 0a1.5 1.5 0 1 0 -3 0M360.4 208a1.5 1.5 0 1 0 3 0a1.5 1.5 0 1 0 -3 0M378.7 210.4a1.5 1.5 0 1 0 3 0a1.5 1.5 0 1 0 -3 0M353 177.4a1.5 1.5 0 1 0 3 0a1.5 1.5 0 1 0 -3 0M365 193.4a1.5 1.5 0 1 0 3 0a1.5 1.5 0 1 0 -3 0M349.5 152.2a1.5 1.5 0 1 0 3 0a1.5 1.5 0 1 0 -3 0M372.2 197.4a1.5 1.5 0 1 0 3 0a1.5 1.5 0 1 0 -3 0M346.3 164.7a1.5 1.5 0 1 0 3 0a1.5 1.5 0 1 0 -3 0M353 158.2a1.5 1.5 0 1 0 3 0a1.5 1.5 0 1 0 -3 0M343.1 197.8a1.5 1.5 0 1 0 3 0a1.5 1.5 0 1 0 -3 0M384.2 208.3a1.5 1.5 0 1 0 3 0a1.5 1.5 0 1 0 -3 0M406 202.9a1.5 1.5 0 1 0 3 0a1.5 1.5 0 1 0 -3 0M345.8 167.8a1.5 1.5 0 1 0 3 0a1.5 1.5 0 1 0 -3 0M374.5 192.9a1.5 1.5 0 1 0 3 0a1.5 1.5 0 1 0 -3 0M386.6 205.1a1.5 1.5 0 1 0 3 0a1.5 1.5 0 1 0 -3 0M346.8 213.3a1.5 1.5 0 1 0 3 0a1.5 1.5 0 1 0 -3 0M340.8 162.4a1.5 1.5 0 1 0 3 0a1.5 1.5 0 1 0 -3 0M380 177a1.5 1.5 0 1 0 3 0a1.5 1.5 0 1 0 -3 0M365.7 209.2a1.5 1.5 0 1 0 3 0a1.5 1.5 0 1 0 -3 0M355.9 194.6a1.5 1.5 0 1 0 3 0a1.5 1.5 0 1 0 -3 0M390.4 193.1a1.5 1.5 0 1 0 3 0a1.5 1.5 0 1 0 -3 0M361.4 212.9a1.5 1.5 0 1 0 3 0a1.5 1.5 0 1 0 -3 0M358.7 173.7a1.5 1.5 0 1 0 3 0a1.5 1.5 0 1 0 -3 0M346.8 191a1.5 1.5 0 1 0 3 0a1.5 1.5 0 1 0 -3 0M365.7 202.7a1.5 1.5 0 1 0 3 0a1.5 1.5 0 1 0 -3 0M400.6 172.4a1.5 1.5 0 1 0 3 0a1.5 1.5 0 1 0 -3 0M351.7 211a1.5 1.5 0 1 0 3 0a1.5 1.5 0 1 0 -3 0M347.8 161.6a1.5 1.5 0 1 0 3 0a1.5 1.5 0 1 0 -3 0M370.5 205.2a1.5 1.5 0 1 0 3 0a1.5 1.5 0 1 0 -3 0M340.8 157.5a1.5 1.5 0 1 0 3 0a1.5 1.5 0 1 0 -3 0M357.1 176.1a1.5 1.5 0 1 0 3 0a1.5 1.5 0 1 0 -3 0M368.2 193.6a1.5 1.5 0 1 0 3 0a1.5 1.5 0 1 0 -3 0M371.8 186a1.5 1.5 0 1 0 3 0a1.5 1.5 0 1 0 -3 0M346.7 156.6a1.5 1.5 0 1 0 3 0a1.5 1.5 0 1 0 -3 0M361.9 179.8a1.5 1.5 0 1 0 3 0a1.5 1.5 0 1 0 -3 0M339.2 179.7a1.5 1.5 0 1 0 3 0a1.5 1.5 0 1 0 -3 0M344 158.7a1.5 1.5 0 1 0 3 0a1.5 1.5 0 1 0 -3 0M397.1 163.4a1.5 1.5 0 1 0 3 0a1.5 1.5 0 1 0 -3 0M380.3 204.1a1.5 1.5 0 1 0 3 0a1.5 1.5 0 1 0 -3 0M350.3 169.8a1.5 1.5 0 1 0 3 0a1.5 1.5 0 1 0 -3 0M377.8 204.8a1.5 1.5 0 1 0 3 0a1.5 1.5 0 1 0 -3 0M355 210.1a1.5 1.5 0 1 0 3 0a1.5 1.5 0 1 0 -3 0M390.3 195.7a1.5 1.5 0 1 0 3 0a1.5 1.5 0 1 0 -3 0M396.7 182.6a1.5 1.5 0 1 0 3 0a1.5 1.5 0 1 0 -3 0M364.5 186.5a1.5 1.5 0 1 0 3 0a1.5 1.5 0 1 0 -3 0M368.7 201.2a1.5 1.5 0 1 0 3 0a1.5 1.5 0 1 0 -3 0M354.3 211.3a1.5 1.5 0 1 0 3 0a1.5 1.5 0 1 0 -3 0M367.2 163.2a1.5 1.5 0 1 0 3 0a1.5 1.5 0 1 0 -3 0M366.9 183.6a1.5 1.5 0 1 0 3 0a1.5 1.5 0 1 0 -3 0M365 197a1.5 1.5 0 1 0 3 0a1.5 1.5 0 1 0 -3 0M386.2 192.8a1.5 1.5 0 1 0 3 0a1.5 1.5 0 1 0 -3 0M339.3 150.5a1.5 1.5 0 1 0 3 0a1.5 1.5 0 1 0 -3 0M366.4 197.7a1.5 1.5 0 1 0 3 0a1.5 1.5 0 1 0 -3 0M371.4 198.8a1.5 1.5 0 1 0 3 0a1.5 1.5 0 1 0 -3 0M356.3 192.1a1.5 1.5 0 1 0 3 0a1.5 1.5 0 1 0 -3 0M342.9 201.1a1.5 1.5 0 1 0 3 0a1.5 1.5 0 1 0 -3 0M351.2 194a1.5 1.5 0 1 0 3 0a1.5 1.5 0 1 0 -3 0M352 187.6a1.5 1.5 0 1 0 3 0a1.5 1.5 0 1 0 -3 0M341 152.2a1.5 1.5 0 1 0 3 0a1.5 1.5 0 1 0 -3 0M341.7 194.9a1.5 1.5 0 1 0 3 0a1.5 1.5 0 1 0 -3 0M365.4 185.9a1.5 1.5 0 1 0 3 0a1.5 1.5 0 1 0 -3 0M348.5 198.6a1.5 1.5 0 1 0 3 0a1.5 1.5 0 1 0 -3 0M344.1 198.5a1.5 1.5 0 1 0 3 0a1.5 1.5 0 1 0 -3 0M373.3 177a1.5 1.5 0 1 0 3 0a1.5 1.5 0 1 0 -3 0M365.8 177.9a1.5 1.5 0 1 0 3 0a1.5 1.5 0 1 0 -3 0M376.3 203.1a1.5 1.5 0 1 0 3 0a1.5 1.5 0 1 0 -3 0M396.7 201.5a1.5 1.5 0 1 0 3 0a1.5 1.5 0 1 0 -3 0M346 155.7a1.5 1.5 0 1 0 3 0a1.5 1.5 0 1 0 -3 0M343.9 198.9a1.5 1.5 0 1 0 3 0a1.5 1.5 0 1 0 -3 0M354.1 151.1a1.5 1.5 0 1 0 3 0a1.5 1.5 0 1 0 -3 0M401 215a1.5 1.5 0 1 0 3 0a1.5 1.5 0 1 0 -3 0M342.7 194a1.5 1.5 0 1 0 3 0a1.5 1.5 0 1 0 -3 0M348.2 175.7a1.5 1.5 0 1 0 3 0a1.5 1.5 0 1 0 -3 0M360.4 172.4a1.5 1.5 0 1 0 3 0a1.5 1.5 0 1 0 -3 0M338.6 170.8a1.5 1.5 0 1 0 3 0a1.5 1.5 0 1 0 -3 0M341.5 188.1a1.5 1.5 0 1 0 3 0a1.5 1.5 0 1 0 -3 0M368.5 211.4a1.5 1.5 0 1 0 3 0a1.5 1.5 0 1 0 -3 0M384 205.7a1.5 1.5 0 1 0 3 0a1.5 1.5 0 1 0 -3 0M365.1 201.9a1.5 1.5 0 1 0 3 0a1.5 1.5 0 1 0 -3 0M344.9 159a1.5 1.5 0 1 0 3 0a1.5 1.5 0 1 0 -3 0M341 206.3a1.5 1.5 0 1 0 3 0a1.5 1.5 0 1 0 -3 0M378.9 214.2a1.5 1.5 0 1 0 3 0a1.5 1.5 0 1 0 -3 0M354.9 181.6a1.5 1.5 0 1 0 3 0a1.5 1.5 0 1 0 -3 0M385.3 196.4a1.5 1.5 0 1 0 3 0a1.5 1.5 0 1 0 -3 0M402.6 207.4a1.5 1.5 0 1 0 3 0a1.5 1.5 0 1 0 -3 0M350 175.5a1.5 1.5 0 1 0 3 0a1.5 1.5 0 1 0 -3 0M403.4 186.9a1.5 1.5 0 1 0 3 0a1.5 1.5 0 1 0 -3 0M379.2 207.3a1.5 1.5 0 1 0 3 0a1.5 1.5 0 1 0 -3 0M347 206.9a1.5 1.5 0 1 0 3 0a1.5 1.5 0 1 0 -3 0M361.3 178.8a1.5 1.5 0 1 0 3 0a1.5 1.5 0 1 0 -3 0M387 190.3a1.5 1.5 0 1 0 3 0a1.5 1.5 0 1 0 -3 0M359 196.8a1.5 1.5 0 1 0 3 0a1.5 1.5 0 1 0 -3 0M369.3 190.4a1.5 1.5 0 1 0 3 0a1.5 1.5 0 1 0 -3 0M344 160.1a1.5 1.5 0 1 0 3 0a1.5 1.5 0 1 0 -3 0M400.8 204.4a1.5 1.5 0 1 0 3 0a1.5 1.5 0 1 0 -3 0M384.7 190.1a1.5 1.5 0 1 0 3 0a1.5 1.5 0 1 0 -3 0M374.3 198.4a1.5 1.5 0 1 0 3 0a1.5 1.5 0 1 0 -3 0M345.6 174.3a1.5 1.5 0 1 0 3 0a1.5 1.5 0 1 0 -3 0M377.2 188.3a1.5 1.5 0 1 0 3 0a1.5 1.5 0 1 0 -3 0M387.5 156.5a1.5 1.5 0 1 0 3 0a1.5 1.5 0 1 0 -3 0M347.4 204.5a1.5 1.5 0 1 0 3 0a1.5 1.5 0 1 0 -3 0M343.4 155.8a1.5 1.5 0 1 0 3 0a1.5 1.5 0 1 0 -3 0M358.8 183.3a1.5 1.5 0 1 0 3 0a1.5 1.5 0 1 0 -3 0M403.2 170.8a1.5 1.5 0 1 0 3 0a1.5 1.5 0 1 0 -3 0M362.8 168.3a1.5 1.5 0 1 0 3 0a1.5 1.5 0 1 0 -3 0M357.2 164.9a1.5 1.5 0 1 0 3 0a1.5 1.5 0 1 0 -3 0M401.4 206.2a1.5 1.5 0 1 0 3 0a1.5 1.5 0 1 0 -3 0M379.4 192.9a1.5 1.5 0 1 0 3 0a1.5 1.5 0 1 0 -3 0M341.6 189.8a1.5 1.5 0 1 0 3 0a1.5 1.5 0 1 0 -3 0M368.1 209.9a1.5 1.5 0 1 0 3 0a1.5 1.5 0 1 0 -3 0M403 160.8a1.5 1.5 0 1 0 3 0a1.5 1.5 0 1 0 -3 0M368.4 187.1a1.5 1.5 0 1 0 3 0a1.5 1.5 0 1 0 -3 0M369.7 193a1.5 1.5 0 1 0 3 0a1.5 1.5 0 1 0 -3 0M354.2 179.7a1.5 1.5 0 1 0 3 0a1.5 1.5 0 1 0 -3 0M349.1 205.4a1.5 1.5 0 1 0 3 0a1.5 1.5 0 1 0 -3 0M344.4 213.3a1.5 1.5 0 1 0 3 0a1.5 1.5 0 1 0 -3 0M356.4 164.9a1.5 1.5 0 1 0 3 0a1.5 1.5 0 1 0 -3 0M353.5 173.3a1.5 1.5 0 1 0 3 0a1.5 1.5 0 1 0 -3 0M381.6 202.6a1.5 1.5 0 1 0 3 0a1.5 1.5 0 1 0 -3 0M375.1 209.5a1.5 1.5 0 1 0 3 0a1.5 1.5 0 1 0 -3 0M339.1 194.6a1.5 1.5 0 1 0 3 0a1.5 1.5 0 1 0 -3 0M395.3 153.7a1.5 1.5 0 1 0 3 0a1.5 1.5 0 1 0 -3 0M339.8 161.8a1.5 1.5 0 1 0 3 0a1.5 1.5 0 1 0 -3 0M401.7 209.1a1.5 1.5 0 1 0 3 0a1.5 1.5 0 1 0 -3 0M366.7 203.2a1.5 1.5 0 1 0 3 0a1.5 1.5 0 1 0 -3 0M348.9 213.7a1.5 1.5 0 1 0 3 0a1.5 1.5 0 1 0 -3 0M356.5 209.7a1.5 1.5 0 1 0 3 0a1.5 1.5 0 1 0 -3 0M365.2 209.7a1.5 1.5 0 1 0 3 0a1.5 1.5 0 1 0 -3 0M386.3 208.9a1.5 1.5 0 1 0 3 0a1.5 1.5 0 1 0 -3 0" fill="#F962EE" fill-opacity="0.18" stroke="#F962EE" stroke-opacity="0.34" stroke-width="0.8" filter="url(#f0)"/><path d="M376.3 184.2a1.5 1.5 0 1 0 3 0a1.5 1.5 0 1 0 -3 0M375.9 179.4a1.5 1.5 0 1 0 3 0a1.5 1.5 0 1 0 -3 0M375.1 154.3a1.5 1.5 0 1 0 3 0a1.5 1.5 0 1 0 -3 0M353.2 204a1.5 1.5 0 1 0 3 0a1.5 1.5 0 1 0 -3 0M348.6 184.3a1.5 1.5 0 1 0 3 0a1.5 1.5 0 1 0 -3 0M374.6 179.8a1.5 1.5 0 1 0 3 0a1.5 1.5 0 1 0 -3 0M376.8 207.5a1.5 1.5 0 1 0 3 0a1.5 1.5 0 1 0 -3 0M378.4 212.1a1.5 1.5 0 1 0 3 0a1.5 1.5 0 1 0 -3 0M355.9 188.5a1.5 1.5 0 1 0 3 0a1.5 1.5 0 1 0 -3 0M339.5 172a1.5 1.5 0 1 0 3 0a1.5 1.5 0 1 0 -3 0M342.1 156.5a1.5 1.5 0 1 0 3 0a1.5 1.5 0 1 0 -3 0M378.3 190a1.5 1.5 0 1 0 3 0a1.5 1.5 0 1 0 -3 0M342.8 198.5a1.5 1.5 0 1 0 3 0a1.5 1.5 0 1 0 -3 0M383.3 192a1.5 1.5 0 1 0 3 0a1.5 1.5 0 1 0 -3 0M357.2 171.2a1.5 1.5 0 1 0 3 0a1.5 1.5 0 1 0 -3 0M386.8 202.5a1.5 1.5 0 1 0 3 0a1.5 1.5 0 1 0 -3 0M400.3 202.2a1.5 1.5 0 1 0 3 0a1.5 1.5 0 1 0 -3 0M366.8 214.8a1.5 1.5 0 1 0 3 0a1.5 1.5 0 1 0 -3 0M370.9 187.8a1.5 1.5 0 1 0 3 0a1.5 1.5 0 1 0 -3 0M378.1 200.4a1.5 1.5 0 1 0 3 0a1.5 1.5 0 1 0 -3 0M343.3 210.3a1.5 1.5 0 1 0 3 0a1.5 1.5 0 1 0 -3 0M380.2 206.7a1.5 1.5 0 1 0 3 0a1.5 1.5 0 1 0 -3 0M370.8 196.1a1.5 1.5 0 1 0 3 0a1.5 1.5 0 1 0 -3 0M404 193.6a1.5 1.5 0 1 0 3 0a1.5 1.5 0 1 0 -3 0M347.4 199.4a1.5 1.5 0 1 0 3 0a1.5 1.5 0 1 0 -3 0M344.4 189.6a1.5 1.5 0 1 0 3 0a1.5 1.5 0 1 0 -3 0M381.7 194.1a1.5 1.5 0 1 0 3 0a1.5 1.5 0 1 0 -3 0M392.9 155.2a1.5 1.5 0 1 0 3 0a1.5 1.5 0 1 0 -3 0M380.7 204.2a1.5 1.5 0 1 0 3 0a1.5 1.5 0 1 0 -3 0M355.7 209.6a1.5 1.5 0 1 0 3 0a1.5 1.5 0 1 0 -3 0M346.7 211.2a1.5 1.5 0 1 0 3 0a1.5 1.5 0 1 0 -3 0M374.7 178.5a1.5 1.5 0 1 0 3 0a1.5 1.5 0 1 0 -3 0M352.3 177.5a1.5 1.5 0 1 0 3 0a1.5 1.5 0 1 0 -3 0M365.1 193.1a1.5 1.5 0 1 0 3 0a1.5 1.5 0 1 0 -3 0M359.1 194.7a1.5 1.5 0 1 0 3 0a1.5 1.5 0 1 0 -3 0M357 204.3a1.5 1.5 0 1 0 3 0a1.5 1.5 0 1 0 -3 0M349.7 210.7a1.5 1.5 0 1 0 3 0a1.5 1.5 0 1 0 -3 0M348.2 150.8a1.5 1.5 0 1 0 3 0a1.5 1.5 0 1 0 -3 0M348.9 166.8a1.5 1.5 0 1 0 3 0a1.5 1.5 0 1 0 -3 0M381.5 192.7a1.5 1.5 0 1 0 3 0a1.5 1.5 0 1 0 -3 0" fill="#00B0F6" fill-opacity="0.18" stroke="#00B0F6" stroke-opacity="0.34" stroke-width="0.8" filter="url(#f0)"/><rect x="305.8" y="149.6" width="15.5" height="82.4" fill="#F962EE"/><rect x="321" y="149.6" width="15" height="82.4" fill="#F962EE" fill-opacity="0.8"/><rect x="336" y="149.6" width="3.6" height="82.4" rx="1.8" fill="#F962EE" fill-opacity="0.8"/><rect x="341.8" y="149.6" width="3.6" height="82.4" rx="1.8" fill="#F962EE" fill-opacity="0.75"/><rect x="349.8" y="149.6" width="3.6" height="82.4" rx="1.8" fill="#F962EE" fill-opacity="0.6"/><rect x="357.1" y="149.6" width="3.6" height="82.4" rx="1.8" fill="#F962EE" fill-opacity="0.5"/><rect x="364.4" y="152" width="3.6" height="80" rx="1.8" fill="#F962EE" fill-opacity="0.45"/><rect x="371.7" y="165" width="3.6" height="67" rx="1.8" fill="#F962EE" fill-opacity="0.4"/><rect x="378.4" y="151" width="3.6" height="81" rx="1.8" fill="#F962EE" fill-opacity="0.4"/><path d="M336 180L350 190L368 196L382 200L382 222L336 222Z" fill="#F962EE" fill-opacity="0.5"/><path d="M352.5 169a1.5 1.5 0 1 0 3 0a1.5 1.5 0 1 0 -3 0M333.1 179.4a1.5 1.5 0 1 0 3 0a1.5 1.5 0 1 0 -3 0M346.5 174.7a1.5 1.5 0 1 0 3 0a1.5 1.5 0 1 0 -3 0M327.1 168.3a1.5 1.5 0 1 0 3 0a1.5 1.5 0 1 0 -3 0M324.9 206a1.5 1.5 0 1 0 3 0a1.5 1.5 0 1 0 -3 0M330 180.3a1.5 1.5 0 1 0 3 0a1.5 1.5 0 1 0 -3 0M343.7 159.4a1.5 1.5 0 1 0 3 0a1.5 1.5 0 1 0 -3 0M337.2 157.4a1.5 1.5 0 1 0 3 0a1.5 1.5 0 1 0 -3 0M326.8 192.2a1.5 1.5 0 1 0 3 0a1.5 1.5 0 1 0 -3 0M333.3 195.3a1.5 1.5 0 1 0 3 0a1.5 1.5 0 1 0 -3 0M321.1 170.2a1.5 1.5 0 1 0 3 0a1.5 1.5 0 1 0 -3 0M340.4 192.5a1.5 1.5 0 1 0 3 0a1.5 1.5 0 1 0 -3 0M353.2 177.4a1.5 1.5 0 1 0 3 0a1.5 1.5 0 1 0 -3 0M322.3 179.9a1.5 1.5 0 1 0 3 0a1.5 1.5 0 1 0 -3 0M322.3 202.3a1.5 1.5 0 1 0 3 0a1.5 1.5 0 1 0 -3 0M326.8 163a1.5 1.5 0 1 0 3 0a1.5 1.5 0 1 0 -3 0M335.5 190.9a1.5 1.5 0 1 0 3 0a1.5 1.5 0 1 0 -3 0M335 183.9a1.5 1.5 0 1 0 3 0a1.5 1.5 0 1 0 -3 0M343.4 155.1a1.5 1.5 0 1 0 3 0a1.5 1.5 0 1 0 -3 0M365.5 195.5a1.5 1.5 0 1 0 3 0a1.5 1.5 0 1 0 -3 0M323.8 186a1.5 1.5 0 1 0 3 0a1.5 1.5 0 1 0 -3 0M358.3 164.4a1.5 1.5 0 1 0 3 0a1.5 1.5 0 1 0 -3 0M361.7 175a1.5 1.5 0 1 0 3 0a1.5 1.5 0 1 0 -3 0M349 198.6a1.5 1.5 0 1 0 3 0a1.5 1.5 0 1 0 -3 0M361.9 190.7a1.5 1.5 0 1 0 3 0a1.5 1.5 0 1 0 -3 0M339.4 161.2a1.5 1.5 0 1 0 3 0a1.5 1.5 0 1 0 -3 0M354.7 164.8a1.5 1.5 0 1 0 3 0a1.5 1.5 0 1 0 -3 0M363.2 162.5a1.5 1.5 0 1 0 3 0a1.5 1.5 0 1 0 -3 0M352 211.3a1.5 1.5 0 1 0 3 0a1.5 1.5 0 1 0 -3 0M325.4 206.7a1.5 1.5 0 1 0 3 0a1.5 1.5 0 1 0 -3 0M353.8 180.7a1.5 1.5 0 1 0 3 0a1.5 1.5 0 1 0 -3 0M332.9 210a1.5 1.5 0 1 0 3 0a1.5 1.5 0 1 0 -3 0M330.2 160.3a1.5 1.5 0 1 0 3 0a1.5 1.5 0 1 0 -3 0M362.7 170a1.5 1.5 0 1 0 3 0a1.5 1.5 0 1 0 -3 0M330.1 175.8a1.5 1.5 0 1 0 3 0a1.5 1.5 0 1 0 -3 0M364.5 211a1.5 1.5 0 1 0 3 0a1.5 1.5 0 1 0 -3 0M331.4 189.8a1.5 1.5 0 1 0 3 0a1.5 1.5 0 1 0 -3 0M356.1 180.7a1.5 1.5 0 1 0 3 0a1.5 1.5 0 1 0 -3 0M364.3 163.3a1.5 1.5 0 1 0 3 0a1.5 1.5 0 1 0 -3 0M361 176.5a1.5 1.5 0 1 0 3 0a1.5 1.5 0 1 0 -3 0M356.7 195a1.5 1.5 0 1 0 3 0a1.5 1.5 0 1 0 -3 0M362.3 164.2a1.5 1.5 0 1 0 3 0a1.5 1.5 0 1 0 -3 0M344.7 189.9a1.5 1.5 0 1 0 3 0a1.5 1.5 0 1 0 -3 0M325.3 183a1.5 1.5 0 1 0 3 0a1.5 1.5 0 1 0 -3 0M329.4 164.8a1.5 1.5 0 1 0 3 0a1.5 1.5 0 1 0 -3 0M356.6 181.7a1.5 1.5 0 1 0 3 0a1.5 1.5 0 1 0 -3 0M358.5 195.8a1.5 1.5 0 1 0 3 0a1.5 1.5 0 1 0 -3 0M326.9 187.9a1.5 1.5 0 1 0 3 0a1.5 1.5 0 1 0 -3 0M358.2 184.2a1.5 1.5 0 1 0 3 0a1.5 1.5 0 1 0 -3 0M328.9 192.5a1.5 1.5 0 1 0 3 0a1.5 1.5 0 1 0 -3 0M366.1 196.6a1.5 1.5 0 1 0 3 0a1.5 1.5 0 1 0 -3 0M352 203.9a1.5 1.5 0 1 0 3 0a1.5 1.5 0 1 0 -3 0M342.8 195.5a1.5 1.5 0 1 0 3 0a1.5 1.5 0 1 0 -3 0M358.6 198.3a1.5 1.5 0 1 0 3 0a1.5 1.5 0 1 0 -3 0M354.9 209.3a1.5 1.5 0 1 0 3 0a1.5 1.5 0 1 0 -3 0M343.2 158.7a1.5 1.5 0 1 0 3 0a1.5 1.5 0 1 0 -3 0M342 191.3a1.5 1.5 0 1 0 3 0a1.5 1.5 0 1 0 -3 0M334.3 174.8a1.5 1.5 0 1 0 3 0a1.5 1.5 0 1 0 -3 0M353.2 156.8a1.5 1.5 0 1 0 3 0a1.5 1.5 0 1 0 -3 0M329.7 177.3a1.5 1.5 0 1 0 3 0a1.5 1.5 0 1 0 -3 0M365.9 201.8a1.5 1.5 0 1 0 3 0a1.5 1.5 0 1 0 -3 0M363.8 209.7a1.5 1.5 0 1 0 3 0a1.5 1.5 0 1 0 -3 0M333.7 173a1.5 1.5 0 1 0 3 0a1.5 1.5 0 1 0 -3 0M334 206.8a1.5 1.5 0 1 0 3 0a1.5 1.5 0 1 0 -3 0M345.8 171.9a1.5 1.5 0 1 0 3 0a1.5 1.5 0 1 0 -3 0M366.1 184.4a1.5 1.5 0 1 0 3 0a1.5 1.5 0 1 0 -3 0M339.8 163a1.5 1.5 0 1 0 3 0a1.5 1.5 0 1 0 -3 0M339.9 192.6a1.5 1.5 0 1 0 3 0a1.5 1.5 0 1 0 -3 0M344.4 173.2a1.5 1.5 0 1 0 3 0a1.5 1.5 0 1 0 -3 0M359.3 167.8a1.5 1.5 0 1 0 3 0a1.5 1.5 0 1 0 -3 0M343.2 210.7a1.5 1.5 0 1 0 3 0a1.5 1.5 0 1 0 -3 0M328.2 159.1a1.5 1.5 0 1 0 3 0a1.5 1.5 0 1 0 -3 0M328.4 157.3a1.5 1.5 0 1 0 3 0a1.5 1.5 0 1 0 -3 0M345.5 208a1.5 1.5 0 1 0 3 0a1.5 1.5 0 1 0 -3 0M361.3 208.5a1.5 1.5 0 1 0 3 0a1.5 1.5 0 1 0 -3 0M339.7 155.8a1.5 1.5 0 1 0 3 0a1.5 1.5 0 1 0 -3 0M326 206.3a1.5 1.5 0 1 0 3 0a1.5 1.5 0 1 0 -3 0M328.8 209a1.5 1.5 0 1 0 3 0a1.5 1.5 0 1 0 -3 0M331 181a1.5 1.5 0 1 0 3 0a1.5 1.5 0 1 0 -3 0M352.9 197.7a1.5 1.5 0 1 0 3 0a1.5 1.5 0 1 0 -3 0M353.1 211a1.5 1.5 0 1 0 3 0a1.5 1.5 0 1 0 -3 0M358.9 199.4a1.5 1.5 0 1 0 3 0a1.5 1.5 0 1 0 -3 0M321.8 160.4a1.5 1.5 0 1 0 3 0a1.5 1.5 0 1 0 -3 0M361.3 190.8a1.5 1.5 0 1 0 3 0a1.5 1.5 0 1 0 -3 0M347.3 194.6a1.5 1.5 0 1 0 3 0a1.5 1.5 0 1 0 -3 0M328.6 210.4a1.5 1.5 0 1 0 3 0a1.5 1.5 0 1 0 -3 0M334.1 170.6a1.5 1.5 0 1 0 3 0a1.5 1.5 0 1 0 -3 0M349.1 165.2a1.5 1.5 0 1 0 3 0a1.5 1.5 0 1 0 -3 0M353.5 182.8a1.5 1.5 0 1 0 3 0a1.5 1.5 0 1 0 -3 0M351.4 172.2a1.5 1.5 0 1 0 3 0a1.5 1.5 0 1 0 -3 0" fill="#00B0F6" fill-opacity="0.21" stroke="#00B0F6" stroke-opacity="0.39" stroke-width="0.8" filter="url(#f0)"/><path d="M305 222L306.5 221.9L308 221.8L309.5 221.6L311 221.4L312.5 221.2L314 220.9L315.5 220.7L317 220.4L318.5 220.2L320 220L321.5 219.8L323 219.7L324.5 219.6L326 219.5L327.5 219.4L329 219.4L330.5 219.3L332 219.3L333.5 219.2L335 219.2L336.5 219.1L338 219.1L339.5 219L341 219L342.5 219L344 218.9L345.5 218.9L347 218.9L348.5 218.8L350 218.8L351.5 218.7L353 218.7L354.5 218.6L356 218.6L357.5 218.5L359 218.4L360.5 218.3L362 218.3L363.5 218.2L365 218.1L366.5 217.9L368 217.8L369.5 217.7L371 217.5L372.5 217.4L374 217.2L375.5 217.1L377 216.9L378.5 216.7L380 216.5L381.5 216.2L382 216.2L382 230.4L381.5 230.4L380 230.4L378.5 230.4L377 230.4L375.5 230.4L374 230.4L372.5 230.4L371 230.4L369.5 230.4L368 230.4L366.5 230.4L365 230.4L363.5 230.4L362 230.4L360.5 230.4L359 230.4L357.5 230.4L356 230.4L354.5 230.4L353 230.4L351.5 230.4L350 230.4L348.5 230.4L347 230.4L345.5 230.4L344 230.4L342.5 230.4L341 230.4L339.5 230.4L338 230.4L336.5 230.4L335 230.4L333.5 230.4L332 230.4L330.5 230.4L329 230.4L327.5 230.4L326 230.4L324.5 230.4L323 230.4L321.5 230.4L320 230.4L318.5 230.4L317 230.4L315.5 230.4L314 230.4L312.5 230.4L311 230.4L309.5 230.4L308 230.4L306.5 230.4L305 230.4Z" fill="#00B0F6" fill-opacity="0.9"/><path d="M305 224.1L306.5 224.1L308 224.1L309.5 224.1L311 224.1L312.5 224.1L314 224.1L315.5 224.1L317 224.1L318.5 224.1L320 224.1L321.5 224.1L323 224.1L324.5 224.1L326 224.1L327.5 224.1L329 224.1L330.5 224.1L332 224.1L333.5 224.1L335 224.1L336.5 224.1L338 224.1L339.5 224.1L341 224.1L342.5 224.1L344 224.1L345.5 224.1L347 224.1L348.5 224.1L350 224.1L351.5 224.1L353 224.1L354.5 224.1L356 224.1L357.5 224.1L359 224.1L360.5 224.1L362 224.1L363.5 224.1L365 224L366.5 224L368 223.9L369.5 223.9L371 223.8L372.5 223.7L374 223.6L375.5 223.5L377 223.4L378.5 223.3L380 223.2L381.5 223L382 223L382 230.4L381.5 230.4L380 230.4L378.5 230.4L377 230.4L375.5 230.4L374 230.4L372.5 230.4L371 230.4L369.5 230.4L368 230.4L366.5 230.4L365 230.4L363.5 230.4L362 230.4L360.5 230.4L359 230.4L357.5 230.4L356 230.4L354.5 230.4L353 230.4L351.5 230.4L350 230.4L348.5 230.4L347 230.4L345.5 230.4L344 230.4L342.5 230.4L341 230.4L339.5 230.4L338 230.4L336.5 230.4L335 230.4L333.5 230.4L332 230.4L330.5 230.4L329 230.4L327.5 230.4L326 230.4L324.5 230.4L323 230.4L321.5 230.4L320 230.4L318.5 230.4L317 230.4L315.5 230.4L314 230.4L312.5 230.4L311 230.4L309.5 230.4L308 230.4L306.5 230.4L305 230.4Z" fill="#00BF7D" fill-opacity="0.9"/><path d="M305 227.7L306.5 227.7L308 227.7L309.5 227.7L311 227.7L312.5 227.7L314 227.7L315.5 227.7L317 227.7L318.5 227.7L320 227.7L321.5 227.7L323 227.7L324.5 227.7L326 227.7L327.5 227.7L329 227.7L330.5 227.7L332 227.7L333.5 227.7L335 227.7L336.5 227.7L338 227.7L339.5 227.7L341 227.7L342.5 227.7L344 227.7L345.5 227.7L347 227.7L348.5 227.7L350 227.7L351.5 227.7L353 227.7L354.5 227.7L356 227.7L357.5 227.7L359 227.7L360.5 227.7L362 227.7L363.5 227.6L365 227.6L366.5 227.6L368 227.5L369.5 227.5L371 227.4L372.5 227.4L374 227.3L375.5 227.2L377 227.1L378.5 227.1L380 227L381.5 226.9L382 226.8L382 230.4L381.5 230.4L380 230.4L378.5 230.4L377 230.4L375.5 230.4L374 230.4L372.5 230.4L371 230.4L369.5 230.4L368 230.4L366.5 230.4L365 230.4L363.5 230.4L362 230.4L360.5 230.4L359 230.4L357.5 230.4L356 230.4L354.5 230.4L353 230.4L351.5 230.4L350 230.4L348.5 230.4L347 230.4L345.5 230.4L344 230.4L342.5 230.4L341 230.4L339.5 230.4L338 230.4L336.5 230.4L335 230.4L333.5 230.4L332 230.4L330.5 230.4L329 230.4L327.5 230.4L326 230.4L324.5 230.4L323 230.4L321.5 230.4L320 230.4L318.5 230.4L317 230.4L315.5 230.4L314 230.4L312.5 230.4L311 230.4L309.5 230.4L308 230.4L306.5 230.4L305 230.4Z" fill="#A3A500" fill-opacity="0.75"/><path d="M305 229.5L306.5 229.5L308 229.5L309.5 229.5L311 229.5L312.5 229.5L314 229.5L315.5 229.5L317 229.5L318.5 229.5L320 229.5L321.5 229.5L323 229.5L324.5 229.5L326 229.5L327.5 229.5L329 229.5L330.5 229.5L332 229.5L333.5 229.5L335 229.5L336.5 229.5L338 229.5L339.5 229.5L341 229.5L342.5 229.5L344 229.5L345.5 229.5L347 229.5L348.5 229.5L350 229.5L351.5 229.5L353 229.5L354.5 229.5L356 229.5L357.5 229.5L359 229.5L360.5 229.5L362 229.5L363.5 229.4L365 229.4L366.5 229.4L368 229.3L369.5 229.3L371 229.2L372.5 229.2L374 229.1L375.5 229L377 228.9L378.5 228.9L380 228.8L381.5 228.7L382 228.6L382 230.4L381.5 230.4L380 230.4L378.5 230.4L377 230.4L375.5 230.4L374 230.4L372.5 230.4L371 230.4L369.5 230.4L368 230.4L366.5 230.4L365 230.4L363.5 230.4L362 230.4L360.5 230.4L359 230.4L357.5 230.4L356 230.4L354.5 230.4L353 230.4L351.5 230.4L350 230.4L348.5 230.4L347 230.4L345.5 230.4L344 230.4L342.5 230.4L341 230.4L339.5 230.4L338 230.4L336.5 230.4L335 230.4L333.5 230.4L332 230.4L330.5 230.4L329 230.4L327.5 230.4L326 230.4L324.5 230.4L323 230.4L321.5 230.4L320 230.4L318.5 230.4L317 230.4L315.5 230.4L314 230.4L312.5 230.4L311 230.4L309.5 230.4L308 230.4L306.5 230.4L305 230.4Z" fill="#F8766D" fill-opacity="0.85"/><rect x="386.2" y="214.7" width="3.5" height="7.6" rx="1.8" fill="#00B0F6" fill-opacity="0.45"/><rect x="386.2" y="222.3" width="3.5" height="4.2" rx="1.8" fill="#00BF7D" fill-opacity="0.45"/><rect x="386.2" y="226.5" width="3.5" height="1.6" rx="0.8" fill="#A3A500" fill-opacity="0.36000000000000004"/><rect x="386.2" y="228.1" width="3.5" height="2.3" rx="1.2" fill="#F8766D" fill-opacity="0.45"/><rect x="393.2" y="211.8" width="3.5" height="9.1" rx="1.8" fill="#00B0F6" fill-opacity="0.45"/><rect x="393.2" y="220.9" width="3.5" height="4.8" rx="1.8" fill="#00BF7D" fill-opacity="0.45"/><rect x="393.2" y="225.7" width="3.5" height="1.6" rx="0.8" fill="#A3A500" fill-opacity="0.36000000000000004"/><rect x="393.2" y="227.3" width="3.5" height="3.1" rx="1.6" fill="#F8766D" fill-opacity="0.45"/><rect x="400.2" y="208.4" width="3.5" height="10.8" rx="1.8" fill="#00B0F6" fill-opacity="0.45"/><rect x="400.2" y="219.2" width="3.5" height="5.4" rx="1.8" fill="#00BF7D" fill-opacity="0.45"/><rect x="400.2" y="224.6" width="3.5" height="1.6" rx="0.8" fill="#A3A500" fill-opacity="0.36000000000000004"/><rect x="400.2" y="226.2" width="3.5" height="4.2" rx="1.8" fill="#F8766D" fill-opacity="0.45"/><rect x="406.2" y="205.7" width="3.5" height="12.2" rx="1.8" fill="#00B0F6" fill-opacity="0.45"/><rect x="406.2" y="217.9" width="3.5" height="5.9" rx="1.8" fill="#00BF7D" fill-opacity="0.45"/><rect x="406.2" y="223.7" width="3.5" height="1.6" rx="0.8" fill="#A3A500" fill-opacity="0.36000000000000004"/><rect x="406.2" y="225.3" width="3.5" height="5.1" rx="1.8" fill="#F8766D" fill-opacity="0.45"/><rect x="294.2" y="149.6" width="3.6" height="70" rx="1.8" fill="#F962EE" fill-opacity="0.95"/><rect x="294.2" y="219.6" width="3.6" height="4.5" rx="1.8" fill="#00B0F6" fill-opacity="0.9"/><rect x="294.2" y="224.1" width="3.6" height="3.5" rx="1.8" fill="#00BF7D" fill-opacity="0.9"/><rect x="294.2" y="227.7" width="3.6" height="1.6" rx="0.8" fill="#A3A500" fill-opacity="0.7200000000000001"/><rect x="294.2" y="229.3" width="3.6" height="1.1" rx="0.6" fill="#F8766D" fill-opacity="0.9"/><path d="M296.3 202.3L302.2 207" stroke="#F962EE" stroke-width="1.75" fill="none" stroke-linejoin="round" stroke-linecap="round"/><path d="M351.8 202.3L353.3 202.2L354.9 202.1L356.4 202.1L357.9 202L359.5 202L361 202L362.5 201.9L364.1 201.9L365.6 201.8L367.1 201.8L368.6 201.7L370.2 201.6L371.7 201.5L373.2 201.4L374.8 201.3L376.3 201.2L377.8 201.1L379.5 200.8L381.2 200.2L382.9 199.5L384.6 198.6L386.3 197.5L387.9 196.4L389.6 195.2L391.2 193.9L392.8 192.3L394.4 190.5L395.9 188.5L397.5 186.5L399.1 184.5L400.7 182.5L402.2 180.4L403.8 178.2L405.4 176L407 173.7L408.5 171.5" stroke="#F962EE" stroke-width="1.75" fill="none" stroke-linejoin="round" stroke-linecap="round"/><path d="M296.3 210.5L297.9 211.4L299.6 212.3L301.2 213.2L302.9 213.8L304.5 214.1L306.3 213.7L308.1 212.9L309.9 212.1L311.6 211.7L313.2 211.7L314.8 211.7L316.4 211.7L317.9 211.7L319.5 211.7L321.1 211.7L322.7 211.7L324.2 211.7L325.8 211.7L327.4 211.7L329 211.7L330.5 211.7L332.1 211.7L333.7 211.7L335.3 211.7L336.8 211.7L338.4 211.7L340 211.6L341.6 211.6L343.2 211.5L344.7 211.4L346.3 211.3L347.9 211.3L349.5 211.2L351 211L352.6 210.9L354.2 210.8L355.8 210.7L357.3 210.6L358.9 210.5L360.5 210.5L362.1 210.4L363.6 210.3L365.2 210.2L366.8 210.2L368.4 210.1L369.9 210L371.5 209.9L373.1 209.8L374.7 209.7L376.2 209.5L377.8 209.4L379.4 209.1L381 208.7L382.5 208.1L384.1 207.5L385.7 206.7L387.3 205.9L388.8 205.1L390.4 204.3L392 203.5L393.5 202.7L395 201.8L396.5 200.9L398 199.9L399.5 198.9L401 197.9L402.5 196.9L404 195.8L405.5 194.8L407 193.8L408.5 192.8" stroke="#00B0F6" stroke-width="1.75" fill="none" stroke-linejoin="round" stroke-linecap="round"/><path d="M296.3 218.8L297.9 219.4L299.6 220L301.2 220.6L302.9 221L304.5 221.2L306.1 221.1L307.7 221L309.3 220.9L310.8 220.6L312.4 220.4L314 220.1L315.6 219.9L317.2 219.6L318.7 219.3L320.3 219.1L321.9 218.9L323.5 218.8L325 218.7L326.5 218.7L328.1 218.6L329.6 218.5L331.2 218.5L332.7 218.4L334.2 218.4L335.8 218.3L337.3 218.3L338.9 218.3L340.4 218.2L342 218.2L343.5 218.2L345 218.1L346.6 218.1L348.1 218L349.7 218L351.2 218L352.7 217.9L354.3 217.8L355.8 217.8L357.4 217.7L358.9 217.6L360.5 217.6L362.1 217.5L363.6 217.4L365.2 217.2L366.8 217.1L368.4 217L369.9 216.8L371.5 216.7L373.1 216.5L374.7 216.4L376.2 216.2L377.8 216L379.4 215.7L381 215.5L382.5 215.3L384.1 215L385.6 214.6L387.1 214.2L388.7 213.7L390.2 213.1L391.7 212.5L393.3 211.8L394.8 211.1L396.3 210.4L397.8 209.7L399.4 208.9L400.9 208.2L402.4 207.4L404 206.7L405.5 206L407 205.3L408.5 204.6" stroke="#00BF7D" stroke-width="1.75" fill="none" stroke-linejoin="round" stroke-linecap="round"/><path d="M296.3 223.5L297.8 223.5L299.3 223.5L300.9 223.5L302.4 223.5L303.9 223.5L305.4 223.5L307 223.5L308.5 223.5L310 223.5L311.5 223.5L313.1 223.5L314.6 223.5L316.1 223.5L317.7 223.5L319.2 223.5L320.7 223.5L322.2 223.5L323.8 223.5L325.3 223.5L326.8 223.5L328.4 223.5L329.9 223.5L331.4 223.5L332.9 223.5L334.5 223.5L336 223.5L337.5 223.5L339 223.5L340.6 223.5L342.1 223.5L343.6 223.5L345.2 223.5L346.7 223.5L348.2 223.5L349.7 223.5L351.3 223.5L352.8 223.5L354.3 223.5L355.9 223.5L357.4 223.5L358.9 223.5L360.5 223.5L362.1 223.5L363.6 223.5L365.2 223.4L366.8 223.4L368.4 223.3L369.9 223.2L371.5 223.1L373.1 223L374.7 222.9L376.2 222.8L377.8 222.7L379.4 222.6L381 222.5L382.5 222.4L384.1 222.2L385.6 222L387.1 221.8L388.7 221.6L390.2 221.3L391.7 221L393.3 220.7L394.8 220.3L396.3 220L397.8 219.6L399.4 219.3L400.9 218.9L402.4 218.5L404 218.2L405.5 217.8L407 217.5L408.5 217.2" stroke="#A3A500" stroke-width="1.75" fill="none" stroke-linejoin="round" stroke-linecap="round"/><path d="M296.3 227.1L297.8 227.1L299.3 227.1L300.9 227.1L302.4 227.1L303.9 227.1L305.4 227.1L307 227.1L308.5 227.1L310 227.1L311.5 227.1L313.1 227.1L314.6 227.1L316.1 227.1L317.7 227.1L319.2 227.1L320.7 227.1L322.2 227.1L323.8 227.1L325.3 227.1L326.8 227.1L328.4 227.1L329.9 227.1L331.4 227.1L332.9 227.1L334.5 227.1L336 227.1L337.5 227.1L339 227.1L340.6 227.1L342.1 227.1L343.6 227.1L345.2 227.1L346.7 227.1L348.2 227.1L349.7 227.1L351.3 227.1L352.8 227.1L354.3 227.1L355.9 227.1L357.4 227.1L358.9 227.1L360.5 227.1L362.1 227.1L363.6 227L365.2 227L366.8 227L368.4 226.9L369.9 226.9L371.5 226.8L373.1 226.7L374.7 226.7L376.2 226.6L377.8 226.5L379.4 226.4L381 226.3L382.5 226.2L384.1 226.1L385.7 226L387.3 225.9L388.8 225.8L390.3 225.7L391.8 225.5L393.4 225.3L394.9 225.1L396.4 224.9L397.9 224.7L399.4 224.4L400.9 224.2L402.5 224L404 223.7L405.5 223.5L407 223.3L408.5 223.1" stroke="#F8766D" stroke-width="1.75" fill="none" stroke-linejoin="round" stroke-linecap="round"/>
</g>
<rect x="289.7" y="129.3" width="124" height="16" fill="#D9D9D9"/>
<text x="351.7" y="141.6" class="st">v_femalepct</text>
<text x="295.8" y="246.9" class="tx">0.0</text>
<text x="329.7" y="246.9" class="tx">0.2</text>
<text x="363.7" y="246.9" class="tx">0.4</text>
<text x="397.6" y="246.9" class="tx">0.6</text>
<path d="M295.8 233.3v2.9M329.7 233.3v2.9M363.7 233.3v2.9M397.6 233.3v2.9" stroke="#333333" stroke-width="1.05" fill="none"/>
<rect x="419" y="145.3" width="124" height="88" fill="#EBEBEB"/>
<path d="M441.1 145.3V233.3M472.6 145.3V233.3M504.1 145.3V233.3M535.7 145.3V233.3M419 228.4H543M419 206.2H543M419 184.1H543M419 162H543" stroke="#F7F7F7" stroke-width="0.55" fill="none"/>
<path d="M425.3 145.3V233.3M456.8 145.3V233.3M488.4 145.3V233.3M519.9 145.3V233.3M419 217.3H543M419 195.2H543M419 173H543M419 150.9H543" stroke="#FFFFFF" stroke-width="1.05" fill="none"/>
<g clip-path="url(#c7)">
<path d="M455.6 187.2a1.5 1.5 0 1 0 3 0a1.5 1.5 0 1 0 -3 0M449.6 162a1.5 1.5 0 1 0 3 0a1.5 1.5 0 1 0 -3 0M456.4 165.6a1.5 1.5 0 1 0 3 0a1.5 1.5 0 1 0 -3 0M470 201.2a1.5 1.5 0 1 0 3 0a1.5 1.5 0 1 0 -3 0M473.4 185a1.5 1.5 0 1 0 3 0a1.5 1.5 0 1 0 -3 0M477.7 207.4a1.5 1.5 0 1 0 3 0a1.5 1.5 0 1 0 -3 0M461.2 176.1a1.5 1.5 0 1 0 3 0a1.5 1.5 0 1 0 -3 0M473.7 176.3a1.5 1.5 0 1 0 3 0a1.5 1.5 0 1 0 -3 0M450.9 212.5a1.5 1.5 0 1 0 3 0a1.5 1.5 0 1 0 -3 0M457.3 192.7a1.5 1.5 0 1 0 3 0a1.5 1.5 0 1 0 -3 0M479.5 189.8a1.5 1.5 0 1 0 3 0a1.5 1.5 0 1 0 -3 0M478.4 152.5a1.5 1.5 0 1 0 3 0a1.5 1.5 0 1 0 -3 0M456.1 196a1.5 1.5 0 1 0 3 0a1.5 1.5 0 1 0 -3 0M456.7 198.8a1.5 1.5 0 1 0 3 0a1.5 1.5 0 1 0 -3 0M457.9 176.2a1.5 1.5 0 1 0 3 0a1.5 1.5 0 1 0 -3 0M466.2 154.5a1.5 1.5 0 1 0 3 0a1.5 1.5 0 1 0 -3 0M462.8 180.7a1.5 1.5 0 1 0 3 0a1.5 1.5 0 1 0 -3 0M478.3 196.5a1.5 1.5 0 1 0 3 0a1.5 1.5 0 1 0 -3 0M460.7 166.9a1.5 1.5 0 1 0 3 0a1.5 1.5 0 1 0 -3 0M463.7 199.9a1.5 1.5 0 1 0 3 0a1.5 1.5 0 1 0 -3 0M470.3 170.1a1.5 1.5 0 1 0 3 0a1.5 1.5 0 1 0 -3 0M468.3 175.5a1.5 1.5 0 1 0 3 0a1.5 1.5 0 1 0 -3 0M456 199a1.5 1.5 0 1 0 3 0a1.5 1.5 0 1 0 -3 0M460.3 199.4a1.5 1.5 0 1 0 3 0a1.5 1.5 0 1 0 -3 0M477.2 160a1.5 1.5 0 1 0 3 0a1.5 1.5 0 1 0 -3 0M476.8 164.4a1.5 1.5 0 1 0 3 0a1.5 1.5 0 1 0 -3 0M455 187.5a1.5 1.5 0 1 0 3 0a1.5 1.5 0 1 0 -3 0M451.9 164.6a1.5 1.5 0 1 0 3 0a1.5 1.5 0 1 0 -3 0M463.2 192.8a1.5 1.5 0 1 0 3 0a1.5 1.5 0 1 0 -3 0M469.7 176.6a1.5 1.5 0 1 0 3 0a1.5 1.5 0 1 0 -3 0M448.1 179.1a1.5 1.5 0 1 0 3 0a1.5 1.5 0 1 0 -3 0M478.3 178.4a1.5 1.5 0 1 0 3 0a1.5 1.5 0 1 0 -3 0M454.7 165.1a1.5 1.5 0 1 0 3 0a1.5 1.5 0 1 0 -3 0M448.4 196a1.5 1.5 0 1 0 3 0a1.5 1.5 0 1 0 -3 0M460.6 164.9a1.5 1.5 0 1 0 3 0a1.5 1.5 0 1 0 -3 0M449.5 150.2a1.5 1.5 0 1 0 3 0a1.5 1.5 0 1 0 -3 0M466.7 176.4a1.5 1.5 0 1 0 3 0a1.5 1.5 0 1 0 -3 0M469 163.1a1.5 1.5 0 1 0 3 0a1.5 1.5 0 1 0 -3 0M478.3 173a1.5 1.5 0 1 0 3 0a1.5 1.5 0 1 0 -3 0M475.4 174.8a1.5 1.5 0 1 0 3 0a1.5 1.5 0 1 0 -3 0M447.9 209.6a1.5 1.5 0 1 0 3 0a1.5 1.5 0 1 0 -3 0M463.7 197.1a1.5 1.5 0 1 0 3 0a1.5 1.5 0 1 0 -3 0M449.5 194.5a1.5 1.5 0 1 0 3 0a1.5 1.5 0 1 0 -3 0M457.6 154.9a1.5 1.5 0 1 0 3 0a1.5 1.5 0 1 0 -3 0M466.9 191.8a1.5 1.5 0 1 0 3 0a1.5 1.5 0 1 0 -3 0M456.6 172.1a1.5 1.5 0 1 0 3 0a1.5 1.5 0 1 0 -3 0" fill="#00B0F6" fill-opacity="0.18" stroke="#00B0F6" stroke-opacity="0.34" stroke-width="0.8" filter="url(#f0)"/><path d="M463.4 169.8a1.5 1.5 0 1 0 3 0a1.5 1.5 0 1 0 -3 0M461.5 184.8a1.5 1.5 0 1 0 3 0a1.5 1.5 0 1 0 -3 0M455.8 188a1.5 1.5 0 1 0 3 0a1.5 1.5 0 1 0 -3 0M475.4 162.2a1.5 1.5 0 1 0 3 0a1.5 1.5 0 1 0 -3 0M477.9 197a1.5 1.5 0 1 0 3 0a1.5 1.5 0 1 0 -3 0M455.6 157.3a1.5 1.5 0 1 0 3 0a1.5 1.5 0 1 0 -3 0M461.8 202.6a1.5 1.5 0 1 0 3 0a1.5 1.5 0 1 0 -3 0M467.7 175.6a1.5 1.5 0 1 0 3 0a1.5 1.5 0 1 0 -3 0M474.1 209a1.5 1.5 0 1 0 3 0a1.5 1.5 0 1 0 -3 0M475.3 196.9a1.5 1.5 0 1 0 3 0a1.5 1.5 0 1 0 -3 0M453 164a1.5 1.5 0 1 0 3 0a1.5 1.5 0 1 0 -3 0M467.6 200.2a1.5 1.5 0 1 0 3 0a1.5 1.5 0 1 0 -3 0M473.8 212.5a1.5 1.5 0 1 0 3 0a1.5 1.5 0 1 0 -3 0M458.8 174.4a1.5 1.5 0 1 0 3 0a1.5 1.5 0 1 0 -3 0M463.8 174.9a1.5 1.5 0 1 0 3 0a1.5 1.5 0 1 0 -3 0M470.1 209.9a1.5 1.5 0 1 0 3 0a1.5 1.5 0 1 0 -3 0M447.9 175.6a1.5 1.5 0 1 0 3 0a1.5 1.5 0 1 0 -3 0M456 174.7a1.5 1.5 0 1 0 3 0a1.5 1.5 0 1 0 -3 0M476.5 208.8a1.5 1.5 0 1 0 3 0a1.5 1.5 0 1 0 -3 0M472.1 168.6a1.5 1.5 0 1 0 3 0a1.5 1.5 0 1 0 -3 0M449.7 159.6a1.5 1.5 0 1 0 3 0a1.5 1.5 0 1 0 -3 0M476.6 165.8a1.5 1.5 0 1 0 3 0a1.5 1.5 0 1 0 -3 0M478.8 159.9a1.5 1.5 0 1 0 3 0a1.5 1.5 0 1 0 -3 0M448.4 194.3a1.5 1.5 0 1 0 3 0a1.5 1.5 0 1 0 -3 0M455.4 207.6a1.5 1.5 0 1 0 3 0a1.5 1.5 0 1 0 -3 0M476 159.5a1.5 1.5 0 1 0 3 0a1.5 1.5 0 1 0 -3 0M449.5 195.8a1.5 1.5 0 1 0 3 0a1.5 1.5 0 1 0 -3 0M477.6 177.2a1.5 1.5 0 1 0 3 0a1.5 1.5 0 1 0 -3 0M473.3 161.4a1.5 1.5 0 1 0 3 0a1.5 1.5 0 1 0 -3 0M455.9 192.8a1.5 1.5 0 1 0 3 0a1.5 1.5 0 1 0 -3 0M447.9 209.2a1.5 1.5 0 1 0 3 0a1.5 1.5 0 1 0 -3 0M453.1 159.6a1.5 1.5 0 1 0 3 0a1.5 1.5 0 1 0 -3 0M455.4 175.8a1.5 1.5 0 1 0 3 0a1.5 1.5 0 1 0 -3 0M468.4 158a1.5 1.5 0 1 0 3 0a1.5 1.5 0 1 0 -3 0M469.4 178.6a1.5 1.5 0 1 0 3 0a1.5 1.5 0 1 0 -3 0M474.3 172.8a1.5 1.5 0 1 0 3 0a1.5 1.5 0 1 0 -3 0M453.9 175.3a1.5 1.5 0 1 0 3 0a1.5 1.5 0 1 0 -3 0M449.4 177.7a1.5 1.5 0 1 0 3 0a1.5 1.5 0 1 0 -3 0M454.7 202.5a1.5 1.5 0 1 0 3 0a1.5 1.5 0 1 0 -3 0M479.5 211.8a1.5 1.5 0 1 0 3 0a1.5 1.5 0 1 0 -3 0M461.9 159a1.5 1.5 0 1 0 3 0a1.5 1.5 0 1 0 -3 0M459.9 171.5a1.5 1.5 0 1 0 3 0a1.5 1.5 0 1 0 -3 0M472.2 180a1.5 1.5 0 1 0 3 0a1.5 1.5 0 1 0 -3 0M464.4 175.6a1.5 1.5 0 1 0 3 0a1.5 1.5 0 1 0 -3 0M467.5 164.2a1.5 1.5 0 1 0 3 0a1.5 1.5 0 1 0 -3 0M451.4 152.2a1.5 1.5 0 1 0 3 0a1.5 1.5 0 1 0 -3 0M465.2 150.5a1.5 1.5 0 1 0 3 0a1.5 1.5 0 1 0 -3 0M459 188.9a1.5 1.5 0 1 0 3 0a1.5 1.5 0 1 0 -3 0M464.5 159.6a1.5 1.5 0 1 0 3 0a1.5 1.5 0 1 0 -3 0M461.2 198.1a1.5 1.5 0 1 0 3 0a1.5 1.5 0 1 0 -3 0M461.7 182.7a1.5 1.5 0 1 0 3 0a1.5 1.5 0 1 0 -3 0M471 203a1.5 1.5 0 1 0 3 0a1.5 1.5 0 1 0 -3 0M449 150.6a1.5 1.5 0 1 0 3 0a1.5 1.5 0 1 0 -3 0M471.7 160.4a1.5 1.5 0 1 0 3 0a1.5 1.5 0 1 0 -3 0M471 184.7a1.5 1.5 0 1 0 3 0a1.5 1.5 0 1 0 -3 0M458.3 186.8a1.5 1.5 0 1 0 3 0a1.5 1.5 0 1 0 -3 0M462.7 192.6a1.5 1.5 0 1 0 3 0a1.5 1.5 0 1 0 -3 0M451.7 150.6a1.5 1.5 0 1 0 3 0a1.5 1.5 0 1 0 -3 0M464.6 211.7a1.5 1.5 0 1 0 3 0a1.5 1.5 0 1 0 -3 0M449.3 160.3a1.5 1.5 0 1 0 3 0a1.5 1.5 0 1 0 -3 0M457 206.7a1.5 1.5 0 1 0 3 0a1.5 1.5 0 1 0 -3 0M459 203.1a1.5 1.5 0 1 0 3 0a1.5 1.5 0 1 0 -3 0M458.6 202.4a1.5 1.5 0 1 0 3 0a1.5 1.5 0 1 0 -3 0M467.7 172.2a1.5 1.5 0 1 0 3 0a1.5 1.5 0 1 0 -3 0M467.5 168.7a1.5 1.5 0 1 0 3 0a1.5 1.5 0 1 0 -3 0M471.7 164.4a1.5 1.5 0 1 0 3 0a1.5 1.5 0 1 0 -3 0M458.1 174.7a1.5 1.5 0 1 0 3 0a1.5 1.5 0 1 0 -3 0M458.7 181.6a1.5 1.5 0 1 0 3 0a1.5 1.5 0 1 0 -3 0M460.1 188.1a1.5 1.5 0 1 0 3 0a1.5 1.5 0 1 0 -3 0M471.7 169.8a1.5 1.5 0 1 0 3 0a1.5 1.5 0 1 0 -3 0M480 164.8a1.5 1.5 0 1 0 3 0a1.5 1.5 0 1 0 -3 0M470.4 170.9a1.5 1.5 0 1 0 3 0a1.5 1.5 0 1 0 -3 0M468 153.1a1.5 1.5 0 1 0 3 0a1.5 1.5 0 1 0 -3 0M473.2 164.3a1.5 1.5 0 1 0 3 0a1.5 1.5 0 1 0 -3 0M473.3 178.3a1.5 1.5 0 1 0 3 0a1.5 1.5 0 1 0 -3 0M468.5 155.7a1.5 1.5 0 1 0 3 0a1.5 1.5 0 1 0 -3 0M460.2 185.9a1.5 1.5 0 1 0 3 0a1.5 1.5 0 1 0 -3 0M447.8 203a1.5 1.5 0 1 0 3 0a1.5 1.5 0 1 0 -3 0M449.2 170.1a1.5 1.5 0 1 0 3 0a1.5 1.5 0 1 0 -3 0M449.3 179.2a1.5 1.5 0 1 0 3 0a1.5 1.5 0 1 0 -3 0M463.5 204.1a1.5 1.5 0 1 0 3 0a1.5 1.5 0 1 0 -3 0M452.6 180.4a1.5 1.5 0 1 0 3 0a1.5 1.5 0 1 0 -3 0M463.4 203.5a1.5 1.5 0 1 0 3 0a1.5 1.5 0 1 0 -3 0M466 192.5a1.5 1.5 0 1 0 3 0a1.5 1.5 0 1 0 -3 0M467.6 157.5a1.5 1.5 0 1 0 3 0a1.5 1.5 0 1 0 -3 0M449.5 181.1a1.5 1.5 0 1 0 3 0a1.5 1.5 0 1 0 -3 0M449.6 204.8a1.5 1.5 0 1 0 3 0a1.5 1.5 0 1 0 -3 0M453.5 167.6a1.5 1.5 0 1 0 3 0a1.5 1.5 0 1 0 -3 0M458.8 174.3a1.5 1.5 0 1 0 3 0a1.5 1.5 0 1 0 -3 0M473.8 159.1a1.5 1.5 0 1 0 3 0a1.5 1.5 0 1 0 -3 0M453.8 182.3a1.5 1.5 0 1 0 3 0a1.5 1.5 0 1 0 -3 0M465.6 180.8a1.5 1.5 0 1 0 3 0a1.5 1.5 0 1 0 -3 0M461.2 164.7a1.5 1.5 0 1 0 3 0a1.5 1.5 0 1 0 -3 0M457.4 168.4a1.5 1.5 0 1 0 3 0a1.5 1.5 0 1 0 -3 0M473.9 153.8a1.5 1.5 0 1 0 3 0a1.5 1.5 0 1 0 -3 0M457.2 201.8a1.5 1.5 0 1 0 3 0a1.5 1.5 0 1 0 -3 0M462.8 193.5a1.5 1.5 0 1 0 3 0a1.5 1.5 0 1 0 -3 0M454.1 152.5a1.5 1.5 0 1 0 3 0a1.5 1.5 0 1 0 -3 0M464.5 158.7a1.5 1.5 0 1 0 3 0a1.5 1.5 0 1 0 -3 0M463 191.1a1.5 1.5 0 1 0 3 0a1.5 1.5 0 1 0 -3 0M478.5 173.6a1.5 1.5 0 1 0 3 0a1.5 1.5 0 1 0 -3 0M464.3 153.2a1.5 1.5 0 1 0 3 0a1.5 1.5 0 1 0 -3 0M452.8 163.6a1.5 1.5 0 1 0 3 0a1.5 1.5 0 1 0 -3 0M466.5 161.8a1.5 1.5 0 1 0 3 0a1.5 1.5 0 1 0 -3 0M462.9 193.1a1.5 1.5 0 1 0 3 0a1.5 1.5 0 1 0 -3 0M465.9 192.9a1.5 1.5 0 1 0 3 0a1.5 1.5 0 1 0 -3 0M451.2 186a1.5 1.5 0 1 0 3 0a1.5 1.5 0 1 0 -3 0M465.4 165.6a1.5 1.5 0 1 0 3 0a1.5 1.5 0 1 0 -3 0M472.4 207.1a1.5 1.5 0 1 0 3 0a1.5 1.5 0 1 0 -3 0M451.6 171a1.5 1.5 0 1 0 3 0a1.5 1.5 0 1 0 -3 0M452.9 192.5a1.5 1.5 0 1 0 3 0a1.5 1.5 0 1 0 -3 0M477.3 155.9a1.5 1.5 0 1 0 3 0a1.5 1.5 0 1 0 -3 0M477.8 197.7a1.5 1.5 0 1 0 3 0a1.5 1.5 0 1 0 -3 0M469.6 160.1a1.5 1.5 0 1 0 3 0a1.5 1.5 0 1 0 -3 0M472.8 193.4a1.5 1.5 0 1 0 3 0a1.5 1.5 0 1 0 -3 0M476.4 204.5a1.5 1.5 0 1 0 3 0a1.5 1.5 0 1 0 -3 0M451.3 201.4a1.5 1.5 0 1 0 3 0a1.5 1.5 0 1 0 -3 0M479.9 199.3a1.5 1.5 0 1 0 3 0a1.5 1.5 0 1 0 -3 0M478.5 171.2a1.5 1.5 0 1 0 3 0a1.5 1.5 0 1 0 -3 0M468.1 187.3a1.5 1.5 0 1 0 3 0a1.5 1.5 0 1 0 -3 0M477.3 193.8a1.5 1.5 0 1 0 3 0a1.5 1.5 0 1 0 -3 0M468.4 192.8a1.5 1.5 0 1 0 3 0a1.5 1.5 0 1 0 -3 0M465.5 196.9a1.5 1.5 0 1 0 3 0a1.5 1.5 0 1 0 -3 0M470.6 196.2a1.5 1.5 0 1 0 3 0a1.5 1.5 0 1 0 -3 0" fill="#F962EE" fill-opacity="0.18" stroke="#F962EE" stroke-opacity="0.34" stroke-width="0.8" filter="url(#f0)"/><path d="M520.9 172.4a1.5 1.5 0 1 0 3 0a1.5 1.5 0 1 0 -3 0M530.3 179a1.5 1.5 0 1 0 3 0a1.5 1.5 0 1 0 -3 0M529.9 150.4a1.5 1.5 0 1 0 3 0a1.5 1.5 0 1 0 -3 0M489.7 186.4a1.5 1.5 0 1 0 3 0a1.5 1.5 0 1 0 -3 0M481.3 150.2a1.5 1.5 0 1 0 3 0a1.5 1.5 0 1 0 -3 0M517 177.7a1.5 1.5 0 1 0 3 0a1.5 1.5 0 1 0 -3 0M495.3 197.1a1.5 1.5 0 1 0 3 0a1.5 1.5 0 1 0 -3 0M504.2 214.5a1.5 1.5 0 1 0 3 0a1.5 1.5 0 1 0 -3 0M510.1 180.5a1.5 1.5 0 1 0 3 0a1.5 1.5 0 1 0 -3 0M504.2 213.7a1.5 1.5 0 1 0 3 0a1.5 1.5 0 1 0 -3 0M493.5 166a1.5 1.5 0 1 0 3 0a1.5 1.5 0 1 0 -3 0M504.6 168.4a1.5 1.5 0 1 0 3 0a1.5 1.5 0 1 0 -3 0M515.3 175.6a1.5 1.5 0 1 0 3 0a1.5 1.5 0 1 0 -3 0M523.3 192a1.5 1.5 0 1 0 3 0a1.5 1.5 0 1 0 -3 0M527.3 201.6a1.5 1.5 0 1 0 3 0a1.5 1.5 0 1 0 -3 0M520.9 170.4a1.5 1.5 0 1 0 3 0a1.5 1.5 0 1 0 -3 0M505.1 213.1a1.5 1.5 0 1 0 3 0a1.5 1.5 0 1 0 -3 0M483.4 165.9a1.5 1.5 0 1 0 3 0a1.5 1.5 0 1 0 -3 0M535.4 183.6a1.5 1.5 0 1 0 3 0a1.5 1.5 0 1 0 -3 0M498.1 204.3a1.5 1.5 0 1 0 3 0a1.5 1.5 0 1 0 -3 0M501 198.1a1.5 1.5 0 1 0 3 0a1.5 1.5 0 1 0 -3 0M521.3 212.9a1.5 1.5 0 1 0 3 0a1.5 1.5 0 1 0 -3 0" fill="#00B0F6" fill-opacity="0.17" stroke="#00B0F6" stroke-opacity="0.33" stroke-width="0.8" filter="url(#f0)"/><path d="M503 154.9a1.5 1.5 0 1 0 3 0a1.5 1.5 0 1 0 -3 0M535.6 173.3a1.5 1.5 0 1 0 3 0a1.5 1.5 0 1 0 -3 0M519 215a1.5 1.5 0 1 0 3 0a1.5 1.5 0 1 0 -3 0M506.1 207.6a1.5 1.5 0 1 0 3 0a1.5 1.5 0 1 0 -3 0M486.8 175.7a1.5 1.5 0 1 0 3 0a1.5 1.5 0 1 0 -3 0M506.2 154.3a1.5 1.5 0 1 0 3 0a1.5 1.5 0 1 0 -3 0M522.9 192.5a1.5 1.5 0 1 0 3 0a1.5 1.5 0 1 0 -3 0M496.1 151.2a1.5 1.5 0 1 0 3 0a1.5 1.5 0 1 0 -3 0M519 160.5a1.5 1.5 0 1 0 3 0a1.5 1.5 0 1 0 -3 0M512.5 198.9a1.5 1.5 0 1 0 3 0a1.5 1.5 0 1 0 -3 0M519.5 214.7a1.5 1.5 0 1 0 3 0a1.5 1.5 0 1 0 -3 0M492.1 156.4a1.5 1.5 0 1 0 3 0a1.5 1.5 0 1 0 -3 0M516.2 196.6a1.5 1.5 0 1 0 3 0a1.5 1.5 0 1 0 -3 0M508.1 159.6a1.5 1.5 0 1 0 3 0a1.5 1.5 0 1 0 -3 0M534.6 171.5a1.5 1.5 0 1 0 3 0a1.5 1.5 0 1 0 -3 0M500.4 170.9a1.5 1.5 0 1 0 3 0a1.5 1.5 0 1 0 -3 0M483.9 153.7a1.5 1.5 0 1 0 3 0a1.5 1.5 0 1 0 -3 0M504.1 172.6a1.5 1.5 0 1 0 3 0a1.5 1.5 0 1 0 -3 0" fill="#F962EE" fill-opacity="0.17" stroke="#F962EE" stroke-opacity="0.33" stroke-width="0.8" filter="url(#f0)"/><path d="M484.9 173.4a1.6 1.6 0 1 0 3.2 0a1.6 1.6 0 1 0 -3.2 0M488.5 174.3a1.6 1.6 0 1 0 3.2 0a1.6 1.6 0 1 0 -3.2 0M495.5 175.1a1.6 1.6 0 1 0 3.2 0a1.6 1.6 0 1 0 -3.2 0M492.3 173.4a1.6 1.6 0 1 0 3.2 0a1.6 1.6 0 1 0 -3.2 0M494.2 175.8a1.6 1.6 0 1 0 3.2 0a1.6 1.6 0 1 0 -3.2 0M491.2 179.2a1.6 1.6 0 1 0 3.2 0a1.6 1.6 0 1 0 -3.2 0M491.1 173.5a1.6 1.6 0 1 0 3.2 0a1.6 1.6 0 1 0 -3.2 0M492.9 176.7a1.6 1.6 0 1 0 3.2 0a1.6 1.6 0 1 0 -3.2 0M488.3 179.1a1.6 1.6 0 1 0 3.2 0a1.6 1.6 0 1 0 -3.2 0M491.5 176.2a1.6 1.6 0 1 0 3.2 0a1.6 1.6 0 1 0 -3.2 0" fill="#00B0F6" fill-opacity="0.24" stroke="#00B0F6" stroke-opacity="0.45" stroke-width="0.8" filter="url(#f0)"/><rect x="433.8" y="150" width="15.5" height="82" fill="#F962EE" fill-opacity="0.65"/><rect x="433.8" y="170" width="15.5" height="62" fill="#F962EE" fill-opacity="0.85"/><rect x="449.5" y="150" width="3.6" height="82" rx="1.8" fill="#F962EE" fill-opacity="0.6"/><rect x="454.6" y="150" width="3.6" height="82" rx="1.8" fill="#F962EE" fill-opacity="0.55"/><rect x="461.8" y="152" width="3.6" height="80" rx="1.8" fill="#F962EE" fill-opacity="0.5"/><rect x="468.4" y="155" width="3.6" height="77" rx="1.8" fill="#F962EE" fill-opacity="0.45"/><rect x="475.7" y="150" width="3.6" height="82" rx="1.8" fill="#F962EE" fill-opacity="0.4"/><path d="M449 190L462 193L476 200L476 222L449 222Z" fill="#F962EE" fill-opacity="0.55"/><path d="M464.9 202.9a1.5 1.5 0 1 0 3 0a1.5 1.5 0 1 0 -3 0M451.1 161a1.5 1.5 0 1 0 3 0a1.5 1.5 0 1 0 -3 0M463.3 185.1a1.5 1.5 0 1 0 3 0a1.5 1.5 0 1 0 -3 0M450 206.7a1.5 1.5 0 1 0 3 0a1.5 1.5 0 1 0 -3 0M432.9 195.5a1.5 1.5 0 1 0 3 0a1.5 1.5 0 1 0 -3 0M464.3 184.7a1.5 1.5 0 1 0 3 0a1.5 1.5 0 1 0 -3 0M462.6 204.2a1.5 1.5 0 1 0 3 0a1.5 1.5 0 1 0 -3 0M458.2 164.3a1.5 1.5 0 1 0 3 0a1.5 1.5 0 1 0 -3 0M454.5 180.2a1.5 1.5 0 1 0 3 0a1.5 1.5 0 1 0 -3 0M446.5 184.7a1.5 1.5 0 1 0 3 0a1.5 1.5 0 1 0 -3 0M437.4 206.2a1.5 1.5 0 1 0 3 0a1.5 1.5 0 1 0 -3 0M459.5 183.2a1.5 1.5 0 1 0 3 0a1.5 1.5 0 1 0 -3 0M452.3 204.4a1.5 1.5 0 1 0 3 0a1.5 1.5 0 1 0 -3 0M444.4 162.4a1.5 1.5 0 1 0 3 0a1.5 1.5 0 1 0 -3 0M451.3 183a1.5 1.5 0 1 0 3 0a1.5 1.5 0 1 0 -3 0M459.4 175.6a1.5 1.5 0 1 0 3 0a1.5 1.5 0 1 0 -3 0M439.6 175.2a1.5 1.5 0 1 0 3 0a1.5 1.5 0 1 0 -3 0M460.6 161.2a1.5 1.5 0 1 0 3 0a1.5 1.5 0 1 0 -3 0M466.6 188.2a1.5 1.5 0 1 0 3 0a1.5 1.5 0 1 0 -3 0M440.7 182.2a1.5 1.5 0 1 0 3 0a1.5 1.5 0 1 0 -3 0M461.6 182.9a1.5 1.5 0 1 0 3 0a1.5 1.5 0 1 0 -3 0M459.3 163.1a1.5 1.5 0 1 0 3 0a1.5 1.5 0 1 0 -3 0M463 209.5a1.5 1.5 0 1 0 3 0a1.5 1.5 0 1 0 -3 0M450.7 201.6a1.5 1.5 0 1 0 3 0a1.5 1.5 0 1 0 -3 0M460.1 190.1a1.5 1.5 0 1 0 3 0a1.5 1.5 0 1 0 -3 0M464.9 175.9a1.5 1.5 0 1 0 3 0a1.5 1.5 0 1 0 -3 0M456 185.8a1.5 1.5 0 1 0 3 0a1.5 1.5 0 1 0 -3 0M462.5 210.6a1.5 1.5 0 1 0 3 0a1.5 1.5 0 1 0 -3 0M466.7 163.3a1.5 1.5 0 1 0 3 0a1.5 1.5 0 1 0 -3 0M444.8 198.6a1.5 1.5 0 1 0 3 0a1.5 1.5 0 1 0 -3 0M445.2 208.9a1.5 1.5 0 1 0 3 0a1.5 1.5 0 1 0 -3 0M437.2 199.6a1.5 1.5 0 1 0 3 0a1.5 1.5 0 1 0 -3 0M468.1 201a1.5 1.5 0 1 0 3 0a1.5 1.5 0 1 0 -3 0M442 175.4a1.5 1.5 0 1 0 3 0a1.5 1.5 0 1 0 -3 0M470.6 180.1a1.5 1.5 0 1 0 3 0a1.5 1.5 0 1 0 -3 0M461.6 209.4a1.5 1.5 0 1 0 3 0a1.5 1.5 0 1 0 -3 0M450.6 192.7a1.5 1.5 0 1 0 3 0a1.5 1.5 0 1 0 -3 0M452.1 206a1.5 1.5 0 1 0 3 0a1.5 1.5 0 1 0 -3 0M441.4 194.8a1.5 1.5 0 1 0 3 0a1.5 1.5 0 1 0 -3 0M471.6 161.8a1.5 1.5 0 1 0 3 0a1.5 1.5 0 1 0 -3 0M470.7 163.9a1.5 1.5 0 1 0 3 0a1.5 1.5 0 1 0 -3 0M450.1 180a1.5 1.5 0 1 0 3 0a1.5 1.5 0 1 0 -3 0M466.1 206.9a1.5 1.5 0 1 0 3 0a1.5 1.5 0 1 0 -3 0M440.5 179.4a1.5 1.5 0 1 0 3 0a1.5 1.5 0 1 0 -3 0M462.9 189.3a1.5 1.5 0 1 0 3 0a1.5 1.5 0 1 0 -3 0M464.8 182.3a1.5 1.5 0 1 0 3 0a1.5 1.5 0 1 0 -3 0M454.9 200.9a1.5 1.5 0 1 0 3 0a1.5 1.5 0 1 0 -3 0M463.6 183.6a1.5 1.5 0 1 0 3 0a1.5 1.5 0 1 0 -3 0M455.5 188.8a1.5 1.5 0 1 0 3 0a1.5 1.5 0 1 0 -3 0M446.2 194.7a1.5 1.5 0 1 0 3 0a1.5 1.5 0 1 0 -3 0" fill="#00B0F6" fill-opacity="0.21" stroke="#00B0F6" stroke-opacity="0.39" stroke-width="0.8" filter="url(#f0)"/><path d="M433 219.4L434.5 219.3L436 219.3L437.5 219.2L439 219.2L440.5 219.1L442 219.1L443.5 219L445 219L446.5 218.9L448 218.9L449.5 218.8L451 218.8L452.5 218.7L454 218.7L455.5 218.7L457 218.6L458.5 218.6L460 218.5L461.5 218.5L463 218.5L464.5 218.4L466 218.4L467.5 218.4L469 218.3L470.5 218.3L472 218.3L473.5 218.2L475 218.2L475 230.4L473.5 230.4L472 230.4L470.5 230.4L469 230.4L467.5 230.4L466 230.4L464.5 230.4L463 230.4L461.5 230.4L460 230.4L458.5 230.4L457 230.4L455.5 230.4L454 230.4L452.5 230.4L451 230.4L449.5 230.4L448 230.4L446.5 230.4L445 230.4L443.5 230.4L442 230.4L440.5 230.4L439 230.4L437.5 230.4L436 230.4L434.5 230.4L433 230.4Z" fill="#00B0F6" fill-opacity="0.9"/><path d="M433 224L434.5 224L436 224L437.5 223.9L439 223.9L440.5 223.9L442 223.9L443.5 223.8L445 223.8L446.5 223.8L448 223.8L449.5 223.7L451 223.7L452.5 223.7L454 223.7L455.5 223.6L457 223.6L458.5 223.6L460 223.6L461.5 223.5L463 223.5L464.5 223.5L466 223.5L467.5 223.4L469 223.4L470.5 223.4L472 223.4L473.5 223.3L475 223.3L475 230.4L473.5 230.4L472 230.4L470.5 230.4L469 230.4L467.5 230.4L466 230.4L464.5 230.4L463 230.4L461.5 230.4L460 230.4L458.5 230.4L457 230.4L455.5 230.4L454 230.4L452.5 230.4L451 230.4L449.5 230.4L448 230.4L446.5 230.4L445 230.4L443.5 230.4L442 230.4L440.5 230.4L439 230.4L437.5 230.4L436 230.4L434.5 230.4L433 230.4Z" fill="#00BF7D" fill-opacity="0.9"/><path d="M433 226.9L434.5 226.9L436 226.9L437.5 226.9L439 226.8L440.5 226.8L442 226.8L443.5 226.8L445 226.8L446.5 226.8L448 226.7L449.5 226.7L451 226.7L452.5 226.7L454 226.7L455.5 226.7L457 226.6L458.5 226.6L460 226.6L461.5 226.6L463 226.6L464.5 226.6L466 226.6L467.5 226.5L469 226.5L470.5 226.5L472 226.5L473.5 226.5L475 226.5L475 230.4L473.5 230.4L472 230.4L470.5 230.4L469 230.4L467.5 230.4L466 230.4L464.5 230.4L463 230.4L461.5 230.4L460 230.4L458.5 230.4L457 230.4L455.5 230.4L454 230.4L452.5 230.4L451 230.4L449.5 230.4L448 230.4L446.5 230.4L445 230.4L443.5 230.4L442 230.4L440.5 230.4L439 230.4L437.5 230.4L436 230.4L434.5 230.4L433 230.4Z" fill="#A3A500" fill-opacity="0.75"/><path d="M433 228.7L434.5 228.7L436 228.7L437.5 228.7L439 228.6L440.5 228.6L442 228.6L443.5 228.6L445 228.6L446.5 228.6L448 228.5L449.5 228.5L451 228.5L452.5 228.5L454 228.5L455.5 228.5L457 228.4L458.5 228.4L460 228.4L461.5 228.4L463 228.4L464.5 228.4L466 228.4L467.5 228.3L469 228.3L470.5 228.3L472 228.3L473.5 228.3L475 228.3L475 230.4L473.5 230.4L472 230.4L470.5 230.4L469 230.4L467.5 230.4L466 230.4L464.5 230.4L463 230.4L461.5 230.4L460 230.4L458.5 230.4L457 230.4L455.5 230.4L454 230.4L452.5 230.4L451 230.4L449.5 230.4L448 230.4L446.5 230.4L445 230.4L443.5 230.4L442 230.4L440.5 230.4L439 230.4L437.5 230.4L436 230.4L434.5 230.4L433 230.4Z" fill="#F8766D" fill-opacity="0.85"/><rect x="475.8" y="218.2" width="3.5" height="5.1" rx="1.8" fill="#00B0F6" fill-opacity="0.5"/><rect x="475.8" y="223.3" width="3.5" height="3.2" rx="1.6" fill="#00BF7D" fill-opacity="0.5"/><rect x="475.8" y="226.4" width="3.5" height="1.6" rx="0.8" fill="#A3A500" fill-opacity="0.4"/><rect x="475.8" y="228" width="3.5" height="2.4" rx="1.2" fill="#F8766D" fill-opacity="0.5"/><rect x="483.2" y="218" width="3.5" height="5.1" rx="1.8" fill="#00B0F6" fill-opacity="0.5"/><rect x="483.2" y="223.1" width="3.5" height="3.2" rx="1.6" fill="#00BF7D" fill-opacity="0.5"/><rect x="483.2" y="226.4" width="3.5" height="1.6" rx="0.8" fill="#A3A500" fill-opacity="0.4"/><rect x="483.2" y="228" width="3.5" height="2.4" rx="1.2" fill="#F8766D" fill-opacity="0.5"/><rect x="490.2" y="217.9" width="3.5" height="5.1" rx="1.8" fill="#00B0F6" fill-opacity="0.5"/><rect x="490.2" y="223" width="3.5" height="3.3" rx="1.6" fill="#00BF7D" fill-opacity="0.5"/><rect x="490.2" y="226.3" width="3.5" height="1.6" rx="0.8" fill="#A3A500" fill-opacity="0.4"/><rect x="490.2" y="227.9" width="3.5" height="2.5" rx="1.3" fill="#F8766D" fill-opacity="0.5"/><rect x="501.6" y="217.8" width="3.5" height="5.1" rx="1.8" fill="#00B0F6" fill-opacity="0.5"/><rect x="501.6" y="222.8" width="3.5" height="3.3" rx="1.7" fill="#00BF7D" fill-opacity="0.5"/><rect x="501.6" y="226.2" width="3.5" height="1.6" rx="0.8" fill="#A3A500" fill-opacity="0.4"/><rect x="501.6" y="227.8" width="3.5" height="2.6" rx="1.3" fill="#F8766D" fill-opacity="0.5"/><rect x="511.2" y="217.6" width="3.5" height="5" rx="1.8" fill="#00B0F6" fill-opacity="0.5"/><rect x="511.2" y="222.7" width="3.5" height="3.4" rx="1.7" fill="#00BF7D" fill-opacity="0.5"/><rect x="511.2" y="226.1" width="3.5" height="1.6" rx="0.8" fill="#A3A500" fill-opacity="0.4"/><rect x="511.2" y="227.7" width="3.5" height="2.7" rx="1.4" fill="#F8766D" fill-opacity="0.5"/><rect x="522.2" y="217.5" width="3.5" height="5" rx="1.8" fill="#00B0F6" fill-opacity="0.5"/><rect x="522.2" y="222.5" width="3.5" height="3.5" rx="1.7" fill="#00BF7D" fill-opacity="0.5"/><rect x="522.2" y="225.9" width="3.5" height="1.6" rx="0.8" fill="#A3A500" fill-opacity="0.4"/><rect x="522.2" y="227.5" width="3.5" height="2.9" rx="1.4" fill="#F8766D" fill-opacity="0.5"/><rect x="535.8" y="217.3" width="3.5" height="5" rx="1.8" fill="#00B0F6" fill-opacity="0.5"/><rect x="535.8" y="222.3" width="3.5" height="3.5" rx="1.8" fill="#00BF7D" fill-opacity="0.5"/><rect x="535.8" y="225.8" width="3.5" height="1.6" rx="0.8" fill="#A3A500" fill-opacity="0.4"/><rect x="535.8" y="227.4" width="3.5" height="3" rx="1.5" fill="#F8766D" fill-opacity="0.5"/><rect x="423.3" y="150" width="3.6" height="69.6" rx="1.8" fill="#F962EE" fill-opacity="0.95"/><rect x="423.3" y="219.6" width="3.6" height="4.5" rx="1.8" fill="#00B0F6" fill-opacity="0.9"/><rect x="423.3" y="224.1" width="3.6" height="2.8" rx="1.4" fill="#00BF7D" fill-opacity="0.9"/><rect x="423.3" y="227" width="3.6" height="1.6" rx="0.8" fill="#A3A500" fill-opacity="0.7200000000000001"/><rect x="423.3" y="228.6" width="3.6" height="1.8" rx="0.9" fill="#F8766D" fill-opacity="0.9"/><path d="M425.3 203L426.9 203.2L428.6 203.5L430.2 203.7L431.9 203.9L433.5 203.9L435.1 203.9L436.7 203.8L438.3 203.8L439.8 203.6L441.4 203.5L443 203.3L444.6 203.2L446.2 203L447.7 202.8L449.3 202.6L450.9 202.4L452.5 202.3L454 202.1L455.5 202L457 201.8L458.5 201.7L460.1 201.6L461.6 201.4L463.1 201.3L464.6 201.1L466.1 200.9L467.6 200.8L469.2 200.6L470.7 200.4L472.2 200.1L473.7 199.9L475.4 199.6L477.1 199.1L478.8 198.6L480.5 198L482.2 197.5L483.9 197.1L485.5 196.8L487.1 196.7L488.6 196.5L490.1 196.4L491.7 196.3L493.2 196.2L494.7 196L496.3 196L497.8 195.9L499.3 195.8L500.8 195.7L502.4 195.6L503.9 195.6L505.4 195.5L507 195.4L508.5 195.3L510 195.3L511.5 195.2L513.1 195.1L514.6 195L516.1 194.9L517.7 194.9L519.2 194.8L520.7 194.7L522.3 194.7L523.8 194.6L525.3 194.5L526.8 194.5L528.4 194.4L529.9 194.3L531.4 194.3L533 194.2L534.5 194.1L536 194.1L537.5 194" stroke="#F962EE" stroke-width="1.75" fill="none" stroke-linejoin="round" stroke-linecap="round"/><path d="M425.3 212.2L426.8 212.2L428.3 212.2L429.8 212.2L431.3 212.2L432.8 212.2L434.3 212.2L435.8 212.2L437.4 212.2L438.9 212.2L440.4 212.2L441.9 212.2L443.4 212.2L444.9 212.2L446.4 212.2L447.9 212.2L449.4 212.2L450.9 212.2L452.5 212.2L454 212.2L455.6 212L457.2 211.8L458.8 211.6L460.3 211.3L461.9 211L463.5 210.6L465.1 210.2L466.6 209.9L468.2 209.5L469.8 209.1L471.4 208.8L472.9 208.6L474.5 208.3L476.1 208.2L477.7 208.1L479.2 207.9L480.8 207.8L482.4 207.7L484 207.6L485.5 207.5L487.1 207.4L488.7 207.3L490.3 207.2L491.8 207.2L493.4 207.1L495 207.1L496.6 207L498.2 207L499.7 207L501.2 207L502.8 207L504.3 207L505.8 207L507.3 207L508.8 207L510.3 207.1L511.8 207.1L513.3 207.1L514.9 207.1L516.4 207.1L517.9 207.2L519.4 207.2L520.9 207.2L522.4 207.2L523.9 207.3L525.4 207.3L527 207.3L528.5 207.3L530 207.4L531.5 207.4L533 207.4L534.5 207.4L536 207.5L537.5 207.5" stroke="#00B0F6" stroke-width="1.75" fill="none" stroke-linejoin="round" stroke-linecap="round"/><path d="M425.3 218.8L426.8 218.8L428.3 218.7L429.8 218.7L431.3 218.6L432.8 218.6L434.3 218.5L435.8 218.5L437.3 218.4L438.8 218.4L440.3 218.3L441.8 218.3L443.3 218.2L444.8 218.2L446.3 218.1L447.8 218.1L449.3 218L450.8 218L452.3 218L453.8 217.9L455.3 217.9L456.8 217.8L458.3 217.8L459.8 217.7L461.3 217.7L462.8 217.7L464.3 217.6L465.8 217.6L467.3 217.6L468.9 217.5L470.4 217.5L471.9 217.5L473.4 217.4L475 217.4L476.5 217.4L478 217.4L479.5 217.3L481.1 217.3L482.6 217.3L484.1 217.3L485.6 217.2L487.2 217.2L488.7 217.2L490.2 217.2L491.8 217.1L493.3 217.1L494.8 217.1L496.3 217.1L497.9 217L499.4 217L500.9 217L502.4 217L504 216.9L505.5 216.9L507 216.9L508.5 216.9L510.1 216.9L511.6 216.8L513.1 216.8L514.6 216.8L516.2 216.8L517.7 216.8L519.2 216.7L520.8 216.7L522.3 216.7L523.8 216.7L525.3 216.6L526.9 216.6L528.4 216.6L529.9 216.6L531.4 216.6L533 216.5L534.5 216.5L536 216.5L537.5 216.5" stroke="#00BF7D" stroke-width="1.75" fill="none" stroke-linejoin="round" stroke-linecap="round"/><path d="M425.3 223.5L537.5 221.7" stroke="#A3A500" stroke-width="1.75" fill="none" stroke-linejoin="round" stroke-linecap="round"/><path d="M425.3 226.4L537.5 225.2" stroke="#F8766D" stroke-width="1.75" fill="none" stroke-linejoin="round" stroke-linecap="round"/>
</g>
<rect x="419" y="129.3" width="124" height="16" fill="#D9D9D9"/>
<text x="481" y="141.6" class="st">v_foreignpct</text>
<text x="425.3" y="246.9" class="tx">0.0</text>
<text x="456.8" y="246.9" class="tx">0.2</text>
<text x="488.4" y="246.9" class="tx">0.4</text>
<text x="519.9" y="246.9" class="tx">0.6</text>
<path d="M425.3 233.3v2.9M456.8 233.3v2.9M488.4 233.3v2.9M519.9 233.3v2.9" stroke="#333333" stroke-width="1.05" fill="none"/>
<rect x="31" y="268.6" width="124" height="88" fill="#EBEBEB"/>
<path d="M48.3 268.6V356.6M72 268.6V356.6M95.7 268.6V356.6M119.4 268.6V356.6M143.1 268.6V356.6M31 351.7H155M31 329.5H155M31 307.4H155M31 285.3H155" stroke="#F7F7F7" stroke-width="0.55" fill="none"/>
<path d="M36.5 268.6V356.6M60.2 268.6V356.6M83.9 268.6V356.6M107.5 268.6V356.6M131.2 268.6V356.6M154.9 268.6V356.6M31 340.6H155M31 318.5H155M31 296.3H155M31 274.2H155" stroke="#FFFFFF" stroke-width="1.05" fill="none"/>
<g clip-path="url(#c8)">
<rect x="34.8" y="273.5" width="3.5" height="69.1" rx="1.8" fill="#F962EE" fill-opacity="0.95"/><rect x="34.8" y="342.6" width="3.5" height="4.5" rx="1.8" fill="#00B0F6" fill-opacity="0.9"/><rect x="34.8" y="347.1" width="3.5" height="2.4" rx="1.2" fill="#00BF7D" fill-opacity="0.9"/><rect x="34.8" y="349.5" width="3.5" height="1.6" rx="0.8" fill="#A3A500" fill-opacity="0.7200000000000001"/><rect x="34.8" y="351.1" width="3.5" height="2.7" rx="1.3" fill="#F8766D" fill-opacity="0.9"/><rect x="44.2" y="273.5" width="3.5" height="66.8" rx="1.8" fill="#F962EE" fill-opacity="0.95"/><rect x="44.2" y="340.3" width="3.5" height="5.2" rx="1.8" fill="#00B0F6" fill-opacity="0.9"/><rect x="44.2" y="345.5" width="3.5" height="4.1" rx="1.8" fill="#00BF7D" fill-opacity="0.9"/><rect x="44.2" y="349.6" width="3.5" height="1.6" rx="0.8" fill="#A3A500" fill-opacity="0.7200000000000001"/><rect x="44.2" y="351.2" width="3.5" height="2.6" rx="1.3" fill="#F8766D" fill-opacity="0.9"/><rect x="53.7" y="273.5" width="3.5" height="67.4" rx="1.8" fill="#F962EE" fill-opacity="0.95"/><rect x="53.7" y="340.9" width="3.5" height="4.8" rx="1.8" fill="#00B0F6" fill-opacity="0.9"/><rect x="53.7" y="345.7" width="3.5" height="4" rx="1.8" fill="#00BF7D" fill-opacity="0.9"/><rect x="53.7" y="349.7" width="3.5" height="1.6" rx="0.8" fill="#A3A500" fill-opacity="0.7200000000000001"/><rect x="53.7" y="351.3" width="3.5" height="2.5" rx="1.2" fill="#F8766D" fill-opacity="0.9"/><rect x="63.2" y="273.5" width="3.5" height="68.4" rx="1.8" fill="#F962EE" fill-opacity="0.95"/><rect x="63.2" y="341.9" width="3.5" height="4" rx="1.8" fill="#00B0F6" fill-opacity="0.9"/><rect x="63.2" y="346" width="3.5" height="3.8" rx="1.8" fill="#00BF7D" fill-opacity="0.9"/><rect x="63.2" y="349.8" width="3.5" height="1.6" rx="0.8" fill="#A3A500" fill-opacity="0.7200000000000001"/><rect x="63.2" y="351.4" width="3.5" height="2.4" rx="1.2" fill="#F8766D" fill-opacity="0.9"/><rect x="72.6" y="273.5" width="3.5" height="69.5" rx="1.8" fill="#F962EE" fill-opacity="0.95"/><rect x="72.6" y="343" width="3.5" height="3.2" rx="1.6" fill="#00B0F6" fill-opacity="0.9"/><rect x="72.6" y="346.2" width="3.5" height="3.7" rx="1.8" fill="#00BF7D" fill-opacity="0.9"/><rect x="72.6" y="349.9" width="3.5" height="1.6" rx="0.8" fill="#A3A500" fill-opacity="0.7200000000000001"/><rect x="72.6" y="351.5" width="3.5" height="2.3" rx="1.1" fill="#F8766D" fill-opacity="0.9"/><rect x="82.1" y="274.5" width="3.5" height="69.3" rx="1.8" fill="#F962EE" fill-opacity="0.75"/><rect x="82.1" y="343.8" width="3.5" height="2.6" rx="1.3" fill="#00B0F6" fill-opacity="0.9"/><rect x="82.1" y="346.4" width="3.5" height="3.6" rx="1.8" fill="#00BF7D" fill-opacity="0.9"/><rect x="82.1" y="350" width="3.5" height="1.6" rx="0.8" fill="#A3A500" fill-opacity="0.7200000000000001"/><rect x="82.1" y="351.6" width="3.5" height="2.2" rx="1.1" fill="#F8766D" fill-opacity="0.9"/><rect x="91.6" y="275.5" width="3.5" height="68.5" rx="1.8" fill="#F962EE" fill-opacity="0.55"/><rect x="91.6" y="344" width="3.5" height="2.6" rx="1.3" fill="#00B0F6" fill-opacity="0.9"/><rect x="91.6" y="346.6" width="3.5" height="3.5" rx="1.7" fill="#00BF7D" fill-opacity="0.9"/><rect x="91.6" y="350.1" width="3.5" height="1.6" rx="0.8" fill="#A3A500" fill-opacity="0.7200000000000001"/><rect x="91.6" y="351.7" width="3.5" height="2.1" rx="1" fill="#F8766D" fill-opacity="0.9"/><rect x="101" y="278" width="3.5" height="66.1" rx="1.8" fill="#F962EE" fill-opacity="0.3"/><rect x="101" y="344.1" width="3.5" height="2.7" rx="1.4" fill="#00B0F6" fill-opacity="0.9"/><rect x="101" y="346.9" width="3.5" height="3.3" rx="1.7" fill="#00BF7D" fill-opacity="0.9"/><rect x="101" y="350.2" width="3.5" height="1.6" rx="0.8" fill="#A3A500" fill-opacity="0.7200000000000001"/><rect x="101" y="351.8" width="3.5" height="2" rx="1" fill="#F8766D" fill-opacity="0.9"/><rect x="110.5" y="304" width="3.5" height="40.3" rx="1.8" fill="#F962EE" fill-opacity="0.45"/><rect x="110.5" y="344.3" width="3.5" height="2.9" rx="1.4" fill="#00B0F6" fill-opacity="0.9"/><rect x="110.5" y="347.2" width="3.5" height="3.1" rx="1.6" fill="#00BF7D" fill-opacity="0.9"/><rect x="110.5" y="350.3" width="3.5" height="1.6" rx="0.8" fill="#A3A500" fill-opacity="0.7200000000000001"/><rect x="110.5" y="351.9" width="3.5" height="1.9" rx="0.9" fill="#F8766D" fill-opacity="0.9"/><rect x="120" y="326" width="3.5" height="18.5" rx="1.8" fill="#F962EE" fill-opacity="0.35"/><rect x="120" y="344.5" width="3.5" height="3.1" rx="1.5" fill="#00B0F6" fill-opacity="0.55"/><rect x="120" y="347.5" width="3.5" height="2.9" rx="1.4" fill="#00BF7D" fill-opacity="0.55"/><rect x="120" y="350.4" width="3.5" height="1.6" rx="0.8" fill="#A3A500" fill-opacity="0.44000000000000006"/><rect x="120" y="352" width="3.5" height="1.8" rx="0.9" fill="#F8766D" fill-opacity="0.55"/><rect x="129.4" y="328" width="3.5" height="16.6" rx="1.8" fill="#F962EE" fill-opacity="0.3"/><rect x="129.4" y="344.6" width="3.5" height="3.3" rx="1.7" fill="#00B0F6" fill-opacity="0.55"/><rect x="129.4" y="347.9" width="3.5" height="2.6" rx="1.3" fill="#00BF7D" fill-opacity="0.55"/><rect x="129.4" y="350.5" width="3.5" height="1.6" rx="0.8" fill="#A3A500" fill-opacity="0.44000000000000006"/><rect x="129.4" y="352.1" width="3.5" height="1.7" rx="0.9" fill="#F8766D" fill-opacity="0.55"/><rect x="138.9" y="344.8" width="3.5" height="3.6" rx="1.8" fill="#00B0F6" fill-opacity="0.55"/><rect x="138.9" y="348.4" width="3.5" height="2.2" rx="1.1" fill="#00BF7D" fill-opacity="0.55"/><rect x="138.9" y="350.6" width="3.5" height="1.6" rx="0.8" fill="#A3A500" fill-opacity="0.44000000000000006"/><rect x="138.9" y="352.2" width="3.5" height="1.6" rx="0.8" fill="#F8766D" fill-opacity="0.55"/><rect x="148.4" y="329" width="3.5" height="16" rx="1.8" fill="#F962EE" fill-opacity="0.25"/><rect x="148.4" y="345" width="3.5" height="3.8" rx="1.8" fill="#00B0F6" fill-opacity="0.55"/><rect x="148.4" y="348.8" width="3.5" height="1.9" rx="0.9" fill="#00BF7D" fill-opacity="0.55"/><rect x="148.4" y="350.7" width="3.5" height="1.6" rx="0.8" fill="#A3A500" fill-opacity="0.44000000000000006"/><rect x="148.4" y="352.3" width="3.5" height="1.5" rx="0.8" fill="#F8766D" fill-opacity="0.55"/><path d="M91.7 330.7a1.6 1.6 0 1 0 3.2 0a1.6 1.6 0 1 0 -3.2 0M91.7 288.8a1.6 1.6 0 1 0 3.2 0a1.6 1.6 0 1 0 -3.2 0M91.7 290a1.6 1.6 0 1 0 3.2 0a1.6 1.6 0 1 0 -3.2 0M91.7 333.3a1.6 1.6 0 1 0 3.2 0a1.6 1.6 0 1 0 -3.2 0M91.7 288.4a1.6 1.6 0 1 0 3.2 0a1.6 1.6 0 1 0 -3.2 0M91.7 297.4a1.6 1.6 0 1 0 3.2 0a1.6 1.6 0 1 0 -3.2 0M101.2 300.6a1.6 1.6 0 1 0 3.2 0a1.6 1.6 0 1 0 -3.2 0M101.2 336.9a1.6 1.6 0 1 0 3.2 0a1.6 1.6 0 1 0 -3.2 0M101.2 339.9a1.6 1.6 0 1 0 3.2 0a1.6 1.6 0 1 0 -3.2 0M110.7 321.3a1.6 1.6 0 1 0 3.2 0a1.6 1.6 0 1 0 -3.2 0M110.7 325.8a1.6 1.6 0 1 0 3.2 0a1.6 1.6 0 1 0 -3.2 0M110.7 335.2a1.6 1.6 0 1 0 3.2 0a1.6 1.6 0 1 0 -3.2 0M110.7 325a1.6 1.6 0 1 0 3.2 0a1.6 1.6 0 1 0 -3.2 0M110.7 333a1.6 1.6 0 1 0 3.2 0a1.6 1.6 0 1 0 -3.2 0M110.7 314a1.6 1.6 0 1 0 3.2 0a1.6 1.6 0 1 0 -3.2 0" fill="#F962EE" fill-opacity="0.21" stroke="#F962EE" stroke-opacity="0.39" stroke-width="0.8" filter="url(#f0)"/><path d="M91.7 301.6a1.6 1.6 0 1 0 3.2 0a1.6 1.6 0 1 0 -3.2 0M91.7 337.6a1.6 1.6 0 1 0 3.2 0a1.6 1.6 0 1 0 -3.2 0M91.7 301.9a1.6 1.6 0 1 0 3.2 0a1.6 1.6 0 1 0 -3.2 0M91.7 322.3a1.6 1.6 0 1 0 3.2 0a1.6 1.6 0 1 0 -3.2 0M101.2 281.6a1.6 1.6 0 1 0 3.2 0a1.6 1.6 0 1 0 -3.2 0M101.2 331.2a1.6 1.6 0 1 0 3.2 0a1.6 1.6 0 1 0 -3.2 0M101.2 342.6a1.6 1.6 0 1 0 3.2 0a1.6 1.6 0 1 0 -3.2 0M101.2 291.2a1.6 1.6 0 1 0 3.2 0a1.6 1.6 0 1 0 -3.2 0M101.2 310a1.6 1.6 0 1 0 3.2 0a1.6 1.6 0 1 0 -3.2 0M101.2 341.4a1.6 1.6 0 1 0 3.2 0a1.6 1.6 0 1 0 -3.2 0M101.2 285.3a1.6 1.6 0 1 0 3.2 0a1.6 1.6 0 1 0 -3.2 0M110.7 317.9a1.6 1.6 0 1 0 3.2 0a1.6 1.6 0 1 0 -3.2 0M110.7 311.2a1.6 1.6 0 1 0 3.2 0a1.6 1.6 0 1 0 -3.2 0M110.7 337.6a1.6 1.6 0 1 0 3.2 0a1.6 1.6 0 1 0 -3.2 0M110.7 339.2a1.6 1.6 0 1 0 3.2 0a1.6 1.6 0 1 0 -3.2 0" fill="#00B0F6" fill-opacity="0.21" stroke="#00B0F6" stroke-opacity="0.39" stroke-width="0.8" filter="url(#f0)"/><path d="M36.3 328.3L37.8 327.4L39.4 326.2L41 325.1L42.6 324.1L44.2 323.4L45.7 323.1L47.3 323.2L48.9 323.5L50.5 323.8L52 324.2L53.6 324.7L55.2 325L56.8 325.4L58.3 325.8L59.9 326.2L61.5 326.6L63.1 327L64.6 327.4L66.2 327.7L67.8 328.1L69.4 328.4L70.9 328.7L72.5 329L74.1 329.3L75.7 329.7L77.4 330.1L79.1 330.5L80.7 330.9L82.4 331.2L84 331.4L85.8 331.6L87.6 331.8L89.4 331.9L91.2 332L93 332.1L94.6 332.2L96.2 332.2L97.7 332.3L99.3 332.3L100.9 332.3L102.5 332.3L104 332.4L105.6 332.4L107.2 332.4L108.8 332.5L110.3 332.5L111.9 332.6L113.5 332.8L115.1 333.2L116.6 333.6L118.2 334.2L119.8 334.6L121.4 335L123 335.2L124.7 335.5L126.3 335.7L128 335.9L129.6 336.1L131.3 336.1L132.8 336.2L134.4 336.2L135.9 336.2L137.4 336.3L139 336.3L140.5 336.3L142 336.3L143.6 336.3L145.1 336.3L146.7 336.3L148.2 336.4L149.7 336.4" stroke="#F962EE" stroke-width="1.75" fill="none" stroke-linejoin="round" stroke-linecap="round"/><path d="M36.3 335.9L37.8 335.4L39.4 334.8L41 334.1L42.6 333.6L44.2 333.2L45.7 333.1L47.3 333.1L48.9 333.2L50.5 333.3L52 333.5L53.6 333.7L55.2 333.9L56.8 334.2L58.3 334.4L59.9 334.7L61.5 335L63.1 335.2L64.6 335.4L66.3 335.7L67.9 335.9L69.5 336.2L71.1 336.5L72.7 336.8L74.3 337.1L75.9 337.4L77.6 337.7L79.2 338L80.8 338.2L82.4 338.4L84 338.5L85.6 338.6L87.1 338.7L88.7 338.8L90.2 338.9L91.8 338.9L93.3 339L94.9 339L96.4 339.1L98 339.2L99.5 339.2L101.1 339.3L102.6 339.3L104.2 339.4L105.7 339.4L107.3 339.5L108.8 339.5L110.4 339.6L111.9 339.7L113.5 339.8L115.1 339.9L116.8 340.1L118.4 340.2L120 340.4L121.6 340.5L123.2 340.7L124.8 340.8L126.4 340.9L128.1 341L129.7 341.1L131.3 341.1L132.8 341.1L134.4 341.1L135.9 341.1L137.4 341.1L139 341.1L140.5 341.1L142 341.1L143.6 341.1L145.1 341.1L146.7 341.1L148.2 341.1L149.7 341.1" stroke="#00B0F6" stroke-width="1.75" fill="none" stroke-linejoin="round" stroke-linecap="round"/><path d="M36.3 341.8L37.8 341.4L39.4 340.9L41 340.3L42.6 339.9L44.2 339.6L45.7 339.5L47.3 339.5L48.9 339.5L50.5 339.6L52 339.8L53.6 339.9L55.2 340.1L56.8 340.2L58.3 340.4L59.9 340.6L61.5 340.8L63.1 341L64.6 341.1L66.3 341.3L67.9 341.4L69.5 341.6L71.1 341.8L72.7 342L74.3 342.2L75.9 342.4L77.6 342.6L79.2 342.7L80.8 342.8L82.4 342.9L84 343L85.6 343L87.1 343.1L88.7 343.1L90.2 343.2L91.8 343.2L93.3 343.2L94.9 343.2L96.4 343.3L98 343.3L99.5 343.3L101.1 343.3L102.6 343.3L104.2 343.4L105.7 343.4L107.3 343.4L108.8 343.4L110.4 343.4L111.9 343.5L113.4 343.5L114.9 343.5L116.4 343.6L118 343.6L119.5 343.6L121 343.6L122.5 343.7L124 343.7L125.5 343.7L127 343.8L128.5 343.8L130.1 343.8L131.6 343.8L133.1 343.9L134.6 343.9L136.1 343.9L137.6 344L139.1 344L140.7 344L142.2 344L143.7 344.1L145.2 344.1L146.7 344.1L148.2 344.2L149.7 344.2" stroke="#00BF7D" stroke-width="1.75" fill="none" stroke-linejoin="round" stroke-linecap="round"/><path d="M36.3 346.5L37.8 346.2L39.4 345.9L41 345.5L42.6 345.2L44.2 345L45.7 344.9L47.3 344.9L48.9 344.9L50.5 344.9L52 345L53.6 345L55.2 345.1L56.8 345.1L58.3 345.2L59.9 345.2L61.5 345.3L63.1 345.3L64.6 345.4L66.2 345.4L67.7 345.4L69.2 345.5L70.7 345.5L72.3 345.5L73.8 345.6L75.3 345.6L76.8 345.7L78.4 345.7L79.9 345.7L81.4 345.8L82.9 345.8L84.5 345.8L86 345.9L87.5 345.9L89 345.9L90.6 346L92.1 346L93.6 346L95.1 346.1L96.7 346.1L98.2 346.2L99.7 346.2L101.2 346.2L102.8 346.3L104.3 346.3L105.8 346.4L107.3 346.4L108.9 346.5L110.4 346.5L111.9 346.5L113.4 346.6L114.9 346.6L116.4 346.7L118 346.8L119.5 346.8L121 346.9L122.5 346.9L124 347L125.5 347.1L127 347.1L128.5 347.2L130.1 347.3L131.6 347.4L133.1 347.4L134.6 347.5L136.1 347.6L137.6 347.6L139.1 347.7L140.7 347.8L142.2 347.9L143.7 347.9L145.2 348L146.7 348.1L148.2 348.1L149.7 348.2" stroke="#A3A500" stroke-width="1.75" fill="none" stroke-linejoin="round" stroke-linecap="round"/><path d="M36.3 348.9L149.7 350.1" stroke="#F8766D" stroke-width="1.75" fill="none" stroke-linejoin="round" stroke-linecap="round"/>
</g>
<rect x="31" y="252.6" width="124" height="16" fill="#D9D9D9"/>
<text x="93" y="264.9" class="st">c_segment_bus</text>
<text x="36.5" y="370.2" class="tx">0.0</text>
<text x="60.2" y="370.2" class="tx">2.5</text>
<text x="83.9" y="370.2" class="tx">5.0</text>
<text x="107.5" y="370.2" class="tx">7.5</text>
<text x="131.2" y="370.2" class="tx">10.0</text>
<text x="154.9" y="370.2" class="tx">12.5</text>
<text x="27" y="343.8" class="ty">2</text>
<text x="27" y="321.7" class="ty">4</text>
<text x="27" y="299.5" class="ty">6</text>
<text x="27" y="277.4" class="ty">8</text>
<path d="M36.5 356.6v2.9M60.2 356.6v2.9M83.9 356.6v2.9M107.5 356.6v2.9M131.2 356.6v2.9M154.9 356.6v2.9M28.4 340.6h2.6M28.4 318.5h2.6M28.4 296.3h2.6M28.4 274.2h2.6" stroke="#333333" stroke-width="1.05" fill="none"/>
<rect x="160.3" y="268.6" width="124" height="88" fill="#EBEBEB"/>
<path d="M180.6 268.6V356.6M208.9 268.6V356.6M237.2 268.6V356.6M265.5 268.6V356.6M160.3 351.7H284.3M160.3 329.5H284.3M160.3 307.4H284.3M160.3 285.3H284.3" stroke="#F7F7F7" stroke-width="0.55" fill="none"/>
<path d="M166.5 268.6V356.6M194.8 268.6V356.6M223.1 268.6V356.6M251.3 268.6V356.6M279.6 268.6V356.6M160.3 340.6H284.3M160.3 318.5H284.3M160.3 296.3H284.3M160.3 274.2H284.3" stroke="#FFFFFF" stroke-width="1.05" fill="none"/>
<g clip-path="url(#c9)">
<path d="M179.8 299.2a1.5 1.5 0 1 0 3 0a1.5 1.5 0 1 0 -3 0M187.1 302.6a1.5 1.5 0 1 0 3 0a1.5 1.5 0 1 0 -3 0M184.2 288.7a1.5 1.5 0 1 0 3 0a1.5 1.5 0 1 0 -3 0M174.2 282.9a1.5 1.5 0 1 0 3 0a1.5 1.5 0 1 0 -3 0M191.4 308.5a1.5 1.5 0 1 0 3 0a1.5 1.5 0 1 0 -3 0M176.3 293.7a1.5 1.5 0 1 0 3 0a1.5 1.5 0 1 0 -3 0M195.4 309.3a1.5 1.5 0 1 0 3 0a1.5 1.5 0 1 0 -3 0M198.1 325.1a1.5 1.5 0 1 0 3 0a1.5 1.5 0 1 0 -3 0M192.9 303a1.5 1.5 0 1 0 3 0a1.5 1.5 0 1 0 -3 0M174.5 290.6a1.5 1.5 0 1 0 3 0a1.5 1.5 0 1 0 -3 0M180.6 325.4a1.5 1.5 0 1 0 3 0a1.5 1.5 0 1 0 -3 0M181.3 278.1a1.5 1.5 0 1 0 3 0a1.5 1.5 0 1 0 -3 0M187.5 321.7a1.5 1.5 0 1 0 3 0a1.5 1.5 0 1 0 -3 0M195.3 276.9a1.5 1.5 0 1 0 3 0a1.5 1.5 0 1 0 -3 0M193.9 284.4a1.5 1.5 0 1 0 3 0a1.5 1.5 0 1 0 -3 0M185.5 313.5a1.5 1.5 0 1 0 3 0a1.5 1.5 0 1 0 -3 0M194.4 309.6a1.5 1.5 0 1 0 3 0a1.5 1.5 0 1 0 -3 0M188.7 281.8a1.5 1.5 0 1 0 3 0a1.5 1.5 0 1 0 -3 0M176.4 321a1.5 1.5 0 1 0 3 0a1.5 1.5 0 1 0 -3 0M175.5 328.8a1.5 1.5 0 1 0 3 0a1.5 1.5 0 1 0 -3 0M184.7 310.9a1.5 1.5 0 1 0 3 0a1.5 1.5 0 1 0 -3 0M193.6 323a1.5 1.5 0 1 0 3 0a1.5 1.5 0 1 0 -3 0M190 286.1a1.5 1.5 0 1 0 3 0a1.5 1.5 0 1 0 -3 0M174.5 311.2a1.5 1.5 0 1 0 3 0a1.5 1.5 0 1 0 -3 0M194.3 284.9a1.5 1.5 0 1 0 3 0a1.5 1.5 0 1 0 -3 0M190.5 310.1a1.5 1.5 0 1 0 3 0a1.5 1.5 0 1 0 -3 0M188.8 323.1a1.5 1.5 0 1 0 3 0a1.5 1.5 0 1 0 -3 0M176 293.7a1.5 1.5 0 1 0 3 0a1.5 1.5 0 1 0 -3 0M193.9 310.3a1.5 1.5 0 1 0 3 0a1.5 1.5 0 1 0 -3 0M189.3 324.9a1.5 1.5 0 1 0 3 0a1.5 1.5 0 1 0 -3 0M184.7 318.5a1.5 1.5 0 1 0 3 0a1.5 1.5 0 1 0 -3 0M180.9 309.6a1.5 1.5 0 1 0 3 0a1.5 1.5 0 1 0 -3 0M198.3 275.5a1.5 1.5 0 1 0 3 0a1.5 1.5 0 1 0 -3 0M190.1 282.5a1.5 1.5 0 1 0 3 0a1.5 1.5 0 1 0 -3 0M174.9 305.5a1.5 1.5 0 1 0 3 0a1.5 1.5 0 1 0 -3 0M191.8 313.1a1.5 1.5 0 1 0 3 0a1.5 1.5 0 1 0 -3 0M183.4 322.3a1.5 1.5 0 1 0 3 0a1.5 1.5 0 1 0 -3 0M194.8 313.2a1.5 1.5 0 1 0 3 0a1.5 1.5 0 1 0 -3 0M181.5 311.3a1.5 1.5 0 1 0 3 0a1.5 1.5 0 1 0 -3 0M182.3 276.8a1.5 1.5 0 1 0 3 0a1.5 1.5 0 1 0 -3 0" fill="#F962EE" fill-opacity="0.14" stroke="#F962EE" stroke-opacity="0.26" stroke-width="0.8" filter="url(#f0)"/><path d="M175.1 301.6a1.5 1.5 0 1 0 3 0a1.5 1.5 0 1 0 -3 0M196.2 290.6a1.5 1.5 0 1 0 3 0a1.5 1.5 0 1 0 -3 0M188.1 283.3a1.5 1.5 0 1 0 3 0a1.5 1.5 0 1 0 -3 0M195.2 310.9a1.5 1.5 0 1 0 3 0a1.5 1.5 0 1 0 -3 0M173.6 328.2a1.5 1.5 0 1 0 3 0a1.5 1.5 0 1 0 -3 0M189.8 275.8a1.5 1.5 0 1 0 3 0a1.5 1.5 0 1 0 -3 0M181.7 316.6a1.5 1.5 0 1 0 3 0a1.5 1.5 0 1 0 -3 0M196.7 317.6a1.5 1.5 0 1 0 3 0a1.5 1.5 0 1 0 -3 0M181.9 295.6a1.5 1.5 0 1 0 3 0a1.5 1.5 0 1 0 -3 0M185.4 311.1a1.5 1.5 0 1 0 3 0a1.5 1.5 0 1 0 -3 0M173.5 322.7a1.5 1.5 0 1 0 3 0a1.5 1.5 0 1 0 -3 0M179.5 281.8a1.5 1.5 0 1 0 3 0a1.5 1.5 0 1 0 -3 0M184.7 302.3a1.5 1.5 0 1 0 3 0a1.5 1.5 0 1 0 -3 0M178.4 326.8a1.5 1.5 0 1 0 3 0a1.5 1.5 0 1 0 -3 0M193.2 313.2a1.5 1.5 0 1 0 3 0a1.5 1.5 0 1 0 -3 0M179.7 288.3a1.5 1.5 0 1 0 3 0a1.5 1.5 0 1 0 -3 0M179.4 314.7a1.5 1.5 0 1 0 3 0a1.5 1.5 0 1 0 -3 0M191.1 285.5a1.5 1.5 0 1 0 3 0a1.5 1.5 0 1 0 -3 0M176.1 302a1.5 1.5 0 1 0 3 0a1.5 1.5 0 1 0 -3 0M188.5 292.2a1.5 1.5 0 1 0 3 0a1.5 1.5 0 1 0 -3 0M172.8 328.3a1.5 1.5 0 1 0 3 0a1.5 1.5 0 1 0 -3 0M191.8 303.9a1.5 1.5 0 1 0 3 0a1.5 1.5 0 1 0 -3 0M177.7 319.8a1.5 1.5 0 1 0 3 0a1.5 1.5 0 1 0 -3 0M194.3 329a1.5 1.5 0 1 0 3 0a1.5 1.5 0 1 0 -3 0M192.3 302.3a1.5 1.5 0 1 0 3 0a1.5 1.5 0 1 0 -3 0M174 294.8a1.5 1.5 0 1 0 3 0a1.5 1.5 0 1 0 -3 0M190.3 305.6a1.5 1.5 0 1 0 3 0a1.5 1.5 0 1 0 -3 0M187.1 274.4a1.5 1.5 0 1 0 3 0a1.5 1.5 0 1 0 -3 0M179.9 307.4a1.5 1.5 0 1 0 3 0a1.5 1.5 0 1 0 -3 0M189.2 327.4a1.5 1.5 0 1 0 3 0a1.5 1.5 0 1 0 -3 0" fill="#00B0F6" fill-opacity="0.14" stroke="#00B0F6" stroke-opacity="0.26" stroke-width="0.8" filter="url(#f0)"/><path d="M199.9 296.9a1.5 1.5 0 1 0 3 0a1.5 1.5 0 1 0 -3 0M207.2 314.9a1.5 1.5 0 1 0 3 0a1.5 1.5 0 1 0 -3 0M207.7 274.7a1.5 1.5 0 1 0 3 0a1.5 1.5 0 1 0 -3 0M194.5 309.9a1.5 1.5 0 1 0 3 0a1.5 1.5 0 1 0 -3 0M201 300.7a1.5 1.5 0 1 0 3 0a1.5 1.5 0 1 0 -3 0M201.8 288.8a1.5 1.5 0 1 0 3 0a1.5 1.5 0 1 0 -3 0M208.5 288.7a1.5 1.5 0 1 0 3 0a1.5 1.5 0 1 0 -3 0M188.6 279a1.5 1.5 0 1 0 3 0a1.5 1.5 0 1 0 -3 0M192.9 294.6a1.5 1.5 0 1 0 3 0a1.5 1.5 0 1 0 -3 0M205 316.5a1.5 1.5 0 1 0 3 0a1.5 1.5 0 1 0 -3 0M191.1 282.4a1.5 1.5 0 1 0 3 0a1.5 1.5 0 1 0 -3 0M208.7 326.7a1.5 1.5 0 1 0 3 0a1.5 1.5 0 1 0 -3 0M192.3 326.5a1.5 1.5 0 1 0 3 0a1.5 1.5 0 1 0 -3 0M210.1 310.9a1.5 1.5 0 1 0 3 0a1.5 1.5 0 1 0 -3 0M195.1 307.2a1.5 1.5 0 1 0 3 0a1.5 1.5 0 1 0 -3 0M209.6 294.8a1.5 1.5 0 1 0 3 0a1.5 1.5 0 1 0 -3 0M190.5 293.7a1.5 1.5 0 1 0 3 0a1.5 1.5 0 1 0 -3 0M207 325.1a1.5 1.5 0 1 0 3 0a1.5 1.5 0 1 0 -3 0M192.4 313.5a1.5 1.5 0 1 0 3 0a1.5 1.5 0 1 0 -3 0M204.7 302.5a1.5 1.5 0 1 0 3 0a1.5 1.5 0 1 0 -3 0" fill="#00B0F6" fill-opacity="0.15" stroke="#00B0F6" stroke-opacity="0.29" stroke-width="0.8" filter="url(#f0)"/><path d="M189.5 285.1a1.5 1.5 0 1 0 3 0a1.5 1.5 0 1 0 -3 0M205 319.8a1.5 1.5 0 1 0 3 0a1.5 1.5 0 1 0 -3 0M190 306.3a1.5 1.5 0 1 0 3 0a1.5 1.5 0 1 0 -3 0M206.4 311.9a1.5 1.5 0 1 0 3 0a1.5 1.5 0 1 0 -3 0M201.4 326.3a1.5 1.5 0 1 0 3 0a1.5 1.5 0 1 0 -3 0M204.9 289.1a1.5 1.5 0 1 0 3 0a1.5 1.5 0 1 0 -3 0M194.4 293a1.5 1.5 0 1 0 3 0a1.5 1.5 0 1 0 -3 0M210.2 326.6a1.5 1.5 0 1 0 3 0a1.5 1.5 0 1 0 -3 0M193.3 279.8a1.5 1.5 0 1 0 3 0a1.5 1.5 0 1 0 -3 0M196.3 275.2a1.5 1.5 0 1 0 3 0a1.5 1.5 0 1 0 -3 0M193.4 310.3a1.5 1.5 0 1 0 3 0a1.5 1.5 0 1 0 -3 0M205.2 318a1.5 1.5 0 1 0 3 0a1.5 1.5 0 1 0 -3 0M190.9 295.7a1.5 1.5 0 1 0 3 0a1.5 1.5 0 1 0 -3 0M204.9 311.8a1.5 1.5 0 1 0 3 0a1.5 1.5 0 1 0 -3 0M206.3 320.5a1.5 1.5 0 1 0 3 0a1.5 1.5 0 1 0 -3 0M198 291.1a1.5 1.5 0 1 0 3 0a1.5 1.5 0 1 0 -3 0M191.9 317.4a1.5 1.5 0 1 0 3 0a1.5 1.5 0 1 0 -3 0M193.1 285.5a1.5 1.5 0 1 0 3 0a1.5 1.5 0 1 0 -3 0M202.8 296.2a1.5 1.5 0 1 0 3 0a1.5 1.5 0 1 0 -3 0M199.1 324.3a1.5 1.5 0 1 0 3 0a1.5 1.5 0 1 0 -3 0M191.3 296.9a1.5 1.5 0 1 0 3 0a1.5 1.5 0 1 0 -3 0M189.8 289.2a1.5 1.5 0 1 0 3 0a1.5 1.5 0 1 0 -3 0M196.7 286.5a1.5 1.5 0 1 0 3 0a1.5 1.5 0 1 0 -3 0M197.4 275.4a1.5 1.5 0 1 0 3 0a1.5 1.5 0 1 0 -3 0M189.6 327.1a1.5 1.5 0 1 0 3 0a1.5 1.5 0 1 0 -3 0M196.8 324.6a1.5 1.5 0 1 0 3 0a1.5 1.5 0 1 0 -3 0M199.4 299.7a1.5 1.5 0 1 0 3 0a1.5 1.5 0 1 0 -3 0M208.4 329.6a1.5 1.5 0 1 0 3 0a1.5 1.5 0 1 0 -3 0M200.1 292.2a1.5 1.5 0 1 0 3 0a1.5 1.5 0 1 0 -3 0M193.1 294.4a1.5 1.5 0 1 0 3 0a1.5 1.5 0 1 0 -3 0M208.1 283a1.5 1.5 0 1 0 3 0a1.5 1.5 0 1 0 -3 0M195 325.5a1.5 1.5 0 1 0 3 0a1.5 1.5 0 1 0 -3 0M198.3 303.2a1.5 1.5 0 1 0 3 0a1.5 1.5 0 1 0 -3 0M207.9 325.4a1.5 1.5 0 1 0 3 0a1.5 1.5 0 1 0 -3 0M197.5 288.6a1.5 1.5 0 1 0 3 0a1.5 1.5 0 1 0 -3 0M193.6 297.3a1.5 1.5 0 1 0 3 0a1.5 1.5 0 1 0 -3 0M195.6 278.8a1.5 1.5 0 1 0 3 0a1.5 1.5 0 1 0 -3 0M204.7 306.3a1.5 1.5 0 1 0 3 0a1.5 1.5 0 1 0 -3 0M201.5 320.9a1.5 1.5 0 1 0 3 0a1.5 1.5 0 1 0 -3 0M202.6 304.4a1.5 1.5 0 1 0 3 0a1.5 1.5 0 1 0 -3 0" fill="#F962EE" fill-opacity="0.15" stroke="#F962EE" stroke-opacity="0.29" stroke-width="0.8" filter="url(#f0)"/><path d="M165 289.3a1.5 1.5 0 1 0 3 0a1.5 1.5 0 1 0 -3 0M163.9 289.1a1.5 1.5 0 1 0 3 0a1.5 1.5 0 1 0 -3 0M166.4 316.5a1.5 1.5 0 1 0 3 0a1.5 1.5 0 1 0 -3 0M162.6 306a1.5 1.5 0 1 0 3 0a1.5 1.5 0 1 0 -3 0M163.9 330.9a1.5 1.5 0 1 0 3 0a1.5 1.5 0 1 0 -3 0M162.7 289.3a1.5 1.5 0 1 0 3 0a1.5 1.5 0 1 0 -3 0M164.8 335a1.5 1.5 0 1 0 3 0a1.5 1.5 0 1 0 -3 0M166.2 319.3a1.5 1.5 0 1 0 3 0a1.5 1.5 0 1 0 -3 0" fill="#00B0F6" fill-opacity="0.21" stroke="#00B0F6" stroke-opacity="0.39" stroke-width="0.8" filter="url(#f0)"/><path d="M185 318L227 314L227 345L185 345Z" fill="#F962EE" fill-opacity="0.55"/><path d="M197 273L227 273L227 345L197 345Z" fill="#F962EE" fill-opacity="0.45"/><path d="M208 273L227 273L227 345L208 345Z" fill="#F962EE" fill-opacity="0.6"/><rect x="201.8" y="273.5" width="3.6" height="71.5" rx="1.8" fill="#F962EE" fill-opacity="0.45"/><rect x="206.2" y="273.5" width="3.6" height="71.5" rx="1.8" fill="#F962EE" fill-opacity="0.5"/><rect x="212" y="273.5" width="3.6" height="71.5" rx="1.8" fill="#F962EE" fill-opacity="0.6"/><rect x="214.8" y="273.5" width="3.6" height="71.5" rx="1.8" fill="#F962EE" fill-opacity="0.65"/><rect x="221.4" y="273.5" width="3.6" height="71.5" rx="1.8" fill="#F962EE" fill-opacity="0.75"/><path d="M226.5 272.5L270.7 272.5L272 300L273.2 317L276 330L279 343L279 350L226.5 350Z" fill="#F962EE"/><rect x="220.2" y="273" width="1.2" height="58" fill="#F4E4F2" fill-opacity="0.9"/><rect x="225" y="273" width="1.2" height="58" fill="#F4E4F2" fill-opacity="0.9"/><rect x="239.1" y="273" width="1" height="50" fill="#F8C8F4" fill-opacity="0.7"/><rect x="243.2" y="273" width="1" height="50" fill="#F8C8F4" fill-opacity="0.7"/><rect x="248.9" y="273" width="1" height="50" fill="#F8C8F4" fill-opacity="0.7"/><path d="M245.3 293.3a1.5 1.5 0 1 0 3 0a1.5 1.5 0 1 0 -3 0M229.5 290.4a1.5 1.5 0 1 0 3 0a1.5 1.5 0 1 0 -3 0M259 295.8a1.5 1.5 0 1 0 3 0a1.5 1.5 0 1 0 -3 0M253.9 292a1.5 1.5 0 1 0 3 0a1.5 1.5 0 1 0 -3 0M240.1 283.8a1.5 1.5 0 1 0 3 0a1.5 1.5 0 1 0 -3 0M237.8 287.2a1.5 1.5 0 1 0 3 0a1.5 1.5 0 1 0 -3 0M226.8 299.8a1.5 1.5 0 1 0 3 0a1.5 1.5 0 1 0 -3 0M247 297a1.5 1.5 0 1 0 3 0a1.5 1.5 0 1 0 -3 0M230.5 280.2a1.5 1.5 0 1 0 3 0a1.5 1.5 0 1 0 -3 0M232 296.7a1.5 1.5 0 1 0 3 0a1.5 1.5 0 1 0 -3 0M248.1 295.3a1.5 1.5 0 1 0 3 0a1.5 1.5 0 1 0 -3 0M252.8 299.9a1.5 1.5 0 1 0 3 0a1.5 1.5 0 1 0 -3 0M248.8 294.5a1.5 1.5 0 1 0 3 0a1.5 1.5 0 1 0 -3 0M256.1 284.5a1.5 1.5 0 1 0 3 0a1.5 1.5 0 1 0 -3 0M244.2 281a1.5 1.5 0 1 0 3 0a1.5 1.5 0 1 0 -3 0M249 289.8a1.5 1.5 0 1 0 3 0a1.5 1.5 0 1 0 -3 0M232 288.2a1.5 1.5 0 1 0 3 0a1.5 1.5 0 1 0 -3 0M231.8 297.5a1.5 1.5 0 1 0 3 0a1.5 1.5 0 1 0 -3 0M232.2 282.5a1.5 1.5 0 1 0 3 0a1.5 1.5 0 1 0 -3 0M258.4 283.6a1.5 1.5 0 1 0 3 0a1.5 1.5 0 1 0 -3 0" fill="#B090F0" fill-opacity="0.14" stroke="#B090F0" stroke-opacity="0.26" stroke-width="0.8" filter="url(#f0)"/><path d="M176 341.2L177.5 341.2L179 341.2L180.5 341.2L182 341.3L183.5 341.3L185 341.3L186.5 341.3L188 341.4L189.5 341.4L191 341.4L192.5 341.4L194 341.5L195.5 341.5L197 341.5L198.5 341.5L200 341.6L201.5 341.6L203 341.6L204.5 341.6L206 341.7L207.5 341.7L209 341.7L210.5 341.7L212 341.8L213.5 341.8L215 341.8L216.5 341.8L218 341.8L219.5 341.9L221 341.9L222.5 341.9L224 341.9L225.5 341.9L227 341.9L228.5 342L230 342L231.5 342L233 342L234.5 342L236 342L237.5 342L239 342.1L240.5 342.1L242 342.1L243.5 342.1L245 342.1L246.5 342.2L248 342.2L249.5 342.2L251 342.2L252.5 342.3L254 342.3L255.5 342.3L257 342.4L258.5 342.4L260 342.5L261.5 342.5L263 342.6L264.5 342.7L266 342.9L267.5 343.2L269 343.7L270.5 344.3L272 344.9L273.5 345.6L275 346.3L276.5 347.3L278 348.4L279.5 349.4L280 349.8L280 353.4L279.5 353.4L278 353.4L276.5 353.4L275 353.4L273.5 353.4L272 353.4L270.5 353.4L269 353.4L267.5 353.4L266 353.4L264.5 353.4L263 353.4L261.5 353.4L260 353.4L258.5 353.4L257 353.4L255.5 353.4L254 353.4L252.5 353.4L251 353.4L249.5 353.4L248 353.4L246.5 353.4L245 353.4L243.5 353.4L242 353.4L240.5 353.4L239 353.4L237.5 353.4L236 353.4L234.5 353.4L233 353.4L231.5 353.4L230 353.4L228.5 353.4L227 353.4L225.5 353.4L224 353.4L222.5 353.4L221 353.4L219.5 353.4L218 353.4L216.5 353.4L215 353.4L213.5 353.4L212 353.4L210.5 353.4L209 353.4L207.5 353.4L206 353.4L204.5 353.4L203 353.4L201.5 353.4L200 353.4L198.5 353.4L197 353.4L195.5 353.4L194 353.4L192.5 353.4L191 353.4L189.5 353.4L188 353.4L186.5 353.4L185 353.4L183.5 353.4L182 353.4L180.5 353.4L179 353.4L177.5 353.4L176 353.4Z" fill="#00B0F6" fill-opacity="0.9"/><path d="M176 346L177.5 346L179 346L180.5 346L182 346L183.5 346L185 346L186.5 346L188 346L189.5 346L191 346L192.5 346L194 346L195.5 346.1L197 346.1L198.5 346.1L200 346.1L201.5 346.1L203 346.1L204.5 346.1L206 346.1L207.5 346.1L209 346.1L210.5 346.1L212 346.1L213.5 346.1L215 346.1L216.5 346.1L218 346.1L219.5 346.1L221 346.1L222.5 346.1L224 346.1L225.5 346.1L227 346.1L228.5 346.2L230 346.2L231.5 346.2L233 346.2L234.5 346.2L236 346.2L237.5 346.2L239 346.2L240.5 346.2L242 346.2L243.5 346.3L245 346.3L246.5 346.3L248 346.3L249.5 346.3L251 346.4L252.5 346.4L254 346.4L255.5 346.4L257 346.5L258.5 346.5L260 346.5L261.5 346.5L263 346.6L264.5 346.6L266 346.7L267.5 346.9L269 347.1L270.5 347.3L272 347.6L273.5 348L275 348.5L276.5 349.1L278 349.8L279.5 350.4L280 350.6L280 353.4L279.5 353.4L278 353.4L276.5 353.4L275 353.4L273.5 353.4L272 353.4L270.5 353.4L269 353.4L267.5 353.4L266 353.4L264.5 353.4L263 353.4L261.5 353.4L260 353.4L258.5 353.4L257 353.4L255.5 353.4L254 353.4L252.5 353.4L251 353.4L249.5 353.4L248 353.4L246.5 353.4L245 353.4L243.5 353.4L242 353.4L240.5 353.4L239 353.4L237.5 353.4L236 353.4L234.5 353.4L233 353.4L231.5 353.4L230 353.4L228.5 353.4L227 353.4L225.5 353.4L224 353.4L222.5 353.4L221 353.4L219.5 353.4L218 353.4L216.5 353.4L215 353.4L213.5 353.4L212 353.4L210.5 353.4L209 353.4L207.5 353.4L206 353.4L204.5 353.4L203 353.4L201.5 353.4L200 353.4L198.5 353.4L197 353.4L195.5 353.4L194 353.4L192.5 353.4L191 353.4L189.5 353.4L188 353.4L186.5 353.4L185 353.4L183.5 353.4L182 353.4L180.5 353.4L179 353.4L177.5 353.4L176 353.4Z" fill="#00BF7D" fill-opacity="0.9"/><path d="M176 349.9L177.5 349.9L179 349.9L180.5 349.9L182 349.8L183.5 349.8L185 349.8L186.5 349.8L188 349.8L189.5 349.8L191 349.7L192.5 349.7L194 349.7L195.5 349.7L197 349.7L198.5 349.7L200 349.7L201.5 349.7L203 349.6L204.5 349.6L206 349.6L207.5 349.6L209 349.6L210.5 349.6L212 349.6L213.5 349.6L215 349.6L216.5 349.6L218 349.6L219.5 349.6L221 349.6L222.5 349.6L224 349.6L225.5 349.6L227 349.6L228.5 349.6L230 349.6L231.5 349.6L233 349.6L234.5 349.7L236 349.7L237.5 349.7L239 349.7L240.5 349.7L242 349.7L243.5 349.7L245 349.7L246.5 349.8L248 349.8L249.5 349.8L251 349.8L252.5 349.8L254 349.8L255.5 349.9L257 349.9L258.5 349.9L260 349.9L261.5 350L263 350L264.5 350L266 350.1L267.5 350.2L269 350.4L270.5 350.6L272 350.9L273.5 351.1L275 351.4L276.5 351.6L278 351.9L279.5 352.1L280 352.2L280 353.4L279.5 353.4L278 353.4L276.5 353.4L275 353.4L273.5 353.4L272 353.4L270.5 353.4L269 353.4L267.5 353.4L266 353.4L264.5 353.4L263 353.4L261.5 353.4L260 353.4L258.5 353.4L257 353.4L255.5 353.4L254 353.4L252.5 353.4L251 353.4L249.5 353.4L248 353.4L246.5 353.4L245 353.4L243.5 353.4L242 353.4L240.5 353.4L239 353.4L237.5 353.4L236 353.4L234.5 353.4L233 353.4L231.5 353.4L230 353.4L228.5 353.4L227 353.4L225.5 353.4L224 353.4L222.5 353.4L221 353.4L219.5 353.4L218 353.4L216.5 353.4L215 353.4L213.5 353.4L212 353.4L210.5 353.4L209 353.4L207.5 353.4L206 353.4L204.5 353.4L203 353.4L201.5 353.4L200 353.4L198.5 353.4L197 353.4L195.5 353.4L194 353.4L192.5 353.4L191 353.4L189.5 353.4L188 353.4L186.5 353.4L185 353.4L183.5 353.4L182 353.4L180.5 353.4L179 353.4L177.5 353.4L176 353.4Z" fill="#A3A500" fill-opacity="0.75"/><path d="M176 351.7L177.5 351.7L179 351.7L180.5 351.7L182 351.6L183.5 351.6L185 351.6L186.5 351.6L188 351.6L189.5 351.6L191 351.5L192.5 351.5L194 351.5L195.5 351.5L197 351.5L198.5 351.5L200 351.5L201.5 351.5L203 351.4L204.5 351.4L206 351.4L207.5 351.4L209 351.4L210.5 351.4L212 351.4L213.5 351.4L215 351.4L216.5 351.4L218 351.4L219.5 351.4L221 351.4L222.5 351.4L224 351.4L225.5 351.4L227 351.4L228.5 351.4L230 351.4L231.5 351.4L233 351.4L234.5 351.5L236 351.5L237.5 351.5L239 351.5L240.5 351.5L242 351.5L243.5 351.5L245 351.5L246.5 351.6L248 351.6L249.5 351.6L251 351.6L252.5 351.6L254 351.6L255.5 351.7L257 351.7L258.5 351.7L260 351.7L261.5 351.8L263 351.8L264.5 351.8L266 351.9L267.5 352L269 352.2L270.5 352.4L272 352.7L273.5 352.9L275 353.2L276.5 353.4L278 353.7L279.5 353.9L280 354L280 353.4L279.5 353.4L278 353.4L276.5 353.4L275 353.4L273.5 353.4L272 353.4L270.5 353.4L269 353.4L267.5 353.4L266 353.4L264.5 353.4L263 353.4L261.5 353.4L260 353.4L258.5 353.4L257 353.4L255.5 353.4L254 353.4L252.5 353.4L251 353.4L249.5 353.4L248 353.4L246.5 353.4L245 353.4L243.5 353.4L242 353.4L240.5 353.4L239 353.4L237.5 353.4L236 353.4L234.5 353.4L233 353.4L231.5 353.4L230 353.4L228.5 353.4L227 353.4L225.5 353.4L224 353.4L222.5 353.4L221 353.4L219.5 353.4L218 353.4L216.5 353.4L215 353.4L213.5 353.4L212 353.4L210.5 353.4L209 353.4L207.5 353.4L206 353.4L204.5 353.4L203 353.4L201.5 353.4L200 353.4L198.5 353.4L197 353.4L195.5 353.4L194 353.4L192.5 353.4L191 353.4L189.5 353.4L188 353.4L186.5 353.4L185 353.4L183.5 353.4L182 353.4L180.5 353.4L179 353.4L177.5 353.4L176 353.4Z" fill="#F8766D" fill-opacity="0.85"/><path d="M166 318.9L167.6 318.9L169.2 319L170.8 319L172.3 319.1L173.9 319.1L175.5 319.2L177.1 319.2L178.7 319.3L180.2 319.3L181.8 319.4L183.4 319.4L185 319.5L186.5 319.6L188 319.6L189.5 319.7L191 319.8L192.5 319.9L194 320L195.5 320.1L197 320.2L198.5 320.3L200 320.4L201.5 320.5L203 320.7L204.5 320.8L206 321L207.5 321.1L209 321.3L210.5 321.5L212 321.7L213.5 321.8L215 322" stroke="#F962EE" stroke-width="1.75" fill="none" stroke-linejoin="round" stroke-linecap="round"/><path d="M166 330.5L167.5 330.5L169.1 330.6L170.6 330.6L172.2 330.7L173.7 330.7L175.3 330.7L176.8 330.8L178.4 330.8L179.9 330.8L181.5 330.9L183 330.9L184.5 330.9L186.1 331L187.6 331L189.2 331.1L190.7 331.1L192.3 331.2L193.8 331.2L195.4 331.3L196.9 331.4L198.5 331.4L200 331.5L201.5 331.6L203 331.8L204.5 331.9L206 332.2L207.5 332.4L209 332.6L210.5 332.8L212 333L213.5 333.2L215 333.3L216.5 333.4L218 333.5L219.5 333.5L221 333.6L222.5 333.6L224 333.7L225.5 333.7L227 333.8L228.5 333.8L230 333.8L231.5 333.9L233 333.9L234.5 333.9L236 334L237.5 334L239 334L240.5 334.1L242 334.1L243.5 334.2L245 334.3L246.5 334.3L248 334.4L249.6 334.5L251.2 334.6L252.8 334.7L254.4 334.8L256 334.9L257.6 335.1L259.2 335.3L260.8 335.5L262.4 335.7L264 336L265.7 336.5L267.4 337.2L269 338L270.7 339.1L272.4 340.1L273.9 341.2L275.4 342.4L277 343.8L278.5 345.2L280 346.5" stroke="#00B0F6" stroke-width="1.75" fill="none" stroke-linejoin="round" stroke-linecap="round"/><path d="M166 340.2L167.5 340.2L169.1 340.2L170.6 340.3L172.1 340.3L173.7 340.3L175.2 340.3L176.7 340.4L178.2 340.4L179.8 340.4L181.3 340.4L182.8 340.5L184.4 340.5L185.9 340.5L187.4 340.6L189 340.6L190.5 340.6L192 340.6L193.6 340.6L195.1 340.7L196.6 340.7L198.2 340.7L199.7 340.8L201.2 340.8L202.8 340.8L204.3 340.8L205.8 340.8L207.3 340.9L208.9 340.9L210.4 340.9L211.9 340.9L213.5 341L215 341L216.5 341L218.1 341L219.6 341.1L221.1 341.1L222.7 341.1L224.2 341.1L225.7 341.1L227.2 341.1L228.8 341.2L230.3 341.2L231.8 341.2L233.4 341.2L234.9 341.2L236.4 341.2L238 341.2L239.5 341.3L241 341.3L242.6 341.3L244.1 341.3L245.6 341.3L247.2 341.4L248.7 341.4L250.2 341.4L251.8 341.4L253.3 341.5L254.8 341.5L256.3 341.6L257.9 341.6L259.4 341.6L260.9 341.7L262.5 341.7L264 341.8L265.7 342L267.3 342.4L269 342.9L270.7 343.5L272.3 344.3L274 345L275.5 345.8L277 346.8L278.5 347.9L280 349" stroke="#00BF7D" stroke-width="1.75" fill="none" stroke-linejoin="round" stroke-linecap="round"/><path d="M166 345.4L167.5 345.4L169.1 345.4L170.6 345.4L172.1 345.4L173.7 345.4L175.2 345.4L176.7 345.4L178.2 345.4L179.8 345.4L181.3 345.4L182.8 345.4L184.4 345.4L185.9 345.4L187.4 345.4L189 345.4L190.5 345.4L192 345.4L193.6 345.4L195.1 345.4L196.6 345.5L198.2 345.5L199.7 345.5L201.2 345.5L202.8 345.5L204.3 345.5L205.8 345.5L207.3 345.5L208.9 345.5L210.4 345.5L211.9 345.5L213.5 345.5L215 345.5L216.5 345.5L218.1 345.5L219.6 345.5L221.1 345.5L222.7 345.5L224.2 345.5L225.7 345.5L227.2 345.5L228.8 345.6L230.3 345.6L231.8 345.6L233.4 345.6L234.9 345.6L236.4 345.6L238 345.6L239.5 345.6L241 345.6L242.6 345.7L244.1 345.7L245.6 345.7L247.2 345.7L248.7 345.7L250.2 345.7L251.8 345.8L253.3 345.8L254.8 345.8L256.3 345.8L257.9 345.9L259.4 345.9L260.9 345.9L262.5 346L264 346L265.6 346.1L267.2 346.2L268.8 346.5L270.4 346.7L272 347L273.6 347.4L275.2 348L276.8 348.7L278.4 349.4L280 350" stroke="#A3A500" stroke-width="1.75" fill="none" stroke-linejoin="round" stroke-linecap="round"/><path d="M166 349.4L167.5 349.4L169.1 349.4L170.6 349.4L172.1 349.3L173.7 349.3L175.2 349.3L176.7 349.3L178.2 349.3L179.8 349.3L181.3 349.2L182.8 349.2L184.4 349.2L185.9 349.2L187.4 349.2L189 349.2L190.5 349.1L192 349.1L193.6 349.1L195.1 349.1L196.6 349.1L198.2 349.1L199.7 349.1L201.2 349.1L202.8 349L204.3 349L205.8 349L207.3 349L208.9 349L210.4 349L211.9 349L213.5 349L215 349L216.5 349L218.1 349L219.6 349L221.1 349L222.7 349L224.2 349L225.7 349L227.2 349L228.8 349L230.3 349L231.8 349L233.4 349L234.9 349.1L236.4 349.1L238 349.1L239.5 349.1L241 349.1L242.6 349.1L244.1 349.1L245.6 349.1L247.2 349.2L248.7 349.2L250.2 349.2L251.8 349.2L253.3 349.2L254.8 349.3L256.3 349.3L257.9 349.3L259.4 349.3L260.9 349.3L262.5 349.4L264 349.4L265.6 349.5L267.2 349.6L268.8 349.8L270.4 350L272 350.3L273.6 350.5L275.2 350.8L276.8 351.1L278.4 351.4L280 351.6" stroke="#F8766D" stroke-width="1.75" fill="none" stroke-linejoin="round" stroke-linecap="round"/>
</g>
<rect x="160.3" y="252.6" width="124" height="16" fill="#D9D9D9"/>
<text x="222.3" y="264.9" class="st">v_outsiderpct</text>
<text x="166.5" y="370.2" class="tx">0.00</text>
<text x="194.8" y="370.2" class="tx">0.25</text>
<text x="223.1" y="370.2" class="tx">0.50</text>
<text x="251.3" y="370.2" class="tx">0.75</text>
<text x="279.6" y="370.2" class="tx">1.00</text>
<path d="M166.5 356.6v2.9M194.8 356.6v2.9M223.1 356.6v2.9M251.3 356.6v2.9M279.6 356.6v2.9" stroke="#333333" stroke-width="1.05" fill="none"/>
<rect x="289.7" y="268.6" width="124" height="88" fill="#EBEBEB"/>
<path d="M309.5 268.6V356.6M337.7 268.6V356.6M366 268.6V356.6M394.2 268.6V356.6M289.7 351.7H413.7M289.7 329.5H413.7M289.7 307.4H413.7M289.7 285.3H413.7" stroke="#F7F7F7" stroke-width="0.55" fill="none"/>
<path d="M295.4 268.6V356.6M323.6 268.6V356.6M351.9 268.6V356.6M380.1 268.6V356.6M408.3 268.6V356.6M289.7 340.6H413.7M289.7 318.5H413.7M289.7 296.3H413.7M289.7 274.2H413.7" stroke="#FFFFFF" stroke-width="1.05" fill="none"/>
<g clip-path="url(#c10)">
<rect x="294" y="272.1" width="3.6" height="70.9" fill="#F962EE"/><rect x="294" y="343" width="3.6" height="4.7" fill="#00B0F6"/><rect x="294" y="347.7" width="3.6" height="2.8" fill="#00BF7D"/><rect x="294" y="350.6" width="3.6" height="1.9" fill="#A3A500"/><rect x="294" y="352.5" width="3.6" height="1.9" fill="#F8766D"/><rect x="406.8" y="272.1" width="3.6" height="70.9" fill="#F962EE"/><rect x="406.8" y="343" width="3.6" height="4.7" fill="#00B0F6"/><rect x="406.8" y="347.7" width="3.6" height="2.8" fill="#00BF7D"/><rect x="406.8" y="350.6" width="3.6" height="1.9" fill="#A3A500"/><rect x="406.8" y="352.5" width="3.6" height="1.9" fill="#F8766D"/>
</g>
<rect x="289.7" y="252.6" width="124" height="16" fill="#D9D9D9"/>
<text x="351.7" y="264.9" class="st">v_relativeflag</text>
<text x="295.4" y="370.2" class="tx">0.00</text>
<text x="323.6" y="370.2" class="tx">0.25</text>
<text x="351.9" y="370.2" class="tx">0.50</text>
<text x="380.1" y="370.2" class="tx">0.75</text>
<text x="408.3" y="370.2" class="tx">1.00</text>
<path d="M295.4 356.6v2.9M323.6 356.6v2.9M351.9 356.6v2.9M380.1 356.6v2.9M408.3 356.6v2.9" stroke="#333333" stroke-width="1.05" fill="none"/>
<rect x="419" y="268.6" width="124" height="88" fill="#EBEBEB"/>
<path d="M440.9 268.6V356.6M472.6 268.6V356.6M504.2 268.6V356.6M535.8 268.6V356.6M419 351.7H543M419 329.5H543M419 307.4H543M419 285.3H543" stroke="#F7F7F7" stroke-width="0.55" fill="none"/>
<path d="M425.1 268.6V356.6M456.7 268.6V356.6M488.4 268.6V356.6M520 268.6V356.6M419 340.6H543M419 318.5H543M419 296.3H543M419 274.2H543" stroke="#FFFFFF" stroke-width="1.05" fill="none"/>
<g clip-path="url(#c11)">
<path d="M503.9 286.8a1.5 1.5 0 1 0 3 0a1.5 1.5 0 1 0 -3 0M491.3 298.8a1.5 1.5 0 1 0 3 0a1.5 1.5 0 1 0 -3 0M496.4 318.4a1.5 1.5 0 1 0 3 0a1.5 1.5 0 1 0 -3 0M499.7 297.6a1.5 1.5 0 1 0 3 0a1.5 1.5 0 1 0 -3 0M491.5 275.2a1.5 1.5 0 1 0 3 0a1.5 1.5 0 1 0 -3 0M506.3 302.4a1.5 1.5 0 1 0 3 0a1.5 1.5 0 1 0 -3 0M505.6 322.5a1.5 1.5 0 1 0 3 0a1.5 1.5 0 1 0 -3 0M483.6 295a1.5 1.5 0 1 0 3 0a1.5 1.5 0 1 0 -3 0M485.4 330.2a1.5 1.5 0 1 0 3 0a1.5 1.5 0 1 0 -3 0M499.2 300.3a1.5 1.5 0 1 0 3 0a1.5 1.5 0 1 0 -3 0M508.1 308.3a1.5 1.5 0 1 0 3 0a1.5 1.5 0 1 0 -3 0M492.8 334.1a1.5 1.5 0 1 0 3 0a1.5 1.5 0 1 0 -3 0M486.4 286.3a1.5 1.5 0 1 0 3 0a1.5 1.5 0 1 0 -3 0M494.9 309.7a1.5 1.5 0 1 0 3 0a1.5 1.5 0 1 0 -3 0M508.6 310.4a1.5 1.5 0 1 0 3 0a1.5 1.5 0 1 0 -3 0M477.4 334a1.5 1.5 0 1 0 3 0a1.5 1.5 0 1 0 -3 0M492.8 318a1.5 1.5 0 1 0 3 0a1.5 1.5 0 1 0 -3 0M474.3 276.7a1.5 1.5 0 1 0 3 0a1.5 1.5 0 1 0 -3 0M501.1 314.2a1.5 1.5 0 1 0 3 0a1.5 1.5 0 1 0 -3 0M505.7 296.6a1.5 1.5 0 1 0 3 0a1.5 1.5 0 1 0 -3 0M480.6 280.9a1.5 1.5 0 1 0 3 0a1.5 1.5 0 1 0 -3 0M510.3 300.8a1.5 1.5 0 1 0 3 0a1.5 1.5 0 1 0 -3 0M490.3 276.3a1.5 1.5 0 1 0 3 0a1.5 1.5 0 1 0 -3 0M506.1 288a1.5 1.5 0 1 0 3 0a1.5 1.5 0 1 0 -3 0M474.7 307.6a1.5 1.5 0 1 0 3 0a1.5 1.5 0 1 0 -3 0M485.8 286.3a1.5 1.5 0 1 0 3 0a1.5 1.5 0 1 0 -3 0M484.5 299.7a1.5 1.5 0 1 0 3 0a1.5 1.5 0 1 0 -3 0M496 284.6a1.5 1.5 0 1 0 3 0a1.5 1.5 0 1 0 -3 0M504 307.6a1.5 1.5 0 1 0 3 0a1.5 1.5 0 1 0 -3 0M476.9 330.1a1.5 1.5 0 1 0 3 0a1.5 1.5 0 1 0 -3 0M499.3 307.1a1.5 1.5 0 1 0 3 0a1.5 1.5 0 1 0 -3 0M499.1 331.6a1.5 1.5 0 1 0 3 0a1.5 1.5 0 1 0 -3 0M482.7 312.5a1.5 1.5 0 1 0 3 0a1.5 1.5 0 1 0 -3 0M504.6 321.8a1.5 1.5 0 1 0 3 0a1.5 1.5 0 1 0 -3 0M504 292.9a1.5 1.5 0 1 0 3 0a1.5 1.5 0 1 0 -3 0M482.4 291.8a1.5 1.5 0 1 0 3 0a1.5 1.5 0 1 0 -3 0M498.1 337a1.5 1.5 0 1 0 3 0a1.5 1.5 0 1 0 -3 0M480 304a1.5 1.5 0 1 0 3 0a1.5 1.5 0 1 0 -3 0M509.8 313a1.5 1.5 0 1 0 3 0a1.5 1.5 0 1 0 -3 0M489.6 321.6a1.5 1.5 0 1 0 3 0a1.5 1.5 0 1 0 -3 0M487.7 286.3a1.5 1.5 0 1 0 3 0a1.5 1.5 0 1 0 -3 0M482 325.3a1.5 1.5 0 1 0 3 0a1.5 1.5 0 1 0 -3 0M477.7 289.6a1.5 1.5 0 1 0 3 0a1.5 1.5 0 1 0 -3 0M484.1 292.4a1.5 1.5 0 1 0 3 0a1.5 1.5 0 1 0 -3 0M505.3 322.5a1.5 1.5 0 1 0 3 0a1.5 1.5 0 1 0 -3 0M480 287.9a1.5 1.5 0 1 0 3 0a1.5 1.5 0 1 0 -3 0M496.5 292.7a1.5 1.5 0 1 0 3 0a1.5 1.5 0 1 0 -3 0M488.3 289.5a1.5 1.5 0 1 0 3 0a1.5 1.5 0 1 0 -3 0M501.6 334.5a1.5 1.5 0 1 0 3 0a1.5 1.5 0 1 0 -3 0M506.4 316.2a1.5 1.5 0 1 0 3 0a1.5 1.5 0 1 0 -3 0M499.3 287.6a1.5 1.5 0 1 0 3 0a1.5 1.5 0 1 0 -3 0M490.1 318.1a1.5 1.5 0 1 0 3 0a1.5 1.5 0 1 0 -3 0M489.5 275.2a1.5 1.5 0 1 0 3 0a1.5 1.5 0 1 0 -3 0M473.9 276.2a1.5 1.5 0 1 0 3 0a1.5 1.5 0 1 0 -3 0M475.4 301.2a1.5 1.5 0 1 0 3 0a1.5 1.5 0 1 0 -3 0M475.8 288.1a1.5 1.5 0 1 0 3 0a1.5 1.5 0 1 0 -3 0M498.6 277.1a1.5 1.5 0 1 0 3 0a1.5 1.5 0 1 0 -3 0M480.5 275.6a1.5 1.5 0 1 0 3 0a1.5 1.5 0 1 0 -3 0M479.2 289.7a1.5 1.5 0 1 0 3 0a1.5 1.5 0 1 0 -3 0M508.2 313.2a1.5 1.5 0 1 0 3 0a1.5 1.5 0 1 0 -3 0M504.8 313.2a1.5 1.5 0 1 0 3 0a1.5 1.5 0 1 0 -3 0M478.8 286a1.5 1.5 0 1 0 3 0a1.5 1.5 0 1 0 -3 0M490.4 327.6a1.5 1.5 0 1 0 3 0a1.5 1.5 0 1 0 -3 0M473.2 311.5a1.5 1.5 0 1 0 3 0a1.5 1.5 0 1 0 -3 0M487.6 320.6a1.5 1.5 0 1 0 3 0a1.5 1.5 0 1 0 -3 0M499 324.1a1.5 1.5 0 1 0 3 0a1.5 1.5 0 1 0 -3 0M487.5 330.1a1.5 1.5 0 1 0 3 0a1.5 1.5 0 1 0 -3 0M494.3 311.1a1.5 1.5 0 1 0 3 0a1.5 1.5 0 1 0 -3 0M495.5 279.1a1.5 1.5 0 1 0 3 0a1.5 1.5 0 1 0 -3 0M483.1 280.9a1.5 1.5 0 1 0 3 0a1.5 1.5 0 1 0 -3 0M479.9 326a1.5 1.5 0 1 0 3 0a1.5 1.5 0 1 0 -3 0M505.3 304.8a1.5 1.5 0 1 0 3 0a1.5 1.5 0 1 0 -3 0M474.1 325.5a1.5 1.5 0 1 0 3 0a1.5 1.5 0 1 0 -3 0M508.8 280.8a1.5 1.5 0 1 0 3 0a1.5 1.5 0 1 0 -3 0M494.1 285.8a1.5 1.5 0 1 0 3 0a1.5 1.5 0 1 0 -3 0M510.4 303a1.5 1.5 0 1 0 3 0a1.5 1.5 0 1 0 -3 0M492 303.8a1.5 1.5 0 1 0 3 0a1.5 1.5 0 1 0 -3 0M495.1 318.5a1.5 1.5 0 1 0 3 0a1.5 1.5 0 1 0 -3 0M496.1 287.8a1.5 1.5 0 1 0 3 0a1.5 1.5 0 1 0 -3 0M502.4 294.2a1.5 1.5 0 1 0 3 0a1.5 1.5 0 1 0 -3 0M510.3 332.6a1.5 1.5 0 1 0 3 0a1.5 1.5 0 1 0 -3 0M508.8 323a1.5 1.5 0 1 0 3 0a1.5 1.5 0 1 0 -3 0M499.5 286.6a1.5 1.5 0 1 0 3 0a1.5 1.5 0 1 0 -3 0M497.1 327.6a1.5 1.5 0 1 0 3 0a1.5 1.5 0 1 0 -3 0M504.4 322.5a1.5 1.5 0 1 0 3 0a1.5 1.5 0 1 0 -3 0M507.6 323.9a1.5 1.5 0 1 0 3 0a1.5 1.5 0 1 0 -3 0M499.1 317.9a1.5 1.5 0 1 0 3 0a1.5 1.5 0 1 0 -3 0M475.3 290a1.5 1.5 0 1 0 3 0a1.5 1.5 0 1 0 -3 0M481.3 288.8a1.5 1.5 0 1 0 3 0a1.5 1.5 0 1 0 -3 0M496.1 301.3a1.5 1.5 0 1 0 3 0a1.5 1.5 0 1 0 -3 0M482.4 338a1.5 1.5 0 1 0 3 0a1.5 1.5 0 1 0 -3 0M477.5 317.3a1.5 1.5 0 1 0 3 0a1.5 1.5 0 1 0 -3 0M493.7 291.4a1.5 1.5 0 1 0 3 0a1.5 1.5 0 1 0 -3 0M504.6 282.8a1.5 1.5 0 1 0 3 0a1.5 1.5 0 1 0 -3 0M483.4 316.4a1.5 1.5 0 1 0 3 0a1.5 1.5 0 1 0 -3 0M478 278.2a1.5 1.5 0 1 0 3 0a1.5 1.5 0 1 0 -3 0M504.5 311.5a1.5 1.5 0 1 0 3 0a1.5 1.5 0 1 0 -3 0M501.3 334.3a1.5 1.5 0 1 0 3 0a1.5 1.5 0 1 0 -3 0M505.6 292.5a1.5 1.5 0 1 0 3 0a1.5 1.5 0 1 0 -3 0M502.9 285.9a1.5 1.5 0 1 0 3 0a1.5 1.5 0 1 0 -3 0M501.6 279.6a1.5 1.5 0 1 0 3 0a1.5 1.5 0 1 0 -3 0M479.5 333.2a1.5 1.5 0 1 0 3 0a1.5 1.5 0 1 0 -3 0M506.7 291.7a1.5 1.5 0 1 0 3 0a1.5 1.5 0 1 0 -3 0M473.4 314.4a1.5 1.5 0 1 0 3 0a1.5 1.5 0 1 0 -3 0M496.1 331.8a1.5 1.5 0 1 0 3 0a1.5 1.5 0 1 0 -3 0M496.4 309a1.5 1.5 0 1 0 3 0a1.5 1.5 0 1 0 -3 0M501.1 311.4a1.5 1.5 0 1 0 3 0a1.5 1.5 0 1 0 -3 0M486.5 318.7a1.5 1.5 0 1 0 3 0a1.5 1.5 0 1 0 -3 0M494.2 302.3a1.5 1.5 0 1 0 3 0a1.5 1.5 0 1 0 -3 0M496.9 328.5a1.5 1.5 0 1 0 3 0a1.5 1.5 0 1 0 -3 0M502.5 302a1.5 1.5 0 1 0 3 0a1.5 1.5 0 1 0 -3 0M483.3 320.5a1.5 1.5 0 1 0 3 0a1.5 1.5 0 1 0 -3 0M509.5 313a1.5 1.5 0 1 0 3 0a1.5 1.5 0 1 0 -3 0M507.6 331.9a1.5 1.5 0 1 0 3 0a1.5 1.5 0 1 0 -3 0" fill="#F962EE" fill-opacity="0.18" stroke="#F962EE" stroke-opacity="0.34" stroke-width="0.8" filter="url(#f0)"/><path d="M479.5 303.1a1.5 1.5 0 1 0 3 0a1.5 1.5 0 1 0 -3 0M500.6 304.4a1.5 1.5 0 1 0 3 0a1.5 1.5 0 1 0 -3 0M509.3 273.8a1.5 1.5 0 1 0 3 0a1.5 1.5 0 1 0 -3 0M509.3 322.7a1.5 1.5 0 1 0 3 0a1.5 1.5 0 1 0 -3 0M506.8 283.1a1.5 1.5 0 1 0 3 0a1.5 1.5 0 1 0 -3 0M495.1 322.5a1.5 1.5 0 1 0 3 0a1.5 1.5 0 1 0 -3 0M476.4 306.8a1.5 1.5 0 1 0 3 0a1.5 1.5 0 1 0 -3 0M479.7 278.8a1.5 1.5 0 1 0 3 0a1.5 1.5 0 1 0 -3 0M503.8 300.6a1.5 1.5 0 1 0 3 0a1.5 1.5 0 1 0 -3 0M495.8 321.7a1.5 1.5 0 1 0 3 0a1.5 1.5 0 1 0 -3 0M473.9 303.3a1.5 1.5 0 1 0 3 0a1.5 1.5 0 1 0 -3 0M487.9 316.8a1.5 1.5 0 1 0 3 0a1.5 1.5 0 1 0 -3 0M489.3 326.9a1.5 1.5 0 1 0 3 0a1.5 1.5 0 1 0 -3 0M489.3 301.7a1.5 1.5 0 1 0 3 0a1.5 1.5 0 1 0 -3 0M498.6 285.4a1.5 1.5 0 1 0 3 0a1.5 1.5 0 1 0 -3 0M501.3 298a1.5 1.5 0 1 0 3 0a1.5 1.5 0 1 0 -3 0M496.4 289.4a1.5 1.5 0 1 0 3 0a1.5 1.5 0 1 0 -3 0M491 307a1.5 1.5 0 1 0 3 0a1.5 1.5 0 1 0 -3 0M502.5 292.6a1.5 1.5 0 1 0 3 0a1.5 1.5 0 1 0 -3 0M504 328.1a1.5 1.5 0 1 0 3 0a1.5 1.5 0 1 0 -3 0M491.9 337.4a1.5 1.5 0 1 0 3 0a1.5 1.5 0 1 0 -3 0M488.2 322.3a1.5 1.5 0 1 0 3 0a1.5 1.5 0 1 0 -3 0M501.6 277.1a1.5 1.5 0 1 0 3 0a1.5 1.5 0 1 0 -3 0M484 330.5a1.5 1.5 0 1 0 3 0a1.5 1.5 0 1 0 -3 0M475.6 274.2a1.5 1.5 0 1 0 3 0a1.5 1.5 0 1 0 -3 0M489.4 298.1a1.5 1.5 0 1 0 3 0a1.5 1.5 0 1 0 -3 0M493.5 325.1a1.5 1.5 0 1 0 3 0a1.5 1.5 0 1 0 -3 0M506.9 295.7a1.5 1.5 0 1 0 3 0a1.5 1.5 0 1 0 -3 0M484.4 276.7a1.5 1.5 0 1 0 3 0a1.5 1.5 0 1 0 -3 0M477.4 335.1a1.5 1.5 0 1 0 3 0a1.5 1.5 0 1 0 -3 0M474.1 281.1a1.5 1.5 0 1 0 3 0a1.5 1.5 0 1 0 -3 0M504.4 282.8a1.5 1.5 0 1 0 3 0a1.5 1.5 0 1 0 -3 0M497.6 329a1.5 1.5 0 1 0 3 0a1.5 1.5 0 1 0 -3 0M507.1 296.7a1.5 1.5 0 1 0 3 0a1.5 1.5 0 1 0 -3 0M493.3 283.9a1.5 1.5 0 1 0 3 0a1.5 1.5 0 1 0 -3 0M510.1 334.4a1.5 1.5 0 1 0 3 0a1.5 1.5 0 1 0 -3 0" fill="#00B0F6" fill-opacity="0.18" stroke="#00B0F6" stroke-opacity="0.34" stroke-width="0.8" filter="url(#f0)"/><path d="M534.6 343.2a1.5 1.5 0 1 0 3 0a1.5 1.5 0 1 0 -3 0M508.6 307.8a1.5 1.5 0 1 0 3 0a1.5 1.5 0 1 0 -3 0M527.6 316.3a1.5 1.5 0 1 0 3 0a1.5 1.5 0 1 0 -3 0M528.1 338.3a1.5 1.5 0 1 0 3 0a1.5 1.5 0 1 0 -3 0M503.9 340.7a1.5 1.5 0 1 0 3 0a1.5 1.5 0 1 0 -3 0M504.5 327.7a1.5 1.5 0 1 0 3 0a1.5 1.5 0 1 0 -3 0M531.4 316.3a1.5 1.5 0 1 0 3 0a1.5 1.5 0 1 0 -3 0M530.9 340.1a1.5 1.5 0 1 0 3 0a1.5 1.5 0 1 0 -3 0M536.2 339.4a1.5 1.5 0 1 0 3 0a1.5 1.5 0 1 0 -3 0M507.8 331.6a1.5 1.5 0 1 0 3 0a1.5 1.5 0 1 0 -3 0M530.9 338.5a1.5 1.5 0 1 0 3 0a1.5 1.5 0 1 0 -3 0M532 316.6a1.5 1.5 0 1 0 3 0a1.5 1.5 0 1 0 -3 0M532.6 331.5a1.5 1.5 0 1 0 3 0a1.5 1.5 0 1 0 -3 0M528.1 300.1a1.5 1.5 0 1 0 3 0a1.5 1.5 0 1 0 -3 0M525.6 321.7a1.5 1.5 0 1 0 3 0a1.5 1.5 0 1 0 -3 0M518.1 336.2a1.5 1.5 0 1 0 3 0a1.5 1.5 0 1 0 -3 0M517.6 316.8a1.5 1.5 0 1 0 3 0a1.5 1.5 0 1 0 -3 0M524.3 335.8a1.5 1.5 0 1 0 3 0a1.5 1.5 0 1 0 -3 0M530.1 334.2a1.5 1.5 0 1 0 3 0a1.5 1.5 0 1 0 -3 0M522.7 321.6a1.5 1.5 0 1 0 3 0a1.5 1.5 0 1 0 -3 0M510.5 321.3a1.5 1.5 0 1 0 3 0a1.5 1.5 0 1 0 -3 0M530.2 329.1a1.5 1.5 0 1 0 3 0a1.5 1.5 0 1 0 -3 0M529.1 305.8a1.5 1.5 0 1 0 3 0a1.5 1.5 0 1 0 -3 0M531.6 319.6a1.5 1.5 0 1 0 3 0a1.5 1.5 0 1 0 -3 0M511.3 302.7a1.5 1.5 0 1 0 3 0a1.5 1.5 0 1 0 -3 0M523.5 335a1.5 1.5 0 1 0 3 0a1.5 1.5 0 1 0 -3 0M527.1 307.5a1.5 1.5 0 1 0 3 0a1.5 1.5 0 1 0 -3 0M505.7 344.7a1.5 1.5 0 1 0 3 0a1.5 1.5 0 1 0 -3 0M508.1 311.3a1.5 1.5 0 1 0 3 0a1.5 1.5 0 1 0 -3 0M517 322.4a1.5 1.5 0 1 0 3 0a1.5 1.5 0 1 0 -3 0M517.1 312.7a1.5 1.5 0 1 0 3 0a1.5 1.5 0 1 0 -3 0M524.5 336.9a1.5 1.5 0 1 0 3 0a1.5 1.5 0 1 0 -3 0" fill="#F962EE" fill-opacity="0.17" stroke="#F962EE" stroke-opacity="0.33" stroke-width="0.8" filter="url(#f0)"/><path d="M512.9 325.7a1.5 1.5 0 1 0 3 0a1.5 1.5 0 1 0 -3 0M509.1 309.2a1.5 1.5 0 1 0 3 0a1.5 1.5 0 1 0 -3 0M514 335.2a1.5 1.5 0 1 0 3 0a1.5 1.5 0 1 0 -3 0M515 339.2a1.5 1.5 0 1 0 3 0a1.5 1.5 0 1 0 -3 0M529.2 327.5a1.5 1.5 0 1 0 3 0a1.5 1.5 0 1 0 -3 0M521.4 319.1a1.5 1.5 0 1 0 3 0a1.5 1.5 0 1 0 -3 0M520.3 313.1a1.5 1.5 0 1 0 3 0a1.5 1.5 0 1 0 -3 0M531.1 301.1a1.5 1.5 0 1 0 3 0a1.5 1.5 0 1 0 -3 0M537.1 339.5a1.5 1.5 0 1 0 3 0a1.5 1.5 0 1 0 -3 0M532.8 309.8a1.5 1.5 0 1 0 3 0a1.5 1.5 0 1 0 -3 0M535.6 304.6a1.5 1.5 0 1 0 3 0a1.5 1.5 0 1 0 -3 0M526.7 336.6a1.5 1.5 0 1 0 3 0a1.5 1.5 0 1 0 -3 0M516.9 301.5a1.5 1.5 0 1 0 3 0a1.5 1.5 0 1 0 -3 0M507.7 344.9a1.5 1.5 0 1 0 3 0a1.5 1.5 0 1 0 -3 0M535.9 329.1a1.5 1.5 0 1 0 3 0a1.5 1.5 0 1 0 -3 0M504.5 335.8a1.5 1.5 0 1 0 3 0a1.5 1.5 0 1 0 -3 0M536.8 327.3a1.5 1.5 0 1 0 3 0a1.5 1.5 0 1 0 -3 0M531.3 310.5a1.5 1.5 0 1 0 3 0a1.5 1.5 0 1 0 -3 0" fill="#00B0F6" fill-opacity="0.17" stroke="#00B0F6" stroke-opacity="0.33" stroke-width="0.8" filter="url(#f0)"/><rect x="434.5" y="273.3" width="14.5" height="81.7" fill="#F962EE" fill-opacity="0.7"/><rect x="434.5" y="290" width="14.5" height="65" fill="#F962EE" fill-opacity="0.8"/><rect x="449" y="273.3" width="28" height="81.7" fill="#F962EE" fill-opacity="0.45"/><rect x="449" y="300" width="28" height="55" fill="#F962EE" fill-opacity="0.5"/><rect x="449.5" y="273.3" width="3.6" height="81.7" rx="1.8" fill="#F962EE" fill-opacity="0.7"/><rect x="454.6" y="273.3" width="3.6" height="81.7" rx="1.8" fill="#F962EE" fill-opacity="0.65"/><rect x="461.8" y="273.3" width="3.6" height="81.7" rx="1.8" fill="#F962EE" fill-opacity="0.6"/><rect x="468.4" y="274" width="3.6" height="81" rx="1.8" fill="#F962EE" fill-opacity="0.55"/><rect x="475.7" y="273.3" width="3.6" height="81.7" rx="1.8" fill="#F962EE" fill-opacity="0.5"/><rect x="482.2" y="276" width="3.6" height="79" rx="1.8" fill="#F962EE" fill-opacity="0.35"/><rect x="486.6" y="276" width="3.6" height="79" rx="1.8" fill="#F962EE" fill-opacity="0.35"/><rect x="493.8" y="280" width="3.6" height="75" rx="1.8" fill="#F962EE" fill-opacity="0.3"/><rect x="502.7" y="273.3" width="3.6" height="81.7" rx="1.8" fill="#F962EE" fill-opacity="0.45"/><path d="M482.5 289.4a1.5 1.5 0 1 0 3 0a1.5 1.5 0 1 0 -3 0M470.7 315.3a1.5 1.5 0 1 0 3 0a1.5 1.5 0 1 0 -3 0M463.8 307a1.5 1.5 0 1 0 3 0a1.5 1.5 0 1 0 -3 0M453.7 328a1.5 1.5 0 1 0 3 0a1.5 1.5 0 1 0 -3 0M443.2 302.2a1.5 1.5 0 1 0 3 0a1.5 1.5 0 1 0 -3 0M442.3 313.3a1.5 1.5 0 1 0 3 0a1.5 1.5 0 1 0 -3 0M483.4 283.2a1.5 1.5 0 1 0 3 0a1.5 1.5 0 1 0 -3 0M488.4 328.3a1.5 1.5 0 1 0 3 0a1.5 1.5 0 1 0 -3 0M449.4 292.6a1.5 1.5 0 1 0 3 0a1.5 1.5 0 1 0 -3 0M434.6 297.8a1.5 1.5 0 1 0 3 0a1.5 1.5 0 1 0 -3 0M474.2 290.4a1.5 1.5 0 1 0 3 0a1.5 1.5 0 1 0 -3 0M438.9 316.2a1.5 1.5 0 1 0 3 0a1.5 1.5 0 1 0 -3 0M449.1 329.7a1.5 1.5 0 1 0 3 0a1.5 1.5 0 1 0 -3 0M481 298.9a1.5 1.5 0 1 0 3 0a1.5 1.5 0 1 0 -3 0M486.1 301a1.5 1.5 0 1 0 3 0a1.5 1.5 0 1 0 -3 0M477 294.6a1.5 1.5 0 1 0 3 0a1.5 1.5 0 1 0 -3 0M463.8 313a1.5 1.5 0 1 0 3 0a1.5 1.5 0 1 0 -3 0M483.9 303.6a1.5 1.5 0 1 0 3 0a1.5 1.5 0 1 0 -3 0M487.7 296.8a1.5 1.5 0 1 0 3 0a1.5 1.5 0 1 0 -3 0M493.4 317a1.5 1.5 0 1 0 3 0a1.5 1.5 0 1 0 -3 0M495.9 326.1a1.5 1.5 0 1 0 3 0a1.5 1.5 0 1 0 -3 0M488.9 320.4a1.5 1.5 0 1 0 3 0a1.5 1.5 0 1 0 -3 0M456.8 326a1.5 1.5 0 1 0 3 0a1.5 1.5 0 1 0 -3 0M435.5 324.4a1.5 1.5 0 1 0 3 0a1.5 1.5 0 1 0 -3 0M455.5 284.3a1.5 1.5 0 1 0 3 0a1.5 1.5 0 1 0 -3 0M481.3 281.7a1.5 1.5 0 1 0 3 0a1.5 1.5 0 1 0 -3 0M473.7 325.1a1.5 1.5 0 1 0 3 0a1.5 1.5 0 1 0 -3 0M498.3 294.4a1.5 1.5 0 1 0 3 0a1.5 1.5 0 1 0 -3 0M451.3 282a1.5 1.5 0 1 0 3 0a1.5 1.5 0 1 0 -3 0M462.1 321.3a1.5 1.5 0 1 0 3 0a1.5 1.5 0 1 0 -3 0M449.1 288.1a1.5 1.5 0 1 0 3 0a1.5 1.5 0 1 0 -3 0M494.6 287.6a1.5 1.5 0 1 0 3 0a1.5 1.5 0 1 0 -3 0M457.4 328.3a1.5 1.5 0 1 0 3 0a1.5 1.5 0 1 0 -3 0M444 295.5a1.5 1.5 0 1 0 3 0a1.5 1.5 0 1 0 -3 0M478 285a1.5 1.5 0 1 0 3 0a1.5 1.5 0 1 0 -3 0" fill="#00B0F6" fill-opacity="0.17" stroke="#00B0F6" stroke-opacity="0.33" stroke-width="0.8" filter="url(#f0)"/><path d="M433 342.5L434.5 342.5L436 342.4L437.5 342.4L439 342.4L440.5 342.3L442 342.3L443.5 342.3L445 342.3L446.5 342.2L448 342.2L449.5 342.2L451 342.2L452.5 342.1L454 342.1L455.5 342.1L457 342L458.5 342L460 342L461.5 342L463 341.9L464.5 341.9L466 341.9L467.5 341.8L469 341.8L470.5 341.8L472 341.7L473.5 341.7L475 341.7L476.5 341.6L478 341.6L479.5 341.5L481 341.5L482.5 341.5L484 341.4L485.5 341.4L487 341.3L488.5 341.3L490 341.3L491.5 341.2L493 341.2L494.5 341.2L496 341.1L497.5 341.1L499 341.1L500.5 341.1L502 341L503.5 341L505 341L506 341L506 353.8L505 353.8L503.5 353.8L502 353.8L500.5 353.8L499 353.8L497.5 353.8L496 353.8L494.5 353.8L493 353.8L491.5 353.8L490 353.8L488.5 353.8L487 353.8L485.5 353.8L484 353.8L482.5 353.8L481 353.8L479.5 353.8L478 353.8L476.5 353.8L475 353.8L473.5 353.8L472 353.8L470.5 353.8L469 353.8L467.5 353.8L466 353.8L464.5 353.8L463 353.8L461.5 353.8L460 353.8L458.5 353.8L457 353.8L455.5 353.8L454 353.8L452.5 353.8L451 353.8L449.5 353.8L448 353.8L446.5 353.8L445 353.8L443.5 353.8L442 353.8L440.5 353.8L439 353.8L437.5 353.8L436 353.8L434.5 353.8L433 353.8Z" fill="#00B0F6" fill-opacity="0.9"/><path d="M433 347.1L434.5 347.1L436 347.1L437.5 347.1L439 347.1L440.5 347.1L442 347.1L443.5 347.1L445 347.1L446.5 347.1L448 347.1L449.5 347.1L451 347.1L452.5 347.1L454 347.1L455.5 347.1L457 347.1L458.5 347.1L460 347.1L461.5 347.1L463 347.1L464.5 347.1L466 347.1L467.5 347.1L469 347.1L470.5 347.1L472 347.1L473.5 347.1L475 347.1L476.5 347.1L478 347.1L479.5 347.1L481 347.1L482.5 347.1L484 347.1L485.5 347.1L487 347.1L488.5 347.1L490 347.1L491.5 347.1L493 347.1L494.5 347.1L496 347.1L497.5 347.1L499 347.1L500.5 347.1L502 347.1L503.5 347.1L505 347.1L506 347.1L506 353.8L505 353.8L503.5 353.8L502 353.8L500.5 353.8L499 353.8L497.5 353.8L496 353.8L494.5 353.8L493 353.8L491.5 353.8L490 353.8L488.5 353.8L487 353.8L485.5 353.8L484 353.8L482.5 353.8L481 353.8L479.5 353.8L478 353.8L476.5 353.8L475 353.8L473.5 353.8L472 353.8L470.5 353.8L469 353.8L467.5 353.8L466 353.8L464.5 353.8L463 353.8L461.5 353.8L460 353.8L458.5 353.8L457 353.8L455.5 353.8L454 353.8L452.5 353.8L451 353.8L449.5 353.8L448 353.8L446.5 353.8L445 353.8L443.5 353.8L442 353.8L440.5 353.8L439 353.8L437.5 353.8L436 353.8L434.5 353.8L433 353.8Z" fill="#00BF7D" fill-opacity="0.9"/><path d="M433 350L434.5 350L436 350L437.5 350L439 350L440.5 350L442 350L443.5 350L445 350L446.5 350L448 350L449.5 350L451 350L452.5 350L454 350L455.5 350L457 350L458.5 350L460 350L461.5 350L463 350L464.5 350L466 350L467.5 350L469 350L470.5 350L472 350L473.5 350L475 350L476.5 350L478 350L479.5 350L481 350L482.5 350L484 350L485.5 350L487 350L488.5 350L490 350L491.5 350L493 350L494.5 350L496 350L497.5 350L499 350L500.5 350L502 350L503.5 350L505 350L506 350L506 353.8L505 353.8L503.5 353.8L502 353.8L500.5 353.8L499 353.8L497.5 353.8L496 353.8L494.5 353.8L493 353.8L491.5 353.8L490 353.8L488.5 353.8L487 353.8L485.5 353.8L484 353.8L482.5 353.8L481 353.8L479.5 353.8L478 353.8L476.5 353.8L475 353.8L473.5 353.8L472 353.8L470.5 353.8L469 353.8L467.5 353.8L466 353.8L464.5 353.8L463 353.8L461.5 353.8L460 353.8L458.5 353.8L457 353.8L455.5 353.8L454 353.8L452.5 353.8L451 353.8L449.5 353.8L448 353.8L446.5 353.8L445 353.8L443.5 353.8L442 353.8L440.5 353.8L439 353.8L437.5 353.8L436 353.8L434.5 353.8L433 353.8Z" fill="#A3A500" fill-opacity="0.75"/><path d="M433 351.8L434.5 351.8L436 351.8L437.5 351.8L439 351.8L440.5 351.8L442 351.8L443.5 351.8L445 351.8L446.5 351.8L448 351.8L449.5 351.8L451 351.8L452.5 351.8L454 351.8L455.5 351.8L457 351.8L458.5 351.8L460 351.8L461.5 351.8L463 351.8L464.5 351.8L466 351.8L467.5 351.8L469 351.8L470.5 351.8L472 351.8L473.5 351.8L475 351.8L476.5 351.8L478 351.8L479.5 351.8L481 351.8L482.5 351.8L484 351.8L485.5 351.8L487 351.8L488.5 351.8L490 351.8L491.5 351.8L493 351.8L494.5 351.8L496 351.8L497.5 351.8L499 351.8L500.5 351.8L502 351.8L503.5 351.8L505 351.8L506 351.8L506 353.8L505 353.8L503.5 353.8L502 353.8L500.5 353.8L499 353.8L497.5 353.8L496 353.8L494.5 353.8L493 353.8L491.5 353.8L490 353.8L488.5 353.8L487 353.8L485.5 353.8L484 353.8L482.5 353.8L481 353.8L479.5 353.8L478 353.8L476.5 353.8L475 353.8L473.5 353.8L472 353.8L470.5 353.8L469 353.8L467.5 353.8L466 353.8L464.5 353.8L463 353.8L461.5 353.8L460 353.8L458.5 353.8L457 353.8L455.5 353.8L454 353.8L452.5 353.8L451 353.8L449.5 353.8L448 353.8L446.5 353.8L445 353.8L443.5 353.8L442 353.8L440.5 353.8L439 353.8L437.5 353.8L436 353.8L434.5 353.8L433 353.8Z" fill="#F8766D" fill-opacity="0.85"/><rect x="509.2" y="341" width="3.5" height="6.2" rx="1.8" fill="#00B0F6" fill-opacity="0.5"/><rect x="509.2" y="347.1" width="3.5" height="2.8" rx="1.4" fill="#00BF7D" fill-opacity="0.5"/><rect x="509.2" y="350" width="3.5" height="1.6" rx="0.8" fill="#A3A500" fill-opacity="0.4"/><rect x="509.2" y="351.6" width="3.5" height="2.2" rx="1.1" fill="#F8766D" fill-opacity="0.5"/><rect x="516.2" y="341.1" width="3.5" height="6" rx="1.8" fill="#00B0F6" fill-opacity="0.5"/><rect x="516.2" y="347.1" width="3.5" height="2.8" rx="1.4" fill="#00BF7D" fill-opacity="0.5"/><rect x="516.2" y="350" width="3.5" height="1.6" rx="0.8" fill="#A3A500" fill-opacity="0.4"/><rect x="516.2" y="351.6" width="3.5" height="2.2" rx="1.1" fill="#F8766D" fill-opacity="0.5"/><rect x="523.2" y="341.6" width="3.5" height="5.6" rx="1.8" fill="#00B0F6" fill-opacity="0.5"/><rect x="523.2" y="347.1" width="3.5" height="2.8" rx="1.4" fill="#00BF7D" fill-opacity="0.5"/><rect x="523.2" y="350" width="3.5" height="1.6" rx="0.8" fill="#A3A500" fill-opacity="0.4"/><rect x="523.2" y="351.6" width="3.5" height="2.2" rx="1.1" fill="#F8766D" fill-opacity="0.5"/><rect x="530.2" y="342.1" width="3.5" height="5" rx="1.8" fill="#00B0F6" fill-opacity="0.5"/><rect x="530.2" y="347.1" width="3.5" height="2.8" rx="1.4" fill="#00BF7D" fill-opacity="0.5"/><rect x="530.2" y="350" width="3.5" height="1.6" rx="0.8" fill="#A3A500" fill-opacity="0.4"/><rect x="530.2" y="351.6" width="3.5" height="2.2" rx="1.1" fill="#F8766D" fill-opacity="0.5"/><rect x="536.2" y="342.6" width="3.5" height="4.6" rx="1.8" fill="#00B0F6" fill-opacity="0.5"/><rect x="536.2" y="347.1" width="3.5" height="2.8" rx="1.4" fill="#00BF7D" fill-opacity="0.5"/><rect x="536.2" y="350" width="3.5" height="1.6" rx="0.8" fill="#A3A500" fill-opacity="0.4"/><rect x="536.2" y="351.6" width="3.5" height="2.2" rx="1.1" fill="#F8766D" fill-opacity="0.5"/><rect x="423.3" y="273.3" width="3.6" height="69.3" rx="1.8" fill="#F962EE" fill-opacity="0.95"/><rect x="423.3" y="342.6" width="3.6" height="4.5" rx="1.8" fill="#00B0F6" fill-opacity="0.9"/><rect x="423.3" y="347.1" width="3.6" height="2.8" rx="1.4" fill="#00BF7D" fill-opacity="0.9"/><rect x="423.3" y="350" width="3.6" height="1.6" rx="0.8" fill="#A3A500" fill-opacity="0.7200000000000001"/><rect x="423.3" y="351.6" width="3.6" height="2.2" rx="1.1" fill="#F8766D" fill-opacity="0.9"/><path d="M425.3 326.9L426.9 327.5L428.4 328.1L430 328.4L432 328.5L434 328.6L435.6 328.6L437.2 328.5L438.8 328.4L440.4 328.2L442 328L443.6 327.8L445.2 327.6L446.8 327.4L448.4 327.2L450 327L451.5 326.8L453.1 326.6L454.6 326.4L456.2 326.2L457.7 325.9L459.2 325.7L460.8 325.5L462.3 325.2L463.8 325L465.4 324.7L466.9 324.5L468.5 324.2L470 324L471.5 323.8L473.1 323.5L474.6 323.2L476.2 323L477.7 322.7L479.3 322.5L480.8 322.2L482.4 322L483.9 321.8L485.5 321.6L487 321.5L488.6 321.4L490.2 321.3L491.8 321.1L493.4 321L495 320.9L496.5 320.8L498.1 320.8L499.7 320.7L501.3 320.6L502.9 320.6L504.5 320.6L506.1 320.6L507.6 320.7L509.2 320.8L510.8 321L512.4 321.1L514 321.4L515.5 321.6L517.1 321.8L518.7 322.1L520.2 322.4L521.8 322.6L523.4 322.9L524.9 323.2L526.5 323.5L528 323.9L529.5 324.3L531 324.7L532.6 325.2L534.1 325.6L535.6 326.1L537.2 326.5L538.7 326.9" stroke="#F962EE" stroke-width="1.75" fill="none" stroke-linejoin="round" stroke-linecap="round"/><path d="M425.3 335.2L426.8 335.2L428.3 335.2L429.8 335.2L431.3 335.2L432.8 335.2L434.3 335.2L435.8 335.2L437.4 335.2L438.9 335.2L440.4 335.2L441.9 335.2L443.4 335.2L444.9 335.2L446.4 335.2L447.9 335.2L449.4 335.2L450.9 335.2L452.5 335.2L454 335.2L455.6 335.1L457.2 335.1L458.8 335L460.3 334.9L461.9 334.7L463.5 334.6L465.1 334.5L466.6 334.3L468.2 334.2L469.8 334L471.4 333.9L472.9 333.8L474.5 333.6L476.1 333.5L477.7 333.5L479.2 333.4L480.8 333.3L482.4 333.2L484 333.1L485.5 333L487.1 332.9L488.7 332.8L490.3 332.8L491.8 332.7L493.4 332.6L495 332.6L496.6 332.5L498.2 332.5L499.7 332.4L501.3 332.4L502.9 332.4L504.5 332.4L506 332.4L507.6 332.4L509.2 332.5L510.8 332.5L512.3 332.6L513.9 332.7L515.5 332.9L517.1 333L518.6 333.1L520.2 333.3L521.8 333.4L523.4 333.5L524.9 333.7L526.4 333.9L528 334.1L529.5 334.4L531 334.6L532.6 334.9L534.1 335.1L535.7 335.4L537.2 335.7L538.7 335.9" stroke="#00B0F6" stroke-width="1.75" fill="none" stroke-linejoin="round" stroke-linecap="round"/><path d="M425.3 341.8L426.8 341.8L428.3 341.8L429.8 341.7L431.3 341.7L432.8 341.7L434.3 341.7L435.8 341.6L437.3 341.6L438.8 341.6L440.3 341.5L441.8 341.5L443.3 341.5L444.8 341.5L446.3 341.4L447.8 341.4L449.3 341.4L450.8 341.4L452.3 341.3L453.8 341.3L455.3 341.3L456.8 341.2L458.3 341.2L459.8 341.2L461.3 341.2L462.8 341.1L464.3 341.1L465.8 341.1L467.3 341L468.8 341L470.4 341L471.9 340.9L473.4 340.9L474.9 340.9L476.5 340.8L478 340.8L479.5 340.7L481 340.7L482.6 340.7L484.1 340.6L485.6 340.6L487.1 340.5L488.7 340.5L490.2 340.5L491.7 340.4L493.2 340.4L494.8 340.4L496.3 340.3L497.8 340.3L499.3 340.3L500.9 340.3L502.4 340.2L503.9 340.2L505.4 340.2L507 340.2L508.5 340.2L510 340.2L511.5 340.2L513.1 340.2L514.6 340.2L516.1 340.2L517.6 340.3L519.1 340.4L520.6 340.5L522.1 340.6L523.6 340.7L525.1 340.8L526.6 340.9L528.2 341L529.7 341.1L531.2 341.3L532.7 341.4L534.2 341.5L535.7 341.6L537.2 341.7L538.7 341.8" stroke="#00BF7D" stroke-width="1.75" fill="none" stroke-linejoin="round" stroke-linecap="round"/><path d="M425.3 346.5L538.7 346.5" stroke="#A3A500" stroke-width="1.75" fill="none" stroke-linejoin="round" stroke-linecap="round"/><path d="M425.3 349.4L538.7 349.4" stroke="#F8766D" stroke-width="1.75" fill="none" stroke-linejoin="round" stroke-linecap="round"/>
</g>
<rect x="419" y="252.6" width="124" height="16" fill="#D9D9D9"/>
<text x="481" y="264.9" class="st">v_ceodirector</text>
<text x="425.1" y="370.2" class="tx">0.0</text>
<text x="456.7" y="370.2" class="tx">0.2</text>
<text x="488.4" y="370.2" class="tx">0.4</text>
<text x="520" y="370.2" class="tx">0.6</text>
<path d="M425.1 356.6v2.9M456.7 356.6v2.9M488.4 356.6v2.9M520 356.6v2.9" stroke="#333333" stroke-width="1.05" fill="none"/>
<rect x="31" y="391.9" width="124" height="88" fill="#EBEBEB"/>
<path d="M53.4 391.9V479.9M87.2 391.9V479.9M120.9 391.9V479.9M154.7 391.9V479.9M31 475H155M31 452.8H155M31 430.7H155M31 408.6H155" stroke="#F7F7F7" stroke-width="0.55" fill="none"/>
<path d="M36.5 391.9V479.9M70.3 391.9V479.9M104 391.9V479.9M137.8 391.9V479.9M31 463.9H155M31 441.8H155M31 419.6H155M31 397.5H155" stroke="#FFFFFF" stroke-width="1.05" fill="none"/>
<g clip-path="url(#c12)">
<rect x="34.5" y="395.6" width="3.6" height="71.6" fill="#F962EE"/><rect x="34.5" y="467.2" width="3.6" height="4" fill="#00B0F6"/><rect x="34.5" y="471.2" width="3.6" height="2.4" fill="#00BF7D"/><rect x="34.5" y="473.6" width="3.6" height="1.9" fill="#A3A500"/><rect x="34.5" y="475.5" width="3.6" height="1.9" fill="#F8766D"/><path d="M87.4 456.6a1.6 1.6 0 1 0 3.2 0a1.6 1.6 0 1 0 -3.2 0M87.4 458.9a1.6 1.6 0 1 0 3.2 0a1.6 1.6 0 1 0 -3.2 0M87.4 461.3a1.6 1.6 0 1 0 3.2 0a1.6 1.6 0 1 0 -3.2 0M91.4 448.3a1.6 1.6 0 1 0 3.2 0a1.6 1.6 0 1 0 -3.2 0M91.4 456.6a1.6 1.6 0 1 0 3.2 0a1.6 1.6 0 1 0 -3.2 0M96.6 443.6a1.6 1.6 0 1 0 3.2 0a1.6 1.6 0 1 0 -3.2 0M96.6 450.6a1.6 1.6 0 1 0 3.2 0a1.6 1.6 0 1 0 -3.2 0M96.6 454.2a1.6 1.6 0 1 0 3.2 0a1.6 1.6 0 1 0 -3.2 0M96.6 458.9a1.6 1.6 0 1 0 3.2 0a1.6 1.6 0 1 0 -3.2 0M96.6 461.3a1.6 1.6 0 1 0 3.2 0a1.6 1.6 0 1 0 -3.2 0M102.5 456.6a1.6 1.6 0 1 0 3.2 0a1.6 1.6 0 1 0 -3.2 0M110.3 424.6a1.6 1.6 0 1 0 3.2 0a1.6 1.6 0 1 0 -3.2 0M110.3 435.3a1.6 1.6 0 1 0 3.2 0a1.6 1.6 0 1 0 -3.2 0M110.3 445.9a1.6 1.6 0 1 0 3.2 0a1.6 1.6 0 1 0 -3.2 0M110.3 448.3a1.6 1.6 0 1 0 3.2 0a1.6 1.6 0 1 0 -3.2 0M132.1 405.7a1.6 1.6 0 1 0 3.2 0a1.6 1.6 0 1 0 -3.2 0M132.1 454.2a1.6 1.6 0 1 0 3.2 0a1.6 1.6 0 1 0 -3.2 0M148.1 455.4a1.6 1.6 0 1 0 3.2 0a1.6 1.6 0 1 0 -3.2 0M148.1 458.9a1.6 1.6 0 1 0 3.2 0a1.6 1.6 0 1 0 -3.2 0" fill="#F962EE" fill-opacity="0.24" stroke="#F962EE" stroke-opacity="0.45" stroke-width="0.8" filter="url(#f0)"/><path d="M87.4 462.5a1.6 1.6 0 1 0 3.2 0a1.6 1.6 0 1 0 -3.2 0M87.4 464.8a1.6 1.6 0 1 0 3.2 0a1.6 1.6 0 1 0 -3.2 0M87.4 467.2a1.6 1.6 0 1 0 3.2 0a1.6 1.6 0 1 0 -3.2 0M91.4 458.9a1.6 1.6 0 1 0 3.2 0a1.6 1.6 0 1 0 -3.2 0M91.4 461.3a1.6 1.6 0 1 0 3.2 0a1.6 1.6 0 1 0 -3.2 0M91.4 463.7a1.6 1.6 0 1 0 3.2 0a1.6 1.6 0 1 0 -3.2 0M91.4 466a1.6 1.6 0 1 0 3.2 0a1.6 1.6 0 1 0 -3.2 0M96.6 463.7a1.6 1.6 0 1 0 3.2 0a1.6 1.6 0 1 0 -3.2 0M96.6 466a1.6 1.6 0 1 0 3.2 0a1.6 1.6 0 1 0 -3.2 0M102.5 462.5a1.6 1.6 0 1 0 3.2 0a1.6 1.6 0 1 0 -3.2 0M110.3 440a1.6 1.6 0 1 0 3.2 0a1.6 1.6 0 1 0 -3.2 0M110.3 454.2a1.6 1.6 0 1 0 3.2 0a1.6 1.6 0 1 0 -3.2 0M110.3 464.8a1.6 1.6 0 1 0 3.2 0a1.6 1.6 0 1 0 -3.2 0M132.1 430.6a1.6 1.6 0 1 0 3.2 0a1.6 1.6 0 1 0 -3.2 0M132.1 461.3a1.6 1.6 0 1 0 3.2 0a1.6 1.6 0 1 0 -3.2 0M148.1 462.5a1.6 1.6 0 1 0 3.2 0a1.6 1.6 0 1 0 -3.2 0" fill="#00B0F6" fill-opacity="0.24" stroke="#00B0F6" stroke-opacity="0.45" stroke-width="0.8" filter="url(#f0)"/><path d="M87.4 468.4a1.6 1.6 0 1 0 3.2 0a1.6 1.6 0 1 0 -3.2 0M87.4 470.7a1.6 1.6 0 1 0 3.2 0a1.6 1.6 0 1 0 -3.2 0M91.4 468.4a1.6 1.6 0 1 0 3.2 0a1.6 1.6 0 1 0 -3.2 0M96.6 469.6a1.6 1.6 0 1 0 3.2 0a1.6 1.6 0 1 0 -3.2 0M110.3 457.7a1.6 1.6 0 1 0 3.2 0a1.6 1.6 0 1 0 -3.2 0M110.3 462.5a1.6 1.6 0 1 0 3.2 0a1.6 1.6 0 1 0 -3.2 0M132.1 449.5a1.6 1.6 0 1 0 3.2 0a1.6 1.6 0 1 0 -3.2 0M132.1 466a1.6 1.6 0 1 0 3.2 0a1.6 1.6 0 1 0 -3.2 0M148.1 466a1.6 1.6 0 1 0 3.2 0a1.6 1.6 0 1 0 -3.2 0" fill="#00BF7D" fill-opacity="0.24" stroke="#00BF7D" stroke-opacity="0.45" stroke-width="0.8" filter="url(#f0)"/><path d="M87.4 473.1a1.6 1.6 0 1 0 3.2 0a1.6 1.6 0 1 0 -3.2 0M91.4 473.1a1.6 1.6 0 1 0 3.2 0a1.6 1.6 0 1 0 -3.2 0M96.6 473.1a1.6 1.6 0 1 0 3.2 0a1.6 1.6 0 1 0 -3.2 0M102.5 470.7a1.6 1.6 0 1 0 3.2 0a1.6 1.6 0 1 0 -3.2 0M110.3 470.7a1.6 1.6 0 1 0 3.2 0a1.6 1.6 0 1 0 -3.2 0M110.3 473.1a1.6 1.6 0 1 0 3.2 0a1.6 1.6 0 1 0 -3.2 0M132.1 471.9a1.6 1.6 0 1 0 3.2 0a1.6 1.6 0 1 0 -3.2 0M148.1 473.1a1.6 1.6 0 1 0 3.2 0a1.6 1.6 0 1 0 -3.2 0" fill="#F8766D" fill-opacity="0.24" stroke="#F8766D" stroke-opacity="0.45" stroke-width="0.8" filter="url(#f0)"/><path d="M91.4 470.7a1.6 1.6 0 1 0 3.2 0a1.6 1.6 0 1 0 -3.2 0M96.6 471.2a1.6 1.6 0 1 0 3.2 0a1.6 1.6 0 1 0 -3.2 0M102.5 466a1.6 1.6 0 1 0 3.2 0a1.6 1.6 0 1 0 -3.2 0M110.3 468.4a1.6 1.6 0 1 0 3.2 0a1.6 1.6 0 1 0 -3.2 0M132.1 468.4a1.6 1.6 0 1 0 3.2 0a1.6 1.6 0 1 0 -3.2 0M148.1 469.6a1.6 1.6 0 1 0 3.2 0a1.6 1.6 0 1 0 -3.2 0" fill="#A3A500" fill-opacity="0.24" stroke="#A3A500" stroke-opacity="0.45" stroke-width="0.8" filter="url(#f0)"/>
</g>
<rect x="31" y="375.9" width="124" height="16" fill="#D9D9D9"/>
<text x="93" y="388.2" class="st">v_financialoutpct</text>
<text x="36.5" y="493.5" class="tx">0.00</text>
<text x="70.3" y="493.5" class="tx">0.05</text>
<text x="104" y="493.5" class="tx">0.10</text>
<text x="137.8" y="493.5" class="tx">0.15</text>
<text x="27" y="467.1" class="ty">2</text>
<text x="27" y="445" class="ty">4</text>
<text x="27" y="422.8" class="ty">6</text>
<text x="27" y="400.7" class="ty">8</text>
<path d="M36.5 479.9v2.9M70.3 479.9v2.9M104 479.9v2.9M137.8 479.9v2.9M28.4 463.9h2.6M28.4 441.8h2.6M28.4 419.6h2.6M28.4 397.5h2.6" stroke="#333333" stroke-width="1.05" fill="none"/>
<text x="283.5" y="501.5" class="tt">x<tspan font-size="7.3px" dy="2.6">k</tspan></text>
<text transform="translate(13.6,279.2) rotate(-90)" class="tt" style="font-size:10.2px">Q(y|x<tspan font-size="7px" dy="1.9">1</tspan><tspan dy="-1.9">,...,x</tspan><tspan font-size="7px" dy="1.9">p</tspan><tspan dy="-1.9">)</tspan></text>
<text x="173.6" y="535.5" class="tt">alpha</text>
<rect x="202.7" y="522.5" width="16" height="16" fill="#F2F2F2"/>
<path d="M204.3 530.5h12.8" stroke="#F8766D" stroke-width="1.6"/>
<text x="224.5" y="533.6" class="lg">0.1</text>
<rect x="241.8" y="522.5" width="16" height="16" fill="#F2F2F2"/>
<path d="M243.4 530.5h12.8" stroke="#A3A500" stroke-width="1.6"/>
<text x="263.3" y="533.6" class="lg">0.25</text>
<rect x="285.5" y="522.5" width="16" height="16" fill="#F2F2F2"/>
<path d="M287.1 530.5h12.8" stroke="#00BF7D" stroke-width="1.6"/>
<text x="306.4" y="533.6" class="lg">0.5</text>
<rect x="324" y="522.5" width="16" height="16" fill="#F2F2F2"/>
<path d="M325.6 530.5h12.8" stroke="#00B0F6" stroke-width="1.6"/>
<text x="345.8" y="533.6" class="lg">0.75</text>
<rect x="368.2" y="522.5" width="16" height="16" fill="#F2F2F2"/>
<path d="M369.8 530.5h12.8" stroke="#F962EE" stroke-width="1.6"/>
<text x="388.7" y="533.6" class="lg">0.9</text>
</svg></body></html>
